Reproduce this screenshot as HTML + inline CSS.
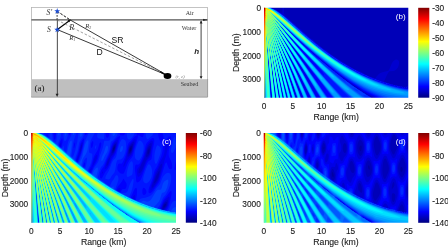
<!DOCTYPE html><html><head><meta charset="utf-8"><title>Lloyd mirror figure</title><style>html,body{margin:0;padding:0;background:#fff}svg{display:block}text{font-family:"Liberation Sans",Arial,sans-serif}.s text{font-family:"Liberation Serif","Times New Roman",serif}</style></head><body><svg width="448" height="252" viewBox="0 0 448 252"><defs><linearGradient id="jetg" x1="0" y1="0" x2="0" y2="1"><stop offset="0.0000" stop-color="#800000"/><stop offset="0.0312" stop-color="#9f0000"/><stop offset="0.0625" stop-color="#bf0000"/><stop offset="0.0938" stop-color="#df0000"/><stop offset="0.1250" stop-color="#f00"/><stop offset="0.1562" stop-color="#ff2000"/><stop offset="0.1875" stop-color="#ff4000"/><stop offset="0.2188" stop-color="#ff6000"/><stop offset="0.2500" stop-color="#ff8000"/><stop offset="0.2812" stop-color="#ff9f00"/><stop offset="0.3125" stop-color="#ffbf00"/><stop offset="0.3438" stop-color="#ffdf00"/><stop offset="0.3750" stop-color="#ff0"/><stop offset="0.4062" stop-color="#dfff20"/><stop offset="0.4375" stop-color="#bfff40"/><stop offset="0.4688" stop-color="#9fff60"/><stop offset="0.5000" stop-color="#80ff80"/><stop offset="0.5312" stop-color="#60ff9f"/><stop offset="0.5625" stop-color="#40ffbf"/><stop offset="0.5938" stop-color="#20ffdf"/><stop offset="0.6250" stop-color="#0ff"/><stop offset="0.6562" stop-color="#00dfff"/><stop offset="0.6875" stop-color="#00bfff"/><stop offset="0.7188" stop-color="#009fff"/><stop offset="0.7500" stop-color="#0080ff"/><stop offset="0.7812" stop-color="#0060ff"/><stop offset="0.8125" stop-color="#0040ff"/><stop offset="0.8438" stop-color="#0020ff"/><stop offset="0.8750" stop-color="#00f"/><stop offset="0.9062" stop-color="#0000df"/><stop offset="0.9375" stop-color="#0000bf"/><stop offset="0.9688" stop-color="#00009f"/><stop offset="1.0000" stop-color="#000080"/></linearGradient><linearGradient id="strip" x1="0" y1="0" x2="0" y2="1"><stop offset="0.00" stop-color="#9e0000" stop-opacity="1.00"/><stop offset="0.04" stop-color="#e50000" stop-opacity="1.00"/><stop offset="0.12" stop-color="#ff3800" stop-opacity="1.00"/><stop offset="0.25" stop-color="#ff8a00" stop-opacity="0.95"/><stop offset="0.45" stop-color="#ffc700" stop-opacity="0.85"/><stop offset="0.70" stop-color="#faff05" stop-opacity="0.70"/><stop offset="1.00" stop-color="#b3ff4c" stop-opacity="0.50"/></linearGradient></defs><rect width="448" height="252" fill="#fff"/><rect x="31.4" y="7.4" width="176.2" height="89.5" fill="#fff" stroke="#b4b4b4" stroke-width="0.8"/><rect x="31.8" y="79.2" width="175.4" height="17.5" fill="#bfbfbf"/><path d="M31.4 97H207.6V79" fill="none" stroke="#9a9a9a" stroke-width="0.9"/><path d="M31.4 19.9H207.6" stroke="#555" stroke-width="1.3"/><path d="M57.35 20V95" stroke="#333" stroke-width="0.9"/><path d="M57.1 12V20" stroke="#222" stroke-width="0.9" stroke-dasharray="1.8 1.2"/><path d="M55.6 93.8L57.1 96.9L58.6 93.8z" fill="#222"/><path d="M201.1 21V78" stroke="#444" stroke-width="1"/><path d="M199.7 23.4L201.1 20.4L202.5 23.4z" fill="#222"/><path d="M199.7 76.2L201.1 79.1L202.5 76.2z" fill="#222"/><path d="M203 19.9H207" stroke="#222" stroke-width="0.9"/><path d="M203.2 18.8L205.6 19.9L203.2 21z" fill="#222"/><path d="M57.1 11.2L70.3 20" stroke="#111" stroke-width="1" stroke-dasharray="2.6 1.4"/><path d="M57.1 29.8L70.3 20" stroke="#000" stroke-width="1.1"/><path d="M70.9 19.4L67.6 20.2L69.2 22.3z" fill="#111"/><path d="M70.3 20L163.2 73" stroke="#222" stroke-width="0.9"/><path d="M57.1 29.5L163.2 73.6" stroke="#222" stroke-width="0.9"/><path d="M57.1 20L163 73.3" stroke="#777" stroke-width="0.7" stroke-dasharray="2.6 1.8"/><path d="M160 71.6L166 75" stroke="#111" stroke-width="1.6"/><ellipse cx="167.5" cy="76" rx="3.9" ry="2.9" fill="#000"/><path d="M57.20 8.10L57.93 10.19L60.15 10.24L58.39 11.59L59.02 13.71L57.20 12.45L55.38 13.71L56.01 11.59L54.25 10.24L56.47 10.19z" fill="#1a4bd2"/><path d="M57.20 26.70L57.93 28.79L60.15 28.84L58.39 30.19L59.02 32.31L57.20 31.05L55.38 32.31L56.01 30.19L54.25 28.84L56.47 28.79z" fill="#1a4bd2"/><g class="s" fill="#333"><text x="46.6" y="14.6" font-size="7.6" font-style="italic">S'</text><text x="47.0" y="32.2" font-size="7.6" font-style="italic">S</text><text x="69.2" y="30.4" font-size="8.2" font-style="italic">R</text><text x="85.2" y="28.2" font-size="6.6" font-style="italic">R<tspan font-size="3.8" dy="1">2</tspan></text><text x="69.2" y="39.8" font-size="6.6" font-style="italic">R<tspan font-size="3.8" dy="1">1</tspan></text><text x="185.7" y="14.7" font-size="6">Air</text><text x="181.7" y="29.7" font-size="6.2">Water</text><text x="180.7" y="86" font-size="6.1">Seabed</text><text x="175.4" y="77.6" font-size="5" fill="#808080" font-style="italic">(r, z)</text><text x="34.6" y="91.0" font-size="9" fill="#111">(a)</text></g><text x="111.6" y="43.4" font-size="8.6" fill="#111">SR</text><text x="96.6" y="55.2" font-size="8.6" fill="#111">D</text><text x="194.2" y="53.6" font-size="8" font-style="italic" font-weight="bold" fill="#222">h</text><rect x="263.50" y="7.30" width="145.30" height="90.90" fill="#00008b"/><g transform="translate(264.00 7.80) scale(0.033172 0.033296)" fill-rule="evenodd"><path fill="#0000a2" d="M-5 -15l4370 0 0 2730-4380 0 0-2730z"/><path fill="#0000b8" d="M-5 -15l4370 0 0 2730-4380 0 0-2730z"/><path fill="#0000cf" d="M-5 -15l248 0 0 20 82 23 127 87 60 30 23 4 14-4 4-10 1-150 52 0-5 190 7 20 27 40 49 50 91 67 30 33 57 50 73 49 49 61 48 50 81 50 56 60 66 60 50 36 79 84 55 40 56 27 76 83 62 50 52 34 80 76 74 50 76 37 70 73 64 50 136 83 121 87 159 89 179 121 116 60 155 63 163 97 105 50 113 40 59 14 20-3 14-11 85-100 41-27 72-33 157-40 31-14 25-36 75-180 33-50 27-25 40-26 40-8 41 9 29 35 8 55-14 80-19 50-15 25-30 39-50 32-50 16-110 11-20 12-46 75-99 210 3 10 16 10 133 50 133 33 49 17 150 30 141 16 80-24 40-3 0 371-1087 0 0-20-111-50-22-4 10 14 10 0 10 10 10 0 30 20 10 0 10 10 0 20-3250 0 0-2730zM1765 1615l0 10 10 0-10-11zM1825 1665l0 11 13-1-13-13zM1864 1705l11 11 13-1-23-19zM2085 1885l10 10 9 0-19-17zM2135 1925l30 30 14 0-44-37zM2195 1975l10 10 13 0-23-17zM2285 2045l20 20 17 0-37-27zM2325 2075l20 21 10 0 40 40 10 0 30 30 19-1-73-60-56-38zM3204 2105l11 4 0-5-10 1zM2455 2175l20 20 18 0-38-29zM2495 2205l10 10 9 0-19-18zM3750 2295l15 3 0-4-10 1zM3787 2305l18 3 0-4-10 0zM2645 2315l20 20 10 0 20 20 10 0 20 21 10 0 20 20 10 0 20 20 10 0 30 30 10 0 20 20 10-1 20 20 15 0-6-10-60-50-75-50-114-67zM3825 2315l20 6 0-7-10 0zM3853 2325l22 4 1-4-21 0zM3895 2335l20 3 0-3zM3941 2345l24 3 1-3-21 0zM4099 2375l16 2 0-3-10 1z"/><path fill="#0000e6" d="M-5 -15l207 0 0 20 103 35 90 50 98 65 84 60 188 158 184 162 61 60 378 330 333 270 283 210 161 110 170 110 266 160 207 110 224 110 133 60 256 100 326 110 138 34 44 16 226 44 57 16-47 9-10-13-30 3-10-17-50 8-10-15-40 4-10-14-30 4-10-16-40 6-10-14-30 4-10-12-20 1-10-13-30 4-10-14-30 4-10-13-40 4 110 32 255 58 185 31 90 10 0 289-1019 0 0-20-211-100-93-50-87-57-83-63-236-150-86-60-143-110-140-100-281-220-441-369-2 9 62 63 10-1 60 61 10-1 60 61 10-1 8 8 2 13 10-1 30 31 10-1 7 8 3 13 10 0 40 40 10 0 50 49 10 0 8 8 2 12 10 0 30 30 10 0 50 50 10 0 40 40 10 0 50 50 10 0 30 30 10 0 40 40 10 0 40 40 10 0 30 31 10-1 40 41 10-1 30 30 10 0 30 30 10 0 30 30 10 0 20 20 10 0 30 30 10 0 30 30 10 0 30 30 10 0 20 20 10 0 20 20 10 0 20 21 10-1 20 21 10-1 30 31 10-1 20 20 10 0 20 20 10 0 20 20 10 0 10 10 10 0 30 30 10-1 10 10 10 0 10 10 10 0 30 31 10 0 10 10 10 0 10 10 10 0 20 20 10 0 20 20 10 0 10 10 10 0 30 20 10 0 8 8 0 20-2077 0-1-26-20-42-4 18 6 50-151 0-1-26-20-56-10-19-10-6 16 107-125 0-1-25-10-33-20-54-9-8-1-11 19 131-108 0-1-25-30-99-5 4 0 10 14 110-98 0-1-29-20-79-7 8 11 100-97 0-7-70-10-39-3 19 7 90-100 0-4-70-10-63-8-17-2-32 0 74 10 108-109 0-11-142-20-185-7-23-3-58 0 101 19 307-229 0 0-2730zM602 545l3 3 3-3-3-4zM612 555l3 3 3-3-3-3zM652 595l3 3 3-3-3-5zM662 605l3 3 4-3-4-3zM712 655l3 3 4-3-4-6zM761 705l4 4 5-4-5-9zM962 895l3 3 5-3-5-5zM972 905l3 3 7-3-7-6zM981 915l4 4 8-4-8-7zM992 925l3 3 5-3-5-8zM1002 935l3 3 6-3-6-6zM1012 945l3 3 8-3-8-7zM1022 955l3 3 10-3-10-8zM1044 965l-2 10 3 3 8-3-8-11zM1052 985l3 3 11-3-11-9zM1102 1025l3 3 7-3-7-6zM1122 1045l3 3 6-3-6-5zM1132 1055l3 3 8-3-8-6zM1141 1065l24 23 8-3-28-28zM1172 1095l3 3 9-3-9-8zM1182 1105l13 13 12-3-22-19zM1213 1125l2 13 12-3-12-13zM1262 1175l23 23 10-3-30-28zM1292 1205l23 23 15-3-35-30zM1333 1235l2 13 14-3-14-15zM1372 1275l53 54 19-4-69-59zM1814 1315l11 6 0-8-10 2zM1442 1335l83 83 19-3-99-89zM1982 1435l13 8 0-10-10 1zM2013 1455l22 17 2-7-12-12-10 1zM2054 1485l11 6 2-6-12 0zM2113 1525l12 7 0-9-10 1zM2145 1545l10 6 2-6zM2204 1585l11 6 0-8-10 2zM2221 1595l14 8 0-10-10 1zM2254 1615l21 15 2-5-12-12-10 2zM2282 1635l13 7 0-9-10 1zM2334 1665l11 9 0-11-10 2zM2363 1685l12 6 0-8-10 2zM2381 1695l14 7 0-9-10 1zM2435 1725l10 8 0-10zM2465 1745l10 5 1-5zM2483 1755l12 6 0-8-10 2zM2501 1765l14 7 0-9-10 1zM2519 1775l26 17 2-7-12-12-10 1zM2550 1795l15 7 0-9-10 1zM2569 1805l16 8 0-11-10 2zM2588 1815l17 9 0-12-10 2zM2607 1825l18 9 0-12-10 2zM2626 1835l29 17 2-7-12-13-10 1zM2659 1855l16 7 0-9-10 1zM584 1865l1 14 3-4-3-20zM2679 1865l16 7 0-9-10 1zM2699 1875l16 7 0-9-10 1zM590 1885l5 33 20 61 0-29-20-70zM2720 1885l25 15 1-5-11-12-10 1zM2754 1905l11 5 1-5-11 0zM714 1915l1 30 30 80 0-30-30-80zM2775 1915l20 9 0-12-10 2zM2797 1925l18 8 0-10-10 1zM2818 1935l27 15 1-5-11-12-10 1zM2854 1955l11 4 1-4-11 0zM2876 1965l19 8 0-10-10 1zM2898 1975l17 7 0-9-10 1zM2920 1985l15 6 0-8-10 1zM2942 1995l13 8 0-10-10 2zM2957 2005l18 7 0-9-10 1zM2980 2015l15 6 0-8-10 1zM3002 2025l23 10 0-13-20 3zM3025 2035l20 8 0-11-10 2zM3049 2045l36 18 0-10-10 1-10-11-10 1zM3089 2065l16 6 0-8-10 1zM544 2075l11 72 18 58 2 20 3-10-3-37-30-109zM3113 2075l22 9 2-9-22 0zM3138 2085l17 6 0-8-10 1zM3163 2095l22 8 2-8-22 0zM3189 2105l36 16 1-6-11-13-20 2zM661 2125l14 73 30 89 0-36-10-45-30-90zM3233 2125l22 7 2-7-22 0zM3261 2135l24 8 0-11-20 3zM795 2145l0 31 10 36 30 73 0-30-20-64zM3289 2145l26 9 0-12-20 2zM3317 2155l18 9 0-11-10 1zM943 2165l2 26 10 33 20 43 10 8-1-20-9-33-10-28-20-34zM3336 2165l19 6 0-7-10 0zM3365 2175l20 6 1-6zM3394 2185l21 6 1-6-21 0zM3424 2195l21 6 1-6-21 0zM3454 2205l41 16 0-7-10 0-10-11-20 2zM3505 2225l30 9 0-12-20 2zM3536 2235l29 9 0-12-20 2zM3568 2245l27 8 0-11-20 2zM3600 2255l85 28 0-10-10 1-10-12-20 2-10-13-30 4zM3690 2285l35 10 0-14-30 4zM401 2315l4 53 6-3-6-57zM504 2325l1 49 30 130 0-39-30-143zM612 2345l3 53 10 49 30 103 0-46-10-53-30-108zM731 2365l4 41 20 81 20 58 10 16 0-22-20-94-30-89zM875 2375l-4 10 4 36 20 70 20 44 6-10-6-38-20-67zM1032 2395l3 30 20 62 10 18 10 8 0-34-10-34-10-27-20-29zM4225 2386l47 9-47 9-8-9zM4285 2396l53 9-53 10-9-10z"/><path fill="#0000fc" d="M-5 -15l193 0 0 20 107 38 100 55 85 57 83 60 191 160 244 220 377 330 334 270 370 270 243 160 182 110 195 110 194 100 236 110 145 60 271 100 150 44 39 16 227 60-36 8-10-17-30 6-10-13-20 3-10-16-30 6-10-16-30 7-10-16-30 6-10-15-30 5-10-12-10 1-10-13-20 3-10-15-30 6-10-14-20 4-10-14-20 3-10-14-30 5-10-11-10 1-10-13-20 3-10-13-20 3-10-13-20 3-10-12-20 2-10-11-10 1-10-12-10 1-10-13-20 4-10-13-20 3-10-13-20 3-20-24-20 4-10-13-20 3-10-12-10 1-10-12-20 3-10-12-10 2-10-12-10 1-10-11-10 2-10-13-10 2-10-12-20 3-10-12-10 2-10-12-10 2-10-12-10 2-10-12-10 2-10-12-10 1-10-12-29 5 188 90 141 61 261 99 180 60 179 53 239 57 278 50 33 2 0 278-965 0 0-20-305-148-105-62-86-60-328-210-289-210-286-220-329-270-314-270-313-285-6 15 10 10 6 6 10-1 130 131 10-1 10 21 10-1 90 91 10-1 10 21 10-1 80 81 10-1 90 90 10 0 70 70 10 0 60 60 10 0 60 60 10 0 10 20 10 0 30 30 10 0 10 20 10 0 40 40 10 0 50 50 10-1 10 21 10-1 30 30 10 0 50 51 10-1 40 41 10-1 50 50 10 0 30 30 10 0 40 40 10 0 40 40 10 0 30 30 10 0 40 40 10 0 30 30 10 0 30 30 10 0 30 30 10 0 20 20 10 0 30 30 10 0 30 30 10 0 30 30 10 0 20 20 10 0 20 20 10 0 20 20 10 0 20 20 10 0 30 30 10 0 20 20 10 0 20 20 10 0 20 20 10 0 10 10 10 0 30 30 10 0 10 10 10-1 10 11 10-1 30 31 10 0 10 10 10 0 10 10 10 0 20 20 10 0 20 20 10 0 10 10 10 0 10 10 10 0 10 10 10 0 6 6 0 20-1558 0 0-20-28-50-66-100-64-121-86-139-74-132-65-98-45-79-160-254-65-97-35-61-315-479-115-184-6 4 6 14 30 52 67 104 3 11 129 209 61 110 34 50 163 270 222 380 61 115 87 145 63 121 95 159 24 50 0 20-195 0 0-20-24-52-350-708-200-378-87-152-33-69-75-131-105-197-3 7 3 13 30 62 214 415 293 600 219 480 47 110 0 20-151 0 0-20-22-59-270-659-210-473-170-364-5 5 5 18 55 122 5 20 17 30 103 250 16 30 200 490 199 530 21 60 0 20-124 0-2-26-200-584-140-382-150-390-36-78-4-21-8 1 8 28 8 12 42 131 76 199 189 550 150 470 21 70 0 20-107 0 0-20-159-545-170-542-40-122-7-11-3-20-18-40-12-47-4 7 4 26 17 44 23 91 75 239 171 600 80 300 4 40-95 0-5-47-130-518-58-205-42-174-27-86-23-94-8-16-22-95-8-15-2-23-6 3 6 36 8 14 2 26 15 44 25 116 76 294 54 241 15 49 99 430 0 20-89 0-5-52-36-158-24-128-37-152-23-124-85-366-5-38-6-12-4-33-7-17-3-30-6-10-4-34-7-16-3-26-5-4-5-41 0 45 7 16 3 30 7 20 23 124 7 16 3 32 18 68 42 231 46 209 24 141 46 219 12 90-85 0-3-44-37-186-33-212-37-188-53-315-6-15-4-40-7-20-3-34-7-16-3-39-7-11-3-43 0 55 5 8 5 55 6 15 14 108 7 22 3 38 7 22 3 38 35 192 25 178 56 332 12 100-87 0-1-36-37-244-73-549-17-91-3-48-6-12-4-57-6-13-4-60 0 74 6 16 14 150 7 30 13 136 85 684 0 20-99 0-76-830-17-140-3-66-7-34-3-70 0 124 5 26 68 990-223 0 0-2730zM401 345l4 4 3-4-3-3zM440 385l5 5 3-5-3-5zM450 395l5 5 4-5-4-4zM490 435l5 5 4-5-4-5zM500 445l5 5 4-5-4-4zM550 495l5 5 5-5-5-7zM599 545l16 16 6-6-16-18zM649 595l16 16 7-6-17-19zM713 645l-4 10 6 6 8-6-8-11zM761 695l-3 10 7 7 10-7-10-12zM1085 725l10 8 0-11zM800 735l5 5 3-5-3-3zM809 745l6 6 4-6-4-4zM819 755l6 6 5-6-5-5zM840 775l5 5 3-5-3-3zM850 785l5 5 4-5-4-4zM1154 785l11 8 0-11-10 3zM583 795l2 12 4-2-4-10zM859 795l26 25 4-5-24-25zM598 825l7 11 9-1-9-11zM890 825l135 136 15-6-145-134zM613 845l2 3 5-3-5-9zM1224 845l11 8 0-11-10 3zM622 855l13 22 5-2-15-25zM533 875l2 10 8 0-8-12zM543 895l2 5 3-5-3-10zM657 905l8 12 6-2-6-11zM678 935l217 311 195 259 46 70 114 150 45 67 78 93 82 120 30 28 13 2-8-40-15-28-60-82-37-40-83-127-37-43-83-114-203-256-87-120-44-50-96-130-60-72zM1354 955l11 8 0-11-10 3zM512 995l3 12 6-2-6-13zM1415 1005l10 7 3-7zM1463 1045l12 9 0-12-10 2zM1502 1075l13 13 3-13-13-1zM1524 1095l11 8 0-11-10 3zM484 1105l1 10 6 0-6-18zM493 1125l2 15 5-5-5-19zM1564 1125l21 19 3-9-13-13-10 3zM1614 1165l11 8 0-11-10 3zM442 1185l3 22 3-2-3-22zM1641 1185l14 14 3-14-3-3-10 2zM1664 1205l11 8 0-11-10 3zM1691 1225l34 27 3-7-23-23-10 2zM1742 1265l13 9 0-12-10 2zM1771 1285l14 10 3-10-3-3-10 2zM1785 1295l20 17 2-7-12-13zM1809 1315l26 17 3-7-13-13-10 1zM418 1335l7 32 6-2-6-30zM1853 1345l22 18 3-8-13-13-10 2zM362 1375l3 31 5-1-5-36zM1892 1375l13 8 0-11-10 2zM1922 1395l23 19 3-9-13-13-10 2zM372 1415l3 27 4-7-4-29zM1962 1425l13 9 0-12-10 2zM1977 1435l28 18 3-8-13-14-10 2zM2007 1455l38 28 3-8-23-24-10 2zM2049 1485l26 17 2-7-12-14-10 2zM2080 1505l25 19 3-9-13-13-10 2zM2107 1525l28 18 2-8-12-14-10 2zM2139 1545l26 16 2-6-12-14-10 2zM2171 1565l24 18 3-8-13-13-10 2zM2198 1585l47 28 3-8-13-14-10 1-10-11-10 2zM2247 1615l28 20 3-10-13-14-10 2zM2275 1635l30 17 2-7-12-14-10 2zM2310 1655l15 9 0-12-10 2zM2327 1665l28 19 3-9-13-14-10 2zM2356 1685l49 27 2-7-12-14-10 2-10-12-10 2zM2409 1715l16 9 0-12-10 2zM2427 1725l28 19 3-9-13-13-10 1zM2457 1745l18 10 0-13-10 1zM2475 1755l270 150 3-10-13-14-10 2-10-12-10 1-10-11-10 1-10-11-10 1-20-22-10 2-10-12-10 2-10-12-10 2-10-11-10 1-10-11-10 2-20-22-10 1-10-11-10 2-10-12-10 2zM2745 1905l20 9 0-12-10 1zM2766 1915l99 50 0-13-10 1-20-22-10 1-10-12-10 2-10-12-20 4zM1563 2125l14 40 38 48 10-7-1-11-17-40-22-24-20-9zM3975 2337l80 18-40 8-10-17-30 6-7-7zM4065 2356l40 9-40 8-7-8zM4125 2367l72 18-32 7-10-15-30 5-7-7zM4225 2388l32 7-32 8-7-8zM4285 2397l38 8-38 8-7-8z"/><path fill="#0014ff" d="M-5 -15l50 0 0 20 0-20 134 0 0 20 111 40 105 58 76 52 82 60 192 160 551 490 327 270 142 110 218 160 330 220 267 160 304 160 236 110 145 60 270 100-30 7-10-12-10 1-10-13-20 4-10-14-20 4-10-14-20 4-10-14-20 4-10-12-10 1-10-12-10 2-10-15-20 5-10-14-20 4-10-13-20 4-20-25-20 4-10-13-20 4-10-13-10 2-10-13-20 4-10-13-10 2-10-11-10 1-10-12-10 2-10-13-10 2-10-13-20 5-10-13-10 2-10-11-10 1-10-12-10 2-10-12-10 2-10-12-10 2-10-13-20 4-10-12-10 2-20-23-10 2-10-13-10 2-10-12-20 4-10-12-10 2-20-23-10 2-10-12-10 2-10-12-10 2-10-12-10 2-20-23-10 2-10-12-10 2-10-12-10 2-10-11-10 2-10-12-10 2-20-22-10 2-10-12-10 2-10-12-10 2-10-11-10 2-20-22-10 2-10-12-10 2-20-23-10 2-10-11-10 2-20-22-10 2-10-12-10 2-20-23-10 2-20-21-10 2-20-23-10 2-10-11-10 2-20-22-10 2-20-22-10 2-20-22-10 1-20-21-10 2-20-22-10 2-30-32-10 1-20-22-10 2-10-11-19 5 296 200 273 165 288 155 229 110 143 62 260 100 180 61 220 65 210 50 220 42 90 11 0 269-907 0 0-20-320-150-109-60-427-270-295-210-290-220-334-270-318-270-301-270-293-280-26-23-9 3 19 20 1 10 9 9 10 1 250 249 10 0 1 11 19 19 10 0 130 130 10 0 1 11 9 9 10-1 90 91 10-1 1 12 9 9 10-1 80 81 10-1 90 90 10 0 70 70 10 0 60 60 10-1 60 60 10 0 3 13 7 7 10 0 30 30 10 0 3 13 7 7 10 0 40 40 10 0 50 50 10 0 3 13 7 7 10-1 30 31 10-1 50 51 10-1 40 41 10-1 50 50 10 0 30 30 10 0 40 40 10 0 40 40 10 0 30 30 10 0 40 40 10 0 30 30 10 0 30 30 10 0 30 30 10 0 20 20 10 0 30 30 10 0 30 30 10 0 30 30 10 0 20 20 10 0 20 20 10 0 20 20 10 0 20 20 10 0 30 30 10 0 20 20 10 0 20 20 10 0 20 20 10 0 10 10 10 0 30 30 10 0 10 10 10 0 10 10 10 0 30 30 10 0 10 10 10 0 10 10 10 0 20 20 10 0 20 20 10 0 10 10 10 0 10 10 10 0 10 10 14 4 0 20-1171 0 0-20-118-150-291-390-800-1020-404-533-7 3 7 11 247 349 3 10 658 910 422 603 115 157 34 50 0 20-232 0 0-20-357-590-350-550-476-730-84-137-4 7 3 10 11 20 505 840 308 530 305 550 26 50 0 20-171 0 0-20-24-50-329-662-220-415-300-551-27-42-33-67-27-43-33-70-3 10 3 14 325 636 311 640 248 550 21 50 0 20-137 0 0-20-19-50-109-274-160-381-240-537-225-478-5-19-18-31-12-33-8 3 8 21 234 539 263 640 205 550 17 50 0 20-113 0 0-20-16-51-230-660-200-530-168-419-12-40-8-10-12-41-10 1 8 10 2 18 16 32 24 77 16 33 4 22 17 38 159 440 168 490 172 540 15 50 0 20-99 0-2-31-170-577-170-538-87-254-3-21-16-39-4-22-16-38-4-22-17-38-23-82-6 2 6 31 16 39 4 25 96 305 191 650 148 540 12 50 0 20-87 0 0-20-150-594-160-597-27-89-3-21-28-89-2-21-15-39-5-32-6-8-4-29-4 9 4 33 5 7 5 33 26 87 4 30 36 130 4 27 115 453 141 600 20 90 4 40-80 0 0-20-140-652-116-508-4-30-27-100-3-31-6-9-4-34-7-16-3-30-7-10-3-31-6 1 6 43 5 7 15 91 5 9 5 39 6 11 44 231 36 159 149 750 20 110 0 20-79 0-6-58-60-343-130-721-7-18-3-36-6-14-4-41-17-69-3-39-6-11-4-43-5 3 5 56 6 14 4 46 6 14 4 46 195 1194 0 20-81 0-4-54-130-935-36-231-4-53-6-17-4-53-7-17-3-54 0 74 7 20 3 60 7 30 3 53 7 27 3 55 131 1075 0 20-90 0-121-1287-6-23-4-82-6-18-4-86 0 111 6 35 4 107 89 1243-219 0 0-2730zM320 265l5 6 3-6-3-3zM350 295l5 5 3-5-3-3zM360 305l5 5 4-5-4-4zM389 335l6 6 4-6-4-4zM399 345l6 6 5-6-5-4zM645 345l10 7 3-7-3-3zM438 385l17 17 6-7-16-17zM704 395l11 9 3-9-3-3-10 2zM717 405l8 7 3-7-3-3zM487 435l18 17 6-7-16-18zM774 455l11 9 3-9-3-4-10 3zM786 465l9 7 3-7-3-3zM554 485l-7 10 8 8 7-8-7-10zM843 515l22 18 3-8-13-14-10 3zM478 535l7 12 8-2-8-11zM598 535l-2 10 19 19 9-9-19-21zM876 545l9 7 3-7-3-3zM502 565l113 142 126 148 4 10 468 540 341 380 99 100 51 60 61 60 40 26 7-6-20-50-25-40-40-50-92-97-50-63-607-640-473-527zM420 575l15 27 3-7-3-10-10-12zM647 585l-1 10 19 19 10-9-20-22zM924 585l11 12 3-12-3-4-10 4zM944 605l11 8 3-8-3-4-10 4zM957 615l8 7 3-7-3-3zM382 625l3 12 3-2-3-10zM696 635l9 9 3-9-3-3zM393 645l2 12 5-2-5-14zM706 645l0 10 9 9 10-2 1-7-11-14zM993 645l12 14 4-14-4-4-10 3zM1013 665l22 18 4-8-14-14-10 3zM406 675l9 13 6-3-6-12zM1037 685l8 6 3-6-3-3zM1082 725l23 19 4-9-14-14-10 3zM382 745l3 14 5-4-5-13zM1106 745l9 7 3-7-3-3zM391 765l4 13 5-3-5-16zM1127 765l8 7 3-7-3-3zM401 785l4 13 10-3-10-15zM1151 785l44 39 4-9-34-34-10 2zM1196 825l9 7 3-7-3-3zM363 835l2 11 5-1-5-17zM1221 845l44 38 3-8-33-34-10 2zM373 855l2 15 3-5-3-17zM380 875l5 18 3-8-3-13zM333 895l2 21 4-1-4-22zM1292 905l43 37 3-7-33-34-10 3zM1351 955l44 37 3-7-33-34-10 2zM313 995l2 23 3-3-3-22zM1411 1005l24 18 3-8-13-14-10 2zM322 1025l3 27 3-7-3-23zM1446 1035l9 7 3-7-3-3zM1459 1045l36 28 3-8-23-25-10 3zM1498 1075l17 16 4-16-4-5-10 2zM1520 1095l25 19 4-9-14-14-10 2zM294 1105l1 35 3-5-3-30zM1560 1125l35 29 4-9-10-10-14-14-10 2zM301 1145l4 32 8-2-8-32zM1609 1165l26 19 3-9-13-14-10 2zM1637 1185l18 17 4-17-4-5-10 2zM262 1205l3 39 4-9-4-34zM1659 1205l26 19 3-9-13-14-10 2zM1687 1225l48 38 3-8-33-35-10 2zM1738 1265l27 19 4-9-14-15-10 3zM223 1275l2 46 4-6-4-48zM1766 1285l79 58 3-8-23-25-10 2-30-32-10 2zM1848 1345l37 29 3-9-23-24-10 2zM1887 1375l28 19 3-9-13-15-10 3zM1917 1395l38 29 3-9-9-10-14-15-10 3zM3545 2217l22 8-22 6-5-6zM3575 2227l58 18-28 6-10-15-20 5-5-6zM3645 2248l80 27-30 7-10-13-10 2-10-15-20 4-5-5zM3735 2277l27 8-27 6-6-6zM3775 2288l25 7-25 6-5-6zM3815 2298l25 7-25 6-5-6zM3855 2308l53 17-23 6-10-14-20 4-5-6zM3925 2328l27 7-27 6-6-6zM3975 2339l23 6-23 6-5-6zM4015 2348l31 7-31 7-6-7zM4065 2358l31 7-31 7-6-7zM4125 2369l25 6-25 6-5-6zM4165 2378l22 7-22 6-5-6zM4225 2389l23 6-23 6-5-6zM4285 2399l28 6-28 6-6-6z"/><path fill="#002aff" d="M-5 -15l49 0 1 21 1-21 125 0 0 20 111 40 103 57 78 53 144 110 130 110 494 440 322 270 204 160 149 110 156 110 182 120-19 4-10-11-10 2-20-21-10 2-20-23-10 2-20-22-10 2-20-22-10 3-20-23-10 2-30-32-10 2-20-22-10 2-10-11-10 2-30-32-10 2-20-22-10 2-30-32-10 2-30-33-10 2-30-31-10 2-20-22-10 2-40-42-10 2-20-22-10 3-10-23-10 2-20-22-10 3-40-43-10 3-30-33-10 3-10-23-10 2-30-32-10 2-40-42-17 6 157 130 287 220 227 160 246 160 190 114 287 156 228 110 136 60 254 100 335 111 224 59 246 52 140 19 0 259-841 0 0-20-335-150-118-60-85-50-357-220-231-160-365-270-265-210-207-170-369-320-295-270-288-280-44-37-7-13-43-34-20-26-10-5-4 5 4 10 420 430 341 330 227 210 128 110 54 40 30 0 60 60 10-1 0 11 10 10 10-1 30 30 10 0 1 11 9 9 10 0 40 40 10 0 50 50 10 0 1 11 9 9 10 0 30 30 10 0 50 50 10-1 40 41 10-1 50 50 10 0 30 30 10 0 40 40 10 0 40 40 10 0 30 30 10 0 40 40 10 0 30 30 10 0 30 30 10 0 30 30 10 0 20 20 10 0 30 30 10 0 30 30 10 0 30 30 10 0 20 20 10 0 20 20 10 0 20 20 10 0 20 20 10 0 30 30 10 0 20 20 10 0 20 20 10 0 20 20 10 0 10 10 10 0 30 30 10 0 30 20 10 0 30 30 10 0 30 20 10 0 20 20 10 0 20 20 10 0 10 10 10 0 10 10 10 0 10 10 12 2 0 20-655 0 0-20-223-210-55-60-214-210-103-110-321-320-369-380-449-480-473-531-6 1 6 10 170 210 299 360 232 270 476 540 388 430 250 270 204 210 0 20-303 0 0-20-1351-1720-375-502-8 2 18 30 250 361 695 969 378 540 220 320 0 20-207 0 0-20-366-599-340-531-387-590-263-416 0 16 10 19 675 1131 219 380 322 590 0 20-157 0 0-20-29-60-320-640-230-433-324-587-156-293-7 3 7 21 406 799 239 490 267 590 47 110 0 20-126 0 0-20-64-160-228-550-191-427-360-778-5 5 15 43 225 517 269 650 223 590 39 110 0 20-106 0 0-20-110-325-159-445-221-579-86-211-114-297-4 7 4 22 17 38 23 72 17 38 199 550 148 430 190 590 34 110 0 20-93 0 0-20-15-55-160-540-170-538-210-634-4 7 3 20 7 10 4 27 7 13 23 86 96 304 208 710 161 590 0 20-83 0 0-20-12-50-140-550-190-706-87-304-3-22-6-8-4-30-7-10-3-23-4 3 4 32 16 48 4 31 6 9 4 32 26 88 4 28 185 732 150 640 13 60 0 20-76 0-2-29-140-651-130-581-47-189-3-30-27-100-3-30-4 10 4 40 6 10 4 37 6 13 4 35 6 15 118 570 169 860 0 20-74 0-9-70-60-341-170-936-6-13-4-41-16-69-4-40-6-10-4-44-4 4 4 54 6 16 4 44 6 16 4 44 6 16 216 1350 0 20-76 0-6-71-100-716-77-523-13-117-7-23-3-47-6-13-4-57-3 7 3 69 5 11 5 72 6 18 163 1370 0 20-86 0-143-1519-7-31-3-75-4 15 4 115 106 1495-216 0 0-2730zM202 155l3 4 3-4-3-3zM397 155l8 7 3-7-3-3zM408 165l7 5 3-5-3-3zM221 175l4 3 3-3-3-3zM438 185l7 5 3-5-3-3zM468 205l7 5 3-5-3-3zM506 235l9 7 4-7-4-4zM309 255l6 5 3-5-3-3zM533 255l22 19 3-9-13-14-10 3zM319 265l6 8 4-8-4-4zM556 275l9 7 3-7-3-3zM338 285l7 6 3-6-3-3zM348 295l17 17 5-7-15-14zM595 305l10 7 4-7-4-4zM377 325l28 28 10 4-4-12-26-25zM617 325l8 6 3-6-3-3zM642 345l23 18 4-8-14-14-10 3zM668 365l7 6 3-6-3-3zM344 375l1 3 3-3-3-4zM433 375l3 10 29 24 3-4-6-10-17-19-10-3zM701 395l34 27 4-7-24-25-10 3zM470 415l5 4 5-4-5-3zM322 435l3 11 5-1-5-11zM747 435l8 7 3-7-3-3zM771 455l34 28 4-8-24-25-10 3zM808 485l7 9 3-9-3-3zM816 495l9 7 4-7-4-3zM840 515l55 48 4-8-44-45-10 3zM321 525l4 15 4-5-4-11zM331 545l4 12 6-2-6-13zM897 565l8 6 3-6-3-3zM921 585l14 15 5-15-5-5-10 3zM942 605l33 28 4-8-24-25-10 3zM978 635l7 6 3-6-3-3zM330 645l15 38 4-8-14-32zM990 645l15 16 5-16-5-5-10 3zM1010 665l65 57 3-7-53-55-10 3zM1079 725l66 58 4-8-54-55-10 2zM317 735l18 45 5-5-15-41zM1148 785l67 58 4-8-54-56-10 3zM293 795l2 17 4-7-4-19zM300 815l5 23 6-3-6-22zM1218 845l67 57 3-7-53-56-10 3zM283 905l2 23 5-3-5-29zM1289 905l56 48 4-8-44-46-10 3zM253 955l2 34 3-4-3-31zM1347 955l58 48 4-8-44-46-10 3zM232 1065l3 41 9-1-6-10-3-33zM193 1105l2 45 4-5-4-48zM2245 1586l60 39-20 5-20-22-10 2-14-15zM2305 1625l98 60-18 4-10-11-10 2-20-22-10 2-10-11-10 2-14-16zM2405 1686l118 69-18 5-10-12-10 2-10-12-10 2-20-22-10 2-10-11-10 2-14-16zM2525 1756l17 9-17 4-4-4zM2545 1767l28 18-18 4-14-14zM2575 1786l17 9-17 4-4-4zM2595 1797l16 8-16 4-4-4zM2615 1807l15 8-15 4-3-4zM2635 1817l14 8-14 4-3-4zM2655 1828l27 17-17 4-13-14zM2685 1846l17 9-17 4-4-4zM2705 1856l17 9-17 4-4-4zM2725 1866l18 9-18 4-4-4zM2745 1876l53 29-23 6-10-13-10 2-14-15zM2805 1908l14 7-14 4-3-4zM2825 1918l15 7-15 4-4-4zM2845 1927l53 28-23 6-10-13-10 2-14-15zM2905 1958l15 7-15 4-4-4zM2925 1967l17 8-17 4-4-4zM2945 1976l57 29-17 4-10-11-10 2-10-12-10 2-4-5zM3005 2006l20 9-20 5-4-5zM3035 2019l14 6-14 4-3-4zM3055 2027l82 38-22 5-10-13-10 2-10-11-10 2-10-13-10 2-4-4zM3145 2068l43 17-23 5-10-13-10 2-4-4zM3195 2088l18 7-18 5-4-5zM3225 2099l32 16-22 5-13-15zM3265 2118l19 7-19 5-4-5zM3295 2128l17 7-17 4-4-4zM3325 2139l14 6-14 4-3-4zM3345 2147l42 18-22 5-10-12-10 2-5-5zM3395 2167l21 8-21 5-5-5zM3425 2178l20 7-20 5-5-5zM3455 2188l20 7-20 5-5-5zM3485 2198l42 17-22 5-10-12-10 2-5-5zM3545 2220l14 5-14 4-3-4zM3575 2229l17 6-17 4-4-4zM3605 2238l20 7-20 5-4-5zM3645 2250l14 5-14 4-3-4zM3675 2259l43 16-23 5-10-13-10 2-4-4zM3735 2279l20 6-20 5-4-5zM3775 2290l18 5-18 4-4-4zM3815 2300l17 5-17 4-4-4zM3855 2310l18 5-18 4-4-4zM3885 2319l16 6-16 4-4-4zM3925 2330l19 5-19 5-4-5zM3975 2341l15 4-15 4-4-4zM4015 2349l23 6-23 5-5-5zM4065 2359l24 6-24 5-5-5zM4125 2371l17 4-17 4-4-4zM4165 2380l15 5-15 4-4-4zM4225 2391l15 4-15 4-4-4zM4285 2400l20 5-20 5-4-5z"/><path fill="#0041ff" d="M-5 -15l48 0 2 21 1-21 118 0 0 20 111 40 100 55 82 55 143 110 130 110 494 440 301 250-20 5-30-33-10 3-40-42-10 3-50-53-10 2-50-52-10 3-60-63-10 3-60-63-10 3-60-63-10 3-60-62-10 2-6-6 2-10-6-6-10 2-40-42-16 6 296 260 325 270 287 220 225 160 245 160 188 114 286 156 225 110 139 62 250 100 317 108 214 60 229 53 180 31 20 0 0 246-759 0 0-20-245-100-240-110-364-210-174-110-317-220-281-210-413-330-317-270-300-270-640-614-8 4 63 60 5 10 207 210 53 60 488 490 338 320 424 380 190 160 340 270 50 30 20 6 1-6-33-40-59-60 11 0 30 30 10 0 30 30 10 0 30 30 10 0 20 20 10 0 30 30 10 0 30 30 10 0 30 30 10 0 20 20 10 0 20 20 10 0 20 20 10 0 20 20 10 0 30 30 10 0 20 20 10 0 20 20 10 0 20 20 10 0 10 10 10 0 30 30 10 0 30 20 10 0 30 30 10 0 30 20 10 0 0 8-110-18 0 10 26 30 48 40 0 20-446 0 0-20-238-210-284-270-435-430-373-380-452-480-536-602-7 2 84 100 3 10 539 650 470 540 523 590 244 270 198 210 0 20-265 0 0-20-1237-1560-247-320-305-411-9 1 17 20 2 10 269 390 643 900 302 430 369 540 0 20-189 0 0-20-363-590-348-540-459-700-224-358-3 8 13 30 607 1020 250 430 357 650 26 50 0 20-146 0 0-20-24-50-327-650-262-490-347-630-94-180-26-40-44-90 0 20 10 21 454 899 209 430 273 600 69 160 0 20-119 0 0-20-63-160-252-600-290-640-226-480-25-62-26-48-4-16-4 6 4 20 17 30 73 180 204 470 247 600 204 540 58 160 0 20-100 0 0-20-91-270-212-589-189-491-220-560-8-10-13-43-4 3 4 23 17 37 3 20 7 10 33 100 115 310 230 650 161 490 99 320 0 20-87 0 0-20-46-160-181-600-191-590-106-310-3-20-17-40-23-80-7-10-14-52-6 2 5 30 17 40 4 26 144 464 191 650 148 540 29 110 0 20-78 0 0-20-12-50-140-550-172-639-106-371-14-63-17-47-3-24-5-6-5-31-6 1 6 38 7 12 3 28 6 12 4 28 27 92 216 870 152 650 11 50 0 20-73 0 0-20-12-60-141-650-180-798-16-52-14-78-6-12-4-32-10 2 6 10 4 37 6 13 4 35 6 15 4 34 174 836 136 700 0 20-69 0 0-20-80-450-201-1099-5-11-5-43-5-7-5-48-4 8 4 50 5 10 5 50 26 140 224 1400 0 20-72 0-98-726-110-778-6-16-4-54-5-16-5-57-6-13-4-57 0 70 5 7 5 77 6 23 181 1520 0 20-82 0-145-1536-6-34-4-72-6-28-4-78-4 18 4 117 113 1613-189 0-4-73-20 0 0-2657zM237 65l8 4 3-4-3-4zM258 75l7 4 3-4-3-4zM298 95l7 4 3-4-3-4zM317 105l8 7 3-7-3-4zM346 125l9 6 4-6-4-4zM201 155l4 5 4-5-4-3zM395 155l20 16 4-6-14-14zM220 175l5 4 4-4-4-4zM436 185l9 6 4-6-4-4zM465 205l10 7 4-7-4-4zM503 235l22 16 3-6-13-15-10 4zM531 255l44 37 4-7-34-35-10 3zM593 305l42 36 3-6-33-35-10 4zM640 345l45 39 3-9-33-35-10 3zM686 385l9 7 4-7-4-4zM699 395l66 57 4-7-54-56-10 3zM272 445l3 11 4-1-4-11zM769 455l146 127 4-7-64-66-10 3-60-63-10 3zM289 475l16 33 7-3-17-31zM273 535l2 11 4-1-4-17zM283 555l2 11 9-1-9-16zM918 585l17 17 6-17-6-6-10 3zM281 645l4 22 6-2-6-22zM292 675l3 13 6-3-6-17zM263 715l2 15 3-5-3-17zM243 775l2 23 3-3-3-22zM252 805l3 27 3-7-3-23zM232 885l3 28 3-8-3-25zM203 935l2 32 3-2-3-37zM211 975l4 40 4-10-4-35zM173 985l2 51 4-1-4-52zM2699 2415l17 20 61 50 51 30 34 10-13-20-43-40-66-40-35-14zM1525 1065l138 110-18 4-20-21-10 2-40-42-10 2-30-32-10 2-5-5 2-10zM1665 1176l48 39-18 4-20-21-10 2-5-5 2-10zM1715 1216l50 39-20 5-33-35zM1765 1255l28 20-18 4-13-14zM1795 1276l37 29-17 4-23-24zM1835 1307l79 58-19 5-30-32-10 2-23-25zM1915 1366l29 19-19 5-13-15zM1945 1386l39 29-19 5-23-25zM1985 1416l14 9-14 3-3-3zM2015 1436l15 9-15 4-3-4zM2045 1455l26 20-16 4-12-14zM2075 1477l27 18-17 4-13-14zM2105 1497l24 18-14 3-13-13zM2145 1525l16 10-16 4-4-4zM2165 1538l28 17-18 4-13-14zM2195 1556l25 19-15 4-13-14zM2255 1596l15 9-15 4-3-4zM2275 1608l23 17-13 3-13-13zM2305 1629l27 16-17 4-12-14zM2335 1646l15 9-15 4-3-4zM2355 1658l24 17-14 3-13-13zM2415 1696l17 9-17 4-4-4zM2435 1707l15 8-15 4-3-4zM2455 1718l25 17-15 4-13-14zM2485 1738l13 7-13 3-3-3zM2745 1879l25 16-15 4-13-14zM2775 1897l16 8-16 4-3-4zM2855 1935l14 10-14 4-3-4zM2875 1948l16 7-16 4-3-4zM2945 1979l12 6-12 3-3-3zM2965 1988l15 7-15 3-3-3zM3005 2009l14 6-14 3-3-3zM3075 2039l15 6-15 3-3-3zM3115 2058l16 7-16 4-3-4zM3165 2078l16 7-16 4-3-4zM3235 2106l16 9-16 4-3-4zM3265 2120l12 5-12 3-3-3zM3345 2149l16 6-16 4-3-4zM3365 2157l15 8-15 4-3-4zM3395 2170l14 5-14 4-3-4zM3425 2180l13 5-13 3-3-3zM3455 2190l14 5-14 3-3-3zM3485 2200l14 5-14 3-3-3zM3505 2208l15 7-15 4-3-4zM3605 2241l13 4-13 3-3-3zM3695 2268l16 7-16 4-3-4zM3735 2281l13 4-13 3-3-3zM3925 2331l13 4-13 3-3-3zM4015 2351l16 4-16 4-3-4zM4065 2361l17 4-17 4-3-4zM4285 2402l13 3-13 3-3-3z"/><path fill="#0058ff" d="M-5 -15l48 0 2 21 2-21 111 0 0 20 111 40 106 59 76 51 143 110 130 110 380 340-19 5-60-63-10 3-4-5 1-10-7-8-10 3-40-42-10 3-5-6 2-10-7-7-10 3-70-73-10 2-60-62-10 3-60-63-10 3-50-52-10 2-40-42-15 6 22 20 190 160 429 380 263 220 201 160 213 160 157 110 242 160 287 170 191 103 230 113 363 154 311 110 202 60 204 51 242 49 28 1 0 229-649 0 0-20-125-40-158-60-253-110-192-100-293-170-246-160-228-160-295-220-341-270-321-270-237-210-291-270-404-390-37-31-10-3-1 4 247 250 102 110 374 380 277 270 410 380 362 320 261 220 404 320 295 210 0 20-370 0 0-20-243-210-289-270-440-430-376-380-258-270-251-270-494-557-4 7 3 10 46 50 44 60 310 380 270 320 943 1080 436 480 0 20-238 0 0-20-171-210-1113-1400-292-380-254-344-4 4 4 11 36 49 3 10 261 380 914 1290 400 590 0 20-173 0 0-20-366-590-244-380-565-860-256-409-3 9 3 10 39 70 606 1020 249 430 354 650 26 50 0 20-136 0 0-20-24-50-328-650-786-1449-1 19 502 1000 208 430 244 540 68 160 0 20-111 0 0-20-20-50-270-650-170-380-425-910-25-63-8 3 27 70 315 730 201 490 188 490 96 270 0 20-94 0 0-20-91-270-194-540-470-1206-4 6 3 20 7 10 33 100 176 480 208 590 161 490 99 320 0 20-83 0 0-20-17-60-192-640-141-440-260-784-5 4 15 60 6 10 3 20 215 700 139 480 161 590 16 60 0 20-74 0 0-20-12-50-154-600-189-700-107-370-13-60-18-50-3-25-4 5 3 30 26 90 5 30 35 130 228 920 140 600 11 50 0 20-69 0 0-20-12-60-152-700-217-940-4-30-16-50-4-35-3 5 3 40 6 10 4 37 14 53 150 730 184 940 0 20-66 0 0-20-80-450-222-1213-10-53-5-4-5-51-1 51 7 20 3 40 7 20 3 40 105 630 154 970 0 20-68 0-230-1650-6-20-4-53-5-7-5-65 0 75 5 10 5 70 195 1620 0 20-78 0-163-1680-4-79-6-21-4-85-3 25 3 103 121 1737-166 0-15-370-10-140-20 0 0-2220zM169 35l6 4 3-4-3-4zM236 65l9 5 4-5-4-5zM257 75l8 5 4-5-4-4zM277 85l8 5 4-5-4-4zM297 95l8 5 4-5-4-4zM315 105l20 15 4-5-14-15zM344 125l11 7 4-7-4-5-10 5zM377 145l8 5 4-5-4-4zM200 155l5 6 5-6-5-4zM393 155l32 25 3-5-23-25-10 4zM220 175l5 5 5-5-5-4zM434 185l21 15 3-5-13-15-10 4zM463 205l22 18 4-8-14-15-10 4zM266 215l9 11 5-1-5-12zM487 225l8 6 4-6-4-4zM501 235l84 66 4-6-44-46-10 3-20-23-10 4zM251 265l4 11 9-1-9-12zM282 305l3 4 6-4-6-7zM248 335l7 12 6-2-6-11zM263 355l2 4 3-4-3-6zM242 395l3 11 4-1-4-12zM260 425l5 16 3-6-3-12zM270 445l5 13 8-3-8-13zM252 495l3 12 5-2-5-18zM262 515l13 33 8-3-18-36zM253 585l2 14 4-4-4-19zM261 605l4 16 4-6-4-14zM270 625l5 19 4-9-4-13zM233 635l2 15 3-5-3-19zM241 655l4 23 5-3-5-22zM222 715l3 21 3-1-3-25zM232 745l3 25 4-5-4-26zM212 805l3 34 4-4-4-32zM1105 715l68 60-18 4-52-54zM1175 777l68 58-18 4-52-54zM1245 837l68 58-18 4-52-54zM1315 897l57 48-17 4-42-44zM1385 955l47 40-17 4-33-34zM1445 1005l34 30-14 3-23-23zM1495 1047l23 18-13 3-12-13zM1525 1070l15 15-15 4-3-4 2-10zM1555 1096l25 19-15 4-13-14zM1605 1137l25 18-15 4-12-14zM1665 1181l15 14-15 4-1-14zM1695 1206l12 9-12 3-3-3zM1725 1228l19 17-9 2-12-12zM1745 1245l14 10-14 3-3-3zM1805 1288l20 17-10 3-12-13zM1855 1326l14 9-14 4-3-4zM1895 1356l13 9-13 3-3-3zM1925 1376l13 9-13 3-3-3zM1965 1407l13 8-13 3-3-3zM2175 1548l12 7-12 3-3-3z"/><path fill="#006eff" d="M-5 -15l47 0 3 22 2-22 105 0 0 20 111 40 108 60 74 50 143 110 207 180-20 5-60-63-10 3-50-52-10 2-40-42-10 3-50-53-10 3-20-23-10 4-30-33-15 6 212 170 555 490 322 270 352 270 155 110 243 160 186 113 290 161 342 166 236 100 300 110 193 60 219 57 192 43 108 15 0 215-468 0 0-20-180-40-157-50-319-120-210-100-296-166-329-214-313-220-278-210-278-220-264-220-307-270-289-270-344-330-58-53-20-11-1 4 19 20 150 150 471 490 272 270 401 380 296 270 439 380 396 320 288 210 0 20-320 0 0-20-121-100-181-160-406-380-277-270-378-380-260-270-251-270-537-603-7 3 5 10 40 50 441 540 227 270 938 1080 429 480 0 20-211 0 0-20-174-210-1081-1350-331-430-266-360-3 10 23 38 289 422 645 910 264 380 398 590 0 20-158 0 0-20-369-590-811-1240-173-270-65-110-36-50-4-13-9 3 38 70 633 1070 248 430 353 650 26 50 0 20-126 0 0-20-24-50-329-650-231-430-442-800-137-259-4 9 14 34 455 906 261 540 243 540 68 160 0 20-103 0 0-20-20-50-271-650-171-380-476-1020-16-41-6 1 6 20 423 990 150 370 169 440 114 320 0 20-88 0 0-20-92-270-194-540-492-1261-7 1 7 28 15 32 3 20 216 590 260 750 157 490 49 160 0 20-77 0 0-20-32-110-178-590-122-380-301-907-4 7 3 20 7 10 4 27 224 733 157 540 161 590 16 60 0 20-70 0 0-20-12-50-154-600-190-700-120-430-18-50-13-60-6-10-5-29-2 29 6 10 14 70 255 1010 189 810 0 20-65 0 0-20-13-60-152-700-221-970-27-100-4-32-4 2 3 40 6 10 4 40 6 10 5 40 144 690 203 1030 0 20-63 0 0-20-91-510-233-1265-6-15-4-38-4 8 4 49 5 11 4 40 124 750 153 970 0 20-64 0-121-880-120-840-6-20-5-60-6-10-4-61-3 11 3 62 6 18 3 60 205 1700 0 20-75 0-169-1767-5-23-5-84-6-16-4-91 0 111 5 30 123 1840-153 0-25-702-10-156-20 0 0-1872zM167 35l8 4 4-4-4-5zM234 65l11 6 5-6-5-5-10 4zM255 75l10 6 4-6-4-5zM276 85l9 6 4-6-4-5zM295 95l10 6 5-6-5-5zM313 105l22 16 5-6-15-16-10 5zM342 125l23 14 3-4-13-16-10 4zM375 145l10 7 4-7-4-5zM199 155l26 26 6-6-26-25zM391 155l34 26 4-6-24-26-10 4zM431 185l24 17 4-7-14-16-10 4zM222 295l33 53 10-3-40-52zM213 345l1 10 4 0-3-12zM231 375l4 15 3-5-3-12zM241 395l4 12 8-2-8-13zM252 415l3 9 3-9-3-8zM222 435l3 12 3-2-3-15zM232 455l3 12 5-2-5-14zM242 475l13 33 9-3-19-37zM223 515l2 12 3-2-3-15zM232 535l3 18 3-8-3-14zM212 575l3 23 3-3-3-22zM222 605l3 19 3-9-3-14zM212 685l3 22 5-2-5-30zM192 735l3 30 3-10-3-26zM172 795l3 36 4-6-4-36zM143 815l2 48 3-8-3-43zM795 445l68 60-18 4-52-54zM875 515l68 60-18 4-52-54zM945 577l18 18-18 4-4-4 2-10zM975 605l35 30-15 4-22-24zM1015 639l15 16-15 4-1-14zM1055 676l44 39-14 3-32-33zM1135 745l20 20-10 2-13-12zM1295 885l12 10-12 3-3-3zM1525 1075l9 10-9 2z"/><path fill="#0085ff" d="M-5 -15l47 0 3 22 2-22 100 0 0 20 110 40 108 60 74 50 143 110 81 70-18 4-40-42-10 3-50-53-10 2-20-22-10 3-30-32-10 3-20-23-10 4-30-34-10 4-10-13-12 6 99 70 197 160 553 490 396 330 277 211 160 113 240 159 180 110 279 157 216 110 357 160 290 110 188 61 173 49 206 50 161 31 20 0 0 169-150-9-200-21-290-54-207-56-184-60-129-50-113-50-218-110-196-110-253-159-360-256-309-235-339-270-192-160-252-220-292-270-293-280-133-118-2 8 18 20 150 150 470 490 271 270 399 380 294 270 433 380 389 320 280 210 0 20-268 0 0-20-183-150-249-220-290-270-279-270-536-540-358-380-484-540-4-10-71-74-5 4 22 30 571 700 599 700 702 810 188 210 0 20-182 0 0-20-396-480-869-1080-333-430-307-413-5 3 4 10 20 30 328 480 643 910 263 380 393 590 0 20-140 0 0-20-372-590-775-1180-313-490-36-63-6 3 6 16 59 104 631 1070 246 430 351 650 25 50 0 20-113 0 0-20-25-50-331-650-232-430-476-860-125-239-4 9 12 30 475 950 261 540 236 530 73 170 0 20-95 0 0-20-65-160-228-540-194-430-471-1013-10 3 385 900 196 480 168 440 114 320 0 20-82 0 0-20-109-320-178-490-504-1286-4 6 1 10 13 40 233 640 259 750 190 600 15 50 0 20-72 0 0-20-32-110-178-590-435-1321-9 1 8 30 15 40 229 760 171 590 149 550 12 50 0 20-65 0 0-20-15-60-152-590-363-1318-4 8 3 30 7 10 276 1110 150 640 38 170 0 20-61 0-4-40-124-570-260-1140-26-100-4-30-6-10-5-39-4 9 2 30 8 20 2 30 8 20 3 30 164 790 192 980 0 20-59 0 0-20-83-460-243-1320-15-60-5-47-4 7 4 50 5 10 5 50 132 800 153 970 0 20-61 0-253-1800-6-20-5-54-5 4 5 79 212 1771 0 20-71 0-181-1880-5-20-5-87-4 17 3 100 127 1870-142 0-44-1144-20 0 0-1586zM166 35l9 5 5-5-5-6zM209 55l6 4 3-4-3-3zM232 65l13 7 5-7-5-6-10 4zM254 75l11 7 5-7-5-6-10 5zM274 85l11 7 5-7-5-6-10 5zM293 95l72 46 4-6-14-17-10 4-20-23-10 4-10-14-10 5zM189 145l36 36 10 7 5-3-45-43zM189 195l26 34 4-4-4-10-20-20zM221 235l4 5 4-5-4-4zM201 265l4 12 4-2-4-12zM212 285l3 5 3-5-3-5zM203 335l2 4 3-4-3-8zM211 345l4 12 6-2-6-13zM222 365l3 7 3-7-3-8zM202 395l3 12 3-2-3-13zM212 415l3 12 5-2-5-15zM221 435l4 13 5-3-5-17zM231 455l4 13 9-3-9-16zM212 485l3 22 5-2-5-22zM222 515l3 13 5-3-5-17zM231 535l4 20 4-10-4-16zM202 555l3 14 4-4-4-18zM211 575l4 24 5-4-5-24zM192 615l3 25 4-5-4-22zM201 645l4 30 4-10-4-23zM182 695l3 31 4-1-4-35zM162 745l3 40 4-10-4-33zM133 755l2 48 3-8-3-42zM103 775l2 65 4-5-4-64zM665 337l56 48-16 3-42-43zM745 405l44 40-14 3-32-33zM815 466l42 39-12 3-32-33zM915 557l22 18-12 3-12-13zM945 582l12 13-12 3-1-13zM1015 644l9 11-9 2 0-12z"/><path fill="#009cff" d="M-5 -15l46 0 0 20 4 2 3-22 93 0 0 20 110 40 109 60 73 50 90 70-18 4-30-32-10 3-20-23-10 4-30-34-10 3-10-12-15 7 99 70 196 160 552 490 319 270 283 220 222 160 240 160 177 110 280 160 213 110 234 110 265 110 310 110 165 51 210 55 210 45 20 0 0 104-190-14-229-31-237-50-226-60-158-50-136-50-249-110-214-110-189-110-250-160-230-160-32-27-50-33-80-66-50-33-150-123-50-34-120-97-287-237-256-220-296-270-296-280-195-174-8 4 18 20 57 50 158 160 468 490 271 270 279 270 409 380 301 270 444 380 325 260 0 20-194 0 0-20-132-100-134-110-361-320-401-380-540-540-358-380-612-681-7 1 7 10 636 780 1427 1670 42 50 0 20-142 0 0-20-181-210-224-270-788-970-299-380-441-586-4 6 24 38 260 382 639 910 338 490 387 590 0 20-118 0 0-20-274-430-278-430-675-1020-289-460-4 10 4 9 39 71 658 1120 246 430 147 270 200 380 25 50 0 20-100 0 0-20-359-700-233-430-417-750-216-406-4 6 2 10 10 20 503 1010 260 540 239 538 68 162 0 20-86 0 0-20-65-160-230-540-194-430-376-800-117-258-2 18 7 10 4 20 384 900 217 534 200 536 60 170 0 20-75 0 0-20-110-320-160-440-142-370-386-970-5-20-7-10-15-47-3 7 3 20 15 30 24 80 232 640 240 690 209 660 14 50 0 20-66 0 0-20-94-320-169-540-405-1223-4 3 2 20 6 10 14 60 196 640 187 640 180 660 12 50 0 20-61 0 0-20-27-110-153-590-209-760-149-520-4-27-4 7 3 30 6 10 4 30 5 10 238 950 226 970 0 20-57 0 0-20-128-590-261-1140-26-100-16-80-5-10-5-35-4 5 3 40 6 10 3 30 184 890 191 980 0 20-56 0-1-30-105-580-236-1260-5-40-6-10-4-45-3 5 1 40 7 20 4 50 124 750 170 1080 0 20-57 0-254-1800-17-90-5-58-4 8 3 60 5 20 5 70 211 1770 0 20-67 0-193-1990-5-10-5-99-1 99 5 30 130 1950 0 20-133 0-51-1373-20 0 0-1357zM165 35l10 5 5-5-5-6zM207 55l8 4 4-4-4-4zM230 65l79 40 56 37 5-7-15-17-10 3-20-23-10 3-10-13-10 4-10-14-10 5-10-15-10 5-10-15-10 4zM173 225l2 10 3 0-3-11zM192 255l3 5 3-5-3-4zM200 265l5 13 6-3-6-13zM182 295l2 10 4 0-3-12zM192 315l13 25 4-5-14-27zM210 345l5 13 10-3-10-14zM192 375l3 13 4-3-4-15zM201 395l4 13 5-3-5-14zM192 445l3 14 4-4-4-14zM201 465l4 16 4-6-4-13zM210 485l3 20 9 0-7-23zM182 585l3 25 4-5-4-25zM162 625l3 23 3-13-3-19zM173 655l2 32 4-2-4-32zM94 695l1 67 3-17-3-51zM123 705l2 41 3-11-3-39zM152 705l3 33 4-3-4-40zM525 226l25 19-15 3-12-13zM565 256l46 39-16 4-32-34zM625 306l20 19-10 2-12-12zM695 365l20 20-10 2-12-12z"/><path fill="#00b2ff" d="M-5 -15l46 0 0 20 4 3 3-23 88 0 0 20 110 40 108 60 59 40-18 4-10-12-10 4-20-24-10 3-20-23-10 3-10-13-10 4-10-14-10 5-10-15-10 4-10-14-17 8 78 40 77 50 146 110 258 220 367 330 185 160 329 270 211 160 153 110 238 160 176 110 187 110 202 110 220 110 219 100 272 110 166 60 163 54 319 96 58 30-17 10-80 1-130-10-90-14-290-62-190-55-151-50-161-60-118-50-234-110-290-160-179-110-324-220-218-160-205-159-320-265-72-66-192-160-299-270-354-330-143-125-9 5 75 70 157 160 468 490 381 380 570 540 651 590 50 50 29 40-2 5-10 3-30-1-30-8-52-29-68-50-262-220-410-380-387-380-311-320-352-380-346-390-132-142-7 2 7 10 644 790 730 860 358 430 128 160 60 90 8 20-8 15-20 5-20-13-60-55-144-162-229-270-446-540-306-380-334-430-331-444-7 4 4 10 291 430 603 860 368 540 301 471 71 119 0 20-76 0 0-20-143-210-497-760-396-590-280-430-249-398-1 18 27 40 350 610 284 480 308 540 312 590 55 110 0 20-81 0 0-20-337-650-261-480-418-750-228-425-4 5 2 10 521 1050 231 480 240 539 90 216 2 25-75 0 0-20-111-270-212-490-220-480-377-800-87-194-5 4 2 10 11 30 16 30 5 20 88 210 295 690 218 539 200 541 55 160 0 20-67 0 0-20-55-160-216-600-142-370-415-1048-4 8 3 20 14 30 25 80 232 640 240 694 170 535 52 171 0 20-62 0-3-30-43-150-201-650-407-1220-3-20-18-40-5-26-4 6 1 20 7 10 23 90 196 640 187 642 160 589 31 119 0 20-56 0 0-20-182-700-373-1344-5 4 3 30 7 10 13 70 242 960 226 970 0 20-53 0 0-20-129-590-273-1190-35-140-4-30-6-10-6-41-4 11 2 30 6 10 5 40 5 10 189 930 189 970 0 20-53 0-3-40-103-570-253-1357-5 7 2 40 135 820 170 1080 0 20-55 0-84-610-181-1260-6-20-4-50-7-20-5-64-3 14 2 50 5 20 4 60 220 1860 0 20-63 0-194-1990-6-20-5-94-4 24 2 80 134 1980 0 20-124 0-58-1558-20 0 0-1172zM163 35l12 6 6-6-6-7-10 6zM206 55l9 5 5-5-5-5zM174 135l11 7 1-7-11-3zM163 215l2 5 3-5-3-5zM171 225l4 11 8-1-8-12zM182 245l3 3 5-3-5-9zM191 255l4 7 4-7-4-5zM173 285l2 4 3-4-3-8zM181 295l4 12 7-2-7-13zM172 335l3 13 3-3-3-12zM182 355l3 12 4-2-4-14zM191 375l4 14 5-4-5-16zM173 395l2 16 3-6-3-11zM185 415l0 23 4-3zM162 445l3 14 3-4-3-15zM191 445l4 15 4-5-4-15zM173 465l2 22 3-12-3-11zM181 495l3 20 6 0-5-24zM162 525l3 21 3-11-3-17zM172 555l3 22 4-2-4-25zM152 585l3 26 3-6-3-27zM132 615l3 28 3-8-3-27zM164 615l1 35 4-5-4-30zM113 645l2 42 3-12-3-35zM143 655l2 36 4-6-4-34zM123 695l2 53 5-3-5-51zM415 146l38 29-18 4-22-24zM455 177l26 18-16 4-12-14zM485 198l33 27-13 3-22-23z"/><path fill="#00c9ff" d="M-5 -15l45 0 0 20 5 3 4-3 0-20 81 0 0 20 105 38 79 42-19 5-10-13-10 3-10-13-10 3-10-14-19 9 78 40 76 50 146 110 256 220 551 490 328 270 292 220 306 210 360 220 296 161 340 164 250 106 253 99 80 40 6 10-19 5-40-3-131-22-86-20-167-50-172-60-125-50-246-110-216-110-194-110-163-100-259-170-225-160-147-110-265-210-389-330-6-10-295-260-358-330-136-118-30-18-2 6 137 130 418 440 373 380 326 320 618 590 48 50 30 40-8 7-10-1-50-16-93-70-247-220-281-270-271-270-259-270-249-270-437-490-43-42-10 2 167 200 484 600 763 910 126 160 41 60 11 30-12 9-10 0-37-29-103-110-281-330-568-700-292-380-279-373-6 3 4 10 319 470 784 1130 239 370 60 108 10 32-10 21-20-16-100-133-761-1132-280-430-219-350-2 20 722 1237 270 483 220 428 70 160 5 32-5 20-10-6-50-77-385-717-596-1070-239-447-3 17 553 1117 160 332 240 537 130 316 3 28-57 0 0-20-21-50-331-760-674-1446-5 6 2 10 7 10 13 40 403 950 190 469 169 451 111 319 0 21-57 0 0-20-38-110-239-660-566-1436-5 6 1 10 13 40 341 952 170 497 170 540 48 161 0 20-54 0 0-20-80-270-169-540-445-1336-4 6 2 20 7 10 2 20 225 740 188 648 160 592 28 110 0 20-51 0 0-20-12-50-170-650-385-1382-4 2 2 30 16 50 13 70 254 1010 212 920 0 20-48 0 0-20-129-590-309-1330-4-30-8-20-4-30-6-10-5-36-4 6 1 30 6 10 5 40 7 20 3 30 194 940 188 970 0 20-49 0-9-70-98-540-249-1320-2-30-8-20-5-43-4 3 1 40 7 20 14 110 123 750 169 1080 0 20-51 0-15-130-261-1810-8-30-5-56-4 16 3 60 5 20 222 1910 0 20-59 0-207-2108-5 18 3 90 131 1980 0 20-115 0-64-1715-20 0 0-1015zM162 35l13 7 6-7-6-8-10 5zM188 45l7 5 4-5-4-5zM204 55l11 6 5-6-5-6-10 5zM130 95l5 4 5-4-5-4zM152 155l3 7 4-7-4-3zM153 195l2 12 4-2-4-11zM162 215l3 6 4-6-4-6zM162 265l3 9 3-9-3-6zM172 285l3 5 4-5-4-10zM181 295l4 12 10-2-10-14zM162 315l3 14 4-4-4-14zM171 335l4 14 4-4-4-13zM181 355l4 13 6-3-6-15zM162 375l3 15 3-5-3-15zM172 395l3 17 4-7-4-12zM152 415l3 19 3-9-3-14zM182 415l3 24 5-4-5-21zM162 445l3 15 4-5-4-16zM142 465l3 13 3-13-3-10zM172 465l3 24 5-4-5-22zM154 485l1 27 4-7-4-21zM134 505l1 26 3-16-3-11zM161 525l4 22 4-2 0-10-4-18zM143 545l2 26 3-6-3-25zM123 565l2 34 3-14-3-23zM104 585l1 44 3-14-3-32zM151 585l4 27 4-7-4-29zM132 615l3 30 4-10-4-28zM83 625l2 60 4-20-4-46zM112 645l3 44 4-14-4-37zM315 86l17 9-17 4-2-4zM335 97l25 18-15 3-12-13zM365 118l27 17-17 5-12-15z"/><path fill="#00e0ff" d="M-5 -15l45 0 0 20 5 3 4-3 0-20 76 0 0 20 87 30 38 20-25 9-10-16-13 7 99 50 75 50 145 110 257 220 491 440 247 210 346 270 312 220 247 160 274 163 320 171 403 196 45 30-8 9-20-2-118-27-144-50-259-110-223-110-200-110-263-160-169-110-384-270-209-160-198-160-313-267-612-553-138-118-30-21-2 9 86 80 98 100 523 550 377 380 427 420 56 60 23 30 3 10-31-3-20-9-99-78-173-160-274-270-365-380-495-550-154-164-4 4 4 9 176 211 392 490 622 750 85 110 45 70-2 10-8 4-10-2-30-23-100-109-270-320-432-540-458-607-3 7 11 20 318 470 444 640 258 380 102 160 29 50 15 40-4 15-10-2-40-43-190-270-472-700-208-320-250-398-3 8 3 10 15 20 13 30 622 1070 249 440 141 268 40 89 10 33-2 10-8 10-20-25-90-154-700-1251-250-466-5 6 11 30 524 1060 209 440 121 270 90 217 40 109 10 44-1 10-9 11-50-98-326-723-356-750-200-430-24-60-28-50-6-22-6 2 3 20 8 10 151 370 206 480 238 586 200 542 90 270 1 22-40 0 0-20-17-50-238-650-606-1533-5 3 3 20 17 40 3 20 322 900 150 436 170 534 80 270 2 30-43 0 0-20-15-50-221-710-429-1290-17-40-3-20-10-30-8-10-6-30-4 10 2 20 16 40 2 20 224 740 170 584 120 439 84 327 0 20-44 0 0-20-14-60-172-650-382-1370-7-10-5-30-4 10 1 20 6 10 34 150 253 1011 211 919 0 20-43 0-2-30-142-640-287-1230-13-70-8-20-4-30-6-10-6-38-5-2-5-40-3 30 8 20 2 30 7 20 3 30 7 20 3 30 194 940 186 970 0 20-43 0 0-20-99-540-259-1370-3-30-7-20-4-40-7-10-5-49-4 9 2 40 6 10 4 50 202 1250 107 700 0 20-46 0-6-70-279-1900-4-50-7-20-5-58-4 18 2 40 6 20 4 70 226 1930 0 20-55 0-203-2030-4-70-8-20-4-97-1 97 5 20 132 2080 0 20-106 0-70-1847-20 0 0-883zM160 35l15 7 7-7-7-8-10 4zM186 45l9 7 5-7-5-6zM130 95l5 4 6-4-6-5zM142 105l3 4 6-4-6-4zM151 115l4 3 6-3-6-6zM142 145l3 3 4-3-4-4zM132 175l3 3 3-3-3-3zM151 195l4 12 6-2-6-11zM142 235l3 4 3-4-3-7zM152 245l2 10 5 0-4-13zM41 255l4 5 14-5-14-1zM33 265l2 11 6-11-6-5zM82 275l3 3 2-3-2-7zM144 275l1 13 3-3-3-11zM64 295l-3 10 4 2 4-12-4-1zM152 295l3 13 4-3-4-13zM161 315l4 15 4-5-4-14zM142 335l3 7 3-7-3-7zM171 335l4 14 5-4-5-14zM152 355l3 11 3-11-3-6zM132 365l3 11 3-11-3-6zM161 375l4 16 4-6-4-16zM123 395l2 17 3-7-3-12zM142 395l3 11 4-11-4-9zM171 395l4 19 4-9-4-13zM152 415l3 20 4-10-4-15zM133 425l2 23 3-13-3-13zM113 435l2 18 3-8-3-16zM161 445l4 16 4-6-4-17zM144 455l1 24 4-14-4-11zM84 475l1 34 3-14-3-22zM103 475l2 27 3-17-3-14zM122 475l3 20 3-20-3-10zM153 485l2 28 4-8-4-22zM133 505l2 27 4-17-4-12zM112 525l3 26 4-16-4-19zM92 535l3 35 3-15-3-28zM142 545l3 28 4-8-4-26zM72 555l3 51 3-31-3-28zM122 565l3 36 4-16-4-24zM103 585l2 45 4-15-4-33zM255 58l15 7-15 4-2-4zM275 67l15 8-15 4-2-4zM295 78l14 7-14 3-2-3zM375 128l12 7-12 3-2-3z"/><path fill="#00f6ff" d="M-5 -15l44 0 0 20 6 4 5-4 0-20 70 0 0 20 61 20-23 10 139 70 157 110 250 210 489 440 255 220 274 220 283 210 233 160 177 115 260 157 371 208 57 40-18 3-53-13-58-20-116-50-125-60-206-110-269-160-171-110-234-160-368-270-336-270-313-270-240-220-250-220-201-165-4 5 9 10 158 150 569 600 521 530 57 60 25 40-25-3-30-17-71-60-288-280-352-370-404-450-155-165-4 5 4 10 46 50 519 650 395 480 85 110 45 70-5 10-5 1-30-21-100-110-220-264-260-326-460-609-4 9 11 20 832 1220 101 157 30 63-3 10-7 2-30-33-179-249-361-536-390-613-4 9 3 10 15 20 13 30 743 1289 110 209 20 59-10 9-20-27-170-288-401-711-299-555-4 15 9 10 122 260 343 691 210 437 120 270 40 106 2 26-2 10-10-9-90-179-154-332-307-640-269-583-5 3 1 10 10 30 8 10 151 370 205 480 190 468 130 343 70 209 10 50-10 11-20-41-235-610-347-860-168-428-4 18 8 10 23 80 343 960 180 538 100 325 60 212 20 84 1 51-6 0 0-20-5-2-10-25-40-120-226-713-444-1321-7 1 4 30 16 40 3 20 254 844 140 487 90 331 109 428 0 20-32 0 0-20-231-860-344-1220-6-10-2-20-9-20-5-28-4 8 0 20 8 10 2 30 8 20 296 1199 100 429 97 442 0 20-36 0-6-50-150-670-325-1391-5 11 1 20 8 20 2 30 234 1143 163 867 0 20-36 0 0-20-81-440-306-1621-5 11 2 40 7 20 22 160 115 700 169 1095 4 55-40 0-277-1900-14-120-7-20-6-61-4 11 1 50 6 20 5 70 224 1930 0 20-50 0-210-2100-7-30-5-91-4 21 2 80 72 1071 63 1029 0 20-96 0-77-1963-20 0 0-767zM128 25l7 3 4-3-4-6zM129 95l6 5 6-5-6-5zM122 125l3 3 4-3-4-3zM132 135l3 4 4-4-4-4zM141 145l4 4 5-4-5-4zM123 155l2 13 3-3-3-12zM132 175l3 4 4-4-4-4zM141 185l4 8 3-8-3-3zM148 195l7 13 8-3-8-12zM132 215l3 7 4-7-4-5zM142 235l3 4 4-4-4-8zM62 245l3 5 11-5-1-4-10 3zM151 245l4 12 7-2-7-14zM39 255l-7 10 3 12 10-13 16-9-16-2zM82 275l3 4 3-4-3-8zM143 275l2 14 4-4-4-12zM73 285l2 9 4-9-4-3zM102 285l3 6 3-6-3-4zM122 285l3 10 3-10-3-4zM64 295l-5 10 6 3 8-13-8-1zM151 295l4 14 4-4-4-14zM92 305l3 6 3-6-3-5zM114 305l1 16 3-6-3-11zM52 315l3 13 3-13-3-7zM123 335l2 14 3-4-3-13zM141 335l4 8 4-8-4-8zM72 345l3 12 3-12-3-5zM94 355l1 17 3-7-3-11zM151 355l3 10 4 0-3-17zM112 365l3 15 3-15-3-5zM131 365l4 12 4-12-4-7zM161 375l4 17 5-7-5-17zM84 385l1 21 3-11-3-12zM144 385l-3 10 4 11 4-11-4-11zM103 395l2 18 3-8-3-13zM123 395l2 18 4-8-4-13zM151 415l4 21 5-11-5-15zM72 425l3 24 3-14-3-18zM132 425l3 24 4-14-4-14zM92 435l3 20 3-10-3-20zM112 435l3 20 4-10-4-17zM143 455l2 25 4-15-4-12zM124 465l-3 10 4 21 4-21-4-11zM64 475l1 49 3-29-3-24zM83 475l2 35 4-15-4-24zM102 475l3 29 4-19-4-15zM151 485l4 30 5-10-5-23zM132 505l3 28 4-8-4-23zM115 515l-4 20 4 18 4-18zM92 535l3 36 4-16-4-29zM75 545l-4 30 4 34 4-34-4-31zM121 565l4 37 4-17-4-26zM102 585l3 47 4-17-4-35zM185 27l59 28-19 7-10-15-10 5-10-14-10 6-2-9z"/><path fill="#0efff1" d="M-5 -15l43 0 0 20 7 4 5-4 0-20 64 0 0 20 62 20-20 10 120 60 92 60 143 110 129 110 672 600 326 270 207 160 307 220 243 162 330 208 34 30-17 0-55-20-124-60-279-160-249-160-383-270-290-220-331-270-622-550-274-226-7 6 129 120 155 160 308 330 406 420 100 110 20 30-21 0-32-20-119-110-159-160-299-320-396-440-75-75-4 5 13 20 46 50 129 160 260 330 387 480 39 50 38 60-4 10-14-5-50-50-100-115-340-427-387-513-12 0 669 989 100 152 30 49 18 40-8 10-30-32-190-268-280-422-300-473-5 5 13 30 642 1118 90 170 11 32-1 10-10-3-20-26-160-270-250-441-310-574-4 4 0 10 9 10 1 10 28 50 102 220 214 430 260 538 70 157 20 52 3 23-3 12-40-68-110-223-312-651-228-498-4 18 7 10 13 40 354 841 180 447 60 162 20 66 2 24-2 11-20-34-4-17-16-30-50-121-392-969-134-350-18-30-6-26-5 6 3 20 14 30 24 80 244 680 170 493 120 377 30 116 0 24-10-6-40-110-550-1638-5 4 0 20 10 20 2 20 6 10 3 20 6 10 24 90 155 510 189 652 110 411 40 164 11 63-1 37-40-122-155-565-365-1290-5 10 1 20 8 20 1 20 9 20 296 1206 110 481 79 383 0 20-20 0-1-30-48-189-176-771-237-1000-3-30-18-60-1-20-10-20-5-37-4 7 0 30 8 10 1 30 245 1201 160 859 0 20-30 0-4-50-361-1910-7-20-5-40-7-20-2-30-9-20-5-46-4 6 1 40 7 20 3 40 6 20 187 1179 121 811 0 20-33 0-2-30-306-2073-5 3 0 10 1 50 124 1045 108 975 0 20-42 0-136-1310-90-916-4 26 2 80 72 1097 59 1003 0 20-84 0-45-980-40-1077-20 0 0-673zM127 25l8 4 5-4-5-7zM112 115l3 3 4-3-4-6zM122 125l3 4 4-4-4-4zM131 135l4 4 5-4-5-4zM112 145l3 4 3-4-3-3zM122 155l3 13 4-3-4-12zM15 175l0 12 10-2-10-11zM131 175l4 5 4-5-4-5zM112 185l3 3 3-3-3-5zM140 185l5 9 4-9-4-4zM92 215l3 8 3-8-3-3zM113 215l2 14 3-4-3-12zM131 215l4 8 4-8-4-6zM124 235l1 13 3-3-3-11zM141 235l4 5 5-5-5-9zM61 245l-26 11-5 19 5 3 11-13 31-20-2-6-10 4zM92 255l3 7 3-7-3-3zM132 255l3 14 3-4-3-13zM112 265l3 6 4-6-4-8zM81 275l4 5 3-5-3-10zM142 275l3 15 5-5-5-13zM72 285l-21 30-1 10 5 4 4-14 16-20 4-10-4-3zM101 285l4 7 4-7-4-5zM121 285l4 11 4-11-4-4zM91 305l4 7 4-7-4-6zM113 305l2 17 4-7-4-12zM132 305l3 15 4-5-4-14zM82 325l3 11 4-11-4-9zM43 335l2 24 4-24-4-5zM102 335l3 13 3-13-3-4zM122 335l3 15 4-5-4-14zM141 335l4 9 4-9-4-10zM72 345l3 13 4-13-4-6zM94 355l-3 10 4 8 4-8-4-12zM151 355l4 12 5-2-5-18zM63 365l2 25 3-15-3-14zM111 365l4 17 4-17-4-5zM131 365l4 13 4-13-4-8zM83 385l2 22 4-12-4-13zM143 385l-2 10 4 12 5-12-5-12zM33 395l2 75 3-45-3-39zM102 395l3 20 4-10-4-14zM122 395l3 19 4-9-4-14zM53 405l2 39 3-29-3-15zM72 425l3 26 4-16-4-19zM94 425l-3 20 4 11 4-11-4-21zM131 425l4 24 4-14-4-15zM112 435l3 21 4-11-4-19zM142 455l3 26 5-6-5-23zM123 465l-2 20 4 12 4-22-4-12zM63 475l2 51 4-31-4-25zM82 475l3 37 4-17-4-25zM102 475l3 30 4-20-4-16zM131 505l4 29 5-9-5-24zM114 515l-3 20 4 19 5-19-5-22zM94 525l-3 30 4 18 4-18-4-31zM73 545l-2 30 4 36 4-6 0-20-4-43zM185 29l16 6-16 7-2-7zM205 37l20 8-20 5-3-5zM225 45l14 10-14 5-2-5z"/><path fill="#25ffda" d="M-5 -15l43 0 0 20 7 4 5-4 0-20 59 0 0 20 32 10-16 10 10 5 10-14 25 9-16 10 136 70 153 110 191 160 545 490 315 270 213 170 210 160 505 360-7 6-17-6-82-40-183-110-240-160-372-270-205-160-329-270-631-550-221-177-20-7 0 5 10 2 23 27 108 100 259 270 449 480 84 100-3 6-20-6-39-30-171-170-252-270-296-330-132-135-4 5 22 30 46 50 129 160 467 590 80 108 11 22-1 9-10-2-20-17-180-215-540-701-4 6 604 898 70 111 11 31-1 4-10-3-20-21-3-10-77-101-280-419-265-420-15-20-5 0 1 10 9 10 12 30 27 40 2 10 514 900 60 116 5 24-5 4-10-11-130-214-240-427-240-446-4 14 9 10 10 30 28 50 102 220 315 640 100 215 27 75-7 9-10-16-3-13-57-102-130-266-201-422-169-369-5 9 2 10 8 10 20 60 425 1019 60 160 10 31 2 30-2 3-3-13-7-4-10-20-100-235-221-541-155-400-7-10-12-40-10-10-5-23-5 13 10 20 2 20 7 10 32 100 264 741 110 323 70 224 4 42-4 2-2-12-8-8-4-22-16-31-80-229-380-1124-4 4 0 20 8 10 12 60 6 10 188 632 170 591 60 230 10 43 2 34-2 12-50-154-410-1443-5 5 0 20 9 20 1 20 9 20 1 20 8 20 177 716 130 543 70 319 15 102 1 10-6 9-1-19-9-16-3-24-17-53-50-208-340-1447-5 8 1 30 8 20 226 1129 100 532 40 246 0 29-10-5-3-31-7-11-3-29-27-118-340-1780-5 8 1 40 8 20 2 40 184 1145 110 749 12 136-16 0 0-20-6-17-30-183-90-590-173-1170-3-40-8-30-2-40-8-20-6-66-4 16 0 40 8 30 2 50 104 881 120 1101 2 58-32 0-4-70-106-955-120-1205-5 20 2 90 73 1123 53 977 0 20-68 0-46-870-49-1266-20 0 0-594zM82 105l3 4 3-4-3-3zM111 115l4 4 4-4-4-7zM121 125l4 4 5-4-5-4zM82 135l3 3 3-3-3-3zM102 135l3 4 4-4-4-4zM111 145l4 5 4-5-4-4zM121 155l4 14 5-4-5-13zM81 165l4 3 3-3-3-5zM102 165l3 5 3-5-3-3zM14 175l1 15 6 5 11 0-17-22zM92 185l3 3 3-3-3-4zM111 185l4 4 4-4-4-6zM80 195l5 4 3-4-3-4zM121 195l5 10 3-10-4-4zM34 205l31 4 13-4-3-4-20 3-20-6zM91 215l4 10 4-10-4-4zM112 215l3 14 4-4-4-13zM131 215l4 10 5-10-5-7zM104 235l-2 10 3 3 3-3-3-11zM123 235l-2 10 4 4 4-4-4-12zM60 245l-25 10-10 23 0 55 4-48 18-20 31-20-3-8-10 5zM91 255l4 8 4-8-4-4zM131 255l4 14 4-4-4-14zM84 265l-3 10 4 6 4-6-4-11zM111 265l4 7 4-7-4-9zM71 285l-16 20-13 30 3 26 5-26 30-50-5-4zM101 285l4 8 4-8-4-6zM121 285l4 12 4-12-4-5zM91 305l4 8 4-8-4-7zM113 305l2 18 4-8-4-13zM131 305l4 16 4-6-4-15zM81 325l-1 10 5 2 4-12-4-10zM144 325l-4 10 5 10 5-10-5-11zM101 335l4 14 4-14-4-5zM121 335l4 16 4-6-4-14zM71 345l-1 10 5 4 4-14-4-7zM93 355l-2 10 4 9 4-9-4-12zM62 365l3 26 4-26-4-5zM111 365l4 18 4-18-4-6zM130 365l5 14 5-14-5-9zM34 385l-3 40 4 50 4-50-4-43zM83 385l2 23 4-13-4-14zM102 395l3 21 4-11-4-14zM121 395l4 20 5-10-5-14zM52 405l3 41 4-31-4-16zM74 415l-3 20 4 17 4-17-4-21zM94 425l-3 20 4 12 4-12-4-22zM115 425l-5 20 5 12 5-12zM131 425l4 25 5-15-5-15zM122 465l-1 20 4 13 5-23-5-13zM62 475l-1 30 4 23 4-33-4-27zM82 475l3 38 5-18-5-26zM101 475l4 32 5-22-5-17zM112 515l-1 30 4 11 5-21-5-23zM93 525l-3 30 5 20 5-20-5-32zM185 31l11 4-11 5-1-5zM205 39l14 6-14 4-3-4zM225 49l9 6-9 3-1-3z"/><path fill="#3cffc3" d="M-5 -15l42 0 0 20 8 5 6-5 0-20 53 0 0 20 32 10-13 10 12 6 10-13 20 7-14 10 134 70 152 110 190 160 546 490 254 220 271 220 341 260 84 70-8 2-28-12-175-110-228-160-293-220-390-320-579-500-207-166-80-61-20-9 0 8 10 3 130 125 201 210 351 380 64 80-6 6-10-5-30-22-50-49-209-220-298-330-143-145-5 5 207 250 299 380 118 160 2 10-1 7-20-14-90-103-250-320-218-290-36-40-2-10-4-4-5 4 1 10 18 20 88 130 398 599 50 81 17 40-7 2-50-62-3-10-107-150-390-608-5 8 4 10 421 739 80 148 20 43 1 10-1 3-10-7-20-27-2-9-28-40-2-10-118-199-211-381-129-245-4 5 0 10 9 10 0 10 9 10 1 10 9 10 1 10 27 50 102 220 236 480 70 150 30 80 0 5-10-4-1-11-29-45-80-160-180-375-180-392-5 12 19 40 21 60 355 856 40 111 2 23-2 3-10-15-4-18-16-26-100-235-300-753-5 14 9 20 3 20 7 10 31 100 17 40 248 707 70 211 20 82 0 10-4-10-6-2-2-18-18-34-60-167-3-19-17-38-150-436-117-356-6-10-3-20-7-10-3-20-8-10-1-20-5-6-5 6 1 20 8 10 1 20 8 10 12 60 7 10 278 948 60 226 3 36-3 6-80-254-15-62-15-42-141-488-84-310-7-10-4-30-7-10-13-60-9-10 0-20-5-14-5 14 2 20 8 10 0 20 8 20 11 60 9 20 4 30 173 691 90 380 23 119 7 19 3 31 7 20 0 49-2-19-8-12-2-18-8-17-2-23-8-17-2-23-8-17-100-411-161-682-4-30-18-60-4-30-6-10-2-30-8-10-2-30-5-14-5 14 0 20 9 20 1 30 8 20 3 30 154 750 130 694 0 68-2-22-8-13-2-27-8-19-3-31-7-17-3-33-7-17-60-301-183-952-2-30-8-20-2-30-8-20-3-40-8-10-1-40-5-14-5 14 1 30 8 20 2 40 7 20 2 40 125 768 120 815 0 89-20-93-50-309-210-1419-5 19 0 40 8 30 2 50 105 892 80 747 10 110 0 122-10-20-10-63-60-509-150-1472-6 13 2 100 64 989 40 747 9 284-5 100-28 0-6-44-20-210-19-296-42-860-29-791-20 0 0-529zM88 15l7 3 4-3-4-7zM91 65l4 3 5-3-5-4zM101 75l4 4 7-4-7-5zM81 105l4 4 4-4-4-4zM111 115l4 4 5-4-5-8zM47 125l18 3 4-3-14-3zM81 135l4 4 4-4-4-4zM101 135l4 4 4-4-4-5zM111 145l4 5 4-5-4-4zM81 165l4 4 4-4-4-6zM101 165l4 6 4-6-4-4zM13 175l2 17 20 15 20 5 23-7-3-5-30 2-30-31zM43 175l22 3 13-3-3-3-30 0zM91 185l4 4 4-4-4-5zM111 185l4 4 4-4-4-6zM80 195l5 4 4-4-4-4zM105 195l-3 10 3 3 3-3zM121 195l3 10 5 0-4-14zM91 215l-1 10 5 1 4-11-4-4zM112 215l-1 10 4 5 4-5-4-14zM75 235l-20 13-21 7-12 30 3 51 6-51 17-20 40-30-3-9zM103 235l-2 10 4 4 4-4-4-12zM122 235l-1 10 4 5 5-5-5-13zM91 255l4 9 4-9-4-5zM115 255l-5 10 5 8 5-8zM84 265l-4 10-26 30-12 30 3 27 15-47 29-40 2-10-6-2zM100 285l5 9 5-9-5-6zM120 285l5 13 5-13-5-6zM90 305l5 9 5-9-5-8zM112 305l-2 10 5 9 5-9-5-13zM130 305l5 17 5-7-5-15zM84 315l-15 40-8 10 0 20 4 7 5-27 18-30 2-20-5-1zM101 335l4 15 5-15-5-6zM121 335l4 16 5-6-5-15zM92 355l-2 10 5 11 5-11-5-13zM134 355l-4 10 5 15 5-15-5-10zM110 365l5 19 5-19-5-7zM33 385l-2 50 4 44 4-54-4-46zM82 385l-1 20 4 4 5-14-5-16zM101 395l4 22 5-12-5-15zM121 395l4 21 5-11-5-15zM52 405l3 43 4-33-4-18zM74 415l-4 20 5 18 5-18-5-22zM93 425l-3 20 5 14 5-14-5-23zM114 425l-4 20 5 13 5-13-5-21zM62 475l-2 30 5 25 5-35-5-28zM81 475l0 30 4 10 5-20-5-27zM101 475l-1 20 5 13 5-23-5-18z"/><path fill="#52ffad" d="M-5 -15l42 0 0 20 8 5 6-5 0-20 48 0 0 20-12 10 8 4 10-12 26 8-10 10 14 7 10-12 15 5-12 10 132 70 151 110 189 160 671 600 188 160 320 260 56 53-49-23-105-70-152-110-209-160-328-270-507-440-200-160-170-128-20-10-3 8 13 7 128 123 201 210 201 220 63 80-3 8-10-6-77-72-358-390-165-165-3 5 96 110 338 430 79 108 11 22-1 10-70-76-130-163-310-406-5 5 10 10 0 10 39 50 286 430 100 156 41 74-1 10-20-20-2-10-68-90-3-10-107-157-260-408-5 5 14 30 351 620 60 113 12 37-22-23-120-206-290-534-5 13 10 10 1 10 27 50 1 10 28 50 24 60 234 479 70 151 17 50-7 1-2-11-8-7-60-115-181-378-139-306-5 6 0 10 10 10-1 10 19 40 21 60 246 590 60 156 5 24-5 8-100-230-250-629-6 11 2 10 8 10 12 50 7 10 31 100 18 40 3 20 185 520 70 220 0 20-50-124-2-16-88-240-4-20-36-96-116-354-7-10-2-20-8-10-2-20-9-10-1-20-11-10 1-20-5-6-6 16 10 20 1 20 8 10 2 20 7 10 12 60 7 10 73 260 66 210 14 60 76 253 40 156 0 17 0-6-10-9-3-21-7-8-2-22-8-10-23-90-17-43-141-487-45-170-15-40-4-30-7-10-13-60-9-10 0-20-6-15-6 15 2 20 8 10 0 20 18 60 14 70 94 369 140 596 0 46-2-21-8-9-4-31-6-8-4-32-6-8-50-200-200-847-5 5 0 30 8 20 2 30 8 20 2 30 165 809 60 331 0 48-1-18-9-13-4-37-6-8-3-32-7-16-40-196-190-993-6 15 1 30 8 20 2 40 7 20 3 40 105 649 90 619 0 47-3-15-7-7-4-43-6-10-3-40-7-19-3-41-27-146-170-1145-5 11 0 50 7 30 4 60 124 1083 30 306 0 99-10-22-4-46-6-21-40-338-123-1181-3-60-2-20-7-10-5-99-4 69 7 50 3 100 44 679 40 744 5 257-5 58-10 8-10-11-10-66-30-403-31-616-29-786-20 0 0-474zM91 65l4 4 6-4-6-4zM101 75l4 4 9-4-9-6zM43 85l12 3 5-3-15-3zM71 95l4 3 3-3-3-3zM81 105l4 5 4-5-4-4zM46 125l19 4 4-4-14-3zM81 135l4 4 4-4-4-4zM100 135l5 5 5-5-5-5zM42 145l33 3 3-3-3-3-30 0zM80 165l5 4 4-4-4-7zM101 165l4 7 4-7-4-5zM13 175l2 20 40 19 20-5 15-14-5-5-10 9-30 2-30-32zM42 175l23 4 13-4-3-4-30 1zM90 185l5 4 4-4-4-6zM110 185l5 5 5-5-5-7zM104 195l-3 10 4 4 4-4-4-11zM90 215l-16 20-41 20-11 30 3 54 7-54 17-20 40-30 11-20-5-5zM111 215l-1 10 5 5 5-5-5-14zM102 235l-2 10 5 4 4-4-4-13zM90 255l-11 20-26 30-12 30 4 29 16-49 39-60-5-5zM114 255l-4 10 5 9 5-9-5-11zM100 285l5 10 5-10-5-7zM120 285l5 13 5-13-5-6zM90 305l-29 60-1 20 5 8 6-28 29-60-5-9zM111 305l-1 10 5 11 5-11-5-14zM100 335l5 15 5-15-5-7zM120 335l0 10 5 7 5-7-5-16zM92 355l-1 20 4 2 5-12-5-14zM110 365l5 20 5-20-5-8zM81 385l-1 20 5 5 5-15-5-17zM101 395l4 23 6-13-6-16zM51 405l0 30 4 15 5-35-5-19zM73 415l-3 20 5 20 5-20-5-23zM92 425l-2 20 5 15 5-15-5-24zM113 425l-4 20 6 14 6-14-6-22zM61 475l-1 40 5 17 4-7 1-30-5-30zM81 475l-1 30 5 12 6-22-6-29zM100 475l0 20 5 14 4-4 2-20-6-19z"/><path fill="#69ff96" d="M-5 -15l41 0 0 20 9 5 7-5 0-20 42 0 0 20-9 10 10 5 10-11 21 6-8 10 17 8 10-11 10 3-9 10 129 70 149 110 190 160 670 600 303 260 30 30-2 7-47-27-70-50-209-160-266-220-506-440-204-160-218-155-5 5 48 40 114 110 154 160 100 110 90 110-1 9-66-59-258-280-166-167-4 7 136 160 248 319 30 43 13 28-3 3-10-9-40-44-306-400-37-40-2-10-25-26-5 6 19 20 1 10 18 20 88 130 209 320 60 99 2 11-22-19-50-70-3-11-37-49-3-11-267-408-5 8 10 10 40 80 27 40 2 10 176 309 90 166 14 35-4 7-20-29-90-157-3-11-57-98-96-182-26-40-58-115-5 15 11 10-1 10 9 10 1 10 56 110 24 60 105 210 24 60 76 153 35 87-5 4-10-16-5-18-55-100-24-60-76-150-6-20-144-307-6 7 2 10 17 30 40 110 197 474 3 16 37 88 3 22-3 5-2-15-8-7-3-13-17-29-22-61-18-35-220-551-6 16 11 10 0 20 8 10 2 20 8 10 2 20 7 10 32 100 17 40 3 20 126 352 3 18 17 40 3 20 17 39 2 21 18 48 1 22-2-10-9-9-3-21-17-33-2-17-18-38-4-22-6-8-33-102-17-39-3-21-7-9-105-321-7-10-2-20-8-10-3-20-8-10-1-20-10-10 0-20-6-7-6 17 10 20 0 20 8 10 22 90 66 212 84 298 6 10 2 20 48 164 2 26-2 8-2-18-8-9-2-21-18-43-4-27-6-7-24-93-26-76-3-24-27-79-34-131-26-80-5-30-15-40-5-30-6-10-5-30-7-10-1-20-8-10-3-30-10-10 1-20-6-13-6 13 2 20 8 10 1 30 8 10 1 20 18 60 13 70 26 90 13 70 26 91 13 69 27 95 34 155 6 13 14 77 6 10 2 30 8 17 3 43-3 2-1-22-9-14-14-66-6-9-4-31-6-10-4-30-6-11-14-69-6-11-3-29-7-13-3-27-7-15-34-155-37-140-12-70-9-20-3-30-16-50-3-30-9-20-2-30-9-10 0-30-6-10-6 10 0 20 10 20 0 30 8 20 2 30 8 20 3 30 75 361 65 349 5 10 13 90 7 19 3 41 7 20 0 27-2-17-8-6-3-34-7-10-4-40-6-8-34-182-6-15-4-35-6-16-3-34-7-17-3-33-7-18-110-578-5 6 0 40 7 20 2 40 7 20 3 40 106 658 23 182 7 22 3 48 7 25 4 75-4 7-3-37-7-13-2-37-8-21-3-39-7-22-3-38-17-87-80-533-15-120-6-20-4-50-7-20-4-50-7-20-1-40-10-30 0-40-6-22-5 12 0 40 8 30 2 60 7 30 3 50 65 549 50 473 9 128-1 10-8 9-60-493-75-756-8-40-2-60-9-40-1-70-5-22-5 22 0 60 7 50 28 456 40 724 6 270-6 51-10 5-10-38-10-95-20-294-31-659-19-513-20 0 0-427zM52 35l3 4 4-4-4-4zM33 55l2 4 6-4-6-2zM42 85l13 4 6-4-16-3zM71 95l4 4 4-4-4-4zM92 95l3 3 6-3-6-4zM80 105l5 6 5-6-5-5zM45 125l20 4 5-4-5-4zM92 125l3 3 4-3-4-5zM80 135l5 5 5-5-5-5zM42 145l33 4 4-4-4-4-30 1zM92 145l3 8 3-8-3-3zM32 165l3 3 4-3-4-7zM79 165l6 5 5-5-5-8zM100 165l5 8 5-8-5-5zM12 175l3 22 40 19 20-6 25-25-5-7-20 21-30 2-30-33zM42 175l23 5 14-5-4-5-30 1zM103 195l-3 10-27 30-41 20-11 30 4 57 8-57 17-20 40-30 20-30-5-12zM102 235l-2 10-18 20-3 10-26 30-13 30 0 20 5 11 17-51 48-70-5-13zM113 255l-4 10 6 10 6-10-6-12zM99 285l0 10-17 20-22 50-1 20-9 30 5 37 5-17 0-40 5-1 5-9 2-20 39-80-6-8zM111 305l1 20-12 10-1 10-8 10-2 20-8 10-1 20-11 20 1 20 5 11 5-11 0-30 9-10 2-20 10-20-1-10 10-10 11-30-6-15zM109 365l6 21 6-21-6-8zM100 395l1 20 4 4 6-14-6-17zM91 425l-2 20 6 16 6-16-1-20-5-5zM80 475l0 30 5 13 4-3 2-20-1-20-5-10z"/><path fill="#80ff80" d="M-5 -15l41 0 0 20 9 6 7-6 0-20 36 0 0 20-5 10 12 5 10-10 15 5-4 10 50 20 103 60 150 110 189 160 725 650 84 80-2 7-31-17-82-60-210-170-435-380-203-170-132-100-227-156-6 6 48 40 113 110 152 160 94 110 1 10-12-7-56-53-205-220-108-110-21-15-4 5 105 120 209 268 30 42 12 30-102-119-175-231-37-40-2-10-36-37-4 7 27 30 1 10 39 50 2 10 105 150 130 205 24 45-4 3-20-23-40-59-3-11-57-80-125-200-55-79-6 9 10 10 13 30 26 40 1 10 27 40 2 10 61 110 26 40 120 220 6 20-6 2-10-14-1-8-29-44-34-66-26-39-2-11-59-100-2-10-58-100-33-70-20-30-1-10-15-23-5 13-28 30-41 20-10 30 4 61 10-61 16-20 39-30 15-25 5 5-11 30-47 60-12 30 0 20 5 12 18-52 47-70 0-10 5-4 5 4-11 30 3 10-13 10-39 80-1 20-9 20 1 40 4 9 6-19 0-30 9-20 2-20 43-89 5 19-10 10 0 20-11 10 0 10-9 10-10 30-1 20-8 10 1 40 6 0 3-40 9-10 2-20 23-57 4 17 9 10 1 20 8 10 2 20 8 10 2 20 8 10 31 100 18 40 2 20 7 10 14 50 36 92 23 78 7 10 2 20 18 40 2 20 18 42 1 28-31-80-3-20-17-35-23-75-7-11-13-49-7-9-3-21-7-9-13-51-18-40-23-80-7-10-2-20-8-10-3-20-8-10-1-20-9-10-2-20-12-10 2-20-6-9-6 9 2 20-12 10 1 20-10 10 0 30 5 7 5-7 1-30 9-10 5-27 64 227 6 10 6 30 15 40 2 20 17 46 4 24 6 9 22 91 8 14 3 26 17 44 3 26 7 9 16 71-6 5-12-55-8-10-2-20-8-11-4-29-6-7-24-93-16-42-13-58-17-47-14-63-6-10-14-60-7-10-4-30-7-10-2-20-7-10-3-30-9-10-1-20-6-14-6 14 1 20 8 10 2 30 7 10 22 110 7 10 3 30 6 10 14 70 6 10 3 30 7 12 3 28 27 95 33 155 7 13 13 77 7 12 2 38-2 3-1-23-9-14-3-26-7-9-3-31-7-10-13-70-17-51-3-29-7-13-3-27-7-16-24-114-6-10-3-30-7-13-3-27-8-20-3-30-16-50-3-30-9-20-3-30-8-10-1-30-6-12-6 12 1 30 8 10 0 30 9 20 1 30 8 20 3 30 26 115 24 135 6 15 3 35 7 16 3 34 7 16 3 34 7 18 3 32 7 19 4 41 6 11 12 89 8 20 0 52-2-32-8-11-2-29-8-17-13-83-7-14-3-36-7-14-3-36-7-15-3-35-7-16-3-34-7-17-24-143-6-13-3-37-8-20-2-30-8-20-3-40-8-20-2-30-8-20-3-40-9-10 0-40-6-11-6 11 0 30 9 20 1 40 7 20 3 40 6 20 23 170 7 20 3 40 37 219 3 41 7 24 3 46 7 19 4 51 6 16 15 144-5 7-3-37-7-18-3-42-7-18-3-42-7-19-3-41-17-86-54-384-6-20-4-50-7-20-4-50-7-20-3-50-8-20-2-50-5-13-5 13-1 40 8 30 3 60 7 30 2 50 76 657 4 73 6 27 10 133 0 4-10 0-40-326-90-882-5 24 0 60 7 60 28 465 30 585 0 143-10 15-10-17-10-85-20-300-40-949-20 0 0-387zM51 35l4 4 5-4-5-4zM33 55l2 6 8-6-8-3zM47 55l8 4 3-4-3-3zM61 65l4 3 3-3-3-3zM72 75l3 3 4-3-4-3zM41 85l14 4 7-4-17-4zM82 85l3 3 5-3-5-4zM70 95l5 4 5-4-5-4zM80 105l5 7 5-7-5-5zM44 125l21 5 6-5-6-5-20 4zM31 135l4 3 4-3-4-3zM79 135l-4 5-30 1-4 4 4 4 30 0 15-14-5-5zM22 145l3 3 3-3-3-4zM91 145l4 10 4-10-4-4zM31 165l4 4 4-4-4-9zM79 165l-4 4-30 1-4 5 4 4 30 1 16-15-6-9zM100 165l5 9 6-9-6-6zM11 175l4 24 10 0 10 10 20 8 20-7 25-25-5-8-20 21-30 2-30-34zM145 23l5 2-5 5-1-5zM125 251l60 124 24 60 76 150 52 120 28 51 4 19 6 7 0 22-150-309-33-80-50-100-1-10-10-10 0-10-14-10 4-10-2-10zM125 300l180 441 33 94 7 8 4 22-4 8-3-18-17-28-14-42-36-78-45-122-16-30-4-20-16-30-3-20-48-110-12-40-12-10 1-20z"/><path fill="#96ff69" d="M-5 -15l40 0 0 20 10 6 8-6 0-20 30 0-2 30 14 6 10-9 10 3-2 10 48 20 94 54 158 116 188 160 423 380 174 160 49 50-2 7-141-107-121-100-318-280-202-170-130-100-238-157-7 7 48 40 113 110 96 100 65 80-5 6-20-16-5-10-55-52-210-220-30-23-4 5 9 10-5 4-10-9-6 5 10 10-7 10 3 4 20-19 101 115 3 10 37 40 3 10 36 40 3 10 57 70 40 59 1 11-61-70-144-190-37-40-3-10-36-38-20 22-30 1-4 5 4 5 30 0 10-9 5 4-15 24-30 1-5 5 5 5 30 0 16-15 14-24 12 14 2 10 38 50 3 10 135 199 3 11 47 70 10 20 0 11-70-99-4-12-166-250-10 16-10-14-20 20-20 4-16-6-24-30-5 20 5 16 10-1 30 18 20-7 20-20 6 4-2 10-28 30-41 20-10 30 5 64 10-63 18-21 38-30 14-24 4 4-11 30-47 60-12 30 0 30 6 4 3-4 15-50 42-64 6 4-2 20-28 40-22 50-1 20-9 20 0 30 6 20 6-20 1-30 9-20 2-20 32-67 4 7-1 20-10 10 0 10-9 10-10 30-1 20-10 20 1 20 6 15 6-15 2-30 8-10 11-50 13 0-7 10 1 20-10 10-1 20-8 10-1 30-10 20 0 30 8 20 1 40 8 20 2 40 7 23 24 177 6 15 3 45 7 19 3 41 7 25 3 45 7 22 3 48 7 19 3 51 7 20 0 66-2-36-8-20-2-40-8-20-4-50-6-13-3-47-7-17-3-43-7-21-4-49-6-16-13-114-7-22-3-48-7-20-4-50-7-20-5-60-6-10-3-60-5-5-6 15 0 40 8 40 2 50 7 30 42 410 7 31 3 69 7 27 3 73 7 29 0 93-1-32-9-23-3-57-7-25-4-65-6-20-55-550-6-30-5-80-7-30-3-80-4-6-6 26 0 60 7 60 39 679 6 231-6 54-10-10-20-226-40-902-20 0 0-356zM51 35l4 5 6-5-6-5zM32 55l3 8 10-8 10 5 4-5-4-4-10 4-10-3zM72 55l3 4 10-4-10-8zM61 65l4 4 4-4-4-4zM71 75l4 4 4-4-4-4zM41 85l14 5 8-5-18-5zM22 95l3 3 13-3-13-3zM51 105l4 4 5-4-5-4zM12 115l3 4 23-4-23-4zM43 125l22 5 6-5-6-5-20 3zM30 135l5 4 4-4-4-4zM21 145l4 4 4-4-4-4zM35 155l-4 10 4 4 5-4zM99 165l6 10 6-10-6-7zM95 130l4 5-4 5-4-5zM115 192l5 13-5 4-6-14zM125 210l6 15-6 4-4-14zM115 232l4 3-4 16-4-16zM135 229l170 304 2 12 28 47 0 16-60-102-13-31-27-40-34-70-26-40-33-70-10-10-1-10zM125 252l187 403-7 3-2-13-28-47-2-13-18-29-30-63-4-18-47-90-32-80-10-10 0-10-13-10 1-20zM115 277l4 18-4 4-6-4 3-10zM125 301l8 24-13 0 1-20zM115 329l3 6-3 20-3-20zM135 326l114 289 16 29 4 21 16 30 3 20 7 9 5 21-5 1-1-11-19-33-2-17-18-30-3-20-7-7-13-43-17-30-3-20-17-30-3-20-17-31-35-99-8-10 0-10zM125 354l14 51 8 10 1 20 8 10 13 50 16 34 13 46 7 10 2 20 18 39 3 21 7 9 13 51 7 9 13 51 7 9 2 21 8 10 0 23-1-13-9-10-2-20-8-9-14-51-16-32-12-48-8-10-13-50-8-10-2-20-7-10-13-50-8-10-12-50-8-10-2-20-8-10-2-20-11-10 1-20-6-10zM115 389l4 26-4 5-4-5 1-20zM105 421l4 4 0 30-4 7-4-7 0-30zM125 421l3 24 7 10 14 60 7 10 1 20 18 48 3 22 7 11 13 59 7 10 2 20 28 85 3 25 7 10 4 30 6 8 7 32-7 1-2-21-8-9-1-21-19-48-2-22-8-10-4-30-6-7-3-23-7-9-2-21-8-16-3-24-17-45-3-25-7-10-4-30-7-10-2-20-7-11-4-29-8-10-2-30zM95 463l4 2 0 40 8 10 2 40 7 10 4 40 6 10 13 90 6 10 34 190 6 9 4 41 6 12 12 88 8 18 0 51-2-29-8-16-3-34-7-14-3-36-7-12-3-38-7-13-3-37-7-14-3-36-7-15-3-35-7-17-5-43-5-10-4-40-6-10-3-40-9-20-1-30-9-20-2-40-7-10-4-50zM115 462l4 33 7 10 13 70 6 10 3 30 7 11 3 29 7 13 13 67 7 14 14 76 6 8 3 32 7 10 3 30 7 10 2 30 8 15 0 44-3-29-7-11-3-29-7-9-3-31-7-10-3-30-7-12-22-108-8-16-4-34-6-10-3-30-17-52-5-38-7-10-2-30-8-10-3-40zM315 658l5 17-5 2-3-12z"/><path fill="#adff52" d="M-5 -15l39 0 0 20 11 7 8-7 0-20 25 0 1 30 16 7 10-9 5 2 0 10 47 20 78 45 95 65 138 110 127 110 350 320 63 60 17 23-11-3-87-70-324-280-195-160-154-110-189-113-2 3 12 14 10-2 3 8 48 40 9 13 103 97 48 50 49 59 5 11-15-9-50-49-117-122-45-40-8-13-40-32-5 5 10 10-11 10 10 10-14 14-23 6 23 6 30-31 50 55 4 10 86 101 3 9 27 30 50 69 2 11-22-20-112-140-3-10-45-50-3-10-37-39-20 23-30 1-5 5 5 5 30 1 10-10 5 4-15 23-30 1-10-15-5 11 15 15 30 1 20-24 6 18-6 1-20 20-30 3-31-34-4 20 5 18 10-2 30 18 20-8 20-19 5 3-2 10-28 30-41 20-10 40 6 58 10-66 19-22 21-14 20-21 4 5-1 10-18 20-3 10-27 30-11 30-2 30-7 10-2 20 1 70 7 60 29 514 0 229-10-12-20-251-30-694-20 0 0-326zM50 35l5 5 6-5-6-5zM31 55l4 9 10-8 10 4 5-5-5-5-10 4-10-3zM60 65l5 5 5-5-5-4zM40 85l5 5 10 0 9-5-19-5zM21 95l14 4 4-4-14-4zM50 105l5 4 7-4-7-4zM11 115l4 4 20 0 4-4-4-4-20-1zM30 135l5 5 5-5-5-5zM21 145l4 4 4-4-4-5zM85 90l5 5-5 4-4-4zM95 130l3 5-3 5-3-5zM105 142l11 13-1 19-3-9-14-10 3-10zM125 172l130 193 44 80-4 1-10-11-1-10-19-22-149-228zM105 176l3 9-3 5-3-5zM115 192l4 13-4 3-5-13zM105 211l3 4-3 14-5-4 2-10zM125 211l5 14-5 4-3-14zM115 233l3 2-3 15-4-15zM135 230l50 85 34 70 26 39 2 11 19 30 2 10-3 6-111-196-23-50zM105 252l5 3-4 20-26 40-21 50-11 60 1 20 10 20 0 60 8 30 1 50 7 30 23 240 7 28 3 72 7 24 2 66 8 37 0 69-3-36-7-17-4-63-6-17-4-73-6-17-13-153-7-32-3-68-7-30-5-80-7-30-3-70-8-40-1-70 8-10 15-50 17-20 21-40zM125 253l13 32 18 30 5 20-6 4-12-34-10-10-1-10-11-10 0-20zM115 279l3 16-3 3-5-3 2-10zM105 300l4 5-3 20-8 10-1 10-8 10-10 30-2 20-8 10-4 43-6-3 3-50 10-20 2-20 28-60zM125 302l6 23-9 0 0-20zM135 328l4 17-4 4-3-14zM165 339l24 56 16 27 2 13 28 50 6 20-6 4-12-34-8-8-22-52-18-30-14-40zM105 353l7 2-5 30-9 10-1 20-8 10-4 35-5-5 4-40 7-10 12-50zM145 351l3 14 8 10 3 20-4 6-14-46zM125 355l5 30-7 0 0-20zM115 390l3 25-3 3-3-23zM165 401l43 114 7 10 4 20-4 7-2-17-18-33-2-17-9-10-24-70zM145 414l3 21 8 10 3 20-4 8-17-58zM105 422l3 3-3 35-3-35zM125 422l5 33-5 1-3-31zM75 461l5 4-1 50 7 10 3 50 6 12 14 118 6 12 3 48 7 16 2 44 8 20 3 50 7 17 3 53 7 18 0 63-2-41-8-17-2-43-8-19-2-41-8-23-13-117-7-16-3-44-8-30-2-40-7-20-5-60-7-20-2-50zM95 464l3 41-3 9-2-49zM115 464l3 31 7 10 6 40-6 3-3-33-9-20-1-30zM135 457l13 58 7 10 4 30-4 7-3-27-8-10-12-60zM165 472l3 23 18 40 3 20-4 8-2-18-8-13-2-17-8-10-7-30zM105 515l3 40 7 10 3 40 7 10 3 40 7 12 3 38 7 13 13 87 7 16 4 44 6 8 3 42-3 9-3-39-7-9-3-41-7-9-3-41-7-10-3-40-7-12-3-38-7-14-3-36-8-20-3-40-7-10-4-50zM245 510l5 15-5 4-4-14zM135 548l12 67 8 14 2 26 8 16 4 34 6 8 4 32 6 8 3 32 6 10-9 1-13-71-7-10-2-30-8-11-2-29-18-56-4-34zM225 552l2 13 8 10 3 20-3 5-2-15-8-9-6-21zM165 561l8 34-8 3-6-33zM195 562l15 53-5 5-17-55zM175 596l13 59 7 10 2 20 8 15 2 25 8 10 0 33-2-23-8-10-1-20-9-14-3-26-7-8-2-22-8-14-4-26zM215 621l2 14 8 14 4 26-4 2-15-52zM195 796l3 39-3 2-2-32z"/><path fill="#c3ff3c" d="M-5 -15l38 0 0 20 12 7 8-7 0-20 20 0 4 30 18 7 10-7 2 10 46 20 102 60 70 50 136 110 124 110 92 90-2 5-10-5-41-30-144-120-130-100-87-60-198-114-10-12-6 6 21 20-5 5-10-10-20 0-4 5 4 11 10-9 10 4 24 24-11 10 10 10-13 14-24 6 24 6 17-16 11 0-18 23-30 1-10-9-15 15 5 5 10-10 10 11 38 4-8 12-20 2-10-1-10-15-5 12 15 16 30 1 10-10 10 3-20 20-30 3-24-23-6-13-6 23 6 20 10-3 30 18 20-8 20-20 4 3-1 10-29 30-34 13-6 7-10 30 0 40 6 32 10-68 20-24 10-4 30-30 4 4-2 10-18 20-3 10-27 30-11 30-10 60 0 70 8 60 19 350 0 214-10-28-10-118-30-654-20 0 0-304zM21 45l4 3 3-3-3-3zM12 85l3 4 4-4-4-3zM40 85l-5 6-10 0-4 4 14 5 10-9 10 0 9-6-9-6-10 0zM49 105l6 5 8-5-8-5zM11 115l4 5 20 0 5-5-5-5-20-1zM75 60l10-1 24 26-4 8-35-28zM85 91l4 4-4 3-4-3zM115 91l20 14 10 15 42 35 93 100-5 5-30-25-15-20-123-120zM95 101l90 104 68 90-8 2-20-21-4-11-37-40-3-10-79-90-10-20zM85 142l4 3-4 7-3-7zM105 142l11 13-1 17-15-17 1-10zM125 173l9 12-9 2-7-12zM115 193l4 12-4 3-4-13zM135 186l4 9-4 5-2-5zM145 202l30 43 4 10-4 7-35-57zM105 212l0 17-4-4 2-10zM125 211l4 14-4 3-3-13zM135 231l9 14-9 2-3-12zM105 252l4 3-4 19-26 41-21 50-11 60 3 30 8 10 0 60 8 30 2 60 7 21 3 69 7 24 3 66 7 28 3 72 7 26 0 80-2-46-8-23-2-57-8-30-3-60-7-33-3-67-7-24-14-176-8-30-1-70 23-70 23-30 15-30zM125 253l6 22-7 0-2-20zM155 263l2 12 9 10 3 10-4 5-19-35zM185 261l7 14-7 4-7-14zM285 262l3 3-3 10-3-10zM115 280l0 17-4-2 2-10zM135 276l8 19-9 0-1-10zM195 278l20 27-10 3-14-23zM105 301l0 24-17 30-12 50-7 10-4 41-2-51 6-10 6-30 28-60zM125 302l3 23-3 1-2-21zM145 296l10 19-10 1-2-11zM175 302l16 33-6 3-15-33zM215 305l14 30-4 4-10-13-2-11zM265 313l4 12-4 0-2-10zM155 315l4 20-4 3-3-13zM165 341l4 14-4 3-3-13zM195 339l10 16 0 18-13-28zM235 341l13 24-3 1-10-11-3-10zM105 354l4 1-4 30-4-10 3-20zM175 361l4 14-4 7-3-17zM155 374l3 21-3 4-5-24zM95 384l9 1-7 10-2 21-9-1 6-10 2-20zM235 413l3 12-3 1-2-11zM85 415l3 10-3 34-3-4 1-30zM205 424l6 21-6 1-5-21zM215 448l4 17-4 0-1-10zM75 463l3 52-3 9-2-59zM85 525l3 50 7 16 2 44 8 22 3 48 7 17 6 63-6 3-2-43-8-20-3-50-7-16-3-54-7-12-3-58zM115 568l3 47-3 1-3-41zM125 619l4 46-4 3-3-43z"/><path fill="#daff25" d="M-5 -15l36 0 0 20 14 7 9-7 0-20 14 0 0 20 7 10 74 30 101 60 145 110 97 90-7 3-21-13-194-140-82-50-123-66-10-11-6 7 12 10-16 7-10-3-5 6 5 12 10-9 10 4 24 23-4 3-20-10-10 1-10 11-10 0-5 5 5 5 10 1 10-10 20-5 2 9 11 10-13 13-20 2-10-11-20-1-5 7 5 6 20-1 5 5-21 20 6 6 10-10 4 4-10 20 16 17 30 0 10-9 8 2-19 20-29 3-23-23-7-15-7 15 5 30 12-2 30 18 20-8 20-20 3 2-1 10-28 30-34 12-7 8-10 30 1 50 6 26 10-71 22-25 38-33 3 3-2 10-18 20-2 10-28 30-8 20-5 37-6 3-1 10 0 100 7 50 4 130 6 52 3 188-3 40-10-59-10-150-20-460-20 0 0-201 20 0-20 0 0-80zM20 45l5 4 4-4-4-4zM11 85l4 4 4-4-4-4zM48 105l7 6 9-6-9-6zM65 49l4 6-4 4-4-4zM75 61l10 1 23 23-3 7-34-27zM115 92l5 3-5 5-6-5zM125 101l99 94-9 3-39-33-5-10-47-40-3-10zM85 114l4 1-1 10-13 12-30 2-4-4 4-5 20 2 19-17zM105 112l78 93-8 3-77-93zM85 143l3 2-3 6-3-6zM105 143l10 12-13 0 0-10zM45 151l36 4-6 11-20 2-10 0-7-13zM125 173l7 12-7 2-5-12zM145 203l11 12-1 18-14-28zM185 207l28 38-8 1-20-21-2-10zM235 208l6 7-6 4-1-4zM135 232l6 13-7 0-1-10zM165 233l8 12-8 2-7-12zM185 263l4 12-4 2-4-12zM95 272l6 3-32 60-12 30-1 20-7 10-1 60-3 6-1-86 21-58 28-42zM205 294l3 11-3 1-5-11zM175 303l4 12-4 3-3-13zM95 322l7 3-22 50-5 30-7 10-3 39-1-49 7-10 4-28 18-32 1-10zM55 463l13 162 7 18 3 72 7 23 0 89-3-72-7-13-13-157-7-30-4-90z"/><path fill="#f1ff0e" d="M-5 -15l35 0 0 20 15 8 9-8 0-20 9 0 0 20 9 10 73 30 101 60 67 50 70 60 6 10-7 0-187-121-101-49-39-27-7 7 12 10-5 3-20 1-10-9-6 5 16 23 10-9 23 16-3 7-20-4-10 11-10 0-10-9-5 5 15 16 10 0 10-9 20-3 12 16-12 12-20 2-10-11-20-1-5 8 5 7 20-1 5 4-21 20 12 10-3 10 17 17 30 1 10-10 6 2-5 10-14 10-27 2-22-22-8-16-7 16 3 30 4 4 10-5 30 18 20-9 22-18-1 10-28 30-33 12-14 18-2 10-1 50 9 50 1 120 7 41 3 139 7 90-2 20-8 7-20-296-8-231-2-16-20 0 0-183 21-1-21-2 0-78zM47 105l8 7 10-7-10-7zM65 50l4 5-4 3-3-3zM75 62l10 2 12 11-2 9-23-19zM115 93l3 2-3 3-5-3zM125 102l13 13-3 6-10-6-3-10zM105 113l27 32-7 1-25-31zM75 123l10-8 2 10-12 12-33-2 3-4 20 2 9-8zM145 122l4 3-4 4-6-4zM155 131l6 4-6 3-4-3zM35 142l3 3-3 6-4-6zM105 144l5 11-7 0 0-10zM45 152l35 3-5 11-20 2-10-1-5-12zM135 148l4 7-4 5-1-5zM175 148l10 7 3 10-3 3-12-13zM125 174l5 11-6 0-2-10zM155 174l18 21-8 1-19-21zM145 203l9 12-9 0-2-10zM95 233l1 12-48 60-9 20-4 34-4-4 4-63 58-57zM95 273l4 2-4 13-4-3 3-10zM85 291l3 4-2 10-9 10-1 10-17 30-4 30-7 10-3 63 0-81 20-58 18-24zM95 323l4 2-4 20-8 10-2 13-5-3 14-40zM75 369l3 6-3 28-1-28zM65 403l6 2-6 46-1-46z"/><path fill="#fff700" d="M-5 -15l34 0 0 20 16 8 10-8 3-20 0 20 11 10 72 30 84 50 79 60 6 10-10 0-105-65-97-45-43-28-7 8 11 10-4 3-20 0-10-8-7 5 10 10 7 14 10-9 22 15-2 5-20-3-10 12-10 0-10-10-5 6 15 16 10 1 10-9 21 2-1 6-10-3-9 7 9 7 10-5 0 10-20 1-10-11-20-1-6 9 6 8 24 2-21 20 11 10-1 10 17 18 30 0 10-9 4 1-4 10-15 10-25 2-22-22-8-18-8 18 1 30 7 7 10-7 20 16 10 2 10-2 32-26-1 10-29 30-32 11-16 19-1 10 0 70 8 30 1 130 8 52 0 127-10-51-18-388-2-11-20 0 0-166 22-3-2-4-20 0 0-76zM85 67l11 8-1 6-11-6zM125 103l3 2-3 6-2-6zM75 124l10-5 1 6-11 11-32-1 2-3 20 1 9-8zM115 124l8 11-8 1-10-11zM45 153l34 2-4 10-20 2-10-1-4-11zM95 233l0 12-53 70-7 42 0-64 59-58zM85 292l1 13-9 10-2 12-17 28-3 27-8 13-2 58 0-72 8-16 2-22 29-48z"/><path fill="#ffe000" d="M-5 -15l32 0 0 20 8 6 10 2 10-6 20 13 62 25 66 40 37 30-15 0-20-15-100-45-50-29-8 9 11 10-3 2-20 0-10-8-8 6 11 10 7 16 10-10 10 4 10 13-20-1-10 11-10 0-10-9-6 6 16 17 10 1 10-10 20 2-20 10 10 8 10-4 2 6-22 3-10-11-20-2-7 10 7 8 23 2-20 20 10 10-1 10 18 19 38 1-18 11-20 0-21-21-9-19-7 9-3 50-20 0 0-146 20 0 3-4-3-6-20 0 0-74zM85 73l11 2-1 3-10-3zM45 133l20 1 10-6 0 7-32 0zM45 153l32 2-6 10-16 1-10 0-3-11zM85 205l7 0-26 30-31 9-17 21-1 80 8 50 0 170-3-90-7-37-9-223 9 0 10-8 20 15 20 1zM85 245l4 0-4 10-46 60-4 38 0-58zM85 294l0 11-9 10-1 11-18 29-2 22 0-33 9-9 11-30 9-10z"/><path fill="#ffc900" d="M-5 -15l31 0 0 20 9 7 20-2 75 35 29 20-4 3-15-3-95-41 2 11 10 10-22 2-10-9-9 7 11 10 1 10 7 7 10-10 20 13-20 1-10 11-10 0-10-9-7 7 10 10-10 20 7 9 22 1-20 20-10 20-2 27-20 0 0-122 20 0 5-5-5-9-20 0 0-71zM45 94l16 1-16 7-1-7zM25 154l2 11 18 19 20 7 1 4-21 0-20-20-8-20zM45 154l20 2 3 9-23 0-2-10zM25 210l20 14 10 1 10-1 14-9-4 10-12 10-28 5-18 25-2 119-3-149 6-20zM65 265l10-2-38 52-2 29 0-43 10-17z"/><path fill="#ffb300" d="M-5 -15l30 0 0 20-12 10 2 3 40-5 28 12 2 5 19 5-19 2-40-15-10 3 10 4 11 16-21 1-10-9-10 7 11 11 1 10 8 8 10-9 16 11-16 0-10 11-10 1-10-10-7 8 9 10-10 20 8 10 21 0-11 7-16 23-4 18-20 0 0-102 20 0 6-6-6-10-20 0 0-70zM45 94l13 1-13 3-1-3zM45 155l4 0-4 4-1-4zM35 175l12 10-2 4-10-4-5-10zM25 213l17 12 6 10-13 1-18 19-2 51 0-71 8-20z"/><path fill="#ff9c00" d="M-5 -15l28 0 0 20-11 10 23 18 10 2 0 7-5 3-15-9-12 9 13 10-1 10 16 10-6 11-10 0-10-9-8 8 9 10-10 20 14 20-5 13-10 5-20 0 0-80 20 0 7-8-7-12-20 0 0-68zM35 14l19 1-19 6-4-6zM25 124l10 1-10 3-5-3z"/><path fill="#ff8500" d="M-5 -15l26 0 0 20-10 10 20 20-16 3-4 7 14 10-3 10 13 20-10 0-10-9-9 9 10 10-10 20 2 10 8 10-1 8-10-6-20 0 0-63 20 0 8-9-8-14-20 0 0-14 24-2-24-1 0-49z"/><path fill="#ff6e00" d="M-5 -15l24 0 0 20-9 10 10 10 2 10-37-3 0-47zM-5 39l10 0 5 6-5 5-20 0 0-11zM15 53l6 2-3 10 4 10-16 0 8-10-2-10zM-5 76l10 0 1 9 9 10-9 10-1 14-20 0 0-43z"/><path fill="#ff5800" d="M-5 -15l22 0 0 20-8 10 9 10-3 6-30-1 0-45zM-5 41l13 4-23 3 0-7z"/><path fill="#ff4100" d="M-5 -15l21 0 0 20-8 10 7 10-10 4-20 0 0-44zM-5 43l11 2-21 1 0-3z"/><path fill="#ff2a00" d="M-5 -15l18 0 0 20-6 10 3 10-5 2-20 0 0-42z"/><path fill="#ff1400" d="M-5 -15l15 0-5 40-20 0 0-40z"/><path fill="#fc0000" d="M-5 -15l12 0-2 27-20 0 0-27z"/></g><path fill="#fff" fill-rule="evenodd" d="M261.50 5.30H410.80V100.20H261.50zM264.00 7.80H408.30V97.70H264.00z"/><rect x="264.00" y="7.80" width="1.3" height="89.90" fill="url(#strip)"/><rect x="418.20" y="7.80" width="11.10" height="89.90" fill="url(#jetg)"/><g font-size="8.30" fill="#1c1c1c" stroke="#1c1c1c" stroke-width=".12"><text x="261.00" y="11.19" text-anchor="end">0</text><text x="261.00" y="34.91" text-anchor="end">1000</text><text x="261.00" y="58.63" text-anchor="end">2000</text><text x="261.00" y="82.35" text-anchor="end">3000</text><text x="264.00" y="109.00" text-anchor="middle">0</text><text x="292.86" y="109.00" text-anchor="middle">5</text><text x="321.72" y="109.00" text-anchor="middle">10</text><text x="350.58" y="109.00" text-anchor="middle">15</text><text x="379.44" y="109.00" text-anchor="middle">20</text><text x="408.30" y="109.00" text-anchor="middle">25</text><text x="432.20" y="11.19">-30</text><text x="432.20" y="26.17">-40</text><text x="432.20" y="41.15">-50</text><text x="432.20" y="56.14">-60</text><text x="432.20" y="71.12">-70</text><text x="432.20" y="86.10">-80</text><text x="432.20" y="101.09">-90</text></g><g font-size="8.70" fill="#1c1c1c" stroke="#1c1c1c" stroke-width=".12"><text x="336.15" y="120.10" text-anchor="middle">Range (km)</text><text transform="translate(238.80 52.75) rotate(-90)" text-anchor="middle">Depth (m)</text></g><text x="405.60" y="19.00" font-size="8" fill="#fff" text-anchor="end">(b)</text><rect x="30.70" y="132.50" width="145.80" height="90.70" fill="#00008b"/><g transform="translate(31.20 133.00) scale(0.033287 0.033222)" fill-rule="evenodd"><path fill="#0000a2" d="M-5 -15l4370 0 0 2730-4380 0 0-2730zM2492 425l-17 27-9 33 0 20 9 10 17-20 12-40 1-23-10-10zM2983 445l-17 30-8 30-1 30 8 19 10-2 10-9 22-48 3-50-5-10-10 0-10 8z"/><path fill="#0000b8" d="M-5 -15l4370 0 0 2730-4380 0 0-2730zM2511 375l-16 11-20 27-20 52-11 60 1 20 10 17 10-1 18-16 25-50 17-80 0-20-10-21zM2997 395l-22 24-10 18-23 68-5 60 7 30 11 6 15-6 25-28 13-22 17-50 9-50 0-40-9-17-20 2zM3536 475l-24 40-17 60-2 50 12 14 10-3 20-23 20-54 6-74-6-15-10-1zM4024 2135l-24 20-22 40-9 30 6 23 20-4 20-16 28-43 8-40-6-12-20 1z"/><path fill="#0000cf" d="M-5 -15l4370 0 0 2730-4380 0 0-2730zM2513 335l-36 40-24 50-13 40-17 100 2 36 10 11 10-1 20-12 20-24 18-30 19-50 19-80 5-60-5-20-6-7-20 5zM3025 335l-30 25-30 41-30 72-13 62-5 60 6 40 12 11 20-3 30-23 19-25 23-50 23-90 11-80-1-30-5-13-10-5-10 3zM3558 395l-23 19-20 29-20 40-14 42-26 120-5 50 5 31 10 3 10-4 40-33 27-37 21-50 19-90 7-90-4-22-10-11-10 0zM3855 1125l-40 53-60 117-60 178-6 42 6 4 50-54 30-41 36-69 24-77 21-93 4-40zM4054 2075l-19 9-26 21-35 50-21 50-13 50 0 30 11 10 24-2 28-18 42-46 20-35 17-49 4-50-11-20-20 0z"/><path fill="#0000e6" d="M-5 -15l4370 0 0 2730-4380 0 0-2730zM3059 265l-44 34-40 49-19 27-23 50-23 90-15 110-2 60 3 20 9 9 30-8 50-42 30-44 23-55 63-260-6-40-10-7-20 4zM2545 275l-30 18-21 22-32 50-22 50-21 70-45 220-59 91-40 89-16 70-1 20 7 15 10-1 16-14 29-50 23-60 39-140 23-30 44-40 36-42 35-68 32-110 23-130-10-29zM3584 305l-39 37-26 33-41 80-23 77-42 173-21 60-148 320-19 50-1 60 11 15 20 2 20-10 50-66 40-88 79-203 29-50 70-90 25-50 25-100 28-190-6-60-10-5-20 4zM1512 355l-12 20-16 50-19 107 0 35 10-3 10-19 30-100 10-70-3-20-7-4zM3914 925l-19 15-18 25-133 270-116 340-10 50 7 25 20-4 24-21 116-159 34-61 34-100 75-280 7-77-10-24-10 0zM4075 2015l-45 30-50 60-26 50-26 70-14 50 3 20 22 10 36 5 29-5 33-30 38-53 20-47 11-40 10-90-3-20-8-12-10-3z"/><path fill="#0000fc" d="M-5 -15l4370 0 0 2730-1124 0 0-20-6-2 0 22-3250 0 0-2730zM3095 185l-35 30-86 90-45 70-26 90-33 180-23 100-79 230-3 31 10 13 10-6 20-26 69-142 28-40 93-100 30-46 15-34 95-350 5-50-4-40-11-10-20 4zM2580 205l-25 15-50 45-39 50-31 60-17 50-61 230-71 150-38 100-36 130-9 50 2 7 10 1 19-8 31-27 23-23 27-40 32-70 43-120 24-50 73-100 33-60 32-100 51-200 2-75-9-15-11-2zM4109 225l-44 53-23 47-24 110-18 160-19 70-21 50-75 139-80 183-70 138-22 60-50 170-62 170-17 60-9 60 5 20 15 15 40-20 36-35 141-200 33-70 99-330 63-260 48-137 54-253 42-120 2-50-6-30-12-10-20 5zM3604 235l-29 18-42 42-53 80-29 80-49 200-39 110-98 213-30 46-40 43-15 28-7 50 7 100 17 60 18 12 20-1 25-11 45-51 56-119 84-220 28-60 32-50 59-70 16-30 19-70 61-330-3-40-12-26-20-9-20 4zM1534 275l-29 30-20 53-67 297-57 150 0 30 14 18 10 2 14-20 32-100 56-140 28-91 22-99 16-100-8-30-10-1zM884 295l-30 70 1 23 10 15 10 6 10-2 6-12 14-90 0-10-10-10-10 9zM1962 665l-30 30-28 50-19 51-32 119-19 90 1 15 91-145 43-90 13-50 6-50-5-20-8-6-10 3zM1814 1045l-59 78-8 22 5 20 23 18 10 0 8-8 8-20 24-113-10 2zM2153 1155l-18 17-10 19-5 24 5 18 10-5 19-33 6-30-5-12zM2638 1655l-13 10-30 38-5 22 3 10 23 20 19 10 20 3 10-6 7-17 7-40 0-40-4-12-10-7-20 4zM3089 1875l-44 60-8 20 1 10 10 10 47 21 11-1 7-10 9-70-1-30-6-16-10-3-10 4zM4113 1925l-81 70-37 44-23 36-33 70-38 100-10 40 8 10 66 20 50 9 16-9 21-20 36-50 32-80 20-90 14-90 0-50-4-10-5-7-10-3-20 8z"/><path fill="#0014ff" d="M-5 -15l670 0 14 170 13 40 13 6 10-10 10-23 10-46 8-137 385 0 5 60 12 24 10 0 12-14 18-48 1-22 431 0 2 60 6 18 10 5 20-12 20-29 10-22 0-20 555 0 0 60 7 50 8 24 10 14 20 9 20-5 20-25 16-57 3-70 313 0-1 50 9 25 20 8 70 6 30-5 15-14 15-37 3-33 353 0-5 60 9 28 60-2 70 44 30 11 20-5 14-26 9-40 1-70 437 0 7 110 22 87 23 53 25 40 33 40 22 50 5 60-7 110-12 70-20 70-96 250-33 76-65 104-17 40-58 231-97 259-17 60-8 60 3 30 6 10 13 11 20 4 20-6 30-17 50-50 83-122 76-100 23-40 23-60 90-280 46-160 19-52 20-31 10-7 10 2 10 13 41 125 19 35 20 20 20 11 30 0 11-6 19-40 1-70-16-80-25-66-54-104-13-70 2-80 11-80 59-210 9-80-4-61-10-26-10-10-20-7-20 4-20 10-20 19-70 82-20 10-10-2-11-9-6-20-20-120-22-70 0-20 419 0 0 870-20 0-3 10-35 170-5 50 13 23 10 2 40-5 0 1610-1112 0 0-20-18-8-1 28-3249 0 0-2730zM471 25l-15 40 7 20 32 23 8-3 2-10-12-20-6-50-12-5zM3144 85l-49 39-87 101-75 70-15 20-23 60-30 180-30 122-40 108-50 103-20 28-20 13-50-11-20 5-20 20-10 19-12 43-5 40 0 30 7 40 20 35 60 59 20 12 30 7 30 0 20-7 10-11 30-63 63-182 30-70 34-60 89-110 21-40 18-60 35-156 55-174 44-180-1-30-8-7-20-3-30 10zM2634 95l-49 40-74 80-65 80-26 50-22 70-44 180-22 60-69 150-68 178-30 51-35 41-25 38-25 62-14 60-5 70 12 50 22 18 20-4 14-14 90-170 82-100 24-39 33-71 66-170 98-150 23-60 84-300 41-170 1-30-6-7-30 6zM3626 155l-51 40-98 100-26 40-14 40-32 171-30 113-50 127-60 122-20 28-20 14-20 4-40-6-20 7-9 10-11 27-10 63 1 70 27 170 11 140 6 30 15 20 20 2 40-17 30-26 20-27 29-62 121-338 42-102 39-60 29-23 41-17 19-21 10-22 12-67 18-177 48-223 5-50-1-50-12-38-9-12-11-6-30 2zM916 165l-52 100-20 50-10 40 4 30 5 10 22 23 20 14 10 1 10-10 8-18 30-130 1-80-8-30-11-6zM1572 175l-37 37-24 33-32 60-66 290-66 190-5 30 5 20 22 30 16 9 10 0 10-9 9-20 71-190 35-110 54-240 11-70 6-60-6-10-10 7zM1844 245l-19 18-10 21-12 31-8 45 0 64 10 22 10 2 17-13 13-26 20-84-1-60-9-20-10-1zM1312 285l-17 30-13 60-5 50 1 20 7 12 10-17 20-82 5-53-5-24zM2076 285l-11 5-12 15-51 190-21 50-63 100-26 50-22 60-64 220-77 150-1 20 11 20 32 30 14 6 10 0 10-7 68-169 93-160 39-90 18-70 29-150 39-130 11-50 2-70-9-16-10-5zM1605 885l-22 30-20 60 2 30 20 16 10-2 10-14 15-60 0-50-5-12zM2765 1385l-45 80-34 50-46 50-35 47-43 83 0 20 13 20 27 20 59 30 23 0 9-10 32-67 20-22 20-3 40 6 20-7 20-23 15-34 8-50-8-60-49-80-26-51-10-5zM3135 1655l-20 23-27 47-89 200-4 20 17 20 34 20 38 20 41 10 10-1 10-8 7-21 18-100 9-110 0-60-11-50-13-14zM3367 1655l-12 14-15 46-1 80 6 30 10 22 20 18 20 2 30-14 21-28 16-40-1-30-12-40-24-39-24-21-26-4zM4179 1755l-20 20-90 120-74 89-33 51-96 230 1 20 16 10 98 30 64 7 21-7 39-50 23-50 18-60 44-180 20-100 7-60-1-60-11-19-20 4zM2423 2155l12 12 10-2-20-18z"/><path fill="#002aff" d="M-5 -15l266 0 0 20 34 3 20-3 0-20 62 0-1 40 22 30 77 60 40 21 20 5 14-6 3-10-6-50 12-90 69 0 21 220 8 20 16 20 33 27 20 6 10-4 11-19 14-60 6-80 2-130 136 0-7 70-12 60-20 60-48 120-7 30 2 30 13 30 16 20 30 30 34 17 20-1 9-6 31-58 10-2 14 120 23 40 23 20 10 2 10-7 5-15 27-180 23-100 20-50 54-100 19-60 9-70 140 0 0 20-70 210-24 100-49 360 5 30 21 15 10-2 13-13 25-50 34-110 63-270 33-220 5-70 168 0-9 90-32 58-73 102-25 50-49 260-72 210-5 40 4 20 10 20 30 36 20 13 20 5 10-4 13-20 64-160 35-110 81-330 27-72 71-138 16-50 0-20 181 0 0 20-21 50-61 100-31 60-25 100-23 170-4 70 7 35 10 9 50 9 20 16 11 21 1 50-12 90-20 92-36 98-52 100-13 40 3 20 22 30 36 34 40 17 18-11 32-80 50-100 96-140 23-50 52-190 75-200 44-209 10-6 110 5 30-8 10-11 11-21 7-30 8-180 221 0 0 20-22 70-85 105-45 45-45 34-16 26-36 210-26 100-147 330-36 50-43 50-27 50-18 50-44 170-6 40 5 20 52 50 32 20 66 30 61 60 84 60 49 17 16-7 34-91 24-39 40-50 60-110 26-23 30 3 19 20 13 40 4 50-3 30-18 70-66 180-5 30 5 10 28 30 80 50 53 19 40 5 110-13 21-11 16-20 18-30 55-180 83-160 17-19 10 2 9 17 2 60-26 160-42 160-61 140 18 30 106 60 55 20 79 17 22-7 38-42 30-22 30-10 100-14 110-37 33-15 57-43 55-67 85-133 75-77 21-30 17-30 64-170 33-53 52-57 48-34 40-4 40 14 26 24 14 30 7 30 5 50-6 110-30 120-38 100-50 110-38 63-71 87-19 31-89 199-62 90 16 20 23 10 127 40 115 18 20-1 21-17 23-40 48-130 38-66 30-27 33-17 27-5 40 0 0 675-1102 0 0-20-68-27 0 8 10 0 10 10 10 0 8 9 0 20-3001 0-7-127-10-66-5 43 4 150-229 0 0-2730zM1654 745l-39 39-33 51-28 70-16 60 2 30 12 20 23 24 30 13 19-7 7-10 18-60 19-110 8-100-7-20-14-1zM2383 2125l12 13 17-3-27-18zM2413 2145l22 23 14-3-34-28zM3951 2345l14 4 2-4-12-1zM2804 2425l21 22 19-2-39-28zM2844 2455l11 11 13-1-23-19zM975 -15l126 0-1 90-25 90-35 60-25 24-10 2-10-17-29-159 2-90zM1995 -15l204 0-5 130-9 62-10 13-60-16-73-9-31-10-16-13-15-47 14-110zM2875 -15l231 0 0 20-26 70-55 68-40 40-20 10-20 3-20-5-20-14-18-32-11-60-4-100zM3445 -15l229 0 0 20-37 70-42 30-70 67-30 13-20-10-19-40-12-60-8-90zM4295 121l10 1 10 13 12 30 12 60 6 69 20 0 0 64-20 0-10 77-46 110-34 50-20 9-17-9-13-21-6-29 2-50 14-69 34-121 26-134 17-46zM2745 184l40 8 34 23 18 30 10 50 3 90-8 110-20 100-27 74-30 58-40 48-40 20-80 11-20 15-9 14-21 78-24 172-17 70-18 40-71 85-50 87-20 20-30 11-92-23-8-6-2-14 18-60 92-160 37-90 45-131 26-59 34-51 44-39 28-40 15-50 39-190 34-114 40-106 26-50 14-17 25-13zM3265 224l20 7 30 22 26 32 17 30 14 40 7 40-1 100-22 110-41 107-30 58-30 42-20 15-20 3-38-15-32-28-16-22-16-50-2-90 14-103 44-147 56-123 20-22 15-5zM1935 375l10-10 10 6 2 34-12 50-20 27-10-7 0-20 4-30zM3785 374l10-3 20 4 30 23 24 27 22 50 5 60-6 50-15 61-60 168-40 88-20 21-10 3-10-4-10-11-18-56-7-60-1-100 6-62 21-98 31-110 27-50zM3005 853l20-2 15 14 9 20 7 40 2 160-13 128-10 36-20 24-90 47-30 5-10-5-11-15-7-50 5-60 19-100 25-90 29-75 30-51 26-24zM3525 943l20-1 20 13 29 40 18 40 13 50 7 50-3 110-14 72-13 38-27 52-44 58-26 26-30 19-20 4-20-5-30-15-29-29-12-40 1-60 20-93 70-207 40-89 27-31z"/><path fill="#0041ff" d="M-5 -15l244 0 0 20 56 16 60 23 190 121 60 31 79 79 91 64 86 96 79 50 76 80 39 30 10 2 10-2 10-20 30-159 30-103 24-48 16-22 20-15 10 5 5 42-5 110-21 160-19 100 1 40 9 20 17 20 83 61 64 79 36 28 30 13 20-1 13-10 72-130 18-60 47-236 30-114 40-94 30-35 20-10 13 19 3 60-8 90-19 110-17 60-22 54-30 54-66 92-19 40-31 150 3 30 18 30 39 40 96 59 34 41 52 50 44 27 30 10 20-7 7-10 45-90 38-54 30-26 20-8 10 3 11 25-4 70-41 170 3 20 31 40 49 40 79 50 168 120 36 20 60 30 28 6 28-6 22-18 10 5 6 43 13 30 57 50 81 50 213 98 102 62 115 60 151 60 33 10 39 4 15-4 50-30 35-5 28 5 42 20 30 2 50-11 30-19 30-28 40-57 105-177 35-46 30-19 20-4 50 3 20-7 10-11 20-54 18-72 23-60 37-50 62-42 30-11 10 4 10 11 5 18-4 70-31 130-40 99-20 29-20 18-20 10-40 8-20 17-9 19-49 170-24 50-95 110-68 60 34 20 78 30 169 50 155 30 59 4 19-4 31-52 40-43 50-25 50-4 0 484-1090 0 0-20-110-46-20-4 30 21 10 0 10 11 10 0 10 10 10 0 7 8 0 20-2994 0-3-70-20-193-10-68-10-12 0 87 14 256-224 0 0-2730zM2363 2105l32 33 10-1 30 31 19-3-89-67zM2453 2175l22 22 18-2-38-29zM2494 2205l11 11 9-1-19-18zM3861 2325l14 4 2-4-12-1zM3901 2335l14 4 2-4-2-3-10 2zM3945 2345l20 5 3-5-3-4-10 2zM3994 2355l11 3 1-3-11 0zM2714 2365l11 11 18-1-28-15zM2744 2385l11 11 18-1-28-18zM2774 2405l11 12 10 0 30 31 10-1 20 20 10-1 20 20 9-1-17-20-51-40-51-29zM815 -15l42 0 0 20-12 47-10 20-10 4-11-21-8-70zM1025 -15l32 0-2 40-9 50-11 5-11-5-4-90zM1255 -15l45 0-5 33-20 41-10 8-10-22-1-60zM1465 -15l83 0-2 30-16 60-25 27-20 12-10 0-10-9-6-20 3-100zM1795 -15l19 0 0 20-9 6-10-2-2-24zM2445 -15l92 0 0 20-22 50-13 20-27 17-10 0-10-7-8-20-5-80zM2975 -15l33 0 0 20-13 12-10 3-10-5-7-10 0-20zM2275 381l10 3 12 11 11 40-3 60-13 50-23 50-57 90-55 130-22 24-20 4-9-18-1-20 10-61 20-55 49-94 52-170 18-30 11-10zM2725 391l10-1 10 5 10 20 0 60-10 36-20 38-20 19-20 6-10-6-7-23 5-60 22-61 24-29z"/><path fill="#0058ff" d="M-5 -15l232 0 0 20 114 40 94 54 150 100 87 76 103 81 78 79 67 50 117 110 88 49 54 71 54 50 52 40 56 60 82 60 42 23 82 87 118 87 78 73 75 50 77 37 73 73 64 50 249 170 83 50 71 35 106 75 83 50 191 94 239 126 116 50 215 76 74 34 135 50 151 46 32 14 175 50 307 60 36 2 25 8 45 2 0 16-32 2 32 1 0 299-1078 0-2-21-102-49-68-22 10 13 10 0 20 20 10 0 10 11 10 0 10 11 10-1 10 11 10 0 6 7 0 20-2875 0-1-44-5 14 0 30-109 0-26-303-36-297-24-308-6-22-4-93-6-17-4-99-6-21-4-95 0 117 5 8 5 112 6 18 4 105 5 15 5 113 15 157 35 610-220 0 0-2730zM1602 1485l3 3 12-3-12-9zM1765 1615l-1 10 11 0-10-11zM1824 1665l1 13 13-3-13-13zM1862 1705l13 13 13-3-23-18zM1955 1775l0 11 11-1-11-11zM2577 1805l8 5 3-5-3-4zM2596 1815l9 6 4-6-4-4zM2616 1825l9 6 3-6-3-4zM2023 1835l12 12 9-2-19-17zM2042 1855l13 13 17-3-27-20zM2073 1875l32 33 15-3-45-38zM2143 1935l12 11 10-1-20-19zM3013 2025l12 6 3-6-3-4-10 3zM274 2075l1 63 6 17 14 136 0-76-10-78-6-12-4-52zM2324 2075l21 22 10 0 40 42 10-1 30 31 10-1 30 30 10-1 30 30 20-2-90-74-120-83zM2534 2235l11 11 16-1-26-20zM3622 2255l13 3 1-3-11-1zM2574 2265l11 11 13-1-23-19zM2614 2295l11 11 18-1-28-18zM3752 2295l13 4 2-4-12-1zM3790 2305l15 4 2-4-12-1zM2644 2315l21 21 10 0 20 20 10 0 20 21 10 0 20 20 10 0 20 21 10-1 30 31 10 0 20 20 10-1 20 20 10-1 20 20 12-1-27-30-66-50-189-119zM3829 2315l16 6 0-9-10 2zM3855 2325l20 6 3-6-3-3-10 1zM3896 2335l19 6 3-6-3-4-10 2zM3939 2345l26 7 3-7-3-5-20 4zM3987 2355l18 5 2-5-2-4-10 2zM4038 2365l17 4 1-4-11-1zM4093 2375l22 5 1-5-21 0zM4131 2385l24 3 1-3-21 0z"/><path fill="#006eff" d="M-5 -15l223 0 0 20 112 40 95 54 84 56 85 60 181 151 70 69 120 99 62 61 98 76 53 54 95 80 72 70 120 90 73 70 117 89 81 71 68 50 71 43 148 117 159 110 170 110 73 40 191 120 430 220 139 60 393 150 188 60 179 50 289 60 131 15 0 9-52 6 52 4 0 296-1063 0 0-20-7-4-100-49-150-64 0 7 10 10 10 0 10 11 10 0 10 10 10 0 20 21 10 0 20 21 10 0 10 10 10 0 10 10 10 0 10 11 10 0 6 6 0 20-2534 0-2-37-3 37-109 0-8-54-4 14 1 40-99 0-8-72-10-16 2 88-93 0-9-90-17-80-3-34-7-16-23-236-50-356-6-18-4-54-4 14 4 69 6 21 44 395 20 129 7 16 20 240-97 0-130-1394-7-36-3-70-4 20 4 112 65 858 32 510-184 0-13-211-20 0 0-2519zM401 345l4 4 3-4-3-3zM451 395l4 4 4-4-4-4zM850 515l5 5 3-5-3-3zM612 555l3 3 3-3-3-3zM761 705l4 4 5-4-5-6zM972 905l3 3 5-3-5-4zM981 915l4 4 5-4-5-5zM1142 1065l3 3 5-3-5-5zM1152 1075l3 3 6-3-6-5zM1262 1175l3 3 6-3-6-5zM1271 1185l4 4 7-4-7-6zM1699 1225l6 5 3-5-3-3zM1422 1325l3 3 10-3-10-8zM1572 1455l13 13 9-3-19-18zM1591 1475l14 14 16-4-26-19zM1622 1495l3 3 8-3-8-7zM1631 1505l14 13 8-3-18-19zM1651 1525l24 24 14-4-34-29zM1733 1595l12 12 13-2-23-18zM2226 1595l9 6 3-6-3-4zM1763 1615l2 12 15-2-15-15zM1792 1645l13 13 15-3-25-19zM1823 1665l-2 10 4 4 17-4-17-17zM1852 1695l23 24 17-4-37-30zM1923 1755l12 12 15-2-25-20zM1953 1775l2 12 17-2-17-16zM2525 1775l10 8 3-8-3-4zM1973 1795l22 23 18-3-38-28zM2556 1795l9 6 3-6-3-4zM2575 1805l10 7 4-7-4-4zM2594 1815l11 7 4-7-4-5-10 5zM2013 1825l42 44 10-1 40 41 20-4-110-89zM2613 1825l12 7 4-7-4-5-10 4zM2633 1835l12 9 4-9-4-4-10 3zM2122 1915l43 42 19-2-59-50zM2784 1915l11 5 2-5-12 0zM2183 1965l22 22 19-2-39-30zM2884 1965l11 5 2-5-12 0zM2224 1995l31 32 19-2-49-39zM2965 2005l10 6 3-6-3-3zM3010 2025l15 7 4-7-4-5-10 3zM2273 2035l32 32 10 0 30 31 10 0 40 42 10-1 30 31 10-1 30 30 10-1 30 30 10-1 20 20 10 0 30 30 10-1 30 31 10 0 30 30 10 0 20 21 10-1 20 21 10 0 20 20 10 0 20 21 10-1 30 31 10 0 20 20 10-1 20 20 10-1 20 20 10-1 10 10 10 0 30 29 13 0-76-70-68-50-235-150-152-120-182-129zM3033 2035l12 6 3-6-3-4-10 4zM3073 2055l12 6 3-6-3-3-10 3zM3123 2075l12 5 3-5-3-3-10 3zM3201 2105l14 7 0-10-10 2zM3274 2135l11 4 1-4-11 0zM3303 2145l12 3 1-3-11 0zM384 2195l1 59 20 130 6 11 4 27 0-64-30-164zM3517 2225l18 5 2-5-12-2zM3549 2235l16 5 2-5-12-1zM3582 2245l13 4 2-4-12-1zM3615 2255l20 5 0-8-10 1zM3649 2265l16 7 0-10-10 2zM3673 2275l12 4 2-4-12 0zM3708 2285l17 5 2-5-12-1zM3745 2295l20 6 0-10-10 2zM3783 2305l22 6 3-6-3-4-20 4zM3822 2315l23 9 3-9-3-4-20 3zM3848 2325l27 7 4-7-4-4-20 3zM3889 2335l26 7 4-7-4-5-20 4zM3932 2345l33 8 4-8-4-6-30 6zM3978 2355l27 7 3-7-3-5-20 4zM4028 2365l27 6 2-6-2-4-20 3zM4082 2375l33 9 2-9-2-5-30 5zM4119 2385l36 6 2-6-2-3-30 2zM4179 2395l36 5 2-5-2-5-30 4zM4244 2405l31 4 1-4-1-4-30 4z"/><path fill="#0085ff" d="M-5 -15l214 0 0 20 111 40 105 59 76 51 83 60 191 159 63 61 119 100 62 60 116 96 191 174 127 100 77 70 199 160 66 50 77 50 142 110 160 110 169 110 266 160 306 160 124 60 261 110 268 100 189 60 181 50 284 60 143 19-71 11 71 7 0 293-1044 0 0-20-210-100-92-50-163-120-235-150-224-170-142-100-145-120-131-100-154-130-5 20 5 5 10-2 40 42 10-2 50 50 10-1 7 8 3 13 10 0 30 31 10-1 50 52 10-1 40 41 10-2 50 51 10-1 30 30 10-1 40 41 10-1 40 41 10 0 30 31 10 0 40 42 10-1 30 30 10-1 30 31 10-1 30 30 10-1 20 20 10 0 30 30 10 0 30 30 10 0 30 30 10 0 20 21 10-1 20 21 10 0 20 20 10 0 20 21 10-1 30 31 10 0 20 19 10 0 20 20 10-1 20 20 10 0 10 9 10 0 30 30 10-1 10 10 10 0 10 10 10 0 30 31 10 0 10 10 10 0 10 10 10 0 20 21 10 0 20 21 10 0 10 10 10 0 10 10 10 0 10 11 10 0 5 5 0 20-2398 0-7-49-10-10 0 59-109 0-1-28-20-64-8 12 0 10 6 70-95 0-3-39-20-70-7 19 7 90-88 0-2-37-20-101-6-12-11-50-23-179-46-241-54-319-7-21-3-33-7-17-3-37 0 56 66 381 44 299 20 101 8 20 20 170 0 20-86 0-2-38-37-242-43-343-66-447-4-49-7-21-3-49-6-11-4-62 0 76 6 16 14 148 124 1002 0 20-92 0-152-1624-6-6-4-97 0 103 5 14 5 128 104 1482-162 0-32-678-20 0 0-2052zM361 305l4 4 3-4-3-3zM400 345l5 5 4-5-4-4zM441 385l4 4 4-4-4-4zM450 395l5 5 5-5-5-4zM491 435l4 4 3-4-3-4zM501 445l4 4 4-4-4-4zM551 495l4 4 3-4-3-4zM848 515l7 6 4-6-4-4zM601 545l4 4 4-4-4-5zM611 555l4 4 4-4-4-4zM651 595l4 4 4-4-4-5zM661 605l4 4 4-4-4-4zM999 645l6 7 3-7-3-3zM711 655l4 4 4-4-4-6zM1019 665l6 5 3-5-3-3zM760 705l5 5 6-5-6-8zM952 885l3 3 4-3-4-4zM961 895l4 4 5-4-5-5zM970 905l25 23 5-3-25-26zM1001 935l4 4 6-4-6-5zM1011 945l4 4 6-4-6-6zM1021 955l4 4 7-4-7-6zM1359 955l6 5 3-5-3-4zM1041 975l4 4 6-4-6-8zM1051 985l4 4 7-4-7-6zM1101 1025l4 4 5-4-5-5zM1122 1045l3 3 5-3-5-4zM1131 1055l4 4 6-4-6-5zM1141 1065l24 23 6-3-26-26zM1508 1075l7 8 3-8-3-3zM1171 1095l24 24 10-4-30-26zM1214 1125l-3 10 4 4 9-4-9-12zM1252 1165l3 3 6-3-6-5zM1261 1175l54 54 11-4-61-57zM1648 1185l7 8 3-8-3-3zM1697 1225l8 7 4-7-4-4zM1334 1235l-2 10 3 3 10-3-10-12zM1748 1265l7 6 3-6-3-4zM1777 1285l8 6 3-6-3-4zM1392 1295l33 34 14-4-44-38zM1452 1345l3 3 8-3-8-7zM1472 1365l3 3 8-3-8-7zM1482 1375l43 43 14-3-54-48zM1985 1435l10 7 3-7-3-4zM1562 1445l43 45 10-2 60 62 18-5-128-109zM2016 1455l9 9 3-9-3-4zM2026 1465l9 6 3-6-3-3zM2057 1485l8 6 3-6-3-3zM2115 1525l10 6 3-6-3-4zM2147 1545l8 6 3-6-3-3zM1692 1555l53 53 19-3-69-59zM2207 1585l8 6 3-6-3-4zM2223 1595l12 8 4-8-4-4-10 3zM1762 1615l-1 10 14 3 30 31 20-4-60-49zM2256 1615l9 8 3-8-3-4zM2285 1635l10 7 4-7-4-4zM2384 1695l11 6 3-6-3-3-10 3zM463 1755l2 32 3-2-3-33zM2504 1765l11 7 3-7-3-4-10 4zM2522 1775l23 17 4-7-14-15-10 4zM471 1795l4 31 7-1-7-35zM2553 1795l12 7 4-7-4-5-10 4zM2572 1805l13 8 5-8-5-5-10 4zM2591 1815l14 8 5-8-5-5-10 4zM2610 1825l15 8 5-8-5-5-10 3zM2630 1835l25 17 4-7-14-15-10 3zM404 1855l1 33 3-3-3-34zM2663 1855l12 6 3-6-3-4-10 4zM2684 1865l11 6 3-6-3-4-10 4zM2704 1875l11 6 3-6-3-3-10 3zM2725 1885l10 8 3-8-3-3zM410 1895l5 49 50 233 3-12-3-42-50-233zM2780 1915l15 7 3-7-3-4-10 3zM2801 1925l14 6 3-6-3-4-10 3zM2822 1935l13 9 0-12-10 2zM2880 1965l15 7 3-7-3-4-10 2zM2901 1975l14 7 3-7-3-4-10 3zM2924 1985l11 6 3-6-3-3-10 3zM2960 2005l15 7 4-7-4-4-10 3zM2983 2015l12 6 3-6-3-4-10 4zM3006 2025l19 9 5-9-5-6-10 3zM3029 2035l16 8 4-8-4-5-10 3zM3053 2045l12 8 3-8-3-4-10 4zM3069 2055l16 7 4-7-4-4-10 3zM3094 2065l11 6 3-6-3-3-10 3zM3119 2075l16 7 3-7-3-4-10 2zM3145 2085l10 5 2-5zM3170 2095l15 6 3-6-3-4-10 3zM550 2105l15 82 6-2-1-10-15-75zM3196 2105l29 15 2-5-12-14-10 2zM3241 2125l14 6 2-6-12-1zM3268 2135l17 6 2-6-12-1zM3296 2145l19 6 0-9-10 1zM3325 2155l10 6 2-6zM3344 2165l11 4 2-4-12 0zM3372 2175l13 5 2-5-12-1zM3401 2185l14 5 2-5-12-1zM3430 2195l15 5 2-5-12-1zM810 2205l5 29 4-9-4-27zM3459 2205l16 8 0-11-10 2zM3480 2215l15 5 2-5-12-1zM3511 2225l24 8 3-8-3-4-20 3zM3542 2235l23 7 3-7-3-4-20 3zM3575 2245l20 7 3-7-3-4zM3608 2255l27 8 3-8-3-5-20 4zM3642 2265l23 10 3-10-3-4-20 4zM3665 2275l20 6 0-9-10 2zM494 2285l1 44 10 63 20 96 7 7 3 16 0-56-10-61-30-114zM3701 2285l24 7 3-7-3-4-20 3zM3737 2295l28 8 3-8-3-5-20 4zM3775 2305l30 8 3-8-3-5-20 3zM3814 2315l61 19 4-9-4-5-20 3-10-14-30 6zM3880 2335l35 9 4-9-4-7-30 6zM3923 2345l42 9 5-9-5-7-40 7zM3969 2355l36 8 4-8-4-6-30 5zM4018 2365l37 8 3-8-3-6-30 5zM4070 2375l85 19 3-9-3-5-30 3-10-15-40 6zM618 2385l7 61 10 41 10 19 0-49-20-79zM743 2395l2 53 20 60 6-13-6-48-20-54zM4164 2395l51 8 3-8-3-8-50 8zM4226 2405l49 7 2-7-2-8-40 7z"/><path fill="#009cff" d="M-5 -15l206 0 0 20 111 40 103 57 78 53 83 60 192 160 63 60 487 430 404 330 284 210 160 110 169 110 267 160 206 110 223 110 259 110 269 100 190 60 225 60-49 9-10-17-30 6-10-14-20 3-10-14-30 6-10-16-39 7 89 27 180 40 20 3 4-10-4-7-40 6-10-16-30 5-5-8 5-10 237 50-47 9-10-15-30 3-10-16-60 9 50 13 200 33 60 5 0 289-1022 0 0-20-299-150-93-60-81-60-161-100-159-110-143-110-142-100-211-170-68-50-441-369-4 9 64 66 10-1 60 61 10-2 60 61 10-1 10 21 10-1 30 31 10-1 10 22 10-1 40 41 10-2 50 51 10-1 10 21 10-1 30 31 10-1 50 52 10-1 40 41 10-2 50 51 10-1 30 30 10 0 40 40 10 0 40 40 10 0 30 31 10 0 40 41 10 0 30 30 10-1 30 31 10-1 30 30 10-1 20 20 10 0 30 30 10 0 30 30 10 0 30 30 10 0 20 21 10-1 20 21 10 0 20 20 10 0 20 20 10 0 30 31 10-1 20 20 10 0 20 20 10-1 20 20 10 0 10 10 10-1 30 30 10 0 30 20 10 0 30 30 10 0 10 10 10 0 10 11 10-1 20 21 10 0 20 21 10 0 10 10 10 0 10 10 10 0 10 11 10 0 4 4 0 20-2062 0-2-27-20-46-10-13-10 0-3 26 8 60-140 0 0-20-15-49-20-38-10-2 0 36 11 73-117 0-4-41-36-99-34-148-20-63-18-39-42-164-36-96-34-132-67-198-53-182-17-38-3-21-4 1 4 33 50 167 26 70 54 201 35 99 35 147 20 66 16 37 44 188 36 102 19 90 0 20-101 0-4-42-36-118-34-161-36-119-24-117-57-203-43-182-30-109-15-39-5-31-8 1 58 246 47 174 33 153 37 127 33 168 34 122 21 110 0 20-89 0-6-52-28-108-32-176-37-154-23-123-107-467-3-29-6-11-4-34-7-16-3-26-5-4-5-41 0 46 7 15 103 524 46 206 34 193 26 107 21 130 0 20-83 0-4-50-35-180-35-222-120-663-6-15-4-40-17-70-3-38-4 8 4 51 5 9 5 51 186 1139 0 20-82 0-4-55-70-509-110-782-5-14-5-61-5-9-5-61-3 11 3 66 5 14 5 67 160 1313 0 20-86 0-154-1642-6-28-4-77-5-3-1-10-4-90 0 105 5 15 5 127 111 1603-148 0-43-1165-20 0 0-1565zM539 255l6 5 3-5-3-3zM360 305l5 5 4-5-4-4zM400 345l5 5 5-5-5-5zM649 345l6 5 3-5-3-3zM440 385l15 16 5-6-15-15zM709 395l6 5 3-5-3-3zM490 435l5 5 4-5-4-5zM500 445l5 5 5-5-5-5zM779 455l6 5 3-5-3-3zM550 495l5 5 5-5-5-6zM847 515l8 7 5-7-5-5zM859 525l6 5 3-5-3-3zM600 545l15 16 6-6-16-16zM929 585l6 7 3-7-3-3zM650 595l15 16 6-6-16-17zM949 605l6 5 3-5-3-3zM998 645l7 8 4-8-4-4zM710 655l5 5 6-5-6-8zM1018 665l7 6 4-6-4-4zM759 705l6 6 8-6-8-9zM1157 785l8 7 4-7-4-4zM1169 795l6 5 3-5-3-3zM872 805l3 3 3-3-3-3zM911 845l4 4 4-4-4-4zM1228 845l7 6 4-6-4-4zM920 855l5 5 6-5-6-5zM1248 865l7 6 3-6-3-3zM941 875l4 4 5-4-5-4zM950 885l75 75 10-5-80-75zM1298 905l7 6 4-6-4-4zM1319 925l6 5 3-5-3-3zM1357 955l8 7 4-7-4-4zM1044 965l-4 10 15 15 10-5-20-21zM1379 975l6 5 3-5-3-3zM1082 1005l3 3 4-3-4-4zM1091 1015l24 24 5-4-25-25zM1120 1045l75 75 13-5-83-76zM1467 1045l8 6 3-6-3-4zM1506 1075l9 10 4-10-4-4zM1527 1095l8 6 4-6-4-4zM1212 1125l-3 10 6 6 13-6-13-14zM1568 1125l17 17 4-7-14-14zM1232 1145l3 3 5-3-5-4zM1241 1155l74 75 15-5-85-76zM1618 1165l7 6 3-6-3-3zM1646 1185l9 10 4-10-4-4zM1668 1205l7 6 3-6-3-4zM1696 1225l19 17 3-7-13-15zM1332 1235l-2 10 5 5 14-5-14-16zM1718 1245l7 6 3-6-3-3zM1362 1265l3 3 8-3-8-7zM1746 1265l9 7 4-7-4-4zM1371 1275l54 56 10-2 90 91 18-5-168-148zM1776 1285l9 7 4-7-4-4zM1815 1315l10 7 4-7-4-4zM243 1385l2 50 3-10-3-42zM521 1395l4 27 4-7-4-21zM1927 1395l8 8 3-8-3-3zM1937 1405l8 6 3-6-3-3zM529 1425l6 23 9-3-9-23zM1967 1425l8 6 3-6-3-3zM1982 1435l23 16 3-6-13-15-10 4zM541 1455l14 46 5-6-15-49zM2013 1455l22 18 4-8-14-15-10 4zM653 1485l2 12 7-2-7-18zM2055 1485l10 7 4-7-4-4zM560 1505l5 23 4-3-4-23zM661 1505l4 20 20 40 0-21-16-29-4-18zM2086 1505l9 9 3-9-3-4zM2096 1515l9 6 3-6-3-3zM2112 1525l13 8 4-8-4-5-10 4zM2145 1545l10 7 4-7-4-4zM585 1555l0 27 3-7zM413 1565l2 30 3-10-3-27zM2177 1565l8 8 3-8-3-3zM589 1585l26 88 60 153 0-23-10-35-70-185zM2204 1585l11 8 4-8-4-5-10 5zM2220 1595l25 16 3-6-13-15-10 3zM2254 1615l21 17 4-7-14-15-10 5zM2282 1635l13 8 5-8-5-5-10 4zM2316 1655l9 6 3-6-3-3zM2334 1665l21 16 3-6-13-14-10 4zM2363 1685l12 7 4-7-4-4-10 3zM2381 1695l14 8 4-8-4-4-10 2zM750 1705l5 30 20 51 20 36 4-7-4-21-40-91zM2435 1725l10 9 3-9-3-3zM2465 1745l10 6 3-6-3-4zM2483 1755l12 7 4-7-4-4-10 3zM912 1765l13 37 10 15 4-2-4-23-20-37zM2500 1765l15 8 4-8-4-5-10 4zM2519 1775l26 18 4-8-14-15-10 3zM2550 1795l105 58 4-8-14-16-10 3-10-13-10 3-10-13-10 3-10-13-10 4-10-14-10 4zM2659 1855l16 8 4-8-4-5-10 3zM691 1865l14 60 30 92 37 78 33 136 20 56 28 58 22 98 20 63 20 42 10-1 0-26-10-52-20-64-38-80-32-125-20-54-36-71-24-95-50-123zM2680 1865l15 8 4-8-4-5-10 3zM2700 1875l15 8 4-8-4-4-10 3zM2720 1885l25 16 3-6-13-14-10 3zM843 1915l2 36 20 58 30 60 10-4-10-42-20-53-30-56zM2776 1915l19 9 4-9-4-5-10 2zM2797 1925l18 9 4-9-4-5-10 3zM2818 1935l27 17 3-7-13-14-10 2zM2854 1955l11 6 3-6-3-3-10 3zM1013 1965l12 36 10 9 0-17-20-34zM2876 1965l19 9 4-9-4-5-10 2zM2897 1975l18 8 4-8-4-5-10 3zM2919 1985l16 8 4-8-4-5-10 3zM2941 1995l14 9 3-9-3-4-10 3zM2956 2005l19 9 5-9-5-5-10 3zM2979 2015l16 8 4-8-4-5-10 3zM3002 2025l83 39 5-9-5-5-10 3-10-13-10 3-10-14-10 3-10-13-20 5zM3089 2065l16 7 3-7-3-4-10 3zM3114 2075l21 9 4-9-4-5-20 5zM3139 2085l16 7 3-7-3-4-10 3zM3165 2095l20 8 4-8-4-5zM3191 2105l34 17 3-7-13-15-20 4zM3235 2125l20 8 3-8-3-4-10 2zM930 2135l5 41 20 60 20 43 10 10 4-24-14-55-20-47-20-31zM3262 2135l23 8 3-8-3-5-20 4zM3290 2145l25 9 3-9-3-5-20 4zM3318 2155l17 9 0-12-10 2zM3336 2165l19 7 0-10-10 2zM3365 2175l20 7 3-7-3-4zM3393 2185l22 8 3-8-3-4-20 4zM3422 2195l23 8 3-8-3-4-20 4zM3452 2205l43 18 3-8-3-4-10 2-10-12-20 4zM3503 2225l62 20 4-10-4-6-20 4-10-14-30 6zM3567 2245l28 9 4-9-4-5-20 4zM3600 2255l85 28 3-8-3-4-10 2-10-14-20 4-10-14-30 5zM3692 2285l33 9 4-9-4-6-30 6zM3728 2295l37 10 4-10-4-6-30 5zM1030 2385l-2 10 7 45 20 56 10 18 10 7 5-16-5-40-20-55-20-30zM4225 2387l48 8-48 9-6-9zM4285 2396l53 9-53 9-7-9z"/><path fill="#00b2ff" d="M-5 -15l199 0 0 20 110 40 108 60 74 50 82 60 192 160 551 490 404 330 283 210 160 110 170 110 267 160 304 160 236 110 146 60 269 100 191 60 182 50-38 7-10-14-20 3-10-14-30 5-10-15-30 5-10-15-30 6-10-15-30 5-10-13-10 1-10-13-20 4-10-15-30 6-10-14-20 3-10-14-20 4-10-14-30 5-10-13-10 2-10-13-20 4-10-14-20 4-10-14-30 6 90 35 190 61 210 59 220 50 250 42 20 0 0 283-994 0 0-20-207-100-94-50-99-60-84-60-237-150-374-270-343-270-396-330-184-160-278-255-4 5 84 87 40 40 10-3 5 6-2 10 7 7 10-3 90 93 10-2 5 5-1 10 6 6 10-2 80 83 10-2 90 91 10-1 70 72 10-1 60 61 10-1 60 60 10-1 10 21 10-1 30 31 10-1 3 15 7 7 10-1 40 41 10-1 50 50 10-1 10 21 10-1 30 31 10-1 50 52 10-1 40 40 10 0 50 50 10-1 30 30 10 0 40 40 10 0 40 41 10-1 30 31 10 0 40 41 10 0 30 30 10-1 30 30 10 0 30 30 10-1 20 21 10-1 30 30 10 0 30 30 10 0 30 30 10 0 20 21 10-1 20 21 10 0 20 20 10 0 20 20 10 0 30 31 10-1 20 20 10 0 20 20 10-1 20 20 10 0 10 10 10 0 30 29 10 0 30 20 10 0 30 30 10 0 10 11 10 0 10 10 10 0 20 20 10 0 20 21 10 0 10 10 10 0 10 10 10 0 10 11 10-1 3 24-1836 0 0-20-7-16-65-124-55-133-30-58-26-39-54-125-74-135-36-84-74-136-36-77-55-93-55-113-57-97-63-126-55-94-105-196 0 16 10 22 217 418 33 74 77 146 33 76 45 84 55 123 53 97 47 113 75 147 45 120 66 130 32 80 0 20-157 0 0-20-21-55-44-95-46-132-36-78-54-142-57-128-33-86-210-474-160-344-6 4 6 19 187 431 200 490 43 120 55 130 45 135 55 135 22 70 0 20-126 0-1-24-46-126-44-145-37-95-43-136-170-466-200-514-4 6 4 21 217 599 53 165 36 95 54 177 37 103 33 116 35 94 31 110 0 20-106 0 0-20-160-546-170-544-86-250-44-144-4 4 4 28 35 102 15 61 15 39 192 650 163 600 0 20-93 0-6-50-141-558-100-379-100-364-6-9-4-29-7-11-3-26-7-14-3-21-6 1 262 1060 86 380 0 20-83 0-9-62-130-608-120-538-27-102-3-29-6-11-4-33-5-7-5-37-4 7 4 41 5 9 5 40 5 10 5 38 86 402 169 860 0 20-78 0-7-62-70-398-160-882-6-18-4-36-6-14-4-41-6-9-4-46-4 6 4 51 5 9 5 51 6 19 217 1350 0 20-77 0-6-70-90-648-110-782-6-20-4-50-6-10-4-63-3 13 3 64 5 16 5 64 178 1466 0 20-81 0-167-1760-6-30-4-76-4 16 3 110 119 1740-135 0-53-1429-20 0 0-1301zM202 155l3 4 3-4-3-3zM222 175l3 3 3-3-3-3zM509 235l6 5 3-5-3-3zM538 255l7 6 4-6-4-4zM321 265l4 5 3-5-3-3zM359 305l6 6 5-6-5-5zM390 335l15 16 6-6-16-14zM648 345l7 6 4-6-4-4zM439 385l16 17 6-7-16-16zM707 395l8 7 4-7-4-4zM719 405l6 5 3-5-3-3zM489 435l16 16 6-6-16-16zM777 455l8 7 4-7-4-4zM789 465l6 5 3-5-3-3zM549 495l6 6 6-6-6-7zM846 515l19 16 4-6-14-15zM598 545l17 17 7-7-17-18zM878 545l7 6 4-6-4-4zM928 585l7 9 4-9-4-4zM648 595l17 17 7-7-17-18zM948 605l7 6 4-6-4-4zM996 645l9 10 5-10-5-5zM708 655l7 7 8-7-8-10zM1017 665l18 16 4-6-14-15zM763 695l-6 10 8 8 9-8-9-11zM1086 725l9 7 4-7-4-4zM1098 735l7 6 3-6-3-3zM811 745l4 4 3-4-3-3zM820 755l5 5 5-5-5-4zM851 785l4 4 4-4-4-3zM1156 785l19 17 4-7-14-15zM860 795l15 15 6-5-16-14zM1188 815l7 6 4-6-4-4zM891 825l4 4 4-4-4-4zM900 835l125 127 13-7-133-125zM1226 845l29 27 4-7-24-25zM1259 875l6 5 3-5-3-3zM1296 905l29 27 4-7-24-25zM1356 955l29 27 4-7-24-25zM1041 965l-3 10 17 17 14-7-24-24zM1417 1005l8 7 4-7-4-4zM533 1035l2 11 4-1-4-16zM1465 1045l20 16 4-6-14-15zM653 1065l2 12 4-2-4-11zM1504 1075l11 12 5-12-5-5-10 4zM662 1085l73 130 56 80 64 118 57 82 43 83 87 137 43 82 40 56 25 22 35 84 30 55 40 49 9-8-1-10-28-70-30-48-49-52-51-112-55-78-75-129-67-91-43-78-59-82-71-122-70-103zM1526 1095l19 16 3-6-13-15zM493 1125l2 14 3-4-3-17zM1566 1125l29 26 3-6-23-25zM422 1135l3 20 3 0-3-23zM501 1145l4 16 4-6-4-14zM204 1155l1 52 3-2-3-51zM433 1165l2 15 4-5-4-18zM1616 1165l9 7 4-7-4-4zM372 1185l3 24 4-4-4-26zM441 1185l4 24 5-4-5-23zM1643 1185l12 13 5-13-5-5-10 4zM1666 1205l9 8 4-8-4-5zM322 1225l3 29 3-9-3-27zM1693 1225l32 27 4-7-24-26-10 5zM272 1255l3 33 6-3-6-39zM1744 1265l21 15 3-5-13-15-10 5zM1773 1285l22 18 3-8-13-15-10 4zM1797 1305l8 6 3-6-3-3zM1811 1315l24 16 3-6-13-15-10 4zM1856 1345l19 17 4-7-14-14zM1895 1375l10 7 4-7-4-4zM1925 1395l20 18 4-8-14-14zM1964 1425l11 8 4-8-4-4-10 4zM1979 1435l26 17 4-7-14-16-10 4zM2010 1455l35 27 3-7-23-26-10 4zM2051 1485l24 16 3-6-13-15-10 4zM2083 1505l22 18 4-8-14-15-10 4zM2109 1525l26 17 4-7-14-16-10 4zM2141 1545l24 16 3-6-13-15-10 4zM2173 1565l22 17 4-7-14-15-10 4zM2200 1585l45 28 4-8-14-16-10 3-10-12-10 3zM2250 1615l55 36 3-6-13-16-10 4-20-24-10 4zM2313 1655l12 8 4-8-4-4-10 3zM2330 1665l25 18 4-8-14-15-10 3zM2359 1685l46 26 3-6-13-15-10 2-10-12-10 3zM2412 1715l13 7 4-7-4-4-10 3zM2430 1725l25 17 4-7-14-15-10 4zM2460 1745l15 8 4-8-4-5-10 4zM2478 1755l57 35 210 113 4-8-14-15-10 2-10-12-10 2-10-13-10 3-10-13-10 3-20-24-10 3-10-13-10 3-10-13-10 3-10-13-10 4-10-13-10 3-20-23-10 3-10-13-10 3-10-12-10 3zM2750 1905l15 8 4-8-4-4-10 3zM2771 1915l74 39 4-9-14-16-10 3-10-13-10 2-10-12-20 5zM2848 1955l17 8 4-8-4-4-10 2zM2870 1965l205 97 30 12 4-9-4-5-10 2-10-13-10 3-10-13-10 3-10-14-10 3-10-13-20 5-10-14-10 3-10-13-10 3-10-12-10 3-10-14-10 3-10-13-10 3-10-13-20 5zM3108 2075l47 19 4-9-4-5-10 2-10-13-20 4zM3158 2095l67 29 4-9-14-16-20 4-10-14-20 5zM1291 2105l4 30 10 30 30 61 40 55 10 7 7-3 0-30-17-50-40-66-30-34-10-3zM3228 2125l117 47 10 3 4-10-4-4-10 1-10-12-10 2-10-13-20 4-10-14-20 4-10-14-20 5zM3357 2175l28 10 4-10-4-5-20 4zM1452 2385l0 20 13 36 30 40 9-16-9-40-20-30-20-15zM3925 2325l42 10-42 7-4-7zM3975 2337l137 28-47 8-10-17-40 7-10-17-30 6-4-7zM4125 2367l78 18-38 7-10-15-30 4-5-6zM4225 2388l39 7-39 7-5-7zM4285 2398l44 7-44 8-6-8z"/><path fill="#00c9ff" d="M-5 -15l192 0 0 20 110 40 108 60 73 50 82 60 192 160 552 490 264 220 204 160 219 160 329 220 268 160 303 160 237 110 275 110 140 50-38 7-10-13-10 2-10-13-20 4-10-14-20 4-10-14-20 4-10-14-20 4-10-12-10 1-10-12-10 2-10-14-20 4-10-13-20 4-10-14-20 4-20-25-20 4-10-13-20 4-10-13-10 2-10-13-20 4-10-13-10 2-10-13-10 2-10-12-10 3-10-14-10 3-10-13-20 5-10-14-10 3-10-13-10 3-10-12-10 2-10-13-10 3-10-13-10 2-10-12-20 4-10-13-10 3-20-24-10 2-10-12-10 2-10-12-20 5-10-13-10 2-20-23-10 2-10-13-10 3-10-13-10 3-10-13-10 3-20-24-10 3-10-13-10 3-10-13-10 3-10-13-10 3-10-12-10 3-20-23-10 2-10-12-10 3-10-12-10 3-10-13-10 3-20-23-10 3-10-12-17 5 127 77 290 155 240 114 140 59 260 100 180 59 220 63 210 49 260 46 30 2 0 276-960 0 0-20-305-150-104-60-416-270-291-210-284-220-259-210-387-330-299-270-255-244-6 4 168 170 58 58 10-2 4 4-2 10 18 18 10-2 130 132 10-1 2 13 8 8 10-1 90 91 10-1 2 13 8 8 10-2 80 82 10-1 90 90 10 0 70 71 10-1 60 61 10-1 60 60 10 0 3 13 7 7 10 0 30 31 10-1 2 13 8 8 10-1 40 41 10-1 50 50 10-1 3 14 7 7 10 0 30 30 10 0 50 51 10-1 40 40 10 0 50 50 10-1 30 31 10-1 40 40 10 0 40 41 10-1 30 31 10 0 40 41 10-1 30 31 10-1 30 30 10 0 30 30 10 0 20 20 10-1 30 30 10 0 30 30 10 0 30 31 10-1 20 21 10 0 20 20 10 0 20 20 10 0 20 20 10 0 30 30 10 0 20 20 10 0 20 20 10-1 20 20 10 0 10 10 10 0 30 30 10 0 30 20 10-1 30 31 10 0 10 10 10 0 10 10 10 0 20 20 10 0 20 21 10 0 10 10 10 0 10 10 10 0 10 10 10 0 2 23-1546 0 0-20-6-11-88-139-72-132-87-138-73-128-270-430-586-902-4-12-9 2 39 70 376 620 360 610 64 121 237 419 25 50 0 20-185 0 0-20-128-270-249-494-200-378-390-716 0 19 10 21 296 578 319 650 239 530 25 60 0 20-143 0 0-20-19-50-267-651-240-539-240-517-4 7 14 41 17 29 277 650 178 440 203 540 17 50 0 20-117 0-3-30-91-270-171-484-180-476-180-459-4 9 4 19 215 591 170 490 170 530 17 60 0 20-100 0-2-29-170-577-170-541-130-395-16-38-24-82-7 2 7 32 15 38 5 26 95 304 160 540 192 700 0 20-87 0 0-20-150-596-190-707-55-187-5-31-15-39-5-32-8 2 8 39 6 11 210 840 163 700 0 20-78 0-10-70-140-650-171-758-20-86-5-6-5-39-4 9 4 39 6 11 4 37 6 13 4 35 123 585 170 860 0 20-74 0-8-70-69-390-202-1106-6-14-4-41-6 1 6 59 5 11 246 1530 0 20-72 0-7-70-222-1580-5-10-5-60-4 10 4 68 196 1622 0 20-77 0-179-1875-6-25-4-82-3 22 2 90 126 1850 0 20-124 0-61-1653-20 0 0-1077zM239 65l6 4 3-4-3-4zM350 125l5 4 3-4-3-3zM201 155l4 5 4-5-4-3zM399 155l6 6 3-6-3-4zM410 165l5 4 3-4-3-3zM221 175l4 4 4-4-4-4zM508 235l7 6 4-6-4-4zM536 255l9 7 5-7-5-5zM320 265l5 6 4-6-4-4zM559 275l6 5 4-5-4-3zM350 295l15 17 6-7-16-14zM598 305l7 6 4-6-4-4zM380 325l5 5 3-5-3-4zM389 335l16 17 6-7-16-15zM646 345l19 16 4-6-14-15zM438 385l17 18 7-8-17-17zM706 395l19 16 4-6-14-15zM488 435l17 18 7-8-17-18zM776 455l19 17 4-7-14-15zM547 495l8 8 7-8-7-9zM845 515l50 45 3-5-43-46zM597 545l18 18 8-8-18-19zM926 585l9 11 5-11-5-5zM647 595l18 18 9-8-19-20zM946 605l19 16 4-6-14-15zM711 645l-4 10 8 8 9-8-9-12zM995 645l10 12 6-12-6-6zM1015 665l30 26 3-6-23-26zM759 695l-3 10 9 9 11-9-11-14zM1059 705l6 5 3-5-3-3zM522 715l3 11 6-1-6-11zM789 725l6 6 3-6-3-3zM1084 725l31 26 3-6-23-25-10 5zM548 755l37 60 200 280 350 483 67 87 83 121 78 99 82 121 74 89 86 126 30 32 20 12 7-10-4-30-11-30-22-40-73-90-85-130-76-90-85-120-377-480-374-493zM1128 765l7 6 3-6-3-3zM470 775l5 12 6-2-6-12zM1153 785l52 46 4-6-44-46-10 5zM413 805l2 12 3-2-3-15zM714 805l0 10 5 0-4-10zM422 825l3 11 6-1-6-14zM732 835l73 91 50 52 8-3-47-60-81-88zM1223 845l42 37 4-7-34-35-10 4zM1269 885l6 5 3-5-3-3zM1295 905l40 36 4-6-34-35zM399 915l6 23 6-3-6-21zM125 925l0 68 3-8zM351 945l14 53 8-3-18-50zM1353 955l42 36 4-6-34-36-10 5zM862 985l82 100 31 28 3-8-21-30-42-50-50-48zM312 995l3 24 4-4-4-23zM1414 1005l21 17 4-7-14-15-10 5zM321 1025l4 28 4-8-4-24zM182 1045l3 49 4-9-4-45zM1462 1045l33 26 3-6-23-25-10 3zM232 1065l3 41 5-1-5-43zM282 1075l3 29 4-9-4-30zM1501 1075l14 15 6-15-6-6-10 4zM1523 1095l22 17 4-7-14-16-10 5zM1563 1125l32 28 4-8-24-26-10 5zM1014 1155l70 90 41 35 5-5-26-40-45-50-44-35zM1613 1165l22 17 4-7-14-15-10 4zM1640 1185l15 15 6-15-6-6-10 4zM1663 1205l22 17 4-7-14-15-10 4zM1690 1225l45 36 3-6-33-37-10 5zM1741 1265l24 17 4-7-14-16-10 4zM1769 1285l36 28 4-8-24-26-10 4zM1808 1315l37 26 3-6-23-26-10 3zM1165 1325l20 30 50 48-3-18-27-37-40-29zM1852 1345l33 26 3-6-23-25-10 4zM1891 1375l24 17 3-7-13-15-10 4zM1921 1395l34 27 3-7-23-25-10 3zM1960 1425l115 78 4-8-8-10-6-6-10 3-30-33-10 3-20-24-10 3-10-11-10 3zM2079 1505l86 58 4-8-14-16-10 3-20-24-10 3-20-22-10 4zM2169 1565l136 88 4-8-14-17-10 3-20-22-10 3-20-24-10 3-10-12-10 3-20-23-10 4zM2308 1655l97 59 4-9-14-16-10 2-10-12-10 3-20-23-10 3-10-13-10 4zM1758 2405l17 37 20 13 0-15-10-25-20-17zM3545 2216l29 9-29 5-4-5zM3575 2225l66 20-36 7-10-15-20 4-4-6zM3645 2246l89 29-39 7-10-13-10 1-10-13-20 4-4-6zM3735 2275l36 10-36 7-4-7zM3775 2286l34 9-34 6-4-6zM3815 2297l33 8-33 6-4-6zM3855 2307l61 18-31 6-10-14-20 3-4-5zM3925 2327l35 8-35 6-4-6zM3975 2338l31 7-31 5-3-5zM4015 2347l39 8-39 7-4-7zM4065 2357l39 8-39 7-4-7zM4125 2369l33 6-33 5-4-5zM4165 2377l31 8-31 6-4-6zM4225 2389l31 6-31 6-4-6zM4285 2399l36 6-36 7-5-7z"/><path fill="#00e0ff" d="M-5 -15l50 0 0 20 0-20 135 0 0 20 110 40 108 60 155 110 121 100 508 450 245 210 274 220 214 160 320 220 260 160 290 160 248 120-28 5-10-13-10 3-10-13-10 3-10-12-10 2-10-13-10 3-10-13-10 2-10-12-20 4-10-13-10 3-20-24-10 2-10-12-10 2-10-12-20 4-10-13-10 3-20-24-10 3-10-13-10 3-10-13-10 3-10-13-10 3-20-23-10 2-10-13-10 3-10-12-10 2-10-12-10 2-10-12-10 3-20-23-10 2-10-12-10 3-10-12-10 2-10-12-10 3-20-23-10 3-10-12-10 2-20-24-10 3-10-12-10 2-20-22-10 3-10-13-10 3-20-24-10 3-20-22-10 3-20-24-10 3-10-12-10 3-20-23-10 4-20-24-10 3-20-23-10 2-20-22-10 3-20-23-10 3-30-33-10 2-20-22-10 2-10-12-10 4-30-33-10 3-20-23-10 3-30-33-17 6 87 66 250 170 340 209 300 161 230 110 140 59 260 101 180 60 250 71 210 48 200 38 70 7 0 270-915 0 0-20-214-100-209-110-427-270-376-270-271-210-270-220-318-270-301-270-299-286-20-18-9 4 19 20 0 10 10 10 10 0 250 250 10-1 0 11 20 20 10-1 130 130 10 0 1 11 9 9 10 0 90 90 10 0 1 11 9 9 10-1 80 81 10 0 90 90 10-1 70 71 10 0 60 60 10-1 60 60 10 0 2 12 8 8 10 0 30 31 10-1 1 12 9 9 10-1 40 41 10-1 50 50 10 0 2 12 8 8 10 0 30 30 10 0 50 50 10 0 40 40 10 0 50 50 10 0 30 30 10-1 40 41 10-1 40 41 10 0 30 30 10 0 40 40 10 0 30 30 10 0 30 30 10 0 30 30 10 0 20 20 10-1 30 30 10 0 30 31 10-1 30 31 10-1 20 21 10 0 20 20 10 0 20 20 10 0 20 20 10 0 30 30 10 0 20 20 10 0 20 20 10 0 20 19 10 0 10 10 10 0 30 30 10 0 30 20 10 0 30 30 10 0 10 10 10 0 10 10 10 0 20 21 10 0 20 20 10 0 10 10 10 0 10 10 10 0 10 10 12 2 0 20-1170 0 0-20-118-150-121-170-82-100-421-550-465-590-425-563-7 3 17 29 259 371 658 910 347 490 76 114 115 156 34 50 0 20-231 0 0-20-357-590-240-380-386-590-305-479-4 9 4 11 534 889 314 540 299 540 26 50 0 20-169 0 0-20-154-320-250-490-630-1163-6 3 16 37 353 693 312 640 247 550 21 50 0 20-132 0 0-20-20-50-271-658-220-492-294-630-26-63-6 3 6 22 16 28 4 20 17 30 256 600 242 590 202 540 21 60 0 20-110 0 0-20-107-320-161-450-180-475-240-611-4 6 4 22 6 8 249 690 186 540 173 540 15 50 0 20-94 0 0-20-14-50-160-540-170-540-211-637-4 7 4 24 266 876 136 480 103 380 0 20-82 0 0-20-13-50-139-550-291-1070-15-40-5-32-4 2 4 36 25 84 229 920 163 700 0 20-74 0-10-70-141-650-212-937-6-13-4-32-9 2 9 47 6 13 139 680 186 940 0 20-70 0 0-20-78-440-233-1274-4 4 3 50 7 20 263 1640 0 20-68 0-98-720-142-1000-6-20-5-58-5 8 4 70 205 1700 0 20-73 0-190-1980-7-20-4-97-1 97 5 30 128 1950 0 20-112 0-70-1834-20 0 0-896zM238 65l7 5 4-5-4-4zM319 105l6 6 4-6-4-4zM348 125l7 5 4-5-4-4zM201 155l4 5 4-5-4-4zM398 155l17 15 4-5-14-14zM220 175l5 5 5-5-5-4zM439 185l6 5 3-5-3-4zM468 205l7 5 4-5-4-4zM507 235l8 7 5-7-5-5zM535 255l30 27 4-7-24-25zM319 265l6 7 5-7-5-5zM348 295l17 17 7-7-17-15zM597 305l8 7 4-7-4-5zM378 325l27 28 7-8-27-25zM618 325l7 6 4-6-4-3zM645 345l20 17 4-7-14-16zM437 385l18 19 8-9-18-18zM704 395l31 26 4-6-24-26-10 5zM486 435l19 19 8-9-18-19zM749 435l6 6 3-6-3-3zM774 455l31 26 4-6-24-26-10 5zM433 475l12 22 3-2-3-10-10-10zM553 485l-7 10 9 9 8-9-8-10zM818 495l7 6 4-6-4-4zM843 515l52 47 4-7-44-47-10 6zM469 525l276 340 467 540 238 260 104 120 100 100 51 60 65 60 15 10 10 2-1-22-29-60-40-50-90-95-51-65-146-150-459-490-504-563zM393 535l12 23 5-3-15-24zM598 535l-2 10 19 19 10-9-20-21zM412 565l3 8 3-8-3-5zM899 565l6 5 3-5-3-3zM647 585l-2 10 20 19 10-9-20-22zM924 585l11 13 6-13-6-6-10 6zM362 595l3 12 4-2-4-12zM944 605l31 26 4-6-24-26-10 6zM377 625l8 13 5-3-5-11zM696 635l19 30 10-2 2-8-22-23zM391 645l4 13 8-3-8-16zM992 645l13 14 6-14-6-6-10 5zM1012 665l33 27 4-7-24-26-10 5zM351 685l4 18 4-8-4-12zM1049 695l6 7 3-7-3-3zM358 705l7 16 4-6-4-12zM1057 705l8 7 4-7-4-4zM1081 725l64 56 3-6-53-56-10 4zM323 745l2 11 3-1-3-19zM332 765l3 14 4-4-4-18zM341 785l4 16 4-6-4-14zM1151 785l64 56 3-6-53-56-10 4zM293 795l2 16 3-6-3-18zM301 815l4 23 5-3-5-22zM1221 845l54 47 4-7-44-46-10 4zM112 855l3 61 4-1 0-10-4-59zM272 875l3 20 4 0-4-27zM282 905l3 23 6-3-6-30zM1292 905l53 46 4-6-44-46-10 4zM242 925l3 26 4-6-4-30zM162 935l3 44 4-4-4-49zM1351 955l54 46 3-6-43-47-10 5zM211 975l4 40 4-10-4-34zM1411 1005l44 37 4-7-34-36-10 4zM1459 1045l56 47 7-17-7-7-10 4-30-33-10 3zM1520 1095l35 27 4-7-24-27-10 5zM1560 1125l45 37 4-7-34-37-10 5zM1609 1165l46 37 7-17-7-7-10 3-20-22-10 4zM1659 1205l186 138 4-8-24-27-10 3-30-33-10 3-20-23-10 4-40-44-10 3-20-22-10 4zM3035 2016l187 79-27 5-10-13-20 4-10-13-10 2-10-13-20 4-10-14-10 3-10-13-10 2-10-12-10 3-10-13-10 2-2-4zM3225 2096l68 29-28 5-10-13-20 4-13-16zM3295 2126l25 9-25 5-4-5zM3325 2137l99 38-29 6-10-14-20 4-10-13-10 2-10-13-10 2-3-4zM3425 2175l29 10-29 5-4-5zM3455 2185l29 10-29 5-4-5zM3485 2195l50 20-30 6-10-13-10 2-4-5zM3545 2218l22 7-22 4-3-4zM3575 2227l25 8-25 5-3-5zM3605 2237l28 8-28 5-4-5zM3645 2248l22 7-22 4-3-4zM3675 2257l52 18-32 6-10-13-10 1-4-4zM3735 2277l28 8-28 5-4-5zM3775 2288l26 7-26 5-3-5zM3815 2298l26 7-26 5-3-5zM3855 2308l26 7-26 4-3-4zM3885 2316l24 9-24 4-3-4zM3925 2329l28 6-28 5-3-5zM3975 2340l24 5-24 4-2-4zM4015 2348l31 7-31 5-3-5zM4065 2359l32 6-32 6-4-6zM4125 2370l25 5-25 4-3-4zM4165 2379l23 6-23 4-3-4zM4225 2391l23 4-23 5-3-5zM4285 2400l29 5-29 5-4-5z"/><path fill="#00f6ff" d="M-5 -15l49 0 1 21 1-21 127 0 0 20 110 40 108 60 73 50 144 110 130 110 494 440 322 270 204 160 150 110 155 110 182 120-20 3-10-11-10 2-20-22-10 3-20-23-10 3-20-23-10 2-20-22-10 3-20-23-10 3-30-33-10 2-20-22-10 2-10-12-10 3-30-32-10 3-20-23-10 3-30-33-10 3-30-34-10 3-30-33-10 3-20-23-10 4-40-44-10 3-20-22-10 3-5-6 2-10-7-8-10 3-20-22-10 3-40-43-10 3-30-34-10 4-5-6 3-10-8-8-10 3-30-32-10 3-40-43-10 4-50-55-10 4-50-53-16 7 286 238 280 213 230 163 250 162 180 107 300 163 217 104 153 67 250 98 330 107 230 60 250 52 120 15 0 261-856 0 0-20-328-150-201-110-356-220-230-160-363-270-264-210-266-220-310-270-294-270-288-280-44-37-7-13-43-34-20-26-10-5-4 5 4 10 482 490 280 270 174 160 114 94 70 66 10 5 7-5-5-10 8 0 50 50 10 0 60 60 10-1 0 11 10 10 10-1 30 31 10-1 0 11 10 10 10-1 40 41 10-1 50 50 10 0 1 11 9 9 10 0 30 30 10 0 50 50 10 0 40 40 10 0 50 50 10 0 30 30 10 0 40 40 10 0 40 40 10 0 30 30 10 0 40 40 10 0 30 30 10 0 30 30 10 0 30 30 10 0 20 20 10 0 30 30 10-1 30 31 10 0 30 30 10 0 20 20 10 0 20 20 10 0 20 20 10 0 20 20 10 0 30 30 10 0 20 20 10 0 20 20 10 0 20 20 10-1 10 10 10 0 30 30 10 0 30 20 10 0 30 30 10 0 10 10 10 0 10 11 10 0 20 20 10 0 20 20 10 0 10 10 10 0 10 10 10 0 10 10 11 1 0 20-681 0 0-20-9-10-95-90-155-170-152-150-159-170-104-100-371-380-469-490-392-430-274-312-7 2 7 10 377 460 463 540 726 810 252 270 208 210 0 20-311 0 0-20-632-810-594-750-283-370-216-292-9 2 19 30 249 360 696 970 378 540 221 320 0 20-207 0 0-20-361-590-345-540-458-700-193-308-4 8 14 30 544 910 349 600 296 540 26 50 0 20-156 0 0-20-23-50-325-650-229-430-324-590-174-320-4-13-7 3 7 20 455 900 261 540 241 540 21 50 0 20-124 0 0-20-108-270-206-490-220-489-340-733-8 2 8 20 285 660 247 600 223 590 39 110 0 20-103 0 0-20-90-270-179-500-202-530-260-663-4 3 4 23 16 37 4 20 273 750 149 430 190 590 34 110 0 20-88 0 0-20-14-50-213-710-361-1102-7 2 6 30 16 40 148 490 209 710 160 590 0 20-77 0 0-20-12-50-141-550-332-1216-4 6 4 31 272 1079 163 700 0 20-70 0-10-70-141-650-234-1030-15-50-5-35-4 5 4 40 6 10 4 38 153 732 195 990 0 20-65 0 0-20-80-450-243-1324-5-6-5-47-3 7 3 48 5 12 3 40 125 750 154 970 0 20-64 0-263-1873-5 3 5 79 212 1771 0 20-68 0-193-1990-6-20-5-93-4 23 2 80 130 1980 0 20-99 0-34-770-45-1213-20 0 0-747zM170 35l5 4 3-4-3-4zM237 65l8 5 5-5-5-5zM259 75l6 4 4-4-4-4zM279 85l6 4 3-4-3-4zM299 95l6 4 3-4-3-4zM318 105l7 7 4-7-4-5zM347 125l8 6 5-6-5-5zM200 155l5 6 5-6-5-5zM397 155l18 16 5-6-15-15zM219 175l6 5 5-5-5-5zM437 185l8 6 4-6-4-4zM467 205l8 7 5-7-5-5zM505 235l20 15 3-5-13-16zM309 255l26 25 2-5-6-10-16-14zM533 255l42 36 3-6-33-36-10 5zM338 285l27 28 7-8-27-24zM595 305l30 27 4-7-24-25zM376 325l29 29 10 2-2-11-28-26zM642 345l33 26 4-6-24-26-10 5zM344 375l1 4 4-4-4-4zM433 375l2 10 30 24 3-4-4-10-19-19-10-3zM688 385l7 6 3-6-3-3zM701 395l54 47 4-7-44-46-10 4zM471 415l4 4 5-4-5-3zM320 435l5 11 7-1-7-12zM759 445l6 5 3-5-3-3zM333 455l2 4 4-4-4-8zM771 455l64 56 4-6-54-57-10 5zM302 495l3 11 4-1-4-12zM840 515l65 57 4-7-54-57-10 4zM319 525l16 33 7-3-17-31zM909 575l6 5 3-5-3-3zM301 585l4 21 9-1-9-21zM921 585l14 15 6-15-6-7-10 5zM941 605l44 36 4-6-34-37-10 5zM313 615l12 28 4-8-14-30zM283 645l2 21 4-1-4-21zM990 645l15 16 7-16-7-7-10 4zM1010 665l65 57 4-7-54-57-10 4zM292 675l3 13 5-3-5-16zM301 695l4 19 3-9-3-15zM262 715l3 15 3-5-3-16zM1079 725l206 177 4-7-54-57-10 3-60-63-10 3-60-63-10 4zM103 775l2 65 4-5-4-63zM242 775l3 24 4-4-4-23zM213 805l2 33 3-3-3-31zM251 805l4 28 4-8-4-24zM182 845l3 32 3-12-3-30zM222 845l3 33 5-3-5-34zM2245 1585l159 100-19 3-10-11-10 2-20-22-10 2-10-12-10 3-20-24-10 3-20-22-10 2-12-14zM2405 1685l119 70-19 3-10-11-10 2-10-12-10 2-20-22-10 2-10-12-10 3-12-15zM2525 1755l18 10-18 3-2-3zM2545 1766l29 19-19 3-12-13zM2575 1786l18 9-18 3-2-3zM2655 1827l29 18-19 3-12-13zM2685 1846l19 9-19 3-2-3zM2705 1856l19 9-19 3-2-3zM2725 1866l19 9-19 4-2-4zM2745 1875l54 30-24 5-10-13-10 3-13-15zM2845 1927l54 28-24 5-10-13-10 2-12-14zM2925 1967l18 8-18 3-2-3zM2945 1976l58 29-18 3-10-11-10 2-10-12-10 2-3-4zM3005 2006l21 9-21 4-3-4zM3055 2027l19 8-19 3-2-3zM3075 2036l39 19-19 3-10-11-10 1-3-3zM3115 2055l24 10-24 5-3-5zM3145 2067l19 8-19 3-2-3zM3165 2075l24 10-24 5-3-5zM3195 2087l20 8-20 4-3-4zM3225 2099l34 16-24 5-12-15zM3265 2117l21 8-21 4-3-4zM3295 2128l18 7-18 3-3-3zM3325 2139l16 6-16 3-2-3zM3345 2146l43 19-23 4-10-12-10 2-3-4zM3395 2167l22 8-22 4-3-4zM3425 2178l21 7-21 4-3-4zM3455 2188l21 7-21 4-3-4zM3485 2198l43 17-23 4-10-12-10 2-3-4zM3575 2230l18 5-18 3-2-3zM3605 2239l21 6-21 4-3-4zM3675 2259l44 16-24 4-10-12-13-2zM3735 2279l21 6-21 4-3-4zM3775 2290l19 5-19 4-2-4zM3815 2300l19 5-19 3-2-3zM3885 2319l17 6-17 3-2-3zM3925 2330l21 5-21 4-2-4zM4015 2350l24 5-24 4-3-4zM4065 2360l25 5-25 4-3-4zM4165 2381l16 4-16 3-2-3zM4225 2392l16 3-16 3-2-3zM4285 2401l21 4-21 4-3-4z"/><path fill="#0efff1" d="M-5 -15l48 0 2 21 2-21 119 0 0 20 110 40 108 60 74 50 143 110 130 110 368 330 254 220 194 160 117 90-19 4-20-22-10 3-40-43-10 3-30-33-10 3-4-5 2-10-8-9-10 3-30-32-10 2-40-42-10 3-50-53-10 3-50-53-10 3-60-63-10 3-60-63-10 3-60-63-10 3-60-63-10 4-5-6 3-10-8-8-10 4-40-43-17 7 297 260 325 270 287 220 226 160 252 165 180 108 288 157 225 110 257 110 140 55 320 107 210 58 240 54 160 28 20 0 0 248-774 0 0-20-242-100-235-110-363-210-171-110-317-220-356-270-335-270-317-270-300-270-650-623-8 3 73 70 5 10 207 210 53 60 489 490 338 320 426 380 190 160 227 169 13 1-114-120 11 0 40 40 10 0 40 40 10 0 30 30 10 0 40 40 10 0 30 30 10 0 30 30 10 0 30 30 10 0 20 20 10 0 30 30 10 0 30 30 10 0 30 30 10 0 20 20 10 0 20 20 10 0 20 20 10 0 20 20 10 0 30 30 10 0 20 20 10 0 20 20 10 0 20 20 10 0 10 10 10 0 30 30 10 0 30 20 10 0 30 30 10 0 30 20 10 0 20 20 10 0 20 20 10 0 10 10 10 0 0 9-80-9-12 10 5 10 0 20-479 0 0-20-236-210-284-270-433-430-373-380-451-480-537-603-8 3 44 50 4 10 36 40 4 10 539 650 470 540 523 590 245 270 199 210 0 20-267 0 0-20-1236-1560-247-320-316-424-4 4 4 10 17 20 3 10 297 430 615 860 301 430 370 540 0 20-188 0 0-20-364-590-347-540-459-700-245-392-7 2 37 70 607 1020 312 540 294 540 26 50 0 20-144 0 0-20-24-50-133-270-225-440-753-1387-1 17 20 40 454 900 209 430 203 440 139 320 0 20-116 0 0-20-108-270-207-490-291-640-277-590-25-63-7 3 6 20 385 900 176 430 222 590 39 110 0 20-96 0 0-20-92-270-153-430-209-550-291-740-4 10 4 18 301 832 182 530 175 550 15 50 0 20-83 0 0-20-78-270-150-490-191-590-181-547-15-33-5-27-4 7 2 20 7 10 23 90 294 970 238 860 0 20-73 0 0-20-12-50-154-600-159-590-176-620-6-34-5 4 3 30 6 10 4 30 243 960 202 860 0 20-66 0-10-70-144-660-232-1020-27-100-4-32-5 2 4 40 5 10 5 40 155 740 202 1030 0 20-61 0 0-20-80-450-245-1329-15-61-5-47-4 17 3 40 6 10 4 50 132 800 154 970 0 20-60 0-253-1800-17-90-5-57-4 7 2 60 6 20 215 1840 0 20-63 0-205-2100-1-8-7-2-3-104-1 94 5 20 3 100 127 1980 0 20-84 0-51-1040-39-1061-20 0 0-629zM169 35l6 4 4-4-4-5zM236 65l9 6 5-6-5-6zM258 75l7 5 4-5-4-5zM278 85l7 5 4-5-4-4zM297 95l8 5 4-5-4-5zM316 105l19 15 4-5-14-15zM346 125l9 7 5-7-5-6zM379 145l6 5 3-5-3-4zM199 155l6 7 6-7-6-5zM395 155l30 23 2-3-22-26zM219 175l6 6 6-6-6-6zM436 185l9 7 5-7-5-5zM465 205l20 16 3-6-13-16zM489 225l6 5 3-5-3-3zM503 235l22 17 4-7-14-16-10 5zM530 255l45 37 4-7-34-37-10 5zM593 305l42 37 4-7-34-36-10 5zM293 315l2 8 3-8-3-4zM640 345l165 140 130 117 7-17-7-7-10 4-70-75-10 4-60-63-10 4-60-64-10 4-50-54-10 4zM278 375l7 14 3-4-3-11zM271 445l4 12 5-2-5-12zM253 495l1 10 4 0-3-16zM263 515l2 11 6-1-6-15zM273 535l2 12 6-2-6-19zM253 585l2 13 3-3-3-18zM262 605l3 15 4-5-4-14zM270 625l5 18 4-8-4-13zM233 635l2 15 3-5-3-19zM242 655l3 23 5-3-5-22zM251 685l4 22 9-2-9-26zM94 695l1 69 3-19-3-51zM222 715l3 22 5-2-5-25zM192 735l3 28 3-8-3-25zM133 755l2 48 3-8-3-42zM202 775l3 25 4-5-4-28zM172 795l3 37 4-7-4-37zM1665 1176l49 39-19 4-20-22-10 3-4-5 2-10zM1715 1216l79 59-19 4-20-23-10 3-31-34zM1795 1276l37 29-17 3-22-23zM1835 1307l110 78-20 4-20-22-10 2-30-32-10 2-22-24zM1945 1385l40 30-20 4-22-24zM2005 1428l25 17-15 3-11-13zM2035 1448l37 27-17 3-21-23zM2075 1477l28 18-18 4-12-14zM2105 1496l25 19-15 3-12-13zM2135 1518l27 17-17 3-11-13zM2165 1537l29 18-19 4-12-14zM2195 1556l26 19-16 3-12-13zM2255 1595l16 10-16 3-2-3zM2275 1607l24 18-14 3-12-13zM2305 1628l28 17-18 4-11-14zM2355 1658l25 17-15 3-12-13zM2415 1695l18 10-18 4-3-4zM2435 1706l16 9-16 3-2-3zM2455 1717l26 18-16 3-12-13zM2745 1879l26 16-16 3-12-13zM2775 1897l17 8-17 3-2-3zM2845 1930l25 15-15 3-11-13zM2875 1947l17 8-17 3-2-3zM3115 2058l17 7-17 3-2-3zM3165 2078l17 7-17 3-2-3zM3235 2106l17 9-17 3-2-3zM3365 2157l16 8-16 3-2-3zM3505 2207l16 8-16 3-2-3zM3695 2268l17 7-17 3-2-3zM4015 2351l17 4-17 3-2-3zM4065 2361l18 4-18 3-2-3z"/><path fill="#25ffda" d="M-5 -15l47 0 3 22 2-22 112 0 0 20 110 40 108 60 74 50 143 110 130 110 380 340-19 4-60-63-10 3-4-4 3-10-9-9-10 3-40-42-10 3-4-5 2-10-8-8-10 3-70-74-10 4-60-63-10 3-60-63-10 3-50-53-10 4-40-43-15 7 21 20 191 160 429 380 263 220 201 160 213 160 167 117 233 153 287 171 190 102 230 113 370 156 307 108 203 60 210 52 238 48 22 0 0 230-656 0 0-20-125-40-157-60-249-110-192-100-293-170-244-160-229-160-294-220-401-320-261-220-237-210-353-330-349-337-40-28-1 5 247 250 102 110 374 380 277 270 409 380 362 320 323 270 344 270 296 210 0 20-372 0 0-20-242-210-290-270-440-430-375-380-259-270-250-270-505-568-3 8 12 20 45 50 355 440 269 320 944 1080 435 480 0 20-236 0 0-20-171-210-1114-1400-291-380-255-344-5 4 5 11 38 59 262 380 913 1290 400 590 0 20-171 0 0-20-366-590-244-380-565-860-267-424-7 4 56 100 605 1020 248 430 354 650 27 50 0 20-133 0 0-20-24-50-328-650-808-1488-4 8 12 30 512 1020 207 430 244 540 68 160 0 20-107 0 0-20-108-270-231-540-269-590-302-650-27-50-15-41-5 1 13 40 364 850 182 440 147 380 156 430 0 20-89 0 0-20-92-270-194-540-492-1261-8 1 8 28 233 642 208 590 160 490 99 320 0 20-77 0 0-20-17-60-193-640-210-650-203-610-14-30-6-30-3 0 2 30 16 40 2 20 324 1070 121 430 115 430 0 20-68 0 0-20-12-50-154-600-363-1317-4 7 3 30 6 10 238 950 228 970 0 20-62 0 0-20-13-60-152-700-264-1150-5 10 3 30 7 20 3 30 174 840 192 980 0 20-57 0-1-30-105-580-241-1300-5-10-5-45-4 5 2 40 6 20 5 50 123 750 171 1080 0 20-56 0-255-1800-20-140-6-20-6-64-4 14 2 50 5 20 223 1920 0 20-57 0-207-2100-6-20-6-99-4 29 2 70 72 1095 57 1005 0 20-57 0-30-377-30-552-50-1265-20 0 0-536zM168 35l7 5 5-5-5-5zM235 65l10 7 6-7-6-6zM256 75l9 6 5-6-5-6zM277 85l8 6 5-6-5-5zM296 95l9 6 5-6-5-5zM315 105l20 16 5-6-15-16zM344 125l21 13 2-3-12-16-10 6zM377 145l8 6 4-6-4-5zM198 155l27 27 11 3-4-10-27-26zM393 155l32 25 3-5-23-27-10 6zM434 185l21 15 4-5-14-16-10 5zM463 205l32 27 4-7-24-26-10 5zM265 215l10 11 6-1-6-12zM500 235l85 67 4-7-44-48-10 4-20-23-10 5zM250 265l15 22 9-2-19-22zM272 295l3 3 8-3-8-9zM233 305l2 13 4-3-4-10zM246 335l9 12 7-2-7-11zM262 355l3 5 4-5-4-7zM241 395l4 12 6-2-6-12zM252 415l3 8 3-8-3-7zM258 425l7 17 4-7-4-12zM232 455l3 11 4-1-4-14zM242 475l13 33 7-3-17-36zM222 515l3 12 3-2-3-15zM232 535l3 17 3-7-3-14zM212 575l3 23 4-3-4-23zM221 605l4 19 4-9-4-14zM193 615l2 24 3-4-3-21zM83 625l2 59 3-19-3-44zM202 645l3 29 4-9-4-22zM182 695l3 31 4-11-4-25zM122 705l3 41 3-11-3-39zM152 705l3 33 3-13-3-28zM162 745l3 40 8 0-8-44zM1105 716l68 59-18 4-52-54zM1175 777l68 58-18 4-51-54zM1255 845l58 50-18 4-42-44zM1315 897l57 48-17 3-41-43zM1385 955l47 40-17 4-32-34zM1445 1005l34 30-14 3-22-23zM1495 1047l23 18-13 3-11-13zM1525 1070l15 15-15 3-1-13zM1555 1096l25 19-15 3-12-13zM1605 1137l25 18-15 3-12-13zM1665 1181l15 14-15 3-1-13zM1725 1228l19 17-9 2-11-12zM1805 1288l20 17-10 2-12-12z"/><path fill="#3cffc3" d="M-5 -15l47 0 3 22 3-22 104 0 0 20 110 40 108 60 74 50 143 110 207 180-19 4-60-63-10 3-50-53-10 3-40-42-10 4-50-54-10 3-20-23-10 4-30-33-15 7 211 170 555 490 322 270 351 270 156 110 243 160 187 114 290 161 220 110 355 155 299 110 193 60 213 56 195 44 115 17 0 213-431 0 0-20-195-40-164-49-173-61-152-60-111-50-215-110-189-108-240-155-20-17-140-91-237-169-279-210-279-220-264-220-308-270-290-270-353-338-50-46-20-12-2 6 19 20 731 750 276 270 406 380 357 320 317 270 336 270 288 210 0 20-313 0 0-20-248-210-462-430-278-270-378-380-260-270-251-270-538-603-8 3 46 60 440 540 227 270 936 1080 429 480 0 20-205 0 0-20-174-210-1083-1350-331-430-307-413-4 3 4 10 19 30 218 320 300 430 533 750 221 320 362 540 0 20-152 0 0-20-369-590-813-1240-299-474-6 4 4 10 80 140 603 1020 247 430 209 380 169 320 0 20-120 0 0-20-24-50-330-650-232-430-474-860-126-239-4 9 3 10 28 60 456 910 210 430 197 430 164 380 0 20-97 0 0-20-20-50-272-650-171-380-398-850-106-236-4 6 4 20 384 900 177 430 188 490 114 320 0 20-82 0 0-20-109-320-178-490-493-1260-15-30-6-24-5 4 3 20 7 10 32 100 215 590 190 540 138 420 137 440 0 20-71 0 0-20-32-110-179-590-211-650-229-680-5-24-5 4 2 20 11 40 15 40 308 1030 139 490 114 430 0 20-62 0 0-20-28-110-139-540-375-1357-5 7 4 30 6 10 4 30 281 1120 188 810 0 20-57 0 0-20-128-590-260-1140-48-190-3-30-7-10-5-41-4 11 2 30 6 10 5 40 5 10 13 80 174 840 189 970 2 30-53 0-3-40-103-570-242-1300-5-10-4-40-6-10-6-52-4 12 1 30 7 20 14 110 123 750 170 1080 0 20-52 0-15-130-268-1840-4-50-7-10-5-67-4 17 1 40 7 20 4 70 225 1930 0 20-51 0-209-2100-8-40-5-84-5 24 2 80 63 968 40 726 6 226-6 43-30-258-20-80-10-96-40-659-40-1016-20 0 0-464zM167 35l8 5 5-5-5-6zM234 65l11 7 6-7-6-7-10 6zM255 75l10 7 6-7-6-6zM275 85l10 7 5-7-5-6zM295 95l70 45 4-5-14-17-10 5-20-25-10 6-10-15zM190 145l35 37 14 3-27-30-17-12zM375 145l50 37 5-7-8-10-17-17-10 4-10-13zM431 185l24 17 5-7-15-17-10 5zM213 225l2 3 3-3-3-9zM222 235l3 4 3-4-3-3zM231 245l4 6 3-6-3-4zM239 255l6 8 3-8-3-3zM33 265l2 10 4-10-4-4zM202 265l3 12 4-2-4-12zM203 335l2 4 3-4-3-7zM212 345l3 11 5-1-5-13zM222 365l3 6 3-6-3-7zM229 375l6 16 4-6-4-13zM33 395l2 79 3-49-3-38zM202 395l3 12 3-2-3-13zM212 415l3 12 4-2-4-14zM221 435l4 13 5-3-5-16zM231 455l4 13 8-3-8-16zM202 465l3 15 3-5-3-12zM212 485l3 22 5-2-5-22zM221 515l4 14 5-4-5-17zM192 525l3 18 3-8-3-16zM73 555l2 51 3-31-3-27zM202 555l3 15 4-5-4-19zM104 585l1 43 3-23-3-21zM182 585l3 25 4-5-4-24zM132 615l3 27 3-17-3-16zM191 615l4 26 5-6-5-23zM162 625l3 23 3-13-3-19zM112 645l3 44 4-14-4-36zM143 655l2 36 4-6-4-33zM173 655l2 33 5-3-5-32zM795 446l67 59-17 3-51-53zM875 516l66 59-16 4-51-54zM945 578l16 17-16 4-1-14zM975 606l34 29-14 3-21-23zM1015 640l14 15-14 3-1-13zM1055 677l42 38-12 3-32-33zM1135 746l19 19-9 2-12-12z"/><path fill="#52ffad" d="M-5 -15l46 0 0 20 4 3 3-23 97 0 0 20 110 40 108 60 74 50 117 90-19 4-20-23-10 4-30-33-10 4-20-24-10 4-30-34-10 4-10-13-13 7 99 70 196 160 553 490 395 330 208 160 223 160 338 220 273 160 207 110 226 110 228 100 288 110 199 65 160 46 196 49 184 36 20 0 0 150-216-16-344-55-229-55-197-60-138-50-248-110-212-110-172-100-266-170-288-206-160-126-50-33-90-75-50-35-14-15-268-210-446-380-293-270-295-280-114-105-30-21-4 6 179 180 470 490 270 270 398 380 472 430 311 270 327 270 277 210 0 20-245 0 0-20-186-150-251-220-291-270-281-270-538-540-357-380-490-550-81-85-5 5 5 6 285 354 446 540 1162 1350 186 210 0 20-166 0 0-20-400-480-872-1080-332-430-309-414-6 4 5 10 196 290 262 380 642 910 331 490 210 320 0 20-128 0 0-20-374-590-778-1180-360-569-4 9 4 8 68 122 630 1070 212 370 241 440 166 320 0 20-104 0 0-20-357-700-233-430-416-750-217-406-4 6 11 30 504 1010 208 430 171 372 189 438 0 20-87 0 0-20-65-160-229-540-195-430-376-800-127-283-5 3 3 20 16 30 5 20 88 210 296 690 156 380 161 417 159 443 0 20-74 0 0-20-109-320-160-440-142-370-414-1048-4 8 4 20 14 30 3 20 254 700 188 540 141 427 133 433 0 20-64 0-3-30-91-310-152-490-407-1220-3-20-18-40-5-26-4 6 1 20 7 10 23 90 322 1070 121 427 131 493 0 20-56 0 0-20-181-700-358-1280-3-20-18-50-5-31-4 11 2 20 7 10 23 110 242 961 225 969 0 20-50 0 0-20-130-590-308-1330-4-30-8-20-4-30-6-10-5-36-4 6 1 30 6 10 4 40 8 20 195 962 190 978 0 20-48 0-9-70-98-540-252-1350-7-20-4-40-7-10-5-48-4 8 2 40 6 10 4 50 142 871 167 1079 0 20-44 0-7-70-269-1830-14-120-7-20-6-60-4 10 1 50 6 30 4 60 223 1923 1 27-44 0-137-1312-90-917-6 19 2 90 34 508 40 705 6 227-6 25-20-178-20-91-30-435-40-965-20 0 0-406zM166 35l9 6 6-6-6-7zM208 55l7 4 4-4-4-4zM231 65l79 40 55 37 5-7-15-18-10 4-20-24-10 5-10-14-10 5-10-15-10 6-10-16-10 6-10-17-10 6zM188 145l37 38 10 6 6-4-46-44zM14 175l1 17 7-7-7-13zM180 185l35 45 5-5-4-10-31-31zM40 255l-9 10-2 10 6 2 10-17 12-5-12-1zM200 265l5 13 6-3-6-13zM23 285l2 51 4-51-4-7zM211 285l4 6 4-6-4-6zM182 295l2 10 4 0-3-12zM192 315l3 10 8 0-8-17zM202 335l3 5 4-5-4-10zM210 345l5 13 9-3-9-14zM192 375l3 14 4-4-4-15zM34 385l-3 50 4 46 4-56-4-42zM201 395l4 13 5-3-5-14zM182 425l3 12 3-2-3-19zM192 445l3 14 4-4-4-14zM174 465l1 22 3-12-3-11zM201 465l4 17 4-7-4-14zM64 475l1 49 4-29-4-23zM84 475l1 34 3-14-3-22zM103 475l2 26 3-16-3-12zM182 495l3 21 4-11-4-14zM135 505l0 25 3-15zM112 525l3 25 3-15-3-17zM162 525l3 21 3-11-3-17zM92 535l3 35 3-15-3-27zM75 545l-4 30 4 35 4-35zM143 545l2 26 3-16-3-14zM172 555l3 22 4-2-4-25zM123 565l2 34 3-24-3-13zM103 585l2 45 4-25-4-23zM152 585l3 26 4-6-4-28zM131 615l4 30 4-10-4-28zM555 246l59 49-19 4-41-44zM615 296l46 39-16 3-31-33zM675 347l43 38-13 3-31-33zM755 415l20 20-10 2-12-12zM945 584l9 11-9 2 0-12z"/><path fill="#69ff96" d="M-5 -15l45 0 0 20 5 3 4-3 0-20 89 0 0 20 110 40 108 60 59 40-20 4-10-12-10 4-20-25-10 4-20-23-10 3-10-13-10 4-10-14-10 5-10-15-10 5-10-15-16 8 78 40 77 50 146 110 258 220 495 440 188 160 199 160 212 160 154 110 238 160 177 110 188 110 203 110 221 110 222 100 280 111 325 109 455 124 20 0 0 51-110-1-120-10-250-40-300-70-180-54-146-50-155-60-113-50-227-110-197-110-258-160-235-160-220-160-269-209-330-273-266-228-298-270-299-280-197-175-9 5 19 20 106 100 575 600 382 380 282 270 410 380 724 640 49 50 16 30-14 5-40-4-40-13-92-58-81-60-320-270-346-320-391-380-421-430-351-380-346-390-132-142-6 2 6 10 644 790 868 1020 317 380 165 210 41 60 10 30-15 10-20 0-41-30-161-170-231-270-487-590-395-490-334-430-331-444-7 4 4 10 291 430 603 860 369 540 209 320 168 270 0 20-86 0 0-20-563-860-639-960-359-568-1 18 880 1510 261 479 195 381 0 20-81 0 0-20-337-650-261-480-418-750-207-390-26-40-5-16-3 16 532 1070 181 375 220 484 161 381 0 20-72 0 0-20-45-110-279-650-695-1495-4 5 1 10 8 10 12 40 404 950 169 416 150 391 153 433 0 20-63 0-3-30-51-150-221-610-565-1436-5 6 1 10 13 40 302 840 189 548 140 435 99 327 0 20-55 0 0-20-48-160-201-650-445-1336-4 16 9 20 1 20 225 740 189 649 187 701 0 20-49 0 0-20-12-50-170-650-362-1300-23-80-6-10-5-30-4 10 1 20 7 10 3 30 16 50 14 70 253 1009 212 921 0 20-44 0-2-30-142-640-308-1320-4-30-6-10-3-30-7-10-6-40-4 10 0 20 8 20 2 30 214 1038 186 972 0 20-40 0 0-20-90-490-296-1571-5 11 2 40 7 20 22 160 114 696 170 1104 3 50-36 0-279-1900-14-120-7-20-3-50-9-20-5-64-4 14 0 40 8 20 2 60 104 879 120 1093 3 68-27 0-116-1037-114-1113-2-60-9-30-5-97-5 27 1 50 7 50 2 90 55 910 0 178-20-175-10-21-10-94-20-322-30-727-20 0 0-359zM164 35l11 7 6-7-6-8-10 7zM206 55l9 5 5-5-5-5zM131 95l4 3 4-3-4-3zM174 135l11 4 0-5-10-2zM13 175l2 21 12-1-12-25zM162 215l3 5 3-5-3-5zM171 225l4 11 7-1-7-12zM182 245l3 4 5-4-5-9zM36 255l-14 30 3 56 5-56 15-21 14-9-14-2zM191 255l4 7 4-7-4-5zM162 265l3 8 3-8-3-5zM172 285l3 4 4-4-4-8zM64 295l-5 10 6 2 4-12-4-1zM181 295l4 12 7-2-7-13zM52 315l-1 10 4 3 3-13-3-7zM162 315l3 14 3-4-3-13zM42 335l3 25 4-25-4-5zM172 335l3 13 4-3-4-13zM152 355l3 9 3-9-3-5zM181 355l4 13 5-3-5-14zM63 365l2 24 3-14-3-13zM132 365l3 9 3-9-3-5zM162 375l3 15 3-5-3-15zM84 385l1 21 3-11-3-11zM104 395l1 17 3-7-3-12zM124 395l1 16 3-6-3-11zM142 395l3 9 3-9-3-8zM173 395l2 17 4-7-4-11zM53 405l2 40 4-30-4-15zM152 415l3 19 3-9-3-14zM183 415l2 24 5-4-5-20zM72 425l3 25 4-15-4-18zM133 425l2 22 3-12-3-12zM92 435l3 19 3-9-3-18zM113 435l2 18 3-8-3-15zM162 445l3 15 4-5-4-15zM145 455l-4 10 4 13 4-13zM172 465l3 24 5-4-5-22zM63 475l-2 30 4 22 4-32-4-25zM83 475l2 36 4-16-4-24zM103 475l2 28 4-18-4-14zM121 475l4 19 4-19-4-9zM154 485l-2 20 3 8 4-8-4-21zM134 505l1 27 4-17-4-12zM111 525l4 27 4-17-4-19zM161 525l4 23 4-3-4-28zM91 535l4 37 4-17-4-29zM142 545l3 27 4-17-4-16zM122 565l3 36 4-16-4-25zM102 585l-1 30 4 18 4-18-4-35zM415 145l40 30-20 5-22-25zM455 175l28 20-18 4-12-14zM485 196l35 29-15 3-21-23z"/><path fill="#80ff80" d="M-5 -15l45 0 0 20 5 4 5-4 0-20 81 0 0 20 110 40 73 40-19 5-10-14-10 4-10-14-10 4-10-14-18 9 77 40 76 50 146 110 256 220 551 490 328 270 293 220 306 210 360 220 295 160 340 163 260 110 259 97 94 40 20 10 11 10 0 10-54 1-82-11-173-40-201-60-170-60-262-110-206-100-203-110-266-160-257-170-225-160-147-110-265-210-387-330-7-10-295-260-358-330-136-118-30-18-2 6 137 130 418 440 373 380 440 430 505 480 49 50 41 50-1 6-10 1-55-17-47-30-61-50-247-220-281-270-270-270-260-270-249-270-437-490-43-43-10 3 167 200 484 600 721 860 128 160 70 100 3 10 0 10-13 7-20-7-60-58-101-112-229-270-569-700-292-380-279-374-6 4 4 10 17 20 302 450 782 1130 201 312 50 88 13 40-3 12-10 4-20-16-190-268-621-922-280-430-229-364-5 4 13 30 722 1239 180 320 200 377 80 164 28 80-5 20-3 2-10-6-50-78-363-668-538-960-249-465-5 5 2 10 8 10 1 10 584 1180 150 317 190 428 90 219 62 166 0 20-37 0 0-20-358-810-527-1120-126-280-28-50-6-22-6 2 3 20 16 30 34 90 313 736 220 537 180 478 133 389 0 20-44 0-3-30-251-690-605-1533-5 3 2 20 17 40 4 20 322 899 150 438 120 372 132 441 0 20-43 0 0-20-14-50-221-710-475-1420-2 30 16 40 3 20 224 740 170 587 120 441 82 322 0 20-38 0 0-20-29-110-200-750-342-1220-7-10-1-20-10-20-5-28-4 28 8 10 2 30 8 20 296 1199 197 871 0 20-35 0-6-50-151-670-325-1392-5 2 0 30 8 20 3 30 234 1148 160 850 1 32-31 0-3-40-369-1940-4-40-8-20-2-30-8-20-6-47-4 7 0 40 8 20 2 40 184 1142 120 807 7 81-22 0 0-20-35-201-130-859-136-940-7-30-3-40-7-20-7-67-5 17 0 40 8 30 2 50 85 717 80 736 10 104 0 106-20-95-30-232-60-543-93-903-2-60-9-40-6-91-5 21 0 60 7 60 38 663 0 174-8-77-12-54-20-229-30-686-20 0 0-321zM162 35l13 7 7-7-7-8-10 5zM188 45l7 5 4-5-4-5zM204 55l11 6 6-6-6-6-10 6zM130 95l5 4 5-4-5-4zM142 145l3 3 3-3-3-3zM152 155l3 7 4-7-4-3zM12 175l3 23 16-3-16-27zM132 175l3 3 3-3-3-3zM152 195l3 12 5-2-5-11zM132 215l3 5 3-5-3-4zM162 215l3 7 4-7-4-7zM142 235l3 3 3-3-3-6zM62 245l3 5 11-5-11-2zM34 255l-13 30 4 60 6-60 15-20 16-10-7-4-20 3zM161 265l4 10 4-10-4-7zM82 275l3 4 3-4-3-7zM144 275l1 13 3-3-3-11zM166 275l9 15 5-5-5-10zM72 285l3 9 3-9-3-3zM102 285l3 5 3-5-3-4zM63 295l-21 40 3 27 5-27 23-40-8-2zM152 295l3 13 3-3-3-13zM92 305l3 5 3-5-3-5zM161 315l4 15 4-5-4-14zM82 325l3 11 3-11-3-7zM123 335l2 14 3-4-3-12zM141 335l4 7 4-7-4-7zM171 335l4 14 5-4-5-14zM72 345l3 13 4-13-4-6zM94 355l-3 10 4 7 4-7-4-11zM151 355l4 11 4-11-4-6zM62 365l3 25 4-15-4-14zM112 365l3 15 3-15-3-4zM131 365l4 11 4-11-4-6zM161 375l4 16 4-6-4-16zM83 385l-2 10 4 12 4-12-4-13zM103 395l2 19 4-9-4-13zM123 395l2 18 4-8-4-13zM141 395l4 11 4-11-4-9zM171 395l4 19 4-9-4-12zM52 405l3 43 4-33-4-17zM151 415l4 21 4-11-4-15zM71 425l4 27 4-17-4-20zM95 425l-4 20 4 11 4-11zM132 425l3 23 4-13-4-13zM112 435l3 20 4-10-4-17zM161 445l4 17 5-7-5-17zM143 455l-2 10 4 15 4-15-4-11zM124 465l-3 10 4 21 4-21-4-11zM62 475l-2 30 5 25 5-35-5-27zM82 475l-2 20 5 18 5-18-5-25zM102 475l3 30 4-20-4-15zM152 485l-1 20 4 9 5-9-5-22zM132 505l-1 20 4 8 5-18-5-13zM114 515l-4 20 5 19 5-19-5-21zM94 525l-4 30 5 19 5-19-5-31zM121 565l4 38 5-8-5-36zM315 85l17 10-17 4-2-4zM335 97l25 18-15 3-11-13zM365 118l28 17-18 5-11-15z"/><path fill="#96ff69" d="M-5 -15l44 0 0 20 6 4 5-4 0-20 74 0 0 20 87 30 38 20-24 9-10-16-14 7 99 50 76 50 144 110 256 220 491 440 247 210 279 220 306 220 320 210 268 160 318 172 303 148 88 50 9 10-10 6-47-6-161-50-151-60-218-100-212-110-192-110-179-110-243-160-378-270-342-270-307-260-564-510-196-169-30-20-3 9 87 80 98 100 630 660 591 590 48 50 48 60-9 6-23-6-71-50-176-160-224-220-366-380-495-550-155-164-4 4 4 9 176 211 391 490 576 700 67 90 13 30-3 7-10 2-10-6-60-58-102-115-226-270-343-430-459-608-4 8 11 20 943 1380 100 160 14 40-4 8-10-2-30-31-270-383-360-537-390-613-4 8 3 10 15 20 13 30 27 40 191 340 345 590 210 369 120 226 41 95-2 10-9 4-20-26-140-237-490-868-300-558-5 5 1 10 9 10 1 10 18 30 1 10 102 210 343 690 210 437 140 314 40 103 7 36-7 9-10-12-60-118-204-439-356-745-230-502-5 17 9 10 12 40 8 10 151 370 205 480 170 418 150 397 60 187 0 19-10 2-40-90-195-503-387-960-115-300-13-28-5-2-1-20-4-6-5 6 3 20 15 30 24 80 283 791 170 496 130 413 50 177 8 43 0 10-8 8-4-18-16-31-194-599-347-1020-109-334-5 4 0 20 9 20 2 20 7 10 3 20 6 10 3 20 255 848 150 528 120 463 20 89 0 39-10-12-20-61-185-674-365-1290-5 10 0 20 9 20 1 20 8 20 297 1209 120 533 39 208-9 7-3-17-7-10-2-20-28-97-440-1881-5 8 0 30 9 20 1 20 135 655 160 822 50 281 3 42 7 20 0 46-10-18-4-28-6-11-3-29-7-18-30-149-282-1463-13-90-8-20-2-30-8-20-3-40-4-9-6-1 1-40-5-13-5 13 1 30 8 20 1 40 8 20 2 40 125 768 90 596 14 126 6 19 3 71-3 13-20-89-40-242-210-1412-6 10 0 50 8 30 3 60 105 910 14 170 6 29 0 89-10-39-60-489-100-983-6 23 0 60 7 60 3 110 16 218 5 192-5 13-10-52-20-252-20-466-20 0 0-293zM130 25l5 3 3-3-3-5zM159 35l16 8 8-8-8-9-10 5zM186 45l9 7 5-7-5-6zM129 95l6 5 6-5-6-5zM142 105l13 14 6-4-16-15zM122 125l3 3 3-3-3-3zM161 125l4 3 9-3-9-6zM132 135l3 4 4-4-4-4zM141 145l4 4 4-4-4-4zM123 155l2 13 3-3-3-12zM11 175l4 26 10-3 20 11 32-4-32-3-30-36zM131 175l4 4 4-4-4-4zM112 185l3 3 3-3-3-4zM141 185l4 7 3-7-3-4zM149 195l6 13 7-3-7-12zM92 215l3 7 3-7-3-3zM113 215l2 13 3-3-3-12zM131 215l4 7 4-7-4-5zM125 235l0 13 3-3zM141 235l4 4 4-4-4-8zM61 245l-26 8-12 22-3 40 5 36 8-66 15-20 29-20-2-6-10 4zM151 245l4 12 6-2-6-14zM92 255l3 6 3-6-3-4zM111 265l4 5 4-5-4-7zM81 275l4 5 4-5-4-9zM143 275l-2 10 4 4 4-4-4-12zM71 285l-16 20-14 30-1 20 5 10 6-30 29-50-5-4zM101 285l4 7 4-7-4-5zM121 285l4 10 4-10-4-4zM151 295l4 14 4-4-4-14zM91 305l4 7 4-7-4-6zM113 305l-2 10 4 7 4-7-4-12zM132 305l3 14 3-14-3-4zM81 325l0 10 4 2 4-12-4-9zM101 335l4 13 4-13-4-4zM122 335l3 15 4-5-4-13zM141 335l4 8 4-8-4-9zM71 345l-1 10 5 4 4-14-4-7zM93 355l-2 10 4 9 4-9-4-12zM150 355l3 10 6 0 1-10-5-8zM61 365l0 20 4 7 5-17-5-15zM111 365l4 16 4-16-4-5zM131 365l4 13 5-13-5-8zM82 385l-2 10 5 13 5-13-5-14zM144 385l-4 10 5 12 5-12-5-11zM102 395l3 20 5-10-5-14zM122 395l-2 10 5 9 5-9-5-14zM51 405l-1 30 5 16 5-36-5-19zM74 415l-4 20 5 18 5-18-5-21zM94 425l-4 20 5 12 5-12-5-22zM131 425l4 24 5-14-5-14zM111 435l4 21 5-11-5-19zM142 455l-1 20 4 6 5-16-5-13zM123 465l-3 20 5 12 5-22-5-12zM61 475l-1 40 5 18 4-8 2-30-6-30zM81 475l0 30 4 10 5-20-5-27zM101 475l-1 20 5 12 5-22-5-17zM131 505l-1 20 5 10 5-20-5-14zM113 515l-3 30 5 11 5-21-5-22zM255 58l14 7-14 4-1-4zM275 68l14 7-14 3-1-3zM295 78l12 7-12 3-1-3z"/><path fill="#adff52" d="M-5 -15l43 0 0 20 7 5 6-5 0-20 66 0 0 20 61 20-21 10 139 70 74 50 143 110 130 110 546 490 196 170 194 160 204 160 217 160 235 163 350 222 246 145 93 60 7 10-26 0-148-60-301-160-184-110-172-110-388-270-357-270-329-270-550-490-185-160-156-126-7 6 179 170 520 550 408 420 80 90 10 20-30-8-44-32-67-60-211-210-256-270-451-500-121-125-5 5 14 20 175 210 736 920 30 46 4 14-4 6-10-3-50-48-100-114-180-220-251-321-359-474-5 4 31 50 714 1053 70 107 30 60-2 10-8 1-50-60-190-270-280-423-310-487-5 9 10 10 41 80 27 40 162 290 425 738 90 170 9 32-9 4-20-24-2-10-28-39-130-220-250-441-310-575-5 5 1 10 9 10 0 10 28 50 2 10 101 210 214 431 260 540 60 141 3 18-3 15-40-65-50-101-340-706-240-522-5 9 10 30 8 10 12 40 8 10 417 1005 80 203 50 142 0 29-20-30-160-385-261-644-115-300-16-30-3-20-10-10-5-23-5 13 10 20 2 20 35 90 3 20 135 371 240 690 70 217 25 102 1 10-6 3-130-362-380-1125-5 4 0 20 9 10 0 20 10 20 1 20 7 10 3 20 6 10 179 603 150 520 60 225 4 32 6 10 1 40-21-49-50-167-370-1300-5 6-1 20 10 20 0 20 9 20 1 20 9 20 4 30 133 526 140 584 45 220 5 10 0 42-2-12-8-9-2-21-18-52-4-28-6-12-4-28-36-136-290-1228-6 14 0 20 10 20 1 30 8 20 3 30 25 110 179 900 23 140 7 21 4 39 6 17 4 43 6 16 0 52-3-18-7-10-3-30-7-14-2-26-8-20-3-30-7-19-60-300-190-996-6 15 1 30 8 20 1 40 8 20 2 40 146 917 13 113 7 28 3 72-3 5-10-43-60-367-105-725-7-20-2-40-9-30-1-40-10-30-1-50-5-12-5 12-1 40 9 30 2 60 7 30 2 50 66 564 4 66 6 26 3 74 7 27 0 81-10-45-40-329-61-584-5-80-7-30-3-80-4-6-6 16-1 70 8 70 3 130 6 34 0 164-10-51-10-116-20-435-20 0 0-266zM128 25l7 4 4-4-4-6zM111 115l4 4 4-4-4-5zM121 125l4 4 4-4-4-4zM102 135l3 3 4-3-4-4zM131 135l4 5 5-5-5-5zM111 145l4 4 4-4-4-4zM122 155l3 14 4-4-4-13zM14 165l-5 20 6 19 10-5 10 9 20 2 23-5-3-4-30 1-25-27-5-11zM81 165l4 3 3-3-3-5zM102 165l3 4 3-4-3-3zM43 175l22 3 12-3-32-3zM131 175l4 5 5-5-5-5zM92 185l3 3 3-3-3-4zM111 185l4 4 4-4-4-5zM80 195l5 4 4-4-4-4zM121 195l4 9 4-9-4-4zM91 215l4 9 4-9-4-4zM112 215l-1 10 4 4 4-4-4-13zM131 215l4 8 5-8-5-6zM77 235l8 3 3-3-3-7zM104 235l-2 10 3 3 3-3-3-11zM123 235l-2 10 4 4 4-4-4-11zM59 245l-24 7-14 23-2 50 6 31 9-71 15-20 29-20-3-8-10 5zM91 255l4 7 4-7-4-4zM131 255l4 14 4-4-4-14zM84 265l-31 40-13 30-1 20 6 12 16-52 29-40-5-11zM111 265l4 7 4-7-4-8zM142 275l-2 10 5 5 5-5-5-13zM100 285l5 8 5-8-5-5zM121 285l4 12 5-12-5-5zM90 305l5 8 5-8-5-7zM112 305l-2 10 5 8 5-8-5-13zM131 305l4 15 4-15-4-5zM85 315l-6 20-19 30 0 20-10 20-1 30 6 18 5-18-2-40 7-1 5-9 1-20 17-30 2-10zM145 325l-5 10 5 9 5-9zM100 335l5 14 5-14-5-5zM121 335l-1 10 5 6 5-6-5-14zM92 355l-2 10 5 10 5-10-5-13zM110 365l5 18 5-18-5-6zM130 365l5 14 5-14-5-9zM81 385l0 20 4 5 5-15-5-16zM101 395l-1 10 5 12 5-12-5-15zM121 395l-1 10 5 11 5-11-5-15zM73 415l-4 20 6 20 6-20-6-23zM92 425l-3 20 6 14 6-14-6-23zM114 425l-5 20 6 13 6-13-6-21zM130 425l1 20 4 6 6-16-6-16zM122 465l-2 20 5 14 4-4 2-20-6-13zM80 475l0 30 5 12 6-22-6-28zM100 475l-1 20 6 13 6-23-6-18zM185 28l19 7-19 8-2-8zM205 35l37 20-17 6-10-14-10 4-4-6z"/><path fill="#c3ff3c" d="M-5 -15l43 0 0 20 7 5 6-5 0-20 59 0 0 20 32 10-16 10 9 5 10-14 26 9-17 10 136 70 154 110 190 160 672 600 263 220 203 160 214 160 229 162 232 158 34 30-16 0-45-20-111-60-180-110-238-160-372-270-205-160-328-270-631-550-220-177-20-6 0 5 10 1 2 7 129 120 259 270 450 480 84 100-4 7-20-7-39-30-171-170-252-270-296-330-142-145-5 5 208 250 428 540 79 104 40 61 0 7-10 1-50-51-140-168-169-214-347-460-29-30-5-14-4 4 0 10 18 20 48 70 548 820 31 50 22 50-3 3-10-7-30-34-140-201-220-334-250-394-5 7 32 60 26 40 2 10 27 40 368 649 90 160 50 101 0 13-10-5-20-27-160-271-211-380-179-335-5 15 9 10 1 10 9 10 0 10 29 50 53 120 284 578 140 303 0 27-1-8-29-40-1-10-109-210-200-420-180-392-6 12 12 30 8 10 20 60 8 10 298 720 90 227 20 63-10 2-2-12-8-8-80-183-160-389-190-484-5 4 1 20 8 10 2 20 7 10 21 70 8 10 2 20 18 40 248 708 70 216 5 36-5 2-2-12-8-9-4-21-16-32-3-18-7-10-50-139-4-21-146-415-116-355-7-10-2-20-8-10-2-20-9-10-1-20-5-7-6 7 1 20 9 10 0 20 8 10 12 60 7 10 219 743 60 216 2 21 8 16 10 59-10-12-1-13-9-15-4-25-6-7-22-83-18-48-3-22-27-79-3-21-107-360-84-310-7-10-4-30-7-10-13-60-9-10 0-20-6-15-6 15 2 20 8 10 0 20 8 20 2 20 8 20 13 70 26 90 14 70 145 582 23 118 17 60 2 50-3-20-9-14-14-66-6-9-14-71-26-90-4-30-6-12-4-28-127-520-24-120-6-10-4-30-7-10-14-80-9-10 1-30-6-9-6 9 0 20 10 20 0 30 9 20 1 30 8 20 3 30 25 110 120 607 5 43 5 9 13 91 7 18 3 52-3 8-2-28-8-14-4-36-6-10-3-30-17-66-63-334-7-20-54-300-7-20-3-30-7-20-4-40-8-20-1-30-9-20-1-30-2-10-9-10 1-40-6-10-6 10 0 30 10 20 0 40 8 20 2 40 7 20 23 170 6 20 24 170 6 19 13 111 7 21 4 49 6 16 3 44 7 22 14 128 6 14 0 50-2-24-8-15-13-95-7-19-3-41-7-21-3-39-7-24-4-46-6-18-33-242-7-22-14-118-17-90-3-50-8-20-3-50-8-20-1-50-6-14-6 14-1 40 9 40 2 50 7 30 23 240 6 21 3 59 7 34 3 66 7 28 3 82 7 17 0 58-10-44-25-231-5-18-14-162-6-24-15-176-6-30-4-70-8-40-1-70 6-10 15-50 38-60-5-5-16 25-27 30-13 30-2 30-9 10 0 120 7 40 0 144-10-56-19-388-1-4-20 0 0-246zM101 75l4 4 6-4-6-5zM81 105l4 4 4-4-4-4zM12 115l3 4 21-4-21-4zM111 115l4 5 5-5-5-7zM47 125l18 3 4-3-14-3zM81 135l4 4 4-4-4-4zM101 135l4 4 4-4-4-5zM110 145l5 5 5-5-5-5zM12 165l-4 30 7 12 10-7 10 9 20 5 24-9-4-5-30 1-25-26-5-13zM32 165l3 3 4-3-4-6zM80 165l5 4 4-4-4-6zM101 165l4 5 4-5-4-4zM42 175l23 4 13-4-3-4-30 0zM91 185l4 4 4-4-4-5zM110 185l5 5 5-5-5-6zM79 195l6 5 5-5-5-5zM120 195l7 10 2-10-4-4zM101 205l4 3 4-3-4-10zM90 215l5 10 5-10-5-5zM111 215l-1 10 5 5 5-5-5-14zM74 235l-19 12-20 3-11 15-6 50 7 47 10-76 15-21 39-30-4-9-10 9zM103 235l-2 10 4 4 4-4-4-12zM122 235l-2 10 5 5 5-5-5-13zM115 255l-5 10 5 8 5-8zM130 255l5 15 5-5-5-15zM100 285l5 9 5-9-5-6zM120 285l5 13 5-13-5-6zM89 305l-29 60-1 20-10 20 0 30 6 21 6-21 0-30 9-20 2-20 8-10 12-40 9-10-6-8zM111 305l-1 10 5 10 5-10-5-14zM130 305l5 17 5-7 0-10-5-6zM100 335l0 10 5 5 5-15-5-6zM120 335l0 10 5 7 6-7-6-15zM91 355l-2 10 6 12 6-12-6-14zM134 355l-5 10 6 15 6-15-6-10zM109 365l6 20 6-20-6-7zM80 385l0 20-11 20 0 20 6 12 6-12-1-30 10-10 1-10-6-17zM100 395l-1 10 6 13 6-13-6-16zM120 395l-1 10 6 12 6-12-6-16zM91 425l-2 20 6 16 6-16-6-24zM113 425l-4 20 6 14 6-14-6-22zM185 30l12 5-12 5-1-5zM205 38l15 7-15 4-3-4zM225 48l10 7-10 4-1-4z"/><path fill="#daff25" d="M-5 -15l42 0 0 20 8 6 7-6 0-20 52 0 0 20 31 10-12 10 12 6 10-13 20 7-14 10 134 70 151 110 189 160 546 490 196 170 258 214 409 316 34 30-3 6-53-26-170-110-223-160-225-170-390-320-378-330-202-170-209-167-80-61-20-8 0 9 10 3 129 124 202 210 302 330 43 50 15 20 1 10-12-3-23-17-110-110-197-210-206-230-164-165-3 5 8 10 38 40 4 10 46 50 129 160 288 370 79 110 1 9-10 1-120-140-180-230-225-300-29-30-1-10-25-26-5 6 19 20 1 10 18 20 89 130 2 10 38 50 278 421 70 110 17 39-7 1-20-21-3-10-27-33-80-116-210-322-117-189-38-50 0-10-15-17-5 7 10 10 19 40 9 10 12 30 27 40 2 10 27 40 309 550 60 119 0 7-10-4-100-164-210-378-150-285-6 15 12 10-2 10 20 30 0 10 9 10 1 10 9 10 0 10 29 50 24 60 234 479 70 150 22 61-2 11-1-11-29-43-25-57-25-42-181-378-79-173-4-17-18-30-1-10-31-60 0-10-11-10 1-10-6-7-6 7 2 10 8 10 0 10 11 10-2 10 12 30 8 10 20 60 157 371 140 353 0 24-20-37-5-21-15-26-70-166-4-18-16-31-144-369-8-10-12-40-8-10-11-40-21-40 1-10-11-30-6-6-6 6 0 10 13 10-2 20 9 10 1 20 8 10 2 20 7 10 21 70 8 10 2 20 7 10 15 50 35 90 4 20 86 239 4 21 16 37 60 180 4 23 6 10 0 30-3-20-17-29-3-21-17-34-23-76-57-150-3-20-17-38-34-112-58-160-3-20-7-10-13-50-7-10-2-20-8-10-2-20-9-10-1-20-11-10 1-20-6-7-6 7-1 10 10 20 1 20 8 10 1 20 7 10 5 30 7 10 1 20 7 10 144 500 6 10 2 20 28 86 3 24 17 50 4 30 6 9 0 22-1-11-9-10-2-20-8-9-2-21-8-12-33-118-7-14-4-26-6-9-23-91-47-149-14-61-16-45-14-65-16-41-4-29-7-10-13-60-8-10-3-30-9-10 1-20-7-14-7 14 2 20 9 10 0 30 8 10 1 20 8 20 4 30 6 10 13 70 6 10 34 150 6 12 33 148 27 98 4 32 6 10 3 30 7 13 12 67 8 21 2 29 8 16 0 30-14-56-6-8-2-22-8-17-12-63-8-16-2-24-8-17-14-73-16-49-13-71-7-14-24-116-6-10-4-30-6-12-3-28-8-20-3-30-7-10-3-30-7-10-2-30-9-20-2-30-9-10 0-30-7-11-7 11 0 20 10 20 0 30 9 20 1 30 8 20 4 40 6 10 3 30 16 65 23 135 7 15 3 35 7 16 3 34 7 17 3 33 7 18 2 32 8 20 12 90 8 18 0 52-22-120-8-17-2-33-8-17-3-33-7-17-3-33-7-18-3-32-7-19-4-41-6-10-13-90-18-70-4-40-5-10-4-40-8-20-1-30-9-20-2-40-8-10-5-50 13-10 0-30 9-10 1-20 10-20 0-10-6-8-6 8 4 20-14 10 1 20-10 10-1 30-11 20 0 30 9 20 1 40 8 20 2 40 7 23 14 117 6 12 4 48 6 16 3 44 7 19 13 111 7 24 2 46 8 20 0 67-13-97-7-18-2-42-8-21-4-49-6-15-3-45-7-19-13-111-7-24-5-56-5-10-3-50-8-20-4-60-7-20-3-50 9-10 3-40 9-10 0-20 11-20-1-10 10-10 10-30-6-15-6 15 4 10-14 10-12 40-8 10-1 20-8 10-1 40-4 4-6-4 3-50 9-20 2-20 38-80-6-7-6 7 2 10-6 1-13 19-23 50-1 20-10 20 0 20 3 30 8 10-1 60 8 30 2 60 7 20 3 70 7 20 13 170 7 17 0 79-3-46-7-20-4-70-6-16-3-64-7-27-3-63-7-27-13-173-8-30-2-70 21-70 47-70-5-13-27 43-27 30-13 30-3 28-5-8 5-67 17-23 38-30 20-30-5-11-21 31-29 20-20 4-16 26-1 60 8 50-1 154-10-112-8-212-2-5-20 0 0-144 21-1-21-1 0-79zM88 15l7 4 5-4-5-7zM90 65l5 4 5-4-5-5zM101 75l4 4 8-4-8-6zM42 85l13 3 5-3-15-3zM71 95l4 3 4-3-4-3zM81 105l4 6 5-6-5-5zM10 115l5 5 22-5-22-5zM45 125l20 4 5-4-15-4zM31 135l4 3 3-3-3-3zM80 135l5 5 5-5-5-5zM21 145l4 4 4-4-4-4zM41 145l4 4 20 0 14-4-4-4-30 0zM11 165l-4 40 8 5 10-8 10 8 20 6 20-6 25-25-5-6-20 20-30 1-24-25-6-14zM31 165l4 4 5-4-5-8zM79 165l6 5 5-5-5-7zM100 165l5 7 5-7-5-5zM41 175l4 4 20 1 14-5-4-5-30 0zM113 255l-4 10 6 9 6-9-6-12z"/><path fill="#f1ff0e" d="M-5 -15l41 0 0 20 9 6 8-6 0-20 44 0 0 20-11 10 9 5 10-12 24 7-9 10 15 7 10-11 13 4-11 10 130 70 150 110 190 160 670 600 381 320 57 50 5 10-10 0-163-110-210-160-328-270-507-440-203-160-214-156-6 6 49 40 114 110 154 160 190 210 40 50-1 7-30-19-30-27-304-331-166-166-4 6 96 110 288 368 40 54 26 48-6 0-30-30-3-10-47-51-296-389-37-40-1-10-36-36-4 6 8 10-8 10 4 8 10-12 13 14 1 10 18 20 24 40 65 90 2 10 38 50 2 10 207 312 30 54 1 14-41-50-43-70-37-49-184-291-17-20-14-30-37-50-2-10-16-18-32 48-18 14-30 9-15 17-3 70 2 40 6 10 0 81-10-73-3-178 13-12 30 15 20-7 26-26-6-7-20 20-30 1-23-24-7-16-6 6-4 30-20 0 0-127 22-3-2-4-20 0 0-76zM51 35l4 4 5-4-5-4zM33 55l2 5 5-5-5-2zM11 85l4 3 3-3-3-3zM41 85l14 4 6-4-16-4zM82 85l3 3 4-3-4-3zM22 95l3 3 12-3-12-3zM70 95l5 4 5-4-5-4zM91 95l4 4 6-4-6-5zM80 105l5 7 6-7-6-5zM9 115l6 6 23-6-23-7zM44 125l21 5 6-5-6-5-20 4zM30 135l5 4 4-4-4-4zM79 135l-4 5-30 0-5 5 5 5 30 0 16-15-6-6zM20 145l5 5 5-5-5-6zM35 155l-5 10 15 15 30 0 16-15-6-8-10 12-30 0zM99 165l6 8 6-8-6-6zM115 192l6 13-6 4-7-14zM105 211l4 4 0 10-11 20-49 60-9 20-5 35-3-15 3-55 18-25 12-6 26-24 11-20zM125 209l300 534 40 80 0 16-70-113-100-179-95-182-26-40-2-10-30-50 0-10-20-30-1-10zM115 232l5 3-5 17-5-17zM105 251l7 4-4 10 5 10-8 2-7 8-40 80-1 20-10 20-2 53-1-83 20-60 16-20 22-40zM125 252l4 13 9 10 0 10 9 10 1 10 9 10 1 10 28 50 23 60 26 45 3 15 147 300 48 110-8 2-50-95-24-57-76-152-33-78-18-30-32-80-19-30 0-10-31-60 0-10-11-10 1-10-16-10 6-10-3-10zM115 276l4 19-10 10 1 20-12 10 0 10-9 10-11 30-1 20-8 10-4 41-2-51 9-20 2-20 38-80zM125 300l160 390 3 15 17 34 63 166 7 9 3 21 7 9 0 18-11-27-9-10-3-20-17-28-70-169-53-143-8-10-4-20-16-30-3-20-17-30-23-70-8-10-11-40-13-10 2-20zM115 328l3 17 11 10 0 20 8 10 2 20 8 10 2 20 8 10 13 50 15 31 2 19 19 40 2 20 7 10 14 50 36 91 3 19 27 69 3 21 17 39 3 21 7 10 17 60-7 2-1-12-9-12-2-18-8-10-14-50-6-7-33-103-7-10-3-20-17-39-3-21-17-38-3-22-18-40-2-20-8-10-12-50-8-10-2-20-8-10-2-20-9-10-1-20-9-10-1-20-12-10 2-20-7-9-7 9 2 20-12 10 0 20-9 10-4 35-4-5 2-40 9-10 1-20 7-10 2-20 10-10 0-10zM115 389l4 26-4 4-4-4 1-20zM105 421l4 4-4 36-3-36zM125 421l3 24 8 10 13 60 7 10 1 20 18 46 3 24 7 10 5 30 15 38 3 22 7 13 42 157 8 16 3 24 7 11 2 19 8 17 2 23 8 13 0 35-1-18-19-45-3-25-7-9-3-21-17-46-3-24-7-10-22-90-18-48-13-62-7-10-2-20-8-14-3-26-7-10-4-30-8-10-1-20-7-10-3-30-10-10-1-30zM55 463l4 82-4 9-3-89zM75 462l4 3-4 59-3-59zM95 464l4 1-4 50-3-50zM115 462l3 33 8 10 13 70 7 10 2 30 7 10 3 30 7 12 13 68 7 13 2 27 8 15 2 25 8 17 4 33 6 9 4 31 6 9 3 31 7 12 2 28 8 17 0 41-2-28-8-10-14-70-6-8-13-72-7-12-22-108-8-16-4-34-6-10-3-30-7-12-3-28-7-12-5-38-7-10-1-30-8-10-5-40zM105 514l3 41 8 10 3 40 6 10 4 40 6 10 4 40 6 10 23 140 7 15 3 35 7 14 2 36 8 19 0 44-3-33-7-9-2-31-8-18-2-32-8-18-2-32-8-18-4-42-6-9-4-41-6-11-3-39-7-13-3-37-8-20-3-40-7-10-2-40-6-10zM85 524l3 51 7 14 13 116 7 14 2 46 8 18 3 52 7 15 0 63-13-108-7-16-2-44-8-20-3-50-7-15-4-55-6-12-6-68zM65 553l3 72 7 20 0 87-2-57-8-31-3-69-6-20z"/><path fill="#fff700" d="M-5 -15l41 0 0 20 9 7 8-7 0-20 37 0 0 20-7 10 12 7 10-11 16 4-5 10 50 20 104 60 150 110 312 270 603 540 113 110-8 0-74-50-142-110-251-210-318-281-203-169-131-100-226-157-7 7 49 40 161 160 104 110 94 110 2 10-3 1-60-55-162-176-157-160-31-25-16 15 10 10-4 7-33 13 23 6 30-31 101 115 3 10 116 140 120 160 4 20-4 0-3-10-87-99-4-11-36-40-3-10-27-30-104-140-37-40-2-10-37-37-20 21-30 0-10-9-16 15 6 6 10-11 10 11 20 0 10 0 10-10 5 4 3 10-8 1-10 12-30 0-12-13-4 10 16 16 10 1 20-1 17-16 3-10 10 19 7-9-16-10 9-13 12 13 1 10 39 50 2 10 66 91 2 9 68 98 4 12 36 49 3 11 57 87 4 13-4 6-100-146-53-90-57-82-14-28-17-20-22-40-17-19-10 14-10-13-20 19-30 2-22-23-8-18-8 8-2 17-20 0 0-113 20 0 3-4-3-6-20 0 0-74zM50 35l5 5 6-5-6-5zM32 55l3 7 8-7-8-3zM47 55l8 5 4-5-4-4zM72 55l3 3 8-3-8-7zM60 65l5 4 4-4-4-4zM71 75l4 4 5-4-5-4zM10 85l5 4 4-4-4-4zM40 85l5 5 10 0 8-5-18-5zM21 95l4 4 13-4-13-4zM50 105l5 4 6-4-6-4zM8 115l7 7 24-7-4-5-20-3zM145 23l6 2-6 7-1-7zM85 89l5 6-5 4-4-4zM95 130l3 5-3 5-3-5zM95 192l5 3-2 10-17 20-16 13-30 9-17 18-3 84-3-114 4-20 9-11 30 16 20-8 17-17zM115 193l5 12-5 3-5-13zM105 212l3 3-3 14-5-4 2-10zM125 210l5 15-5 4-3-14zM95 230l4 5-2 10-49 60-10 20-3 31 0-64 20-27 10-4 27-26zM115 233l3 2-3 15-3-15zM135 230l101 175 12 30 27 40 34 70 26 39 2 11 38 69 0 13-80-132-2-10-59-100-1-10-19-30-12-30-28-40-1-10-19-30-23-50zM105 252l5 3-1 20-12 10-18 30-22 50-1 20-8 10-3 57-1-67 11-45 10-25 16-20 22-40zM125 253l12 32 9 10 1 10 9 10 1 10 28 51 23 59 27 48 2 12 18 29 62 141 18 30 4 20-4 5-14-35-16-24-3-16-27-46-2-14-18-28-12-32-18-31-4-19-26-48-2-12-19-30-4-20-27-50 0-10-10-10 0-10-13-10 1-20zM115 278l3 17-3 3-5-3 3-10zM105 300l3 25-11 10 0 10-9 10-11 30-1 20-8 10-3 38-1-48 7-10 4-30 28-60zM125 302l9 23-13 0 1-20zM135 326l4 19-4 4-2-14zM105 354l8 1-6 10 0 20-10 10 0 20-10 10-2 33 0-43 8-10 1-20 7-10 2-20zM125 355l12 50 9 10 1 20 9 10 2 20-3 10-2-20-9-10-1-20-8-10-2-20-11-10 1-20-5-10zM145 351l104 264 16 29 12 41 8 9 3 21 17 30-10 2-2-12-18-32-3-18-17-30-3-20-17-29-3-21-17-30-3-20-17-30-3-20-17-31-23-69-8-10-3-20zM125 422l7 33-8 0-2-30zM135 457l12 58 9 10 3 30 6 6 12 54 8 14 3 26 7 9 13 61 7 8 5 32-5 5-2-25-8-9-13-61-7-7-2-23-8-14-4-26-6-7-2-23-8-13-2-27-9-10-1-20-8-13-2-27zM165 472l3 23 17 35 12 45 8 11 2 19 8 13 2 17 8 9 2 21 8 10 13 50 7 9 3 21 7 10-10 2-3-22-17-34-12-46-8-10-2-20-8-12-2-18-8-10-2-20-8-10-12-50-9-10-1-20-8-10zM125 505l5 40-5 2-2-42zM135 549l2 26 8 12 5 38-5 4-13-74zM115 568l4 47-4 1-2-41zM125 619l4 46-4 2-3-42zM155 630l4 35-4 7-4-37zM135 670l3 45-3 3-3-43zM165 672l3 33 7 10 3 30-3 8-2-28-8-10-6-40zM275 795l0 25-1-15-6-10z"/><path fill="#ffe000" d="M-5 -15l40 0 0 20 10 7 9-7 0-20 27 0-2 30 16 8 10-10 8 2-2 10 48 20 103 60 148 110 310 270 298 270 123 120-6 3-21-13-124-100-320-280-266-220-79-59-230-149-20-11-4 9 4 5 10-4 2 9 49 40 9 14 102 96 94 100 34 40 0 10-50-47-156-163-45-40-5-10-64-55-10 4-10-4-4 5 4 10 10-9 10 6 24 23-12 10 11 10-3 6-10 7-20 3-18 14-22 32-20 0 0-96 20 0 4-6-4-8-20 0 0-72zM50 35l15 12 8-2-8-3-10-13zM9 85l16 15 10 0 10-9 10 0 9-6-9-6-10 0-10 12-10-1-10-10zM48 105l7 5 8-5-8-5zM7 115l8 8 20-3 5-5-5-6-20-3zM95 101l100 114 2 10 38 40 2 10 28 30 58 80-8 4-131-164-3-10-46-50-2-10-38-39-20 22-20 1-14-4 4-6 20 3 27-27zM35 141l4 4-4 7-4-7zM85 142l4 3-4 9-3-9zM105 143l11 12-1 20-2-10-14-10 3-10zM25 152l6 3-3 10 17 17 30 0 20-24 6 17-6 0-20 20-30 2-21-22-9-20zM45 152l39 3-9 12-20 1-10-1-6-12zM125 173l10 12 3 10-3 6-19-26zM95 193l4 2-2 10-29 30-33 10-11 10-8 10-1 24 0-61 10-22 30 15 20-8 18-18zM115 193l3 12-3 2-3-12zM145 202l90 133 2 10 18 20 49 80-9 1-10-11-1-10-19-21-14-29-26-32-13-28-37-50-2-10-18-20-16-30zM105 213l0 15-3-3 1-10zM125 212l3 13-3 2-2-12zM95 231l1 14-18 20-2 10-29 30-10 20-2 25 0-56 23-29 35-30zM135 232l31 53 3 10-4 6-20-36-2-10-9-10-1-10zM105 253l3 2-3 20-27 40-3 13-16 27-4 28-4-8 4-33 10-24 36-53 2-10zM125 254l11 31 19 30 4 20-4 2-11-32-10-10 0-10-11-10-1-20zM125 303l3 22-3 1-2-21zM175 302l40 71 3 12 27 40 1 10 19 29 0 17-12-26-38-60-23-50-17-22-6-18zM95 322l10 3-18 30-2 14-7-4 16-40zM165 341l4 14-4 3-2-13zM175 361l10 20 0 24-1-10-9-11-3-19zM75 369l4 6-4 29-1-29zM95 385l5 0-5 30zM65 404l6 1-5 10-1 33 0-43zM165 403l1 12 9 10 0 24-13-44zM195 403l11 32 29 50 4 20-4 2-11-32-9-9-21-51-9-10zM185 453l1 12 9 10 0 24-1-14-9-10-3-20zM205 503l1 12 9 10 0 23-1-13-9-10-4-20zM245 512l3 13-3 2-2-12z"/><path fill="#ffc900" d="M-5 -15l37 0 0 20 13 8 9-8 0-20 14 0 0 20 7 10 74 30 101 60 144 110 74 70-3 7-194-137-82-50-97-50-37-27-6 7 12 10-6 4-10 3-20-11-6 4 16 22 10-9 10 5 13 12-3 9-20-6-10 11-10 0-10-10-7 6 17 16 10 1 10-10 20-5 1 8 11 10-2 4-10 8-20 2-10-11-20-4-9 11 9 9 20-2 4 3-14 11-10 15-10-8-20 0 0-71 20 0 5-7-5-10-20 0 0-70zM47 105l8 6 10-6-10-6zM65 49l4 6-4 4-4-4zM75 61l10 1 22 23-2 7-33-27zM75 82l3 3-3 2-9-2zM115 93l4 2-4 4-7-4zM125 101l14 14-4 8-10-8-4-10zM85 115l2 10-12 12-33-2 3-4 20 2 19-18zM105 113l30 32-10 1-27-31zM145 122l30 23 37 40-7 3-68-63zM105 144l8 11-10 0 0-10zM25 153l4 2-2 10 18 18 30 0 10-9 7 1-20 20-27 1-20-21-7-20zM45 153l36 2-6 10-20 2-10-1-5-11zM135 145l11 20 36 40-7 2-30-32-11-20zM125 174l6 11-6 1-5-11zM95 194l1 11-29 30-42 13-5-3 5-35 30 13 20-9 19-19zM145 204l10 11 0 16-13-26zM185 209l25 36-5 0-20-20-1-10zM95 233l0 12-59 70-1 20 0-32 10-20 49-48zM135 233l3 12-3 0-1-10zM165 234l6 11-6 1-5-11zM95 274l4 1-4 12-3-2 2-10zM85 292l1 13-10 10-11 31-10-1 8-10 12-30 9-10zM475 293l3 2-3 3-6-3z"/><path fill="#ffb300" d="M-5 -15l34 0 0 20 6 4 10 4 10-8 13 10 71 30 97 60 22 20-3 5-15-5-55-32-120-57-10-9-7 8 11 10-4 3-20 0-10-8-8 5 11 10 7 14 10-9 22 15-2 5-20-3-10 11-10 0-10-10-9 7 12 10-11 10-2 14-20 0 0-45 20 0 6-9-6-12-20 0 0-68zM85 70l10 4 0 6-11-5zM45 93l20 2-20 10 10 8 10-5 3 7-23 3-10-12-16-1 16-2 7-8zM25 123l13 2-23 23-7-13 8-10zM45 132l20 2 10-6 0 7-32 0zM45 153l33 2-6 10-17 1-10-1-3-10zM35 174l20 14 10-1 3 8-23 0-17-20zM75 184l7 1-7 4-8-4zM85 205l4 0-4 11-20 19-38 0-2-19 20 8 20-1zM85 245l0 10-9 0zM65 265l10-9 0 11-10 10-7-2z"/><path fill="#ff9c00" d="M-5 -15l31 0 0 20 9 6 10 3 10-4 75 35 15 15 13 5-13 1-100-42-3 1 5 10 10 10-22 2-10-8-11 6 11 7 3 13 7 7 10-10 20 13-20 1-10 11-10 0-19-12 6-10-7-14-20 0 0-16 20 0-20 0 0-50zM-5 82l10 0 0 7-20 0 0-7zM45 94l15 1-15 5-1-5zM25 124l12 1-12 5-4-5zM45 154l5 1-5 4-1-4z"/><path fill="#ff8500" d="M-5 -15l29 0 0 20-12 10 3 4 10 2 10-9 21 3-1 7-24 3 14 6 10 14-20 1-10-9-20 12-20 0 0-10 20 0 4-4-24-2 0-48zM65 21l15 4-5 4-19-4zM15 49l10 4 1 12 9 9 10-10 11 11-11 0-10 11-10 0-15-11 1-20z"/><path fill="#ff6e00" d="M-5 -15l26 0 0 20-10 10 20 20-16 3-10-7-20 0 0-46zM-5 42l13 3-23 2 0-5zM15 52l10 3-5 10 8 10-3 8-11-8-1-20z"/><path fill="#ff5800" d="M-5 -15l24 0 0 20-10 10 11 10-5 9-10-5-20 0 0-44z"/><path fill="#ff4100" d="M-5 -15l22 0 0 20-9 10 7 11-30 1 0-42z"/><path fill="#ff2a00" d="M-5 -15l19 0 0 20-9 20-20 0 0-40z"/><path fill="#ff1400" d="M-5 -15l14 0-4 31-20 0 0-31z"/><path fill="#fc0000" d="M-5 -15l10 0 0 20-20 0 0-20z"/></g><path fill="#fff" fill-rule="evenodd" d="M28.70 130.50H178.50V225.20H28.70zM31.20 133.00H176.00V222.70H31.20z"/><rect x="31.20" y="133.00" width="1.3" height="89.70" fill="url(#strip)"/><rect x="185.80" y="133.00" width="11.20" height="89.70" fill="url(#jetg)"/><g font-size="8.30" fill="#1c1c1c" stroke="#1c1c1c" stroke-width=".12"><text x="28.20" y="136.39" text-anchor="end">0</text><text x="28.20" y="160.06" text-anchor="end">1000</text><text x="28.20" y="183.72" text-anchor="end">2000</text><text x="28.20" y="207.39" text-anchor="end">3000</text><text x="31.20" y="234.00" text-anchor="middle">0</text><text x="60.16" y="234.00" text-anchor="middle">5</text><text x="89.12" y="234.00" text-anchor="middle">10</text><text x="118.08" y="234.00" text-anchor="middle">15</text><text x="147.04" y="234.00" text-anchor="middle">20</text><text x="176.00" y="234.00" text-anchor="middle">25</text><text x="199.90" y="136.39">-60</text><text x="199.90" y="158.81">-80</text><text x="199.90" y="181.24">-100</text><text x="199.90" y="203.66">-120</text><text x="199.90" y="226.09">-140</text></g><g font-size="8.70" fill="#1c1c1c" stroke="#1c1c1c" stroke-width=".12"><text x="103.60" y="245.10" text-anchor="middle">Range (km)</text><text transform="translate(7.80 177.85) rotate(-90)" text-anchor="middle">Depth (m)</text></g><text x="171.30" y="144.40" font-size="8" fill="#fff" text-anchor="end">(c)</text><rect x="263.30" y="132.50" width="145.50" height="90.80" fill="#00008b"/><g transform="translate(263.80 133.00) scale(0.033218 0.033259)" fill-rule="evenodd"><path fill="#0000a2" d="M-5 -15l4370 0 0 2730-4380 0 0-2730z"/><path fill="#0000b8" d="M-5 -15l4370 0 0 2730-4380 0 0-2730zM2913 375l-29 40-9 50 10 50 20 27 10 3 10-5 16-35 10-70-6-40-10-18-10-5-10 2zM1814 415l-9 8-9 42 2 20 7 8 11-18 7-30-8-30zM3145 975l-10 30 6 50 14 33 20 19 10 0 10-22-4-50-16-49-10-12-10-4zM4128 1025l-15 30-2 50 14 52 20 16 10-3 10-10 10-23 6-32 0-30-16-48-10-9-20 1zM2059 1185l-10 40 3 40 13 44 10 17 10 5 10-4 10-18 1-44-21-72-10-17-10 0z"/><path fill="#0000cf" d="M-5 -15l1125 0 5 61 10 29 10 10 10-9 10-27 10-35 1-29 423 0 1 30 9 40 16 31 10 8 10-2 20-36 17-51 0-20 927 0 0 20 7 20 12 20 17 12 11-2 19-17 18-33 0-20 427 0 0 20 5 10 10 13 20 8 20-10 10-12 5-9 0-20 1175 0 0 201-20 0-10 29-19 80-5 70 5 60 19 84 10 31 20 0 0 1009-20 0-25 66-17 70-6 70 8 77 20 74 20 55 20 0 0 754-4380 0 0-2730zM3910 45l-15 10-19 30-31 82-30 124-10 94 7 80 23 76 40 81 20 22 10 4 10-3 20-23 60-138 24-79 8-70-11-100-31-101-20-45-20-32-17-12-13-2zM3388 95l-23 26-30 71-21 83-4 60 11 100 34 161 20 52 13 17 17 8 20-7 20-21 40-73 26-87 7-80-7-70-22-70-62-150-12-15-20-8zM2884 205l-11 10-18 30-27 70-13 70-2 80 9 80 18 60 35 65 19 15 11 3 20-7 20-21 30-62 25-93 6-90-11-82-30-75-40-47-20-9-20 2zM1792 305l-29 70-15 80 10 90 15 50 12 14 10-1 10-9 28-54 17-50 6-50-2-40-12-50-27-51-10-6-10 3zM2429 305l-18 10-23 40-9 50-1 60 5 50 12 40 25 40 25 9 20-15 15-34 10-50 2-60-6-60-11-42-20-31-20-8zM1265 375l-20 66-11 64 9 90 12 39 10-3 16-36 15-50 7-50 0-40-8-41-20-44-10 4zM4153 755l-28 41-52 119-20 70-8 80 10 94 30 93 40 66 20 15 10 2 20-7 10-10 40-73 40-129 9-91-10-90-39-122-20-41-20-23-10-4-20 8zM3651 765l-16 8-10 13-14 29-16 56-15 104-10 150 5 99 14 71 26 68 10 13 20 7 13-8 17-26 65-154 19-60 7-60-11-90-30-96-40-97-12-17-18-11zM3132 825l-27 33-29 77-12 70-6 90 7 84 20 81 20 45 10 12 20 7 20-5 22-14 28-27 20-31 25-72 7-80-12-100-30-95-20-40-20-27-20-13-20 3zM2623 845l-22 30-14 50-4 50 4 60 14 60 24 64 29 36 31 9 21-9 21-40 8-60-5-60-25-93-30-71-20-26-10-5-20 3zM1592 895l-9 30 2 62 11 48 9 12 10 1 12-13 8-30 6-30-1-40-5-21-10-16-20-12-10 5zM2074 1085l-19 8-21 32-27 90-3 60 9 50 20 50 23 30 19 12 20 4 20-11 20-37 11-48 3-60-8-50-29-90-17-28-20-12zM3395 1485l-20 14-20 41-63 235-8 50 1 60 20 82 20 43 13 15 17 9 10-2 20-15 80-123 25-49 13-60-4-90-30-110-40-80-14-15zM3893 1485l-18 36-14 54-10 60 4 45 10 1 8-6 3-10 36-40 19-50 0-50-6-27-10-18-10-4-10 6zM2879 1505l-14 9-6 11-14 50-5 60 5 64 12 36 16 20 42 35 30 6 11-11 9-50-11-100-30-90-19-29-20-12zM3873 1815l-12 20-9 50 3 100 10 47 10 23 10 14 10 7 10-1 10-6 17-24 18-50 10-60 1-50-15-50-11-11-30-12-20-3-10 5zM4148 2145l-23 18-30 49-30 70-12 53 16 10 93 20 63 0 4-30-2-40-15-70-27-61-10-12-20-9zM4100 2375l15 3 0-5-10 1z"/><path fill="#0000e6" d="M-5 -15l444 0 2 30 11 50 13 29 10 7 10-11 3-15 7-90 175 0 5 70 10 24 10-4 8-20 12-50 0-20 393 0 7 88 11 42 19 38 10-3 14-35 17-60 8-70 388 0 5 70 18 60 20 35 10 9 10 0 20-25 27-69 13-50 2-30 481 0 0 20 7 9 10 3 16-12 0-20 348 0 6 47 20 57 20 29 30 13 30-11 21-25 36-80 4-30 336 0 3 28 30 68 20 22 30 9 30-15 20-24 33-68 0-20 157 0 0 20-30 18-23 32-38 90-27 100-11 110 4 80 7 60 38 170 20 55 19 35 21 20 20 5 20-6 30-29 51-90 22-60 16-60 11-70 3-60-6-100-22-90-62-160-23-34-28-16 0-20 194 0 0 20 24 41 20 18 20 4 20-7 20-20 22-36 0-20 140 0 0 20-41 90-39 140-14 90-3 100 15 110 33 100 47 95 20 21 20 8 20-4 20-18 30-54 60-168 21-110 2-100-12-100-31-110-42-90 0-20 135 0 0 20 17 26 20 19 20 7 20-3 25-19 20-30 0-20 135 0 0 84-20 0-40 111-17 85-6 100 5 90 19 90 39 109 20 0 0 789-20 0-48 122-22 98-6 92 6 92 23 98 47 120 20 0 0 650-4380 0 0-2730zM2854 75l-17 20-15 30-40 120-12 90 0 130 11 120 24 97 20 49 20 35 20 19 20 4 20-6 30-24 30-42 25-52 20-60 15-66 7-64 2-70-5-60-12-60-16-50-24-50-50-80-22-25-30-14-20 8zM2354 85l-19 12-20 28-19 60-4 40 4 50 34 100 4 100-14 70-32 40-13 29-6 31 0 50 16 72 30 60 18 18 12 4 13-4 16-20 34-90 57-57 26-43 22-80 7-90-7-110-8-41-18-49-22-34-46-56-34-72-10-12-20-6zM1790 245l-15 23-33 97-11 50-3 50 8 80 17 70 18 40 24 14 26-14 36-60 15-50 7-110-3-70-14-60-20-40-17-22-20-8-10 5zM1266 315l-13 30-21 80-12 90 1 50 10 60 13 50 11 13 10-7 10-18 23-68 13-50 5-50-5-90-16-58-20-36zM1469 415l-7 10-7 27-2 43 11 50 11 12 11-12 5-50-6-67-10-17zM1908 615l-17 10-12 20-29 110-4 50 4 40 11 30 14 9 20-9 20-28 20-43 13-49 5-60-6-50-12-22-20-9zM4169 655l-24 11-24 29-58 130-34 110-12 120 8 123 29 107 21 50 30 51 27 29 23 9 20-4 27-25 23-38 23-52 28-80 18-70 14-120-1-60-8-70-34-122-23-58-22-40-25-25-20-6zM3637 685l-22 17-20 31-34 92-37 160-11 130 11 120 38 140 21 50 19 30 23 20 20 3 30-15 20-28 65-160 29-100 9-110-3-61-11-69-23-80-33-90-23-48-17-22-23-13-20 0zM1361 735l-18 50-7 50 14 30 25 13 11-3 7-20 0-60-8-55-10-15-10 3zM3133 735l-18 10-24 30-37 90-36 160-16 140 8 100 30 110 35 76 20 22 20 9 24-7 26-28 80-139 30-93 10-100-1-70-9-70-14-60-23-70-24-50-29-41-27-19-23-1zM2614 775l-26 30-21 50-35 160-44 110-9 80 8 90 28 95 20 37 30 41 20 20 20 9 10-2 15-20 35-116 10-16 40-40 28-48 15-60 7-90-2-70-9-60-20-70-26-70-22-40-21-21-20-8-30 8zM1613 815l-18 9-20 31-12 50-2 70 7 40 11 30 16 21 30 17 10-5 9-13 10-30 12-60 2-50-4-40-10-30-19-29-20-11zM2180 905l-15 22-12 68-8 21-10 4-70-5-20 8-17 22-29 80-18 100 2 80 18 60 33 40 27 20 34 20 40 14 10-2 11-12 13-50 22-240 13-30 21-21 9-39 0-30-12-60-17-51-20-21zM1714 1145l11 14 5-4-5-15-10 1zM3899 1365l-24 17-17 23-46 110-37 119-11 101 11 115 48 215 14 40 18 31 20 19 20 6 20-4 20-16 20-28 21-48 42-150 13-80 3-60-9-119-42-191-18-50-17-30-23-19-20-3zM3383 1405l-18 12-20 27-28 71-62 205-9 55-3 60 2 50 10 68 32 102 28 40 28 20 42 10 19-10 20-30 81-160 24-80 6-90-12-120-16-60-24-70-24-50-24-33-24-17-26-1zM2871 1425l-26 18-22 42-39 150-44 120-8 60 16 30 15 10 179 90 43 10 11-10 9-30 9-80-4-100-15-100-24-90-30-70-30-40-16-9-20-2zM2384 1495l-19 26-16 64 4 10 31 30 41 19 11 1 8-20-6-50-13-46-20-31-10-5-10 2zM1824 1665l1 12 15-2-15-14zM1853 1695l22 22 15-2-35-28zM2284 2045l21 21 10 0 30 31 10 0 40 39 16-1-29-30-97-69zM4141 2055l-16 11-20 25-34 64-36 92-18 78 5 10 67 20 150 30 40 0 2-50-7-60-14-60-25-76-20-43-20-28-20-15-30 0zM3650 2115l-25 15-20 29-17 36 10 20 81 30 39 10 36 0-16-50-28-50-25-29-30-12zM3619 2255l16 4 1-4-11-1zM3651 2265l14 5 0-7-10 1zM2615 2295l10 10 20 0-30-14zM2644 2315l21 21 10 0 20 20 10 0 20 20 12-1-92-70zM4040 2365l15 3 1-3-11-1zM4084 2375l31 8 2-8-2-4-30 4zM4120 2385l35 5 2-5-32 0zM4179 2395l36 4 1-4-1-4-30 3zM3075 2605l10 0 10 11 10-1 20 21 10 0 20 20 10 0 10 10 10 0 30 19 12 0-42-40-62-30-48-17z"/><path fill="#0000fc" d="M-5 -15l422 0 8 94 30 36 30 17 10-6 3-11 8-130 153 0 3 70 7 60 16 56 10 23 10 8 20-98 11-119 188 0 6 130 5 18 33-68 9-40 1-40 120 0 2 70 9 60 16 58 10 23 10 11 10-2 10-17 22-73 14-60 6-70 358 0 4 80 11 60 27 60 16 20 12 7 21-7 25-40 35-100 11-80 228 0-1 40-6 20-13 6-30 0-20 12-40 87-60 42-25 43-27 80-17 80-5 80 5 80 29 120 17 30 33 31 12 19 22 130 16 38 10 11 20 10 30 1 40-15 10 3 6 12 5 80-7 250 5 50 10 30 47 50 86 60 58 30 30 6 10-6 2-10 7-130 8-60 33-100 13-60 9-210 8-10 50 6 20-2 20-9 23-25 47-92 62-88 22-70 10-90 3-100-3-100-10-80-15-50-109-185-20-14-20-5-70 15-9-11-1-30 242 0 0 20 24 100 15 40 19 27 20 14 30 8 30-1 50-15 10 2 8 15 10 520-8 20-60-28-30-4-20 2-40 19-26 31-16 40-32 140-37 110-12 50-8 90 0 210-9 12-50-5-20 2-30 21-41 70-30 40-3 10 2 10 13 20 67 50 81 50 71 31 11-11-21-140 0-24 10-14 20 13 42 45 28 17 20 4 20-3 30-23 14-25 36-95 45-85 15-56 9-84 5-110-4-253 10-8 60 18 41-7 46-30 73-76 5 16-3 30-42 307-3 223-4 30-3 6-10 4-60-11-40 5-32 16-24 30-77 250-11 60-5 70 7 30 18 20 34 20 200 100 40 12 25-2 7-30 4-90-8-260 3-40 9-10 50 13 30 1 20-5 28-19 25-30 60-100 19-40 12-40 11-80 6-100 1-120-7-160 5-29 10-1 50 17 40-1 37-16 53-41 10 1 1 40-15 140-5 100 4 270-5 12-10 2-60-20-30 0-20 6-21 10-23 20-23 40-56 200-16 90-7 110 2 190-4 50 40 30 77 40 91 27 20-2 7-5 66-140 18-50 11-50 11-120-1-240 8-14 10-1 60 12 40-7 35-20 45-46-15 156-4 120 5 100 22 230-8 14-60-41-20-9-30-2-20 6-20 15-20 27-43 100 5 10 29 20 26 10 183 51 14-1 5-10 3-40 8-16 80 12 30-5 50-18 10 2 6 25-3 90 1 10 13 10 218 50 75 10 10-1 8-9-2-220 4-10 10 0 20 10 20 0 0 550-1101 0 0-20-53-50-114-60-112-50-6 10 6 0 10 10 10 1 10 10 10 0 30 30 10 0 10 11 10 0 10 10 10 0 20 20 10 0 20 21 10-1 10 10 10 0 30 20 10 0 9 8 0 20-3249 0 0-2730zM1366 85l-10 30 1 70 9 50 9 16 10 4 10-5 11-25 6-50 0-50-9-40-8-7-20-1zM1267 265l-19 40-19 70-16 80-5 70 3 70 14 80 11 40 9 15 10 4 10-5 10-14 24-60 18-60 12-100 0-80-8-60-24-70-12-21-10-4zM1475 335l-20 25-12 35-7 60-1 70 3 40 11 40 16 30 10 10 10 2 11-12 12-40 6-70-1-100-8-86-10-12zM1364 675l-15 20-19 60-10 50 1 30 14 30 10 10 50 30 14-10 6-40-6-120-14-56-10-9-20 4zM1607 765l-32 35-21 55-13 100 0 40 5 20 15 30 37 40 67 37 37 43 33 25 15 5 8-10 2-20-11-70-14-26-30-19-10-18-6-147-12-60-12-29-20-28-10-8-20 0zM1784 1635l21 23 19-3-39-26zM1822 1665l3 13 10 0 40 41 10-1 50 49 13-2-39-40-84-69zM1955 1775l-1 10 9 0-8-12zM2781 1915l14 6 2-6-12-1zM2802 1925l13 5 2-5-12-1zM2823 1935l12 8 0-10-10 2zM2882 1965l13 5 2-5-12-1zM2904 1975l11 4 2-4-12 0zM2224 1995l31 32 10 0 40 41 10-1 30 31 10 0 40 40 10-1 30 29 14-1-5-10-51-50-80-60-88-58zM3551 2235l14 4 1-4-11-1zM3579 2245l16 5 0-8-10 2zM2564 2255l21 21 10 0 30 31 10 0 30 30 10 0 20 20 10 0 20 20 10 0 20 19 16-1-26-30-65-50-115-70zM3609 2255l26 8 2-8-2-4-20 3zM3642 2265l43 16 2-6-12-1-10-13-20 4zM3701 2285l24 6 2-6-2-3-20 2zM3741 2295l24 5 1-5-21 0zM3995 2355l10 3 1-3zM4026 2365l29 7 2-7-2-4-20 3zM4070 2375l85 19 3-9-3-5-30 3-10-15-40 6zM4160 2395l55 9 2-9-2-8-50 8zM4224 2405l51 6 1-6-1-6-50 6zM2925 -15l101 0 0 20 31 100 25 40 23 18 20 8 30 3 70-19 10 4 6 36-2 240 20 240 1 30-5 17-10-3-59-44-41-11-30 5-20 8-60 46 16-158 5-100-2-120-10-100-24-90-65-110-36-40 0-20zM3505 -15l26 0 0 20 39 80 24 30 29 20 22 6 30-1 30-11 40-25 10-3 3 4 4 30-17 240 5 230-5 32-10 1-40-14-30-5-30 3-60 19-10-11 6-255-6-130-16-100-27-90-21-50 0-20zM4265 74l10 9 0 12-15 210 3 250-6 40-12 7-60-12-40 7-45 28-45 53-3-23 19-120 9-110 3-110-4-160 4-40 12-10 50 11 40 0 31-11 48-30zM1995 103l30 6 30 18 11 18 26 70 13 11 10 1 22-12 33-60 25-27 40-19 10 2 8 24-5 130-32 190 15 250-4 70-12 16-50-2-20 8-14 18-29 80-7 10-20 11-20-5-55-36-10-10-7-20-2-80 6-170 4-50 14-53 0-47-10 6-13 54-8 10-19 9-20-5-10-9-13-45-1-50 7-50 7-18 31-42 11-30 8-140 10-30zM3995 785l10-9 8 9-17 220 3 260-4 40-10 7-60-13-45 6-37 20-48 48 19-148 7-120-1-120-11-180 6-12 60 29 40 4 40-12zM4345 784l20 0 0 547-20 0-44 74-21 60-17 80-16 180 5 260-7 16-60-17-40 1-30 12-50 34-10 1-4-27 13-170 1-110-20-278 10-7 46 35 24 12 30 6 20-2 30-13 20-16 22-27 22-40 30-90 24-130 10-140-3-220 2-20 8-10z"/><path fill="#0014ff" d="M-5 -15l407 0 0 80 7 20 30 30 56 32 10-5 5-17 6-140 134 0 5 130 10 73 20 87 11 20 9 10 10 2 10-17 8-65 14-140 3-100 149 0-6 130 5 110 9 70 8 29 10 3 15-42 16-90 28-110 8-100 95 0 3 110 10 70 23 70 12 19 10 6 10-2 11-13 27-80 21-90 6-90 160 0 0 20-25 17-17 33-15 120-8 29-30 0-20 9-22 42-31 120-14 110-1 130 20 110 8 20 20 26 10 5 30 2 6 7 15 50 28 40 67 50 14 3 10-8 7-25 18-140 13-20 32-18 10-12 14-40 10-70 13-210 8-60 15-58 10-14 10-2 40 13 30 0 21-9 29-22 4 22-12 120-4 110 4 220-2 5-10 3-30-11-30 4-30 20-28 29-17 30-9 30-24 150-2 30 8 20 13 20 50 50 58 40 81 70 30 17 10 3 10-3 5-37-7-110-11-40-32-50-12-70-1-120 8-16 20 4 28 22 12 25 18 95 13 40 19 22 60 38 19 30 18 80 9 200 15 30 67 60 71 50 141 84 104 76 116 70 80 40 10 0 9-10 14-40 17-17 40-8 30 8 10 9 11 28 9 100 13 20 21 20 188 100 158 64 88 46 193 80 80 30 59 14 106 46 160 50 44 10 50 4 40-10 30-1 20 8 29 39 23 10 222 50-44 8-10-15-30 4-10-16-50 8-10-16-43 7 83 22 70 13 120 17 51-2-51-1-8-9 8-9 53-1 7-86 20 0 0 406-1068 0 0-20-72-57-220-118-30-12-20-3-12 10 32 32 10 0 10 10 10 0 10 10 10 0 30 31 10 0 10 10 10 0 10 10 10 0 20 21 10 0 20 20 10 0 10 10 10 0 30 19 10 0 7 7 0 20-3247 0 0-2730zM815 355l-7 20 2 20 13 20 12 5 7-5 2-10-7-40-12-16zM1008 455l-13 22-11 48 6 30 15 15 11-5 4-20 0-70-5-27zM1091 1015l4 4 6-4-6-5zM1100 1025l15 13 5-3-15-16zM1121 1045l34 34 7-4-37-36zM1696 1225l9 6 3-6-3-3zM1452 1345l13 13 9-3-19-18zM1472 1365l53 52 11-2-61-59zM1573 1455l32 32 14-2-44-39zM2114 1525l11 6 2-6-12 0zM2225 1595l10 5 2-5zM1763 1615l2 12 10 0 30 32 10 0 10 21 10-1 40 41 10-1 50 49 10-1 8 8 2 12 10 0 30 29 11-1-90-90-71-60-80-58zM2284 1635l11 6 3-6-13 0zM2335 1665l10 8 0-11zM2364 1685l11 6 2-6-12 0zM2382 1695l13 7 0-10-10 2zM2484 1755l11 5 2-5-12 0zM2504 1765l11 5 2-5-12 0zM2524 1775l11 6 0-7-10 1zM2723 1885l12 9 0-12-10 2zM2776 1915l19 9 3-9-3-4-10 2zM2796 1925l19 9 3-9-3-4-10 2zM2818 1935l27 16 2-6-12-14-10 2zM2174 1955l31 32 10 0 40 41 10 0 40 41 10 0 30 30 10 0 40 40 10-1 30 30 10-1 30 29 10 0 30 30 10 0 20 21 10 0 30 31 10 0 30 30 10 0 30 31 10 0 20 20 10-1 20 20 10 0 20 20 10-1 20 19 18-1-30-40-76-60-74-50-128-76-91-84-149-110-50-31-30-10zM2854 1955l11 5 2-5-12 0zM2876 1965l19 9 3-9-3-4-10 2zM2898 1975l17 8 0-12-10 2zM2920 1985l15 7 0-10-10 2zM2943 1995l12 8 0-11-10 3zM2958 2005l17 7 0-10-10 2zM2983 2015l12 5 2-5-12 0zM3008 2025l17 5 0-7-10 1zM3034 2035l11 3 1-3-11 0zM3074 2055l11 4 1-4-11 0zM3119 2075l16 6 0-9-10 2zM3143 2085l12 5 1-5-11 0zM3169 2095l16 6 0-8-10 1zM3195 2105l30 14-10-16-10 1zM3241 2125l14 4 1-4-11-1zM3268 2135l17 6 0-8-10 1zM3294 2145l21 7 2-7-2-3-20 3zM3321 2155l14 8 0-10-10 1zM3339 2165l16 6 0-8-10 1zM3367 2175l18 6 0-9-10 2zM3398 2185l17 5 0-7-10 1zM3431 2195l14 3 1-3-11 0zM3513 2225l22 7 2-7-2-3-20 3zM3540 2235l25 9 2-9-2-4-20 3zM3568 2245l27 9 3-9-3-4-20 3zM3599 2255l86 29 3-9-3-4-10 2-10-13-20 3-10-14-30 5zM3689 2285l36 9 3-9-3-5-30 4zM3727 2295l38 9 2-9-2-5-30 4zM3769 2305l36 6 1-6-31 0zM3980 2355l25 8 2-8-2-5-20 4zM1475 -15l69 0-1 90-6 50-16 40-46 77-20 17-10-4-3-10-2-50 5-59 20-101 5-50zM1755 -15l113 0 0 10 0 10-53 89-20 21-40 22-10-5-1-17 7-130zM4165 174l40 4 10 7 12 20 9 60 1 110-5 80-14 50-23 22-40 7-20-5-10-8-13-26-7-60-1-90 4-80 10-50 17-28 27-12zM3655 204l30 1 10 5 14 15 12 50 3 80-4 110-11 60-11 20-12 10-31 8-30-5-20-22-10-41-3-60 1-110 8-70 14-33 10-9 21-8zM3125 234l40 0 23 11 16 30 6 40 4 130-6 100-15 40-18 14-20 4-40-3-19-15-11-27-5-33-3-130 5-100 13-42 10-10 16-8zM2595 264l40-8 20 2 20 8 18 29 9 50 4 150-11 99-20 34-40 15-30 0-20-9-12-19-8-40-2-120 4-120 8-44 19-26zM2105 304l50-3 10 4 12 20 6 60 0 250-8 28-10 12-20 7-50 5-40 15-10-2-7-15-3-40 18-280 5-30 7-15 10-8 24-7zM1385 335l20 4 10 19 0 137-12 80-11 20-27 11-10-3-4-8-5-30 4-150 8-60 7-12 18-8zM3885 890l40-4 20 7 10 10 12 32 5 50 0 130-10 80-17 32-20 12-20 3-30-4-14-13-9-20-7-40-3-100 5-100 8-40 10-20 11-10zM3395 915l20-1 20 6 17 25 9 60 0 120-5 80-11 44-20 22-40 9-30-8-17-27-9-60-1-100 5-80 10-50 21-30 29-10zM2895 933l20-1 20 7 13 26 5 70-7 160-9 60-12 29-20 18-40 7-30-10-10-13-7-21-7-70 2-120 7-70 15-40 20-19 30-11zM2405 964l22 1 8 10 3 20-7 210-11 90-15 28-15 12-75 24-20 2-11-16-2-50 15-200 12-70 8-20 18-19 63-21zM4125 1563l40-8 20 2 17 8 14 20 8 50 0 150-9 87-8 23-12 15-20 11-20 4-30-4-18-16-8-20-6-40-3-110 4-100 11-50 17-20zM3625 1602l40-3 17 6 11 10 12 31 6 59 2 150-7 70-9 20-12 13-40 11-30 0-20-11-10-20-5-33-1-130 6-100 10-42 10-17 15-11zM3125 1623l40 0 20 15 10 37 3 70-3 121-10 73-20 34-20 10-20 3-30-7-19-24-8-40-4-60 1-110 8-70 12-30 10-10 20-10zM4225 2387l47 8-47 8-6-8z"/><path fill="#002aff" d="M-5 -15l392 0 0 80 9 20 32 30 77 47 10-3 8-24 5-150 111 0 3 150 11 100 14 40 13 20 26 30 19 8 14-8 10-50 11-110 2-180 120 0-17 307-30-14-20 10-16 27-9 40 2 30 18 30 25 24 30 12 20-5 17-21 23-15 19-25 6-20 25-139 25-91 7-150 65 0-6 160-10 30-31 38-8 32-12 80-35 140-4 50 5 30 14 23 29 27 11 4 14-4 13-130 33-143 10-23 10 0 40 23 30-6 10 3 4 36-9 350 35 60 49 40 61 70 59 50 41 23 20 2 12-5 17-100 11-16 10 3 5 23-3 40-18 70 5 20 13 20 25 30 55 50 137 110 41 26 30 13 10-2 5-7 3-110 10-50 12-15 10-4 30 8 20 22 18 49 8 60 3 130 11 20 27 30 48 40 84 60 151 94 93 66 184 110 53 19 20-6 20-19 10-4 20 6 11 14 20 60 43 40 189 100 217 95 24 15 116 45 28 15 128 50 114 36 26 14 189 60 165 34 70 26 133 30-43 8-10-17-40 7-10-15-30 6-10-15-28 6 38 14 100 29 130 23 90 12 70-1 0 293-1025 0 0-20-35-18-70-51-230-123-60-25-20 5-9 12-1 10 10 1 10 11 10 0 30 31 10 1 10 10 10 0 10 10 10 0 30 30 10 0 10 11 10 0 10 10 10 0 20 20 10 0 20 20 10 0 10 10 10 0 30 20 10 0 6 5 0 20-3246 0 0-2730zM441 385l4 4 3-4-3-4zM451 395l4 4 3-4-3-3zM765 695l-5 10 5 5 8-5zM810 745l5 4 4-4-4-3zM820 755l5 5 4-5-4-4zM1080 1005l75 76 10 8 8-4-16-20-72-66zM1644 1185l11 12 3-12-3-3-10 3zM1666 1205l9 7 3-7-3-4zM1693 1225l22 19 3-9-13-14-10 3zM1716 1245l9 6 3-6-3-3zM1394 1295l31 34 10 0 90 90 19-4-72-70-66-50-11-3zM1542 1425l63 64 10-1 60 60 10-1 60 61 10 0 10 21 10 0 30 32 10-1 10 21 10 0 40 40 10 0 50 49 10-1 10 20 10 0 30 29 10-1 30 29 7-1-22-30-95-90-136-110-59-40-134-120-51-39zM1982 1435l13 9 3-9-3-3-10 2zM2011 1455l24 19 4-9-14-14-10 3zM2051 1485l14 9 4-9-4-4-10 3zM2083 1505l22 17 3-7-13-14-10 3zM2110 1525l15 9 4-9-4-4-10 2zM2142 1545l13 8 0-11-10 2zM2203 1585l12 7 3-7-13-1zM2219 1595l16 9 3-9-3-4-10 2zM2252 1615l23 18 3-8-13-14-10 3zM2279 1635l16 9 4-9-4-4-10 2zM2313 1655l12 7 3-7-3-4-10 3zM2330 1665l25 18 3-8-13-14-10 2zM2359 1685l16 9 4-9-4-4-10 2zM2377 1695l28 16 3-6-13-14-10 2zM2412 1715l13 7 3-7-3-3-10 2zM2430 1725l25 17 3-7-13-14-10 3zM2460 1745l15 8 3-8-3-4-10 3zM2479 1755l16 9 3-9-3-4-10 2zM2498 1765l17 9 3-9-3-4-10 2zM2517 1775l28 16 2-6-12-13-10 1zM2683 1865l12 7 0-10-10 2zM2699 1875l16 9 3-9-3-4-10 2zM2717 1885l28 18 3-8-13-14-10 2zM2749 1905l16 8 3-8-3-4-10 3zM2769 1915l76 39 4-9-14-15-10 2-10-12-10 1-10-12-20 5zM2146 1935l19 22 10 0 30 32 10 0 40 41 10 0 40 40 10 0 30 31 10-1 40 40 10 0 30 29 10 0 30 29 10 0 30 30 10 0 20 21 10 0 30 30 10 0 30 31 10 0 30 30 10 0 20 20 10 0 20 20 10-1 20 20 10 0 20 19 10 0 30 28 8-1-8-30-33-40-76-60-221-142-77-68-153-113-88-57-22-5zM2847 1955l18 8 3-8-3-4-10 2zM2869 1965l66 30 4-10-4-5-10 2-10-12-10 2-10-12-20 4zM2936 1995l59 28 0-12-10 2-10-12-10 2-10-12-10 2zM2999 2025l46 18 0-11-10 1-10-12-20 3zM3048 2045l37 19 0-12-10 1-10-11-10 2zM3087 2065l18 8 0-11-10 2zM3110 2075l45 18 0-12-10 2-10-12-20 3zM3159 2095l26 10 3-10-3-4-20 3zM3185 2105l40 18 2-8-12-15-20 3zM3230 2125l25 9 3-9-3-4-20 3zM3257 2135l98 39 0-13-10 2-10-12-10 2-10-13-20 3-10-12-20 3zM3356 2175l29 10 3-10-3-4-20 3zM3386 2185l29 9 3-9-3-4-20 3zM3417 2195l28 9 2-9-2-4-20 3zM3449 2205l46 18 0-11-10 2-10-12-20 2zM3500 2225l195 66 140 34 40 3 0-4-20 0-10-13-30 3-10-15-30 4-10-15-30 5-10-15-30 5-10-13-10 1-10-13-20 4-10-15-30 6-10-14-20 4-10-14-20 4-10-14-30 5zM1245 -15l78 0 0 20-28 110-20 25-30 11-6-6-5-20 3-140zM4155 243l20-7 20 11 12 28 7 50-1 60-8 46-20 34-20 6-13-6-13-20-11-60 5-90 8-30 13-20zM3645 273l20-5 20 17 10 29 5 41-1 60-10 50-14 27-20 9-20-10-9-16-11-60 5-90 9-30 14-20zM3125 304l20-9 20 8 16 32 7 40 0 70-7 50-16 34-20 11-20-7-10-13-14-55 2-100 9-40 12-20zM2625 323l20 1 20 22 11 39 4 60-4 60-11 43-20 26-20 4-20-13-10-20-10-80 3-60 7-40 10-25 16-15zM1615 331l20-2 15 6 9 10 8 20 6 70-4 110-9 50-15 34-30 30-40 20-11-4-11-30-3-60 6-100 18-100 14-30 19-20zM2105 371l20-2 20 20 10 36 3 40-1 60-7 40-15 29-20 10-20-7-10-13-13-59 5-100 8-28 15-22zM3895 954l20-5 20 16 10 28 5 42-1 60-10 50-14 26-20 9-20-11-8-14-11-60 5-90 9-30 14-20zM3385 982l20-2 17 15 11 30 4 40 0 60-9 50-13 28-20 13-20-7-10-13-13-61 0-50 5-50 8-27 17-23zM2875 1004l20-1 20 22 8 30 3 50-2 50-9 51-20 35-20 7-20-11-10-18-8-34-3-50 11-89 10-23 19-18zM2365 1034l20 3 10 10 8 18 7 40 1 60-6 54-10 34-20 25-20 5-20-12-10-21-6-35-2-50 4-50 9-40 15-28 18-12zM4155 1621l20 3 15 21 10 40 3 50-3 50-9 40-16 28-20 9-20-11-10-18-11-68 6-90 10-30 16-20zM3635 1663l20-2 20 20 10 33 4 41-1 60-9 50-14 26-20 10-20-7-10-14-13-65 6-100 9-30 16-20zM3115 1695l20-8 20 12 12 26 7 50-2 60-8 50-19 32-20 6-15-8-12-20-11-70 8-90 10-28zM4125 2368l75 17-35 7-10-15-30 4-5-6zM4225 2388l36 7-36 7-5-7zM4285 2397l59 8-59 8-6-8z"/><path fill="#0041ff" d="M-5 -15l377 0-2 70 6 20 42 40 72 50 35 11 11-11 2-20 4-160 84 0 4 250 20 40 44 50 31 22 40 19 27 39 43 44 40 26 60 27 29 53 35 40 56 34 10 2 8-6 2-9 0-91 20-82 20-35 10-7 20 2 13 22 6 60-5 110-20 90 12 30 48 50 175 160 91 65 103 95 138 110 71 50 38 15 18-5-2-60 3-40 11-21 10-3 13 14 11 40 1 50-9 40 9 30 48 50 63 50 159 110 249 160 122 70 104 43 74 57 91 50 228 110 255 110 128 50 236 80-32 6-10-14-20 4-10-14-20 4-10-14-30 6-10-12-10 1-10-13-20 4-10-14-20 3-10-13-20 3-10-13-20 3-10-12-10 1-10-12-10 2-10-13-20 4-10-14-20 4-10-13-20 4-20-25-20 4-10-13-20 4-10-13-10 2-10-13-20 4-10-13-10 2-10-12-10 2-10-12-10 2-10-12-10 1-10-12-20 3-10-12-10 1-10-11-10 1-10-12-10 3-10-13-10 2-10-13-10 2-10-12-20 4-10-12-10 2-20-24-10 2-10-12-10 2-10-12-20 4-10-12-10 2-20-23-10 2-10-11-10 2-10-12-20 5 50 31 100 53 130 62 237 104 133 53 310 110 168 47 102 18 134 42 76 16 180 30 70 3 0 281-971 0 0-20-69-29-127-81-84-40-122-70-47-19-50-7-20-7-60-67-78-60-232-150-151-120-154-110-35-19-40-10-1 9 41 44 10 0 30 31 10 0 40 41 10 0 40 41 10-1 30 31 10 0 40 39 10 0 30 30 10-1 30 30 10 0 30 30 10 0 20 20 10 0 30 31 10 0 30 30 10 0 30 30 10 0 20 20 10 0 20 20 10 0 20 20 10-1 20 20 10-1 30 29 10-1 20 19 10 0 20 20 10 0 20 21 10 1 10 11 10 0 30 31 10 0 10 10 10 1 10 10 10 0 30 30 10 0 10 10 10 0 10 10 10 0 20 21 10-1 20 21 10 0 10 10 10-1 30 20 10 0 4 4 0 20-1550 0 0-20-34-60-40-56-20-16-8 2-4 10 0 40 12 50 15 30 0 20-441 0 0-20-14-46-10-22-10-7-5 25 5 31 8 19 0 20-1148 0 0-2730zM400 345l5 5 4-5-4-4zM439 385l16 16 5-6-15-16zM996 645l9 11 3-11-3-3zM761 695l-3 10 7 8 10-5-10-16zM788 725l47 46 4-6-7-10-37-34zM839 775l6 5 4-5-4-4zM851 785l4 4 3-4-3-3zM766 875l39 47 4-7-3-10-31-33zM972 905l43 44 8-4-48-46zM1296 905l9 8 3-8-3-4zM1308 915l17 18 4-8-14-13zM1328 935l7 6 3-6-3-3zM1022 955l3 3 10-3-10-8zM1354 955l21 19 3-9-13-14-10 3zM1043 965l-2 10 14 15 10-1 130 130 14-4-89-90-75-62zM1376 975l9 7 3-7-3-3zM1464 1045l11 8 0-11-10 3zM1502 1075l13 14 4-14-4-4-10 3zM1524 1095l11 8 4-8-4-4-10 4zM1212 1125l-1 10 4 4 14-4-14-15zM1563 1125l32 27 3-7-23-24-10 3zM1232 1145l3 3 6-3-6-5zM1241 1155l4 4 8-4-8-7zM1251 1165l4 4 8-4-8-8zM1613 1165l22 16 3-6-13-14-10 3zM1262 1175l3 3 8-3-8-8zM1640 1185l15 15 4-15-4-5-10 3zM1062 1195l-2 10 4 10 21 33 20 17 7-10-5-20-12-16-30-25zM1662 1205l23 17 4-7-14-15-10 4zM894 1215l11 35 10 13 10-6-10-27-20-16zM1689 1225l46 36 3-6-33-36-10 4zM1741 1265l24 16 3-6-13-14-10 3zM1383 1285l42 47 10-1 90 90 10-1 70 71 10 0 60 59 10 0 60 60 10 0 10 21 10 0 30 31 10 0 3 13 7 7 10 0 40 40 10 0 50 49 14 4 0 10 6 6 10-1 30 30 10-1 50 48 18-2-29-40-109-100-135-110-57-40-202-170-66-63-60-49-30-16zM1771 1285l14 8 0-11-10 2zM1814 1315l11 6 0-8-10 2zM1179 1335l6 22 20 20 9-2-9-30-20-15zM1924 1395l21 18 3-8-13-13-10 3zM1962 1425l13 9 3-9-3-4-10 3zM1977 1435l28 19 4-9-4-4-10-11-10 2zM2006 1455l39 29 4-9-9-10-15-15-10 2zM2047 1485l28 18 4-8-14-15-10 2zM1117 1505l-1 30 19 38 40 53 20 9 6-20-6-22-30-48-40-44zM2078 1505l57 39 4-9-14-15-10 2-20-22-10 3zM952 1535l-5 10 8 27 30 45 10-1 0-12-10-23-30-47zM2137 1545l28 17 3-7-13-15-10 3zM2170 1565l25 18 3-8-13-14-10 2zM2197 1585l48 29 4-9-14-15-10 2-10-12-10 3zM2246 1615l59 39 4-9-14-16-10 3-20-22-10 2zM2307 1655l98 59 4-9-14-16-10 2-10-12-10 3-20-22-10 2-10-12-10 3zM1243 1675l-6 20 18 48 60 81 20 19 10-5 2-33-14-40-58-77-20-16-10 1zM2407 1715l118 71 40 18 0-12-10 1-20-23-10 2-10-12-10 2-10-12-10 2-10-12-10 2-20-22-10 2-10-12-10 3zM902 1725l-5 10 8 33 30 59 10 8 3-10-3-23-40-78zM2567 1805l18 6 0-8-10 1zM2635 1835l20 16 2-6-12-12zM2659 1855l16 10 0-13-10 2zM1184 1915l1 40 22 50 28 50 38 40 25 70 37 68 30 47 20 13 10-13 3-25-15-50-58-100-45-50-24-60-41-65-20-22-10 3zM1403 1915l12 30 40 41 10 1 2-22-17-30-25-25-10-5-10 4zM1579 2145l-4 2-2 18 26 50 26 35 20 21 10 4 3-30-13-43-38-47-22-11zM1032 2385l-2 20 5 32 20 56 20 36 10-13 0-11-10-45-20-51-20-32zM1455 2405l10 40 20 40 20 28 10 7 10 1 13-16-3-20-10-23-30-44-30-22zM785 -15l81 0-21 164-14 36-16 16-10 3-11-9-9-37-9-173zM1615 414l12 1 12 20 5 30-1 40-6 40-12 31-18 19-12 1-10-12-5-19 0-60 13-60 20-30zM3645 2247l26 8-26 5-4-5zM3675 2256l56 19-36 7-10-13-10 1-5-5zM3735 2276l150 35 79 24-39 9-10-15-30 5-10-13-20 2-10-16-30 5-10-16-30 5-10-15-30 5-5-6zM3975 2337l30 8-30 7-6-7zM4015 2347l36 8-36 7-6-7zM4065 2358l36 7-36 6-5-6zM4125 2369l29 6-29 5-4-5zM4165 2378l27 7-27 5-4-5zM4225 2390l27 5-27 5-4-5zM4285 2399l37 6-37 7-5-7z"/><path fill="#0058ff" d="M-5 -15l49 0 1 20 0-20 308 0-2 70 11 20 47 40 71 50 35 20 30 9 18-9 2-10-1-190 41 0-10 220 10 30 30 40 61 60 58 40 61 65 120 91 54 64 116 86 82 84 179 160 99 76 95 84 138 110 67 50 80 48 72 62 151 110 323 210 102 60 132 67 66 43 112 60-28 6-10-13-10 3-20-23-10 2-10-12-10 2-10-12-10 3-10-12-10 3-20-21-10 2-10-12-10 2-10-12-10 2-10-12-10 1-10-12-10 1-20-23-10 2-10-12-10 2-10-12-10 2-10-12-10 3-20-23-10 3-10-12-10 2-20-23-10 2-10-12-10 2-20-22-10 3-10-12-10 2-20-23-10 2-20-22-10 3-20-23-10 2-10-11-10 2-20-22-10 3-20-23-10 2-20-23-10 2-20-21-10 2-20-23-10 3-30-33-10 3-20-22-10 2-10-11-18 5 54 40 324 213 190 112 90 41 100 64 100 53 130 63 240 107 260 100 180 63 149 44 141 29 94 31 66 15 190 37 100 7 0 271-906 0 0-20-107-40-111-70-84-40-162-89-120-54-113-87-232-150-310-230-115-65-158-145-264-210-256-220-62-39-3 9 63 69 10 0 90 89 10 0 70 70 10 0 60 60 10-1 60 61 10 0 2 12 8 8 10 0 30 31 10-1 1 12 9 9 10 0 40 40 10-1 50 50 10 0 2 12 8 8 10-1 30 30 10 0 50 48 10-1 40 39 10 0 50 53 10 0 30 31 10 0 40 41 10 0 40 40 10 0 30 30 10 0 40 40 10 0 30 29 10 0 30 30 10 0 30 30 10 0 20 20 10 0 30 30 10 0 30 31 10-1 30 31 10 0 20 20 10 0 20 20 10-1 20 20 10 0 20 20 10-1 30 29 10 0 20 19 10 0 20 20 10 0 20 21 10 0 10 11 10 0 30 31 10 0 10 10 10 0 10 10 10 0 30 31 10 0 10 10 10 0 10 10 10 0 20 20 10 0 20 20 10 0 10 10 10 0 30 20 10 0 2 22-1159 0 0-20-38-50-55-67-50-46-10 0-4 13-6 70 6 40 18 40 0 20-235 0 0-20-29-50-170-273-66-97-35-70-60-100-36-50-34-60-69-107-20-23-20-12-3 12 4 40 19 54 51 96 33 50 57 110 96 160 55 110 115 210 0 20-183 0-4-28-30-44-10 0-7 22-4 50-169 0 0-20-64-150-46-132-20-49-34-59-16-55-40-101-20-34-10-4 0 34 10 43 40 105 27 52 24 90 74 190 23 70 0 20-131 0 0-20-7-23-30-73-10 3-2 23 13 90-255 0-6-51-10-30-3 21 6 60-112 0-1-42 0 42-590 0 0-2730zM389 335l16 17 5-7-15-14zM437 385l18 18 6-8-16-17zM704 395l11 8 3-8-3-3-10 3zM490 435l5 5 4-5-4-5zM775 455l20 17 4-7-14-14zM430 475l15 23 3-3-3-10-10-10zM798 475l7 6 4-6-4-4zM818 495l7 6 4-6-4-3zM843 515l22 17 4-7-14-14-10 3zM650 595l5 5 5-5-5-7zM660 605l5 5 6-5-6-5zM993 645l12 14 4-14-4-5-10 4zM712 655l3 3 5-3-5-7zM1013 665l22 17 3-7-13-14-10 3zM748 685l8 10 0 10 57 60 22 18 10 2 40 34 3-4-7-10-47-50-79-74zM1085 725l10 7 0-9zM562 775l23 41 30 39 10 13 7-3-7-20-60-77zM1152 785l23 18 3-8-13-14-10 3zM1186 815l9 7 3-7-3-3zM891 825l4 4 4-4-4-4zM734 835l13 30 48 60 30 27 14 3 1-10-14-30-61-69-30-19zM900 835l125 127 10-1 3 14 17 18 10 1 18 21 9 20 32 30 11 9 10 1 50 48 10-1 2 13 8 8 10-1 90 86 15-3-206-200-61-50-158-145zM1223 845l12 9 3-9-3-3-10 2zM1236 855l19 18 3-8-13-13zM544 885l1 17 10 22 27 41 3 11 30 42 9-3-29-56-50-74zM1292 905l53 46 3-6-43-45-10 4zM1350 955l45 37 4-7-34-36-10 4zM872 985l2 20 19 30 52 60 10 8 13 2-3-25-9-15-51-61-30-20zM724 995l41 71 20 25 11 4 1-20-11-20-21-31-40-37zM1412 1005l23 17 3-7-13-14-10 3zM532 1035l53 112 10 17 10 3-20-51-49-81-1-9zM1460 1045l35 28 4-8-24-25-10 3zM1498 1075l17 17 5-17-5-5-10 2zM1520 1095l35 27 3-7-23-25-10 3zM1559 1125l46 37 4-7-34-36-10 4zM1021 1155l2 20 9 20 39 50 50 50 94 113 40 36 10 4 6-3 0-20-9-30-36-50-81-80-68-80-32-30-20-6zM853 1165l12 38 40 62 47 50 54 90 76 90 53 90 62 80 79 120 78 100 82 120 72 90 47 79 68 101 122 170 37 40 13 4 14-24 13-50-15-40-40-60-122-164-102-116-65-100-99-120-63-90-87-100-44-65-50-64-32-31-89-120-42-40-44-70-43-55-20-19-10-4zM1609 1165l46 38 6-18-6-6-10 2-20-22-10 4zM1658 1205l147 109 3-9-23-25-10 2-20-23-10 3-40-44-10 3-20-22-10 3zM533 1215l2 11 5-1-5-17zM542 1235l3 16 4-6-4-18zM1333 1235l2 12 14-2-14-14zM549 1255l6 19 4-9-4-14zM556 1275l9 20 4 0-4-23zM670 1295l5 22 30 50 0-14-30-62zM1807 1315l28 18 3-8-13-14-10 2zM1852 1345l23 20 3-10-13-13-10 2zM831 1355l4 23 30 58 30 39 10-6-4-24-25-50-41-48zM1889 1375l26 18 3-8-13-14-10 2zM1918 1395l37 29 4-9-10-10-14-15-10 3zM641 1455l14 49 30 57 0-17-40-94zM1322 1485l-8 10 7 20 54 68 79 82 61 74 30 23 10 3 10-4 8-16-1-20-45-60-48-40-58-70-50-50-26-20-20-1zM919 1495l5 30 23 50 38 63 30 35 9-8 2-10-11-42-70-111-20-14zM790 1525l5 25 30 68 20 33 10 6 2-22-12-36-30-55-20-26zM614 1645l1 15 3-5-3-13zM618 1665l27 82 5-2-5-31-18-39-2-15zM879 1685l-4 10 9 40 21 51 30 60 37 49 23 68 20 42 32 50 3-20-5-27-30-83-36-50-15-50-29-62-30-55-20-24zM1050 1705l4 30 11 22 50 61 20 11 0-14-50-90-20-23-10-4zM764 1725l1 28 20 49 10 5-10-40-20-42zM1677 1875l-2 21 31 49 96 100 102 120 31 21 11-1 3-30-4-20-9-30-21-30-69-70-61-70-70-61-20-8-10 2zM706 1905l9 51 30 74 4-15-4-30-30-80zM843 1915l2 42 20 56 20 49 10 16 10 6 4-9-5-40-39-97-20-28zM1094 2135l1 32 20 52 40 78 30 33 30 106 40 84 20 26 4-1 13-20 3-20-10-40-20-48-40-74-35-38-15-58-50-102-20-18-10 7zM669 2145l6 46 20 59 0-38-20-68zM795 2165l10 47 20 48 4-15-4-24-20-57zM622 2395l3 38 20 63 0-31-20-78zM745 2395l0 40 10 27 0-39zM885 2415l20 93 10 12 0-37-30-70zM805 -15l40 0-10 64-10 24-10 4-11-22-8-70zM2805 1906l19 9-19 4-3-4zM2825 1916l78 39-28 6-10-13-10 2-20-23-10 2-3-4zM2905 1956l20 9-20 4-3-4zM2925 1965l108 50-28 6-10-13-10 2-10-12-10 2-10-12-10 2-10-13-10 2-4-4zM3035 2016l109 49-29 6-10-13-10 2-10-11-10 1-10-12-10 2-10-12-10 2-4-5zM3145 2065l76 30-26 5-10-13-20 4-10-13-10 2-4-5zM3225 2097l66 28-26 6-10-14-20 4-14-16zM3295 2127l23 8-23 5-4-5zM3325 2138l67 27-27 6-10-12-10 1-10-13-10 2-4-4zM3395 2166l27 9-27 6-4-6zM3425 2176l108 39-28 6-10-12-10 2-10-14-20 4-10-14-20 4-5-6zM3545 2218l19 7-19 4-4-4zM3575 2228l21 7-21 4-4-4zM3605 2237l25 8-25 5-4-5zM3645 2249l19 6-19 4-3-4zM3675 2258l48 17-28 5-10-13-10 2-4-4zM3735 2278l26 7-26 5-4-5zM3775 2288l25 7-25 5-4-5zM3815 2298l27 7-27 5-4-5zM3855 2308l58 17-28 7-10-14-20 3-5-6zM3925 2327l29 8-29 7-6-7zM3975 2339l22 6-22 5-5-5zM4015 2349l28 6-28 6-5-6zM4065 2359l28 6-28 5-4-5zM4125 2371l21 4-21 4-3-4zM4165 2380l19 5-19 4-3-4zM4225 2391l19 4-19 4-3-4zM4285 2400l27 5-27 5-4-5z"/><path fill="#006eff" d="M-5 -15l49 0 1 21 1-21 136 0 0 20 43 5 14-5 0-20 86 0-4 50 8 20 21 20 122 90 85 50 28 22 91 88 64 50 61 60 70 60 54 40 56 60 123 100 72 70 182 160 333 270 65 50 77 50 171 130-19 4-10-11-10 3-30-33-10 3-20-22-10 2-30-31-10 2-30-33-10 2-30-33-10 2-20-22-10 2-40-43-10 3-20-22-10 3-5-6 2-10-7-8-10 3-20-22-10 3-40-43-10 3-30-33-10 3-5-6 2-10-7-7-10 3-30-32-10 2-40-42-17 6 94 80 203 161 372 269 248 162 190 113 94 45 96 60 100 53 130 64 228 103 252 100 180 64 150 46 170 38 80 28 220 49 90 13 60 3 0 259-815 0 0-20-123-40-72-29-160-91-106-50-105-60-89-40-176-120-233-150-251-184-137-86-136-120-267-210-258-220-72-50-234-220-237-210-56-60-103-93-9 3 31 50 58 60 70 60 243 250 122 110 25 14 10-4 30 28 10-1 2 13 8 7 10 0 40 43 2 20 31 40 176 160 61 41 30-1 60 60 10 0 0 10 10 10 10 0 0 4-10-2-8 8 22 30 69 60 37 22 4-2-4-10-13-20 13 0 50 50 11 0-1 10 10 10 10-1 30 30 10 0 50 49 10-1 40 39 10 0 50 52 10 0 30 31 10 0 40 40 10 0 40 40 10 0 30 30 10 0 40 40 10 0 30 30 10 0 30 29 10 0 30 30 10 0 20 21 10 0 30 30 10 0 30 30 10 0 30 30 10 0 20 20 10 0 20 20 10 0 20 20 10 0 20 19 10 0 30 30 10-1 20 20 10-1 20 20 10 1 20 20 10 1 10 10 10 0 30 31 10 0 10 10 10 0 10 10 10 0 30 30 10 0 10 10 10 0 10 10 10 0 20 20 10 0 20 20 10 0 10 10 10 0 30 20 10 0 1 21-628 0 0-20-54-50-70-60-29-19-20-5-10 4-6 10-31 80 3 20 11 20 0 20-306 0 0-20-128-160-87-100-211-280-123-150-50-70-525-660-66-90-47-50-84-117-50-60-20-13-1 10 11 30 40 61 78 99 63 100 191 260 194 280 231 320 71 110 152 220 50 68 73 82 62 110 0 20-207 0 0-20-30-50-441-710-174-260-65-110-71-100-47-79-50-70-20-12-1 21 21 50 75 120 75 135 56 85 44 80 57 90 61 120 210 370 145 270 25 50 0 20-165 0 0-20-80-150-53-124-77-146-33-73-50-95-28-42-62-135-110-213-27-42-93-176-20-24-7 10 17 59 77 151 43 98 63 122 67 145 26 45 45 110 73 150 76 178 47 92 23 60 0 20-145 0 0-20-105-270-120-287-35-73-25-70-50-110-24-40-46-120-30-59-10-8 0 34 20 58 40 96 23 39 27 87 40 102 16 31 44 125 55 135 25 80 76 200 16 50 0 20-120 0-2-28-53-142-57-178-26-52-34-122-30-78-19-30-22-90-39-109-20-36-7 5 1 10 16 73 40 117 25 40 15 77 20 64 20 58 26 51 24 104 30 96 17 40 29 110 0 20-116 0 0-22-20-51-4 23 4 50-108 0 0-20-12-56-20-55-5 31 12 100-95 0-2-34-20-76-6 20 8 90-99 0-3-53-4 3 1 50-477 0 0-2730zM397 155l8 8 4-8-4-4zM407 165l8 6 4-6-4-4zM437 185l8 6 4-6-4-4zM467 205l8 6 4-6-4-4zM506 235l9 6 3-6-3-3zM350 295l5 5 3-5-3-3zM359 305l6 6 5-6-5-4zM377 325l28 28 10 4-3-12-27-25zM644 345l11 8 3-8-3-4-10 4zM657 355l8 7 3-7-3-3zM432 375l3 10 30 25 3-5-5-10-18-19-10-4zM701 395l24 18 4-8-14-15-10 3zM371 405l74 100 40 45 10 8 4-3-34-50-90-101zM471 415l4 3 4-3-4-3zM727 415l8 6 3-6-3-3zM483 425l3 10 19 17 6-7-16-19-10-3zM772 455l63 57 4-7-54-55-10 4zM550 495l5 5 4-5-4-6zM372 505l13 23 6-3-16-21zM840 515l55 47 3-7-43-46-10 3zM391 535l44 71 50 64 4-5-14-27-80-109zM603 535l-5 10 17 18 8-8-18-20zM646 585l0 10 10 10 29 19 2-9-32-32zM924 585l11 12 3-12-3-3-10 3zM944 605l41 36 4-6-34-34-10 3zM563 635l12 22 40 51 50 57 10 3 1-13-21-30-70-80-20-14zM393 645l2 11 4-1-4-13zM707 645l-1 10 9 9 10 0 2-9-12-13zM989 645l16 16 6-16-6-6-10 3zM1010 665l45 39 3-9-28-30-5-6-10 3zM407 675l58 95 0-16-50-81zM1055 705l10 8 4-8-4-3zM531 725l23 50 61 90 40 43 8-3-28-54-70-96-30-30zM1081 725l64 57 4-7-54-54-10 2zM1148 785l67 57 3-7-53-55-10 2zM707 795l8 30 77 100 211 240 62 80 139 160 86 90 207 240 48 51 55 49 85 110 489 540 81 79 30 20 10 4 6-3 7-20-1-100-17-40-42-50-487-490-109-100-108-120-157-160-92-87-61-73-98-100-52-60-89-84-217-246-63-60zM1219 845l66 57 3-7-53-55-10 2zM519 855l6 20 30 54 70 114 20 23 10-1-50-95-80-119zM1289 905l116 98 4-8-44-47-10 3-50-52-10 3zM510 995l15 41 50 100 40 70 16 19 34 84 50 97 20 27 7-8-17-52-40-79-47-69-43-95-80-141zM663 1085l22 55 30 53 40 63 20 18 4-9-2-10-12-32-60-96-40-45zM501 1145l14 44 50 118 31 58-1-30-20-51-70-144zM488 1315l27 90 50 122 0-29-10-31-60-154zM614 1395l11 42 30 80 30 67 20 32 5-11-15-54-50-113-30-47zM480 1525l5 33 40 129 0-37-40-125zM594 1595l11 53 30 90 20 54 20 32 0-27-20-72-40-103-20-34zM576 1845l29 115 20 51 0-38-40-130zM545 2085l10 66 20 83 9-9-9-55-20-73-7-2-3-14zM654 2085l1 47 20 83 20 66 10 21 10 2-3-39-17-75-30-94-10-14zM504 2325l1 50 10 57 10 46 10 10 0-26-10-60-20-80zM612 2335l-4 20 7 56 20 88 20 50 0-61-30-128-10-27zM724 2335l1 37 10 53 20 74 20 47 7-31-7-48-30-105-10-22-10-8zM2005 1425l29 20-19 4-13-14zM2035 1445l99 70-19 4-20-22-10 3-20-23-10 2-23-24zM2135 1516l108 69-18 4-10-12-10 3-20-22-10 2-20-23-10 2-13-14zM2245 1586l58 39-18 4-20-22-10 2-13-14zM2305 1626l50 29-20 4-10-12-10 3-13-15zM2355 1655l29 20-19 4-13-14zM2385 1676l16 9-16 3-3-3zM2405 1687l50 28-20 4-10-12-10 3-12-15zM2455 1715l30 20-20 4-13-14zM2485 1735l18 10-18 4-3-4zM2505 1746l17 9-17 3-3-3zM2525 1756l17 9-17 3-3-3zM2545 1767l100 53 38 25-18 5-20-22-10 2-10-12-10 2-10-12-10 2-10-12-10 2-10-13-10 2-13-14zM2685 1846l17 9-17 4-4-4zM2705 1857l16 8-16 4-3-4zM2725 1867l16 8-16 3-3-3zM2745 1877l30 18-20 4-13-14zM2775 1895l20 10-20 4-3-4zM2845 1928l28 17-18 4-12-14zM2875 1946l20 9-20 4-3-4zM2945 1977l17 8-17 4-3-4zM2965 1986l36 19-16 3-10-11-10 2-3-4zM3005 2007l19 8-19 4-3-4zM3055 2028l17 7-17 4-3-4zM3075 2036l37 19-17 4-10-12-10 2-4-4zM3115 2056l21 9-21 5-4-5zM3145 2068l16 7-16 3-3-3zM3165 2076l22 9-22 4-4-4zM3195 2088l17 7-17 4-3-4zM3225 2100l31 15-21 5-13-15zM3265 2118l18 7-18 4-3-4zM3295 2129l15 6-15 3-3-3zM3345 2148l40 17-20 4-10-12-10 2-3-4zM3395 2168l19 7-19 4-3-4zM3425 2179l19 6-19 4-3-4zM3455 2188l19 7-19 4-4-4zM3485 2198l20 7-20 4-4-4zM3505 2205l20 10-20 4-4-4zM3605 2240l17 5-17 3-3-3zM3695 2266l21 9-21 4-3-4zM3735 2280l18 5-18 4-3-4zM3775 2290l17 5-17 3-3-3zM3815 2300l17 5-17 4-3-4zM3855 2310l20 5-20 4-4-4zM3885 2318l18 7-18 5-4-5zM3925 2329l21 6-21 5-5-5zM3975 2341l14 4-14 3-3-3zM4015 2350l21 5-21 4-3-4zM4065 2361l21 4-21 4-3-4zM4285 2402l18 3-18 4-3-4z"/><path fill="#0085ff" d="M-5 -15l48 0 2 21 2-21 120 0 0 20 118 34 256 176 64 50 257 230 52 40 60 60 119 100 257 230 126 100 8 10-19 4-40-41-10 2-50-53-10 3-50-53-10 3-60-62-10 3-60-63-10 2-60-61-10 2-60-63-10 3-5-6 2-10-7-7-10 3-40-42-15 6 365 320 253 210 147 116 364 264 244 160 192 116 90 44 190 110 121 60 249 114 250 101 310 107 201 48 79 28 210 48 100 17 60 3 0 244-711 0 0-20-137-50-161-50-98-60-111-50-300-160-331-210-321-230-69-40-220-180-331-260-126-110-69-50-55-46-187-174-184-160-175-170-214-198-8-12-42-37-68-73-102-93-7 3 32 30 5 10 107 110 56 50 263 280 321 320 115 110 108 93 114 117 235 210 61 60 255 220 85 53 52 57 184 160 134 99 71 61 207 160 52 28 20 2 7-20-11-50 4 0 10 10 10 0 20 19 10 0 20 20 10 0 20 21 10 0 2 10-13 40 9 30 60 60 55 40 0 20-404 0 0-20-184-160-68-50-106-110-170-160-439-430-272-280-100-97-207-223-100-100-253-280-41-40-58-70-95-100-46-60-150-168 0 15 36 43 4 10 86 100 4 10 38 40 275 340 273 320 1005 1140 146 160 147 150 0 20-260 0 0-20-213-260-217-280-852-1070-42-60-85-100-84-120-96-120-155-213-9 3 18 30 61 90 75 100 85 130 97 130 51 80 339 470 422 600 257 380 76 100 71 110 0 20-187 0 0-20-366-590-313-480-35-60-209-310-41-70-89-130-52-90-96-140-135-220-4 10 4 10 50 88 77 122 53 98 107 172 83 144 33 46 66 120 280 470 272 490 145 270 25 50 0 20-151 0 0-20-78-150-79-170-309-600-113-210-77-130-44-90-86-150-93-180-56-90-95-185-4 5 4 16 107 204 33 74 103 196 57 121 56 99 54 120 254 520 248 550 21 50 0 20-132 0 0-20-108-270-183-437-67-143-53-127-47-93-73-173-45-87-55-130-60-125-17-25-3-15-5 5 5 21 40 99 86 190 84 206 36 74 24 71 65 149 101 260 185 500 17 50 0 20-112 0 0-20-16-50-250-714-55-136-65-183-34-77-26-80-70-176-19-34-1-11-3 1 3 27 30 93 60 164 17 36 63 191 36 89 34 114 57 156 33 113 56 157 79 260 17 60 0 20-104 0 0-20-44-140-34-139-46-141-34-129-46-131-54-189-36-91-34-130-60-172 0 30 20 74 50 164 26 64 34 141 56 179 24 103 45 147 45 177 26 73 26 110 0 20-96 0-6-47-35-123-25-121-30-112-15-37-25-123-40-133-4 6 2 30 12 72 20 86 28 92 22 119 46 181 18 90 0 20-89 0-5-48-20-88-14-34-16-111-40-169-4 20 4 57 30 157 19 56 19 160-87 0-1-30-20-102-5 2-5 20 9 110-94 0-5-68-10-58-4 26 4 100-110 0-20-223-8-7-2-13 9 243-229 0 0-2730zM395 155l20 17 5-7-15-15zM435 185l10 7 5-7-5-5zM465 205l20 17 3-7-13-15zM488 225l7 5 3-5-3-3zM503 235l22 16 3-6-13-15-10 4zM532 255l13 9 4-9-4-4-10 2zM320 265l5 7 4-7-4-3zM555 275l10 7 3-7-3-3zM595 305l10 8 4-8-4-4zM607 315l8 9 3-9-3-3zM616 325l9 7 4-7-4-3zM641 345l124 107 4-7-54-56-10 3-50-52-10 3zM769 455l136 118 4-8-54-57-10 3-60-62-10 3zM349 575l16 33 9-3-19-31zM920 585l15 16 5-16-5-5-10 3zM371 725l4 14 5-4-5-13zM397 915l8 23 8-3-8-22zM411 945l14 40 18 30 12 34 4-4-4-20-26-50-14-38zM461 1055l4 14 4-4-4-14zM410 1105l5 23 4-3-4-21zM441 1675l4 38 20 86 40 141 0-41-10-47-50-183zM414 1905l11 88 40 180 0-54-30-146-20-74zM273 2075l2 60 6 0-6-69zM280 2145l5 74 6 16 4 51 0-73-5-18-5-60zM384 2195l1 60 30 184 8-4 0-10-8-75-30-157zM1485 1036l38 29-18 4-22-24zM1525 1067l20 18-20 5-4-5 2-10zM1545 1085l39 30-19 4-22-24zM1585 1116l49 39-19 4-32-34zM1635 1156l26 19-16 3-12-13zM1665 1178l18 17-18 4-4-4 2-10zM1685 1196l26 19-16 3-12-13zM1725 1225l38 30-18 4-22-24zM1765 1256l28 19-18 4-12-14zM1795 1277l38 28-18 4-22-24zM1835 1307l79 58-19 5-30-32-10 2-23-25zM1915 1366l28 19-18 4-13-14zM1945 1387l37 28-17 4-23-24zM2085 1486l15 9-15 3-3-3zM2105 1498l21 17-11 2-12-12zM2175 1545l16 10-16 4-3-4zM2195 1557l24 18-14 3-12-13zM2315 1636l15 9-15 3-3-3zM2415 1697l14 8-14 3-2-3zM2455 1719l22 16-12 3-12-13zM2085 1895l20 20 10 0 10 15-20 2-10-6-18-31zM3925 2331l13 4-13 3-3-3z"/><path fill="#009cff" d="M-5 -15l47 0 3 22 2-22 111 0 0 20 119 40 98 60 156 110 191 160 292 260-19 4-40-41-10 3-5-6 2-10-7-7-10 3-70-74-10 2-60-62-10 3-60-62-10 2-50-51-10 2-40-41-14 5 21 20 304 260 314 280 261 220 200 160 215 160 154 110 242 160 183 111 290 161 351 168 239 100 302 110 387 110 236 50 75 7 0 223-573 0 0-20-427-134-60-35-196-91-194-102-199-118-251-160-240-170-130-85-232-185-134-100-266-220-118-91-438-389-59-60-279-260-120-120-134-124-9 4 18 20 208 210 53 60 261 270 271 270 452 430 298 270 441 380 399 320 83 60 66 40 142 110 0 20-340 0 0-20-249-210-289-270-444-430-377-380-306-320-295-320-244-280-159-174 0 14 45 50 43 60 537 650 274 320 425 480 284 330 238 270 197 210 0 20-226 0 0-20-215-260-1077-1350-292-380-223-301-8 1 16 20 2 10 260 380 492 690 420 600 255 380 113 160 32 50 0 20-168 0 0-20-368-590-351-540-318-480-357-562-8 2 37 70 765 1290 272 490 143 270 26 50 0 20-140 0 0-20-132-270-252-490-197-370-349-630-125-237-27-43-3-12-5 2 5 20 426 840 289 600 241 540 21 50 0 20-122 0 0-20-108-270-207-490-220-488-150-322-46-90-84-191-17-29-3-14-6 4 6 22 247 568 219 530 170 440 119 330 0 20-106 0 0-20-108-320-161-450-220-577-65-153-65-177-17-33-3-18-17-32-3-20-4 10 14 50 96 250 64 190 57 150 186 540 172 540 14 50 0 20-97 0-2-30-170-580-170-538-75-212-15-59-37-101-13-50-7-10-13-50 0 30 7 10 3 23 15 37 15 62 47 138 53 193 56 177 99 340 151 550 12 50 0 20-89 0 0-20-149-591-47-159-53-219-40-137-8-14-32-138-6-12-14-61-6-9-4-27-4 7 4 33 7 17 13 61 6 9 4 30 7 10 3 28 16 42 64 285 36 125 34 162 46 178 24 120 44 180 16 80 0 20-82 0 0-20-35-150-33-174-37-146-33-174-60-254-4 8 4 42 10 57 50 251 27 110 23 146 36 164 20 140-82 0-14-102-26-108-34-231-30-153-6-6-4-37 0 53 10 82 40 251 18 71 19 180-86 0-11-98-20-116-5 4-2 30 14 180-103 0-14-183-30-246 0 171 15 258-225 0 0-2730zM345 125l10 6 4-6-4-4zM377 145l8 6 4-6-4-4zM201 155l4 5 3-5-3-3zM392 155l33 26 4-6-24-26-10 4zM221 175l4 3 3-3-3-3zM433 185l22 16 4-6-14-16-10 5zM462 205l33 27 4-7-24-26-10 4zM500 235l75 58 4-8-34-35-10 2-20-23-10 3zM302 495l3 11 4-1-4-13zM332 765l3 14 4-4-4-18zM341 785l4 16 4-6-4-14zM332 895l3 22 10-2-10-22zM342 1295l3 32 5-2-5-33zM313 1435l2 36 3-6-3-35zM320 1475l5 46 7 14 23 128 18 62 2 27 8 13 2 31 5-1-15-95-50-227zM281 1615l4 53 6 17 14 106 40 228 8 16 2 31 0-50-10-68-50-287-7-16-3-37zM242 1835l3 80 50 411 10 60 9 9 1 11-10-148-60-429zM1015 636l19 19-19 4-4-4 2-10zM1035 656l69 59-19 4-52-54zM1105 716l66 59-16 4-52-54zM1185 786l56 49-16 4-42-44zM1255 846l19 19-9 2-12-12zM1275 866l35 29-15 4-22-24zM1345 926l24 19-14 3-12-13zM1405 976l24 19-14 3-12-13zM1445 1007l32 28-12 3-22-23zM1525 1072l12 13-12 3-1-13zM1665 1183l11 12-11 3 0-13zM1855 1326l12 9-12 3-3-3z"/><path fill="#00b2ff" d="M-5 -15l47 0 0 20 3 2 3-22 101 0 0 20 106 36 70 38 197 136 64 50 137 120-18 4-50-52-10 3-40-42-10 3-50-53-10 2-20-22-10 3-30-33-10 4-20-24-10 4-30-34-10 4-10-13-11 6 99 70 126 100 625 550 396 330 275 210 160 113 240 159 180 110 290 163 337 165 231 100 290 110 191 60 101 25 90 29 190 46 120 22 50 4 0 204-48 0 0-20-405-40-97-21-368-99-62-13-96-47-99-40-236-110-201-110-166-100-252-169-120-85-30-26-70-43-293-227-71-50-402-320-434-380-289-270-174-170-174-160-23-14 18 24 619 640 271 270 399 380 294 270 435 380 390 320 284 210 0 20-281 0 0-20-311-260-239-220-284-270-545-540-307-320-296-320-447-502-7 2 6 10 570 700 365 430 421 480 281 330 289 330 139 150 0 20-192 0 0-20-217-260-1086-1350-293-380-256-344-5 4 5 11 39 59 259 380 532 750 375 540 363 540 32 50 0 20-146 0 0-20-373-590-704-1070-357-562-9 2 67 120 417 700 373 640 242 440 142 270 26 50 0 20-127 0 0-20-158-320-254-490-729-1336 0 16 20 42 453 898 208 430 202 440 139 320 0 20-113 0 0-20-109-270-207-490-222-490-341-732-8 2 8 20 285 660 219 530 172 450 115 320 0 20-98 0 0-20-92-270-179-500-202-530-230-583-6 3 16 53 255 697 181 530 157 490 33 110 0 20-91 0 0-20-13-50-160-540-171-540-56-160-125-388-15-32-5-27-4 7 4 26 127 404 208 710 147 540 13 50 0 20-83 0 0-20-152-599-190-704-55-187-5-31-16-39-4-31-4 1 4 37 15 43 5 33 86 327 111 450 138 590 23 110 0 20-77 0-11-70-96-430-44-220-46-190-64-301-27-99-3-30-6-10-4-33-5-7-5-37-4 7 4 40 6 10 4 39 6 11 4 38 87 402 33 184 46 216 69 350 19 130-78 0-5-50-35-180-26-169-47-241-83-480-17-70-3-36-7-14-3-39-3 9 3 50 5 10 25 177 76 443 24 170 46 270 19 150-82 0-3-45-37-235-73-559-30-203-7-18-3-51 0 77 6 24 14 148 60 494 26 178 17 170 0 20-95 0-28-315-47-435-23-282-6-28-4-83-3 13 3 110 6 30 4 100 27 320 34 570-221 0 0-2730zM167 35l8 4 4-4-4-5zM234 65l11 5 3-5-3-4-10 3zM256 75l9 4 3-4-3-4zM276 85l9 5 3-5-3-4zM295 95l10 5 4-5-4-4zM313 105l22 16 4-6-14-15-10 4zM341 125l24 15 3-5-13-16-10 4zM200 155l15 14 3-4-13-14zM219 175l6 5 5-5-5-4zM229 305l6 13 5-3-5-10zM242 325l13 22 8-2-18-25zM263 355l2 5 4-5-4-8zM271 445l4 12 7-2-7-12zM274 535l1 11 4-1-4-17zM293 675l2 12 4-2-4-16zM302 695l3 18 3-8-3-15zM293 795l2 17 4-7-4-20zM292 935l3 22 5-2-5-25zM273 1255l2 31 4-1-4-38zM725 387l66 58-16 4-52-54zM815 465l44 40-14 3-32-33zM885 526l19 19-9 2-12-12zM905 546l35 29-15 4-22-24zM945 579l14 16-14 4-3-4 1-10zM1015 642l11 13-11 3-1-13zM1065 687l18 18-8 2-12-12z"/><path fill="#00c9ff" d="M-5 -15l46 0 0 20 4 2 3-22 94 0 0 20 113 40 100 56 78 54 91 70-19 4-30-32-10 3-20-23-10 3-30-33-10 3-10-12-15 7 164 120 132 110 494 440 376 320 217 170 288 210 239 160 178 110 279 160 213 110 233 110 266 110 131 50 177 60 149 40 69 24 190 51 140 29 60 7 0 103-190-17-240-29-211-48-263-70-76-15-332-135-112-50-213-110-191-110-247-160-234-160-161-126-50-33-8-11-102-76-40-36-60-43-150-126-117-89-443-380-240-220-295-280-110-100-35-26-3 6 598 620 319 320 279 270 354 330 232 210 306 270 260 220 326 260 0 20-190 0 0-20-132-100-197-160-301-270-453-430-488-490-450-480-394-440-5-10-71-74-6 4 23 30 527 650 406 480 416 480 506 600 184 210 0 20-141 0 0-20-316-370-880-1080-421-540-308-413-5 3 4 10 20 30 328 480 529 750 371 540 357 540 31 50 0 20-118 0 0-20-380-590-707-1070-284-440-65-110-37-50-4-13-9 3 38 70 632 1070 213 370 266 490 141 270 0 20-113 0 0-20-25-50-166-330-225-430-555-1010-197-368-1 18 11 23 455 907 233 480 223 490 116 270 0 20-104 0 0-20-20-50-271-650-221-490-376-800-25-63-7 3 26 70 293 680 223 540 168 440 115 320 0 20-92 0 0-20-92-270-194-540-450-1153-5 3 5 24 16 36 4 20 155 420 229 650 161 490 98 320 0 20-85 0 0-20-78-270-149-490-280-860-77-220-4-21-4 1 4 30 16 40 4 25 144 465 208 710 142 520 18 70 0 20-78 0 0-20-12-50-141-550-301-1104-5 4 5 33 15 47 15 72 25 88 189 760 149 640 13 60 0 20-73 0-11-70-140-650-169-730-3-29-6-11-14-74-6-6-4-38-3 8 3 37 7 13 3 35 6 15 4 34 6 16 118 570 159 810 9 70-74 0-8-70-69-390-151-829-17-71-3-37-6-13-4-41-8 1 8 59 5 11 5 49 5 11 35 236 75 444 97 620 0 20-77 0-105-781-66-439-4-53-6-17-4-54-6-16-4-57-3 7 3 71 6 19 4 60 16 110 134 1130 0 20-89 0-121-1287-5-23-5-83-6-17-4-88 0 113 4 15 6 126 56 734 32 510-218 0 0-2730zM165 35l10 5 5-5-5-6zM208 55l7 4 3-4-3-3zM231 65l14 6 5-6-5-6-10 4zM253 75l12 6 4-6-4-5-10 4zM273 85l12 6 4-6-4-5-10 4zM292 95l13 7 5-7-5-6-10 4zM310 105l55 37 5-7-15-17-10 3-20-22-10 3zM188 145l37 36 10 7 6-3-46-43zM179 185l36 44 5-4-4-10-31-31zM221 235l4 6 4-6-4-5zM201 265l4 12 5-2-5-12zM212 285l3 5 3-5-3-5zM212 345l2 10 5 0-4-12zM231 375l4 15 3-5-3-12zM240 395l5 12 9-2-9-13zM252 415l3 9 3-9-3-9zM233 455l1 10 4 0-3-13zM243 475l2 11 9-1-9-16zM252 495l3 12 6-2-6-20zM253 585l2 13 3-3-3-19zM262 605l3 15 3-5-3-14zM271 625l4 18 4-8-4-13zM253 685l2 20 3 0-3-24zM262 715l3 15 4-5-4-17zM252 955l3 35 4-5-4-31zM212 1215l3 50 4-10-4-45zM525 226l27 19-17 4-12-14zM555 247l57 48-17 4-42-44zM625 305l33 30-13 3-23-23zM695 365l20 20-10 2-12-12z"/><path fill="#00e0ff" d="M-5 -15l45 0 0 20 5 3 4-3 0-20 85 0 0 20 112 40 107 60 11 10-19 5-20-23-10 3-10-12-10 3-10-13-10 4-10-14-10 4-10-14-17 7 79 40 75 50 147 110 257 220 551 490 329 270 363 270 237 160 176 110 387 220 326 161 380 160 170 63 263 86 101 40 33 20-9 10-58 2-90-6-70-11-200-45-310-89-188-71-259-110-314-160-187-110-251-160-160-110-220-160-270-210-261-215-70-66-248-209-244-220-233-220-265-234-9 4 125 120 477 500 366 370 277 270 349 330 457 420 162 160 18 30-12 5-20-2-40-13-89-60-258-220-344-320-336-330-312-320-353-380-346-390-132-142-7 2 7 10 93 110 550 680 771 910 181 220 166 210 39 60 3 20-13 15-10 1-37-26-156-170-229-270-445-540-257-320-296-380-320-427-4 7 24 39 184 271 787 1130 289 430 200 320 98 170 14 40-11 10 0 20-11 0 0-20-40-42-150-207-872-1311-280-430-208-333-7 3 36 70 308 530 315 530 247 430 321 600 81 160 0 20-95 0 0-20-303-590-291-540-536-970-66-129-3 9 11 30 475 950 257 534 170 376 120 280 21 50 0 20-93 0 0-20-44-110-249-590-222-490-427-910-16-42-6 2 6 20 371 870 201 490 168 440 114 320 0 20-85 0 0-20-92-270-195-540-472-1208-4 8 3 20 194 530 228 650 161 490 98 320 0 20-78 0 0-20-79-270-150-490-383-1164-4 4 3 20 6 10 5 30 6 10 3 20 163 530 191 650 161 590 15 60 0 20-73 0 0-20-12-50-141-550-333-1216-4 6 4 30 16 50 4 30 6 10 4 30 242 960 151 650 11 50 0 20-69 0-11-70-141-650-183-808-16-52-14-78-6-12-4-32-8 2 8 47 6 13 4 35 6 15 227 1120 78 400 9 70-69 0 0-20-78-440-203-1107-6-13-4-42-6 2 6 58 6 12 4 48 25 132 215 1350 0 20-73 0-97-720-100-709-6-21-4-49-6-21-4-49-5 9 5 71 178 1469 0 20-85 0-143-1520-6-30-4-75-4 15 4 115 106 1495-216 0 0-2730zM163 35l12 6 6-6-6-7-10 5zM206 55l9 5 4-5-4-5zM131 95l4 3 4-3-4-4zM174 135l11 8 1-8-11-4zM163 215l2 5 3-5-3-5zM171 225l4 11 7-1-7-12zM183 245l2 3 5-3-5-9zM192 255l3 6 4-6-4-5zM199 265l6 14 7-4-7-13zM193 315l2 10 9 0-9-16zM203 335l2 4 4-4-4-10zM211 345l4 12 9-2-9-13zM222 365l3 8 4-8-4-9zM203 395l2 12 3-2-3-13zM212 415l3 12 5-2-5-14zM222 435l3 13 5-3-5-17zM231 455l4 12 8-2-8-16zM222 515l3 12 4-2-4-15zM232 535l3 18 3-8-3-15zM233 625l2 26 4-6-4-20zM240 655l5 23 7-3-7-23zM232 745l3 24 4-4-4-26zM222 845l3 32 4-2-4-33zM212 975l3 39 4-9-4-35zM182 1045l3 48 4-8-4-46zM143 1075l2 71 6-1-6-73zM365 115l46 30-16 4-10-12-10 4-13-16zM415 147l36 28-16 4-22-24zM455 178l24 17-14 3-11-13zM495 206l22 19-12 3-12-13z"/><path fill="#00f6ff" d="M-5 -15l45 0 0 20 5 3 4-3 0-20 78 0 0 20 78 26 48 24-27 10 77 40 75 50 145 110 256 220 549 490 191 160 346 270 313 220 248 160 380 220 319 164 427 196 19 10 22 20-28 4-88-14-137-40-191-70-254-110-221-110-197-110-262-160-169-110-379-270-345-270-373-320-607-550-147-126-20-11-2 7 136 130 572 600 378 380 494 480 105 110 21 30-4 7-10-1-40-14-95-72-176-160-228-220-420-430-250-270-438-490-53-53-7 3 174 210 441 550 666 800 126 160 30 49 1 11-11 10-10-2-60-58-101-110-320-380-433-540-486-644-6 4 4 10 18 20 301 450 703 1015 179 275 61 104 26 56 8 40-4 12-30-32-120-167-510-754-322-489-288-459-1 19 27 40 349 610 285 480 270 474 260 492 130 272 1 22-62 0 0-20-4-10-279-530-232-430-447-800-277-516-4 6 12 30 503 1010 258 540 191 428 110 262 4 30-80 0 0-20-20-50-276-650-195-430-428-910-65-148-2 18 8 10 4 20 384 900 196 480 180 477 100 283 0 20-77 0 0-20-110-320-178-490-505-1286-4 6 1 10 13 40 233 640 206 590 160 490 98 320 0 20-72 0 0-20-79-270-183-590-373-1128-4 8 3 20 6 10 5 27 202 663 179 610 160 590 16 60 0 20-69 0 0-20-12-50-154-600-191-700-106-370-13-60-18-50-14-64-5 4 4 30 5 10 5 30 176 690 117 480 139 600 11 50 0 20-65 0-11-70-143-660-233-1020-15-50-5-35-4 5 4 40 6 10 4 38 14 52 170 830 149 760 15 100-65 0 0-20-81-450-232-1265-5 5 4 50 7 20 3 40 36 200 223 1400 0 20-68 0-98-720-132-930-5-10-5-60-4 10 4 66 196 1624 0 20-81 0-155-1643-6-27-4-80-4 20 4 117 113 1613-213 0 0-2730zM161 35l14 7 6-7-6-8-10 5zM187 45l8 6 4-6-4-5zM203 55l12 6 6-6-6-6-10 5zM130 95l5 4 5-4-5-4zM142 105l3 3 5-3-5-4zM142 145l3 3 4-3-4-3zM152 155l3 8 4-8-4-4zM133 175l2 3 3-3-3-3zM152 195l1 10 7 0-5-11zM162 215l3 7 4-7-4-7zM163 265l2 8 3-8-3-6zM173 285l2 4 4-4-4-9zM181 295l4 12 7-2-7-13zM182 355l3 12 3-2-3-13zM192 375l3 14 4-4-4-15zM201 395l4 13 5-3-5-14zM192 445l3 13 3-3-3-13zM202 465l3 15 3-5-3-13zM211 485l4 22 6-2-6-22zM202 555l3 14 4-4-4-18zM211 575l4 24 5-4-5-23zM202 645l3 28 3-8-3-22zM213 675l2 32 6-2-6-30zM192 735l3 28 3-8-3-25zM202 775l3 25 4-5-4-28zM184 835l1 42 3-2-3-41zM165 925l0 54 4-4zM255 56l19 9-19 5-3-5zM275 66l18 9-18 5-3-5zM295 76l17 9-17 4-3-4zM315 87l14 8-14 4-3-4zM335 98l22 17-12 3-12-13zM375 126l14 9-14 4-3-4z"/><path fill="#0efff1" d="M-5 -15l44 0 0 20 6 4 5-4 0-20 70 0 0 20 61 20-23 10 140 70 156 110 250 210 490 440 255 220 274 220 283 210 232 160 177 114 260 158 374 208 60 40 9 10-13 2-47-12-88-30-114-50-222-110-196-110-181-110-171-110-234-160-290-210-341-270-262-220-613-550-151-127-30-20-4 7 147 140 521 550 523 530 104 110 40 50-1 8-20-4-66-44-121-110-223-220-351-370-404-450-155-165-4 5 4 10 46 50 520 650 395 480 86 110 55 80 3 10-5 7-10-1-40-34-100-111-135-161-345-430-460-608-4 8 11 20 428 630 475 690 130 208 17 52 1 10-8 3-40-45-70-97-410-601-281-430-229-364-5 4 13 30 27 40 191 340 504 860 179 320 161 311 40 94 15 65-1 10-4 2-60-92-335-610-416-740-268-500-26-40-5-16-3 16 583 1176 200 423 239 551 61 150 3 30-61 0 0-20-67-160-260-600-221-480-378-800-86-194-4 4 1 10 11 30 16 30 5 20 88 210 295 690 218 539 200 541 54 160 0 20-67 0 0-20-93-270-178-490-142-370-387-970-4-20-8-10-15-47-3 7 3 20 15 30 3 20 253 700 189 540 190 585 80 263 3 32-65 0 0-20-95-320-168-540-384-1160-7-10-4-24-5 4 2 20 11 40 16 40 228 760 171 590 148 550 13 50 0 20-63 0 0-20-15-60-152-590-364-1318-4 8 3 30 7 10 276 1110 177 760 11 50 0 20-61 0 0-20-13-60-153-700-222-970-27-100-4-33-5 3 4 40 5 10 248 1220 110 570 4 40-61 0 0-20-81-450-254-1378-4 8 4 48 5 12 3 40 55 320 223 1400 0 20-64 0-99-720-142-1000-6-20-5-59-4 9 4 70 204 1700 0 20-76 0-168-1761-6-29-4-78-4 18 4 110 120 1740-167 0-13-334-10-134-20 0 0-2262zM129 25l6 3 4-3-4-6zM129 95l6 5 6-5-6-5zM142 105l13 14 7-4-17-15zM122 125l3 3 4-3-4-3zM132 135l3 4 4-4-4-4zM141 145l4 4 5-4-5-4zM123 155l2 12 3-2-3-12zM132 175l3 4 4-4-4-4zM141 185l4 7 3-7-3-3zM149 195l6 13 8-3-8-12zM142 235l3 3 3-3-3-6zM162 265l13 25 5-5-15-27zM162 315l3 14 3-4-3-14zM172 335l3 13 4-3-4-13zM181 355l4 13 5-3-5-14zM174 395l1 16 3-6-3-11zM182 425l3 13 4-3-4-20zM191 445l4 15 4-5-4-15zM182 495l3 20 3-10-3-13zM182 585l3 24 3-4-3-24zM192 615l3 25 4-5-4-23zM175 655l0 31 3-11zM182 695l3 31 4-1-4-35zM163 745l2 39 3-9-3-32zM172 795l3 37 4-7-4-38zM143 815l2 48 3-8-3-44zM112 855l3 59 4-9-4-60zM185 26l61 29-21 8-10-15-10 4-10-14-10 6-3-9z"/><path fill="#25ffda" d="M-5 -15l43 0 0 20 7 4 5-4 0-20 63 0 0 20 61 20-18 10 120 60 91 60 142 110 130 110 671 600 326 270 207 160 234 170 238 163 305 197 49 40-17 0-74-30-96-50-190-110-325-210-378-270-223-170-331-270-683-600-217-176-20-6 10 4 3 8 129 120 155 160 308 330 355 370 101 110 12 20-3 8-10-1-30-17-119-110-108-110-256-270-442-490-75-75-4 5 13 20 46 50 129 160 518 650 118 150 41 60-1 20-20-10-139-160-342-430-346-460-12 0 779 1150 69 110 20 40 6 30-5 3-90-114-300-439-241-370-219-349-4 9 3 10 711 1230 120 217 80 156 20 49 7 38-7 5-110-180-400-705-210-380-190-356-5 6 11 30 554 1120 179 380 120 270 91 224 30 92 5 44-5 11-20-34-296-657-505-1070-149-326-5 6 2 10 7 10 13 40 403 950 190 471 180 485 97 284 0 20-53 0 0-20-38-110-241-660-555-1409-4 9 3 20 341 950 170 497 170 537 50 166 0 20-59 0 0-20-47-160-200-650-408-1220-3-20-18-40-5-26-4 6 1 20 8 10 22 90 196 640 187 641 150 549 41 160 0 20-57 0 0-20-181-700-363-1307-5 7 4 30 6 10 4 30 25 90 256 1030 150 642 37 168 0 20-56 0-4-40-124-570-261-1140-26-100-16-80-5-10-5-35-4 5 1 30 8 20 3 30 7 20 3 30 194 940 172 880 0 20-57 0 0-20-83-460-244-1320-14-60-6-49-4 9 3 50 5 10 290 1820 0 20-60 0-264-1874-4 4 4 77 212 1773 0 20-72 0-179-1870-7-30-4-83-3 23 3 90 128 1870-152 0-26-719-10-163-20 0 0-1848zM126 25l9 4 5-4-5-7zM112 115l3 3 4-3-4-6zM121 125l4 4 4-4-4-4zM131 135l4 4 5-4-5-5zM112 145l3 4 3-4-3-3zM122 155l3 13 4-3-4-13zM131 175l4 5 4-5-4-5zM140 185l5 9 4-9-4-4zM132 215l3 7 4-7-4-5zM142 235l3 4 4-4-4-8zM151 245l4 12 7-2-7-14zM144 275l1 13 3-3-3-11zM152 295l3 13 4-3-4-13zM161 315l4 15 4-5-4-15zM142 335l3 6 3-6-3-7zM171 335l4 14 5-4-5-14zM152 355l3 10 3-10-3-6zM162 375l3 15 4-5-4-15zM172 395l3 17 4-7-4-12zM153 415l2 18 3-8-3-13zM181 415l4 24 5-4-5-21zM162 445l3 15 3-5-3-15zM173 465l2 23 4-3-4-22zM181 495l3 20 8 0-7-25zM162 525l3 21 3-11-3-17zM172 555l3 22 4-2-4-25zM162 625l3 23 3-13-3-19zM172 655l3 33 5-3-5-33zM152 705l3 33 4-13-4-29zM133 755l2 49 4-9-4-43zM103 775l2 64 4-14-4-54zM185 29l15 6-15 6-2-6zM205 37l19 8-19 5-3-5zM225 46l13 9-13 5-2-5z"/><path fill="#3cffc3" d="M-5 -15l42 0 0 20 8 5 6-5 0-20 55 0 0 20 32 10-14 10 11 6 10-14 22 8-15 10 135 70 152 110 191 160 545 490 315 270 340 270 353 260 61 50-12 0-80-40-249-160-225-160-292-220-391-320-576-500-204-166-80-61-20-8 0 7 10 2 130 126 258 270 343 370 79 90 10 20-10-2-30-18-133-130-208-220-296-330-143-145-4 5 207 250 377 480 81 110 14 30-5 2-10-5-20-18-90-106-130-163-379-500-31-36-4 6 574 850 100 155 30 53 7 22 0 10-7 0-10-10-190-270-250-381-230-364-5 5 13 30 642 1118 90 171 10 31 0 26-70-106-220-381-260-469-190-356-4 6 0 10 28 50 103 220 473 960 150 329 50 131 5 40-5 5-60-115-461-970-269-583-5 3 1 10 11 30 7 10 152 370 204 478 220 540 120 319 110 322 20 75 8 66-8 1-30-73-265-708-448-1120-97-253-4 3 2 20 17 40 3 20 302 841 170 493 170 534 80 269 3 33-46 0 0-20-81-270-170-540-446-1336-4 6 2 20 7 10 2 20 224 740 189 648 170 633 17 69 0 20-50 0 0-20-12-50-170-650-359-1280-3-20-18-50-5-31-4 11 2 20 6 10 24 110 202 800 130 537 130 571 4 42-50 0 0-20-129-590-274-1190-35-140-4-30-6-10-6-42-4 12 2 30 6 10 5 40 222 1080 149 767 12 83-53 0-4-40-103-570-241-1300-6-10-5-46-4 6 1 40 135 820 170 1080 0 20-56 0-254-1800-17-90-5-58-4 8 3 60 5 20 216 1840 0 20-67 0-193-1991-4 1-1 10 4 110 126 1870-139 0-46-1223-20 0 0-1507zM102 75l3 3 7-3-7-5zM82 105l3 4 3-4-3-3zM111 115l4 4 5-4-5-7zM102 135l3 4 4-4-4-4zM111 145l4 5 4-5-4-4zM121 155l4 14 5-4-5-13zM112 185l3 4 4-4-4-5zM122 195l3 10 3-10-3-3zM113 215l2 13 3-3-3-12zM131 215l4 9 4-9-4-7zM141 235l4 5 5-5-5-10zM142 275l3 14 4-4-4-13zM122 285l3 9 3-9-3-4zM151 295l4 14 5-4-5-14zM142 335l3 7 4-7-4-8zM132 365l3 10 3-10-3-6zM161 375l4 16 5-6-5-16zM142 395l3 10 4-10-4-9zM152 415l3 20 4-10-4-15zM133 425l2 22 3-12-3-12zM161 445l4 16 4-6-4-16zM145 455l-3 10 3 13 3-13zM154 485l1 27 4-7-4-21zM134 505l1 25 3-15-3-11zM161 525l4 22 4-2 0-10-4-19zM143 545l2 26 3-16-3-14zM152 585l3 26 4-6-4-28zM132 615l3 28 3-18-3-17zM53 625l2 98 3-8-3-97zM143 655l2 36 4-6-4-34zM94 695l1 67 3-17-3-52zM124 695l1 52 4-12-4-41zM185 32l8 3-8 3-1-3zM205 40l12 5-12 3-2-3z"/><path fill="#52ffad" d="M-5 -15l42 0 0 20 8 5 6-5 0-20 48 0 0 20-12 10 8 4 10-12 26 8-10 10 14 7 10-12 15 5-11 10 132 70 150 110 190 160 671 600 187 160 322 260 70 60 7 10-8 0-67-40-104-70-360-270-327-270-508-440-199-160-170-128-20-10 0 11 10 4 129 123 201 210 201 220 73 90-4 10-50-40-5-10-147-150-254-280-164-165-3 5 96 110 128 160 249 320 65 100-5 3-10-7-70-81-130-164-257-341-37-40-2-10-4-4-5 4 1 10 106 150 398 600 60 100 5 20-5 5-50-64-4-11-106-149-390-609-4 8 31 60 27 40 2 10 424 741 90 163 40 86 0 21-90-140-190-333-310-573-5 5 1 10 9 10 0 10 28 50 103 220 344 698 100 212 60 144 6 36-6 2-60-113-290-600-280-606-4 17 8 10 12 40 404 959 130 325 100 272 20 74 0 34-40-84-630-1578-4 18 8 10 23 80 343 960 180 539 140 468 30 123 4 50-4 9-50-144-263-825-309-910-74-230-17-40-7-30-5 10 3 20 16 40 2 20 224 740 200 694 160 605 12 51 0 20-41 0 0-20-14-60-172-650-383-1370-7-10-5-30-4 10 1 20 7 10 33 150 253 1009 140 598 70 314 1 29-44 0 0-20-11-50-133-600-296-1270-4-30-8-20-3-30-7-10-5-37-4 7 1 30 8 20 2 30 8 20 195 963 189 977 0 20-48 0-8-70-99-540-247-1310-4-40-8-20-5-43-4 13 1 30 7 20 14 110 123 750 169 1080 0 20-52 0-276-1940-6-20-6-65-4 15 2 50 6 20 4 60 219 1860 0 20-62 0-194-1990-6-20-5-93-4 23 2 80 134 1980 0 20-127 0-55-1483-20 0 0-1247zM91 65l4 3 6-3-6-4zM101 75l4 4 9-4-9-6zM81 105l4 5 4-5-4-4zM82 135l3 3 3-3-3-3zM101 135l4 4 5-4-5-5zM110 145l5 6 5-6-5-5zM81 165l4 3 3-3-3-5zM102 165l3 6 4-6-4-4zM111 185l4 4 4-4-4-6zM121 195l3 10 4 0 1-10-4-4zM92 215l3 8 3-8-3-3zM112 215l3 14 4-4-4-13zM123 235l2 14 4-4-4-12zM64 245l12 0-1-3-10 2zM131 255l4 14 4-4-4-14zM112 265l3 6 4-6-4-8zM82 275l3 4 3-4-3-8zM141 275l4 15 5-5-5-14zM102 285l3 6 3-6-3-4zM121 285l4 11 4-11-4-4zM92 305l3 5 3-5-3-5zM114 305l1 16 3-6-3-11zM132 305l3 15 4-15-4-4zM122 335l3 14 3-4-3-13zM141 335l4 9 4-9-4-10zM151 355l4 12 5-2-5-18zM112 365l3 15 3-15-3-4zM131 365l4 12 4-12-4-8zM144 385l-3 10 4 11 4-11-4-11zM103 395l2 17 3-7-3-12zM123 395l2 17 4-7-4-13zM151 415l4 21 4-1 1-10-5-16zM132 425l3 23 4-13-4-13zM113 435l2 18 3-8-3-16zM143 455l2 24 4-14-4-11zM103 475l2 26 3-16-3-13zM122 475l3 19 4-19-4-10zM152 485l3 29 5-9-5-23zM133 505l2 27 4-17-4-12zM112 525l3 25 3-15-3-18zM142 545l3 27 4-7-4-26zM123 565l2 34 4-14-4-24zM104 585l1 43 3-23-3-22zM131 615l4 30 4-10-4-29zM83 625l2 58 3-28-3-35zM112 645l3 44 4-14-4-37z"/><path fill="#69ff96" d="M-5 -15l41 0 0 20 9 5 7-5 0-20 40 0 0 20-7 10 10 5 10-11 19 6-6 10 50 20 106 60 149 110 189 160 546 490 409 360-2 5-10-3-51-32-149-110-138-110-250-210-318-280-204-170-290-216-60-39-5 5 48 40 162 160 205 220 63 80-3 9-33-29-107-110-154-170-166-167-3 7 95 110 128 160 178 240 10 20-8 1-30-32-306-399-37-40-2-10-25-26-5 6 19 20 1 10 106 150 289 440 3 10 27 40 13 30 1 10-4 0-100-140-3-10-127-190-200-315-5 5 14 30 391 689 60 110 24 61-4 8-130-217-211-381-129-245-4 5 0 10 9 10 0 10 9 10 11 30 27 50 103 220 235 479 100 211 30 78 3 22-3 2-70-131-190-390-240-521-5 10 2 10 7 10 21 60 425 1019 60 159 19 72-9 5-10-22-110-260-241-593-159-407-5 7 3 20 14 30 24 80 244 681 150 435 70 215 60 208 5 41-5 10-451-1320-109-334-5 4 1 20 9 20 2 20 16 40 2 20 205 678 160 551 100 368 80 321 20 95 5 57-5 8-2-18-8-10-2-20-28-86-224-824-313-1110-7-10-1-20-10-20-5-28-4 8 0 20 7 10 3 30 8 20 32 140 135 530 169 698 140 623 16 79 0 20-36 0-3-40-152-680-325-1391-5 11 1 20 8 20 2 30 18 70 226 1121 150 787 5 52-40 0 0-20-99-540-260-1370-3-30-7-20-4-40-7-10-5-49-4 9 0 30 8 20 4 50 202 1249 107 701 0 20-47 0-6-70-284-1958-5 8 3 70 227 1930 0 20-57 0-208-2109-5 19 3 90 131 1980 0 20-116 0-63-1695-20 0 0-1035zM52 35l3 3 4-3-4-3zM34 55l1 3 6-3-6-1zM43 85l12 3 6-3-16-2zM71 95l4 4 4-4-4-4zM92 95l3 3 6-3-6-5zM81 105l4 6 5-6-5-4zM49 125l16 3 4-3-14-2zM81 135l4 4 4-4-4-4zM81 165l4 4 4-4-4-7zM101 165l4 7 4-7-4-5zM91 185l4 4 4-4-4-5zM110 185l5 5 5-5-5-7zM80 195l5 4 4-4-4-4zM104 195l-2 10 3 3 3-3-3-11zM56 205l22 0-3-3-10 1zM91 215l4 10 4-10-4-4zM112 215l-1 10 4 5 5-5-5-14zM104 235l1 13 3-3-3-11zM122 235l-1 10 4 4 5-4-5-13zM62 245l3 5 12-5-2-6-10 4zM41 255l4 6 16-6-16-1zM91 255l4 7 4-7-4-4zM33 265l2 10 5-10-5-4zM111 265l4 7 4-7-4-10zM81 275l4 5 4-5-4-10zM72 285l3 9 4-9-4-3zM101 285l4 8 4-8-4-5zM121 285l4 12 4-12-4-5zM64 295l-4 10 5 2 8-12-8-1zM91 305l4 7 4-7-4-6zM113 305l2 18 4-8-4-12zM131 305l4 16 4-6-4-15zM82 325l3 11 3-11-3-8zM143 325l-3 10 5 10 5-10-5-11zM102 335l3 13 4-13-4-4zM122 335l3 15 4-5-4-14zM72 345l3 12 3-12-3-5zM94 355l-3 10 4 7 4-7-4-11zM111 365l4 16 4-16-4-5zM130 365l5 13 5-13-5-9zM84 385l1 21 3-11-3-12zM142 385l-2 10 5 13 4-3 1-10-5-12zM103 395l2 19 4-9-4-13zM122 395l3 19 4-9-4-14zM72 425l3 23 3-13-3-17zM132 425l3 24 5-14-5-15zM92 435l3 19 4-9-4-19zM112 435l3 20 4-10-4-18zM142 455l3 26 5-6-5-23zM124 465l-3 10 4 21 4-21-4-11zM64 475l1 45 3-25-3-21zM83 475l2 34 3-14-3-23zM102 475l3 28 4-18-4-14zM44 505l1 95 3-45-3-55zM132 505l3 28 4-18-4-13zM111 525l4 27 4-17-4-20zM92 535l3 35 4-25-4-18zM73 555l2 50 4-30-4-28zM122 565l3 36 4-16-4-25zM103 585l2 45 4-25-4-24zM82 625l3 61 4-1 0-10-4-58zM145 22l8 3-8 10-1-10z"/><path fill="#80ff80" d="M-5 -15l40 0 0 20 10 6 8-6 0-20 32 0-3 30 13 6 10-10 12 4-3 10 49 20 92 53 161 117 312 270 477 430 104 100-4 7-10-5-61-42-136-110-507-440-195-160-241-168-60-38-6 6 48 40 161 160 137 150 11 20-1 8-10-7-269-281-71-66-4 6 55 60 4 10 46 50 4 10 76 90 129 178 4 12-4 1-100-121-3-10-27-30-105-140-37-40-2-10-36-37-4 7 27 30 1 10 39 50 2 10 105 150 170 267 17 33-7 2-10-11-50-71-2-10-268-409-5 9 9 10 41 80 27 40 2 10 266 472 30 57 14 41-4 1-3-11-17-18-3-12-57-90-2-10-88-152-200-372-5 14 10 10 1 10 56 110 24 60 234 479 90 201 3 20-3 3-2-13-8-6-20-34-1-10-19-30-110-226-240-520-5 6 1 10 10 10-1 10 19 40 20 60 266 635 90 225 20 60 3 20-3 11-1-11-9-9-70-161-5-20-25-51-110-269-190-484-5 14 9 20 3 20 7 10 31 100 265 744 90 268 40 137 0 35-1-14-9-8-12-42-18-38-4-22-146-409-250-745-4 4 0 20 8 10 12 60 15 40 289 978 90 325 50 206 0 46-1-15-9-10-2-20-8-13-40-135-410-1447-4 5-1 20 9 10 1 30 9 20 1 20 8 20 297 1209 80 351 70 335 10 65 0 42-1-12-9-8-2-22-8-17-5-33-15-47-175-763-238-1000-3-30-18-60-1-20-10-20-5-37-4 7 0 30 8 10 1 30 245 1199 130 688 30 166 1 27-32 0-3-40-386-2042-4 2-1 10 2 40 6 20 4 40 133 816 170 1105 3 49-38 0-288-1970-4-50-7-20-6-61-4 11 1 50 6 20 4 70 225 1930 0 20-51 0-205-2030-4-70-6-20-6-99-3 79 7 50 131 2070 0 20-103 0-72-1867-20 0 0-863zM51 35l4 4 5-4-5-4zM33 55l2 5 9-5-9-2zM46 55l9 4 3-4-3-3zM61 65l4 3 3-3-3-3zM72 75l3 3 4-3-4-3zM42 85l13 4 7-4-17-3zM82 85l3 4 5-4-5-4zM70 95l5 4 5-4-5-4zM80 105l5 7 5-7-5-5zM47 125l18 4 5-4-15-3zM80 135l5 5 5-5-5-5zM43 145l32 3 4-3-4-4-30 2zM92 145l3 9 4-9-4-3zM80 165l5 5 5-5-5-8zM100 165l5 8 5-8-5-6zM44 175l21 3 13-3-3-4-30 2zM90 185l5 4 5-4-5-6zM79 195l6 4 4-4-4-5zM103 195l-2 10 4 4 4-4-4-12zM37 205l28 4 13-4-3-5-30 3zM90 215l-1 10 6 1 5-11-5-5zM111 215l-1 10 5 5 5-5-5-14zM76 235l9 3 3-3-3-9zM103 235l-2 10 4 4 4-4-4-12zM61 245l-26 13-3 17 46-30-3-9-10 6zM91 255l4 8 5-8-5-5zM114 255l-4 10 5 8 5-8-5-11zM84 265l-3 10 4 6 4-16-4-1zM71 285l-13 20 7 3 11-13 4-10-5-4zM100 285l5 9 5-9-5-6zM120 285l5 13 5-13-5-6zM91 305l4 8 4-8-4-7zM112 305l-2 10 5 9 5-9-5-13zM52 315l-1 10 4 3 4-13-4-8zM81 325l4 12 4-12-4-9zM101 335l4 14 4-14-4-5zM121 335l4 16 5-6-5-15zM71 345l4 13 4-13-4-6zM93 355l-2 10 4 9 4-9-4-12zM135 355l-5 10 5 15 5-15zM63 365l2 24 4-14-4-13zM111 365l4 18 5-18-5-6zM83 385l2 22 4-12-4-13zM102 395l3 20 5-10-5-14zM121 395l4 20 5-10-5-15zM53 405l2 37 3-27-3-14zM72 425l3 25 4-15-4-19zM94 425l-3 20 4 11 4-11-4-21zM131 425l4 25 5-15-5-16zM111 435l4 21 5-11-5-19zM123 465l-2 20 4 12 5-22-5-12zM63 475l2 48 4-28-4-24zM83 475l2 36 4-16-4-24zM102 475l3 30 5-20-5-16zM114 515l-4 20 5 19 5-19-5-22zM95 525l-4 20 4 27 4-27zM75 545l-4 30 4 33 4-33-4-31zM102 585l-1 30 4 18 5-8 0-20-5-26z"/><path fill="#96ff69" d="M-5 -15l39 0 0 20 11 6 8-6 0-20 26 0 0 30 16 7 10-9 6 2-1 10 47 20 78 45 96 65 138 110 126 110 352 320 81 80-3 9-100-79-322-280-196-160-154-110-178-110-4 10 4 4 10-2 3 8 100 90 108 110 59 70 0 4-10-3-10-9-167-172-45-40-8-13-30-22-4 5 9 10-5 4-10-9-6 5 10 10-7 10 3 3 20-18 50 55 4 10 46 50 3 10 67 80 50 69 4 11-4 2-20-22-112-140-3-10-46-50-2-10-37-39-20 24-32 5 32 4 20-19 4 5-8 10 1 10-7 1-10 14-32 5 32 4 15-14 10-20 5-4 3 4 187 279 3 11 37 54 26 46-6 5-30-43-4-12-36-47-114-183-56-80-31 50-29 24-20 6-5 20 5 3 12-13 38-26 20-29 5 5-10 30-45 60-6 20 6 5 3-5 2-10 50-70-1-10 6-4 5 4-1 10 10 10 10 30 18 30 1 10 157 322 119 258-9 4-50-94-24-60-76-150-6-20-144-307-6 7 2 10 17 30 41 110 196 470 80 210 0 24-1-14-9-7-2-13-8-8-110-262-190-482-6 12 2 10 8 10 12 50 7 10 31 100 18 40 208 598 50 152 13 60-3 11-3-21-7-5-2-15-8-9-3-21-7-8-12-42-18-39-4-21-86-239-190-568-5 7 0 20 9 10 1 20 7 10 13 60 6 10 219 740 90 323 17 87-7 4-60-193-14-61-16-42-141-488-84-310-7-10-4-30-7-10-13-60-9-10 1-20-6-14-6 14 3 20 8 10 0 20 9 20 1 20 8 20 1 20 9 20 177 719 100 421 60 279 0 56-3-25-7-6-2-24-8-15-13-65-7-13-3-27-127-515-162-685-3-30-18-60-4-30-7-10-1-30-5-8-7-2 2-30-5-13-5 13 0 20 10 20 0 30 9 20 1 20 215 1059 100 530 40 240 0 71-1-20-9-13-2-27-18-67-90-460-260-1371-5 8 1 40 8 20 2 40 6 20 178 1121 90 597 30 209 8 83-29 0-3-50-126-820-180-1233-5 3 1 60 7 30 117 1016 107 974 0 20-41 0-136-1305-90-920-5 35 2 70 63 931 71 1169 0 20-90 0-41-930-40-1077-20 0 0-723zM50 35l5 5 6-5-6-5zM32 55l3 7 10-6 10 4 4-5-4-4-20 1zM60 65l5 4 4-4-4-4zM71 75l4 4 5-4-5-4zM42 85l13 5 8-5-18-4zM45 125l20 5 6-5-6-5-10 1zM99 165l6 9 6-9-6-7zM15 175l0 11 13 9-3-10-10-11zM89 185l-14 14-20 4-20-4-1 6 21 6 20-2 25-24-5-8zM113 255l-3 10 5 10 6-10-6-12zM100 285l5 10 6-10-6-7zM90 305l-10 20-1 10 6 3 5-23 10-10-5-8zM111 305l-1 10 5 11 5-11-5-14zM42 335l3 25 4-25-4-5zM100 335l5 15 5-15-5-6zM120 335l0 10 5 7 6-7-6-16zM71 345l-1 10 5 4 5-14-5-7zM92 355l-2 10 5 10 5-10-5-13zM62 365l3 26 4-16-4-15zM110 365l5 19 5-19-5-7zM82 385l-2 10 5 13 5-13-5-15zM33 395l2 74 4-44-4-39zM101 395l4 22 5-12-5-15zM120 395l5 22 6-12-6-16zM52 405l3 40 4-30-4-16zM75 415l-5 20 5 17 5-17-5-21zM93 425l-3 20 5 13 5-13-5-22zM114 425l-4 20 5 13 5-13-5-21zM62 475l-1 30 4 21 5-31-5-26zM82 475l-2 20 5 18 5-18-5-26zM101 475l-1 20 5 12 5-22-5-17zM93 525l-3 30 5 19 5-29-5-22zM73 545l-3 30 5 37 5-7 0-30-5-34zM115 191l220 393 2 11 58 102 5 18-5 3-161-283-34-70-47-80-12-30-20-30-1-10-10-10-2-10zM1035 782l3 3-3 4-9-4z"/><path fill="#adff52" d="M-5 -15l38 0 0 20 12 7 9-7 0-20 18 0 0 20 4 10 19 8 10-3 1 5 46 20 102 60 146 110 116 100 93 90-4 6-11-6-179-142-150-108-200-114-10-12-5 6 5 6 20 19 10 0 50 45 10 15 31 25 70 70 23 30-4 4-30-24-4-10-56-50-5-10-46-40-5-10-64-55-20 1-4 4 4 9 10-7 10 4 25 24-12 10 11 10-4 6-10 9-20 6 20 4 17-15 10 0-3 10-14 14-33 6 33 5 10-9 5 4-15 24-30 2-3 4 33 5 20-23 8 18-8 1-20 22-20 4-10-1-30-29-1 3 1 15 20 17 20 8 20-5 20-19 6 4-2 10-26 30-39 20-11 30 2 48 5-48 18-20 37-25 20-29 4 14-30 50-25 30-13 30 1 20 3 7 6-27 10-20 50-70-1-10 5-3 4 3 0 10-10 20 3 10-13 10-1 10-15 20-14 40-8 10-1 20 5 7 5-27 9-10 36-79 5 19-10 10 2 20-13 10 1 10-9 10 1 20 5 0 3-20 10-10 5-18 4 18 11 10 0 20 7 10 3 20 8 10 2 20 7 10 31 100 18 40 3 20 16 35 74 225 36 93 2 17 18 42 2 18 28 77 3 23-3 10-2-20-8-8-1-12-9-13-2-17-8-12-13-48-7-8-30-84-3-18-17-39-3-21-7-9-24-81-58-160-23-80-7-10-2-20-8-10-3-20-8-10-1-20-10-10 0-20-6-7-6 17 10 20 0 20 9 10 1 20 18 50 2 20 6 10 150 508 3 22 57 189 25 111-5 6-1-16-9-12-4-28-6-6-13-54-7-10-6-30-14-37-3-23-7-12-54-198-16-42-75-278-15-40-5-30-18-50-2-20-8-10-1-20-6-15-6 15 2 20 8 10 0 20 8 20 2 20 8 20 14 70 184 740 60 279 0 28-1-17-9-7-2-23-8-15-2-25-8-15-33-145-27-96-200-849-4 5-2 30 10 20 1 30 8 20 3 30 164 804 70 367 30 186 0 31 0-8-10-10-2-30-8-16-3-34-7-13-4-37-6-13-4-37-36-161-183-949-2-30-8-20-1-30-9-20-2-40-8-10-2-40-5-14-5 14 0 30 9 20 1 40 8 20 2 40 165 1027 90 633 0 70-3-20-7-5-3-35-7-19-70-441-173-1160-2-40-8-30-2-40-8-20-2-50-5-18-5 18 0 40 8 30 2 50 8 40 127 1112 70 657 19 231-24 0-25-205-90-824-120-1202-5 21 1 90 74 1124 53 976 0 20-70 0-52-1040-41-1078-20 0 0-612zM41 85l14 5 10-5-10-5-10 0zM51 105l4 4 6-4-6-4zM109 365l6 21 6-21-6-8zM34 385l-3 50 4 40 4-50-4-43zM81 385l0 20 4 5 6-15-6-17zM100 395l5 23 6-13-6-16zM51 405l4 42 5-32-5-17zM73 415l-3 20 5 18 5-18-5-22zM92 425l-3 20 6 14 6-14-6-24zM112 425l-3 20 6 14 6-14-6-23zM61 475l-1 30 5 24 5-34-5-28zM81 475l0 30 4 10 6-20-6-28zM100 475l-1 20 6 14 6-24-6-19zM85 90l4 5-4 3-4-3zM95 101l128 154-8 4-30-33-3-11-79-90-11-20zM95 131l3 4-3 5-4-5zM105 142l11 13-1 19-10-17-7-2 3-10zM125 173l10 12-10 3-8-13zM105 176l3 9-3 6-4-6zM115 192l5 13-5 4-5-14zM135 185l4 10-4 6-3-6zM145 201l110 166 14 28-4 7-93-147-18-20-15-30zM125 210l5 15-5 4-4-14zM135 230l170 304 1 11 9 10 0 20-1-10-39-59-13-31-27-40-33-70-27-40-33-70-10-10-1-10zM125 252l60 124 24 59 46 90 62 140 18 30 13 40-3 5-120-245-5-20-78-160 0-10-11-10 1-10-15-10 4-10-2-10zM225 257l25 38-5 2-20-21-3-11zM125 300l220 542 13 43 7 9 5 21-5 6-2-16-18-29-5-21-15-27-70-170-45-123-16-30-4-20-16-30-24-70-8-10-11-40-13-10 2-20zM275 403l10 12-10 1-5-11zM615 411l5 4-5 3-5-3z"/><path fill="#c3ff3c" d="M-5 -15l36 0 0 20 14 7 9-7 0-20 11 0 0 20 8 10 74 30 101 60 68 50 103 90-4 5-10-4-131-91-81-50-100-50-38-27-6 7 12 10-16 6-10-1-4 5 4 10 10-7 10 4 24 23-4 3-20-9-10 0-5 6 5 5 20-3 13 18-13 14-22 6 22 6 20-16 3 10-13 14-30 2-4 4 4 4 30 2 10-9 4 3-14 23-30 2-4 5 4 4 30 2 20-22 3 6-1 10-22 22-30 3-30-30 0 24 40 22 20-5 20-19 5 3-2 10-26 30-40 20-10 30 2 50 8-50 18-20 25-15 20-21 5 6-2 10-45 60-12 30 0 20 4 9 17-49 17-20 26-43 5 3-1 20-27 40-14 40-8 10-1 20 6 9 5-9 1-20 9-10 25-57 4 7 0 20-10 10 0 10-9 10-2 20-8 10 0 20 5 6 5-6 1-20 24-56 190 553 5 23-5 5-2-15-8-9-53-161-7-9-3-21-17-38-3-22-18-40-2-20-8-10-13-50-7-10-2-20-8-10-3-20-8-10-1-20-9-10-1-20-13-10 3-20-7-9-7 9 3 20-12 10 1 20 5 4 4-4 6-27 6 27 7 10 1 20 7 10 14 60 7 10 1 20 48 150 2 20 27 79 23 91 7 13 4 27 16 42 24 98 6 9 1 21 9 19 1 31-2-20-9-9-2-21-8-9-13-61-17-39-2-21-28-82-4-28-16-40-13-60-17-46-14-64-16-42-4-28-7-10-13-60-8-10-3-30-9-10 1-20-7-14-6 14 1 20 9 10 1 30 7 10 1 20 19 60 13 70 5 10 34 150 6 12 65 278 5 9 34 161 6 10 2 30 8 18 2 32-2 11-3-31-7-6-2-24-8-11-3-29-7-11-3-29-7-12-13-68-7-12-3-28-7-14-3-26-7-16-34-154-37-140-12-70-9-20-3-30-6-10-4-30-6-10-3-30-9-20-2-30-9-10 0-30-6-10-6 10 0 20 10 20 0 30 9 20 1 30 8 20 3 30 75 360 110 576 4 54-4 6-1-26-9-17-3-33-7-14-43-226-7-20-100-520-5-40-7-20-2-30-8-20-3-40-6-10-3-40-10-20 0-30-6-16-6 16 0 30 9 20 1 40 8 20 2 40 106 651 80 550 0 70-3-31-7-7-4-43-6-13-3-37-7-23-3-37-17-87-170-1144-5 11-1 50 8 30 3 60 65 538 90 831 10 110 0 121-3-20-7-10-4-50-6-19-40-339-140-1366-6 4 1 110 65 999 40 799 0 203-10 29-10 11-10-23-19-178-31-480-31-650-29-797-20 0 0-523zM50 105l5 5 8-5-8-5zM31 135l4 3 4-3-4-3zM32 165l3 3 4-3-4-7zM33 385l-3 50 5 46 4-6 1-50-5-48zM51 405l-1 30 5 14 6-34-6-19zM72 415l-2 30 5 10 6-20-2-20-4-4zM91 425l-2 20 6 16 6-16-1-20-5-5zM60 475l0 40 5 17 4-7 2-30-6-30zM80 475l0 30 5 12 6-22-1-20-5-9zM65 49l5 6-5 4-4-4zM75 61l10 2 23 22-3 6-34-26zM115 92l4 3-4 5-6-5zM95 102l3 3-3 7-3-7zM125 101l14 14-4 7-10-7-4-10zM105 112l29 33-9 2-27-32zM145 122l17 13-7 4-17-14zM105 143l9 12-13 0 1-10zM165 138l10 7-10 3-3-3zM135 146l45 59-5 2-20-21-22-31zM175 145l15 20-5 5-13-15zM125 173l7 12-7 2-6-12zM195 171l5 4-5 3-4-3zM115 193l4 12-4 3-4-13zM145 203l11 12-1 19-14-29zM105 211l3 4-3 14-5-4 2-10zM125 211l4 14-4 3-3-13zM195 223l9 12-9 0-7-10zM115 233l3 2-3 15-4-15zM135 231l9 14-9 2-3-12zM165 233l8 12-8 2-9-12zM125 253l31 62 5 20-6 4-13-34-9-10-1-10-11-10 0-20zM145 246l21 39 3 10-4 6-22-46zM185 263l4 12-4 3-5-13zM115 278l4 17-4 4-6-4 3-10zM195 281l15 24-5 2-10-12-2-10zM125 301l8 24-13 0 1-20zM175 302l17 33-7 3-15-33zM215 311l6 14-6 0-1-10zM135 326l5 19-5 5-3-15zM165 339l90 191 3 15 7 10 0 19-14-39-26-45-3-15-47-90-14-40zM195 338l30 55 4 12-4 4-33-64zM145 350l104 265 16 30 4 20 16 31 2 19 8 9 4 21-4 1-1-11-9-9-12-41-18-30-3-20-7-7-13-43-17-30-3-20-17-30-3-20-17-31-24-69-7-10-4-20zM235 412l7 13-7 4-3-14zM245 429l4 16-4 1-3-11zM275 574l5 21-5 1-7-21z"/><path fill="#daff25" d="M-5 -15l35 0 0 20 15 8 10-8 0-20 3 0 0 20 12 10 72 30 84 50 79 60 7 10-14 0-96-60-105-50-42-27-7 7 12 10-5 3-20 1-10-8-4 4 14 22 10-8 23 16-3 6-20-2-10 12-10 1 0 6 10 1 10-8 20-1 12 15-12 13-23 7 23 7 20-15 3 8-13 13-30 2-5 5 5 5 37 5-7 12-30 2-5 6 5 5 20 2 10-1 10-9 8 3-18 21-30 3-30-31-3 7 3 22 40 21 20-6 20-20 4 3-2 10-26 30-40 20-10 30 0 40 4 16 8-56 18-20 24-14 20-20 2 14-45 60-12 30-1 20 6 11 18-51 17-20 23-40 6 0-4 20-24 40-22 50 0 20-9 20-1 30 6 17 6-17 0-30 10-20 1-20 9-10 24-55 2 25-9 10 0 10-9 10-10 30 0 20-10 20 0 20 6 13 6-13 0-30 10-10 1-20 8-10 2-20 11 0-5 10 1 20-11 10 1 20-9 10-1 30 13 10-2 40 8 10 0 30 9 20 1 30 8 20 2 30 27 115 23 135 7 15 23 135 7 18 3 32 7 19 13 91 7 16 2 34 8 22 3 48-3 5-2-35-8-9-2-31-8-16-3-34-7-14-3-36-7-13-3-37-7-13-3-37-7-14-3-36-7-15-3-35-7-17-24-143-6-13-3-37-8-20-2-30-8-20-3-40-8-20-1-30-9-20-3-40-9-10 0-40-6-11-6 11 0 30 10 20 0 40 8 20 1 40 8 20 2 40 57 338 34 242 6 19 22 181 8 28 4 72-4 11-3-41-7-12-2-38-8-21-3-39-7-24-13-106-27-151-14-119-36-218-4-52-7-20-3-50-7-20-4-50-7-20-3-50-9-20 0-50-6-12-6 12 0 40 9 30 2 60 7 30 2 50 7 30 4 60 5 20 30 262 70 654 6 124-6 22-60-495-72-697-3-60-8-40-1-60-10-40-1-70-5-21-5 21 0 60 8 50 1 90 36 525 40 750 2 225-2 37-10 17-10-11-10-70-20-264-31-609-29-756-20 0 0-454zM49 105l6 5 9-5-9-6zM13 115l22 4 4-4-4-4-20 1zM30 135l5 4 5-4-5-4zM22 145l3 3 3-3-3-4zM31 165l4 4 5-4-5-9zM65 50l4 5-4 3-3-3zM75 62l9 3-9 3-3-3zM85 66l12 9-2 7-12-7zM115 93l3 2-3 3-4-3zM125 102l10 9 0 8-13-14zM105 113l19 22-9 1-14-21zM85 143l3 2-3 6-3-6zM105 143l4 12-6 0 0-10zM135 150l3 5-3 3-1-3zM125 174l4 11-5 0-2-10zM145 204l6 11-6 1-2-11zM105 212l0 16-4-3 2-10zM135 232l5 13-6 0-1-10zM125 254l4 21-5 0-2-20zM115 280l3 15-3 3-5-3 3-10zM135 277l6 18-7 0-1-10zM125 302l5 23-5 1-3-21zM145 297l7 18-7 1-2-11zM175 303l3 12-3 3-2-13zM155 316l4 19-4 3-2-13zM135 329l4 16-4 4-2-14zM165 341l4 14-4 3-3-13zM125 355l7 30-10 0 1-20zM175 362l4 13-4 7-3-17zM155 374l4 21-4 5-9-25zM115 389l4 26-4 4-4-4 1-20zM165 402l2 13 9 10 3 20-4 6-14-46zM145 414l3 21 8 10 3 20-4 9-3-19-8-10-1-20-7-10zM105 421l4 4 0 30-4 8-4-8 0-30zM125 421l3 24 6 10-11 0-2-30zM205 424l4 21-4 1-4-21zM185 452l2 13 8 10 4 20-4 6-2-16-8-10-5-20zM115 462l4 33 7 10 13 70 7 10 3 30 6 10 3 30 7 12 23 108 7 15 2 25 8 17 4 33 16 48 4 32 6 10 14 80 6 9 6 41-6 4-1-24-9-16-2-24-8-16-12-64-8-16-14-74-6-9-35-161-6-10-3-30-6-10-3-30-7-10-3-30-9-20-2-30-8-10-5-40zM135 455l43 160 7 12 4 28 16 40 2 20 28 86 2 24 8 12 3 28 7 9 4 31-4 1-2-21-8-9-1-21-19-48-2-22-8-10-4-30-6-7-3-23-7-9-13-61-17-45-3-25-7-10-4-30-7-10-2-20-7-11-3-29zM165 472l4 23 7 10 41 130 8 12 6 28-6 4-12-44-8-13-2-17-8-10-2-20-8-10-3-20-26-70zM205 502l2 13 8 10 0 25-1-15-9-9-5-21zM225 553l4 22-4 0-4-20zM235 679l4 26-4 4-3-24zM245 712l3 23-3 1-3-21z"/><path fill="#f1ff0e" d="M-5 -15l33 0 0 20 7 5 10 3 10-6 20 12 63 26 80 50 21 20-14 0-20-15-100-45-50-28-7 8 10 10-3 3-20 0-10-8-6 5 16 23 10-7 22 14-2 4-20-1-10 12-14 5 14 5 10-8 20 1 0 7-10-2-8 7 8 6 10-4 3 8-27 10 4 5 20 2 20-12 2 5-12 12-20 2-10 0-10-9-14 15 4 4 10-9 10 11 30 1 5 3-5 11-30 2-10-14-5 11 15 16 30 1 10-9 6 2-17 20-29 4-30-33-5 9 2 20 43 24 20-7 20-19 3 2-1 10-28 30-39 20-10 30 0 40 5 21 10-61 18-20 12-5 30-28 2 13-47 60-11 30-1 20 7 14 19-54 31-44 7 4-23 40-21 50 0 20-9 20-1 30 7 19 5-9 2-40 10-20 2-20 18-30 13-34 0 24-17 30-10 30-1 20-7 10-2 30 7 15 7-15 1-30 9-10 1-20 8-10 3-20 6 0-4 30-8 10 0 20-9 10-1 30-10 20 0 30 9 20 1 40 8 20 3 50 6 12 3 48 7 20 4 50 6 11 13 109 7 18 23 182 7 18 2 42 8 26 3 54 7 23 0 48-1-31-9-14-3-46-7-13-3-47-7-15-14-115-6-14-3-46-17-85-13-115-8-30-2-40-8-20-2-50-8-20-3-50-8-20-1-50-7-15-7 15 0 40 9 30 1 60 8 30 2 50 7 30 3 60 7 25 4 65 6 25 14 155 6 24 24 256 6 31 10 142-10-6-2-47-8-25-3-55-17-117-34-353-6-22-3-68-7-30-4-80-7-30-3-60-8-40-2-70-9-30-2-80-5-14-6 24 0 60 7 50 3 100 26 375 30 578 0 177-10 21-10-21-10-93-20-308-40-951-20 0 0-398zM12 115l3 4 20 1 5-5-5-5-20 0zM85 72l10 2 0 5-11-4zM105 253l0 19-4-7 2-10zM125 422l3 33-3 1-3-31zM95 464l3 41 8 10 3 40 7 10 3 40 6 10 4 40 6 10 4 40 6 10 33 190 7 13 3 37 7 17 2 33 8 19 0 49-1-28-9-18-2-32-8-14-2-36-8-14-3-36-7-15-3-35-7-16-2-34-8-17-4-43-6-10-3-40-7-11-3-39-8-20-1-30-9-20-2-40-8-10-3-50zM115 463l3 32 7 10 7 40-7 3-3-33-8-10-2-40zM135 459l4 26-4 6-2-26zM145 492l2 23 7 10-9 0-4-30zM155 525l4 30-4 6-2-26zM135 548l12 67 8 14 2 26 8 16 4 34 6 8 4 32 6 8 3 32 7 10 5 40-5 3-3-33-7-8-13-72-7-8-3-32-7-10-2-30-8-14-2-26-8-15-4-35zM165 563l6 32-6 2-5-32zM175 599l4 26-4 4-3-24zM185 632l5 33-5 1-4-31z"/><path fill="#fff700" d="M-5 -15l32 0 0 20 8 6 20-1 77 35 46 30-3 4-10-2-120-52 2 10 10 10-22 2-10-8-7 6 17 25 10-8 21 13-21 2-10 12-10 1-5 5 15 6 10-8 18 2-17 10 9 7 10-3 2 6-22 4-10-11-20 1-4 6 4 5 20 1 5 4-20 20 5 5 10-9 4 4-10 20 16 17 30 1 14-8-4 10-13 10-27 3-24-23-6-12-6 22 6 17 10 0 30 19 20-8 22-18-1 10-28 30-33 13-6 7-11 40 7 56 10-63 20-23 10-3 32-27-1 10-18 20-2 10-27 30-11 30 0 30-8 10-2 30 47 807 1 193-1 18-10 8-10-68-20-307-30-718-20 0 0-353zM12 85l3 4 4-4-4-4zM45 131l20 2 10-5 1 7-31 3-3-3zM45 152l33 3-3 10-20 3-10-1-7-12zM95 273l4 2-4 14-5-4 4-10zM85 290l4 5-3 10-8 10-20 50-1 20-9 20 0 30 10 30 0 60 8 30 1 50 9 30 3 70 6 16 3 64 7 25 3 65 7 25 4 75 6 19 3 61 7 38 7 112-7 4-3-54-7-23-3-57-7-30-3-60-7-31-3-69-7-23-4-77-6-18-3-72-7-30-4-80-7-20-3-80-8-30-2-80 8-10 16-50 18-20zM95 323l5 2-4 20-9 10-10 30-1 20-8 10-3 43-6-3 4-50 10-20 2-20 18-30 1-10zM95 384l5 1-4 30-9 10-2 34-3-4 1-30 10-20 1-20zM75 462l3 3 0 50 8 10 2 50 7 13 13 117 7 13 2 47 8 17 2 43 8 22 3 48 7 19 8 71-8 2-2-42-8-19-14-121-6-10-3-50-7-16-3-54-7-12-2-48-8-20-3-60-8-10-2-60zM105 517l4 48-4 1-2-41zM115 568l5 47-5 3-2-43zM125 619l5 46-5 4-3-44zM135 670l5 45-5 5-4-45zM145 721l4 44-4 6-5-46z"/><path fill="#ffe000" d="M-5 -15l30 0 0 24-10 2 0 8 40-7 71 33 10 10-14 0-27-15-50-18-7 3 18 20-21 1-10-8-8 7 18 26 10-8 20 12-20 1-10 12-10 1-10-9-4 5 14 16 10 2 10-10 15 2-15 10 10 8 10-1 0 4-20 2-10-11-20 0-5 8 5 6 24 4-20 20 12 10-3 10 17 18 37 2-17 11-20 1-23-22-7-15-7 25 7 20 10-2 30 19 10-1 20-16 7 0-25 30-32 12-8 8-9 30 1 50 6 21 5-11 5-54 23-26 27-21 8 1-16 20-2 10-27 30-9 20-4 39-8 21 1 90 7 40 13 300 7 56 4 194-4 54-10-33-10-129-30-662-20 0 0-310zM45 153l32 2-6 10-16 2-10-1-5-11zM85 292l1 13-18 30-11 30-1 20-7 10 0 60-4 9-1-89 7-10 4-25 10-22 19-23zM95 324l0 21-9 10-1 13-6-3 16-40zM75 369l3 6-3 30-8 10-2 40-1-50 8-10 2-20zM55 463l2 62 8 30 2 60 8 24 2 66 8 27 3 73 7 22 3 88-3 12-2-62-8-23-2-67-8-24-2-66-8-26-2-74-8-22-2-78-7-20z"/><path fill="#ffc900" d="M-5 -15l28 0 0 20-11 10 23 16 10 1-2 13-8 0-10-8-9 8 11 10 0 10 8 8 10-9 10 11-10 0-10 12-10 1-10-9-5 6 15 17 16 3-26 1-6 9 6 8 23 2-20 20 11 10-1 10 17 19 20 5 2 6-23 0-21-20-8-18-8 18 3 30 5 5 10-5 20 16 10 3 25-9-15 20-30 10-9 10-9 30 1 50 8 40 1 120 8 53 0 195-10-81-20-417-20-2 0-177 21-1-21-3 0-77zM35 14l19 1-19 6-5-6zM45 94l12 1-12 6-1-6zM45 153l20 4 2 8-22 0-3-10zM75 255l10-2-38 52-9 20-3 32 0-63zM75 305l5 0-5 20-17 30-3 26-8 14-2 59 0-73 8-16 2-22 8-8z"/><path fill="#ffb300" d="M-5 -15l26 0 0 20-10 10 19 20-16 10 12 10 0 10 13 10-4 11-10 1-10-9-6 7 9 10-10 20 7 9 21 1-19 20-9 20-3 40-20 0 0-137 23-3-3-7-20 0 0-73zM25 153l2 12 32 30-14 0-10-9-10-11-9-20zM45 154l4 1-4 6-1-6zM25 209l27 16 6 10-23 6-12 14-6 20 0 70 8 53 0 93-10-78-6-168 1-20 7-10zM45 284l10-6 1 7-18 30-3 32 0-48 9-14z"/><path fill="#ff9c00" d="M-5 -15l23 0 0 20-8 10 10 10 3 10-10 10 12 10-1 10 11 19-10 2-10-9-7 8 9 10-10 20 8 10 20 0-10 5-16 25-4 23-20 0 0-108 20 0 5-5-5-10-20 0 0-70zM25 213l12 12 0 10-19 20-3 72-2-82 10-30z"/><path fill="#ff8500" d="M-5 -15l21 0 0 20-7 10 8 10-2 10-30-1 0-49zM-5 36l10 0 16 19 4 20-10 1-8 9 9 10-10 20 12 20-3 12-10 5-20 0 0-80 20 0 7-7-7-13-20 0 0-16z"/><path fill="#ff6e00" d="M-5 -15l18 0 0 20-5 10 6 10-9 7-20 0 0-47zM-5 38l10 0 4 7-4 5-20 0 0-12zM15 54l2 21-11 10 9 10-8 10-2 24-20 0 0-55 20 0 9-9 0-10z"/><path fill="#ff5800" d="M-5 -15l13 0-1 30 4 10-6 5-20 0 0-45zM-5 41l12 4-22 3 0-7zM-5 83l10 0 0 10-20 0 0-10z"/><path fill="#ff4100" d="M-5 8l10 0 0 19-20 0 0-19z"/></g><path fill="#fff" fill-rule="evenodd" d="M261.30 130.50H410.80V225.30H261.30zM263.80 133.00H408.30V222.80H263.80z"/><rect x="263.80" y="133.00" width="1.3" height="89.80" fill="url(#strip)"/><rect x="418.20" y="133.00" width="11.10" height="89.80" fill="url(#jetg)"/><g font-size="8.30" fill="#1c1c1c" stroke="#1c1c1c" stroke-width=".12"><text x="260.80" y="136.39" text-anchor="end">0</text><text x="260.80" y="160.08" text-anchor="end">1000</text><text x="260.80" y="183.78" text-anchor="end">2000</text><text x="260.80" y="207.47" text-anchor="end">3000</text><text x="263.80" y="234.10" text-anchor="middle">0</text><text x="292.70" y="234.10" text-anchor="middle">5</text><text x="321.60" y="234.10" text-anchor="middle">10</text><text x="350.50" y="234.10" text-anchor="middle">15</text><text x="379.40" y="234.10" text-anchor="middle">20</text><text x="408.30" y="234.10" text-anchor="middle">25</text><text x="432.20" y="136.39">-60</text><text x="432.20" y="158.84">-80</text><text x="432.20" y="181.29">-100</text><text x="432.20" y="203.74">-120</text><text x="432.20" y="226.19">-140</text></g><g font-size="8.70" fill="#1c1c1c" stroke="#1c1c1c" stroke-width=".12"><text x="336.05" y="245.20" text-anchor="middle">Range (km)</text><text transform="translate(238.60 177.90) rotate(-90)" text-anchor="middle">Depth (m)</text></g><text x="405.60" y="144.40" font-size="8" fill="#fff" text-anchor="end">(d)</text></svg></body></html>
